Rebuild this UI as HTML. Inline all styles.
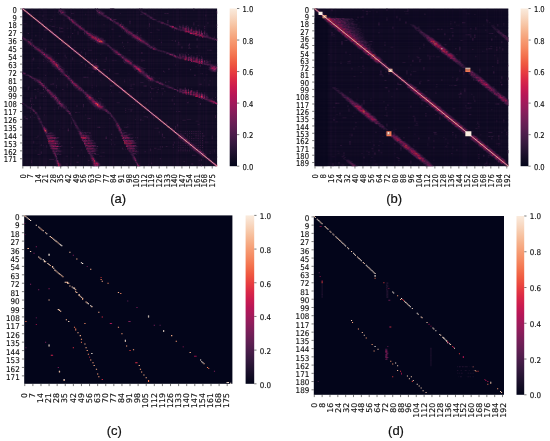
<!DOCTYPE html>
<html><head><meta charset="utf-8"><title>Attention heatmaps</title>
<style>html,body{margin:0;padding:0;background:#fff}svg{display:block}</style></head><body>
<svg width="550" height="441" viewBox="0 0 550 441">
<defs><linearGradient id="rk" x1="0" y1="0" x2="0" y2="1"><stop offset="0.000" stop-color="#faebdd"/><stop offset="0.050" stop-color="#f8d9c3"/><stop offset="0.100" stop-color="#f7c6a6"/><stop offset="0.150" stop-color="#f6b18b"/><stop offset="0.200" stop-color="#f69c73"/><stop offset="0.250" stop-color="#f58860"/><stop offset="0.300" stop-color="#f3714d"/><stop offset="0.350" stop-color="#ef5840"/><stop offset="0.400" stop-color="#e83f3f"/><stop offset="0.450" stop-color="#db2946"/><stop offset="0.500" stop-color="#cb1b4f"/><stop offset="0.550" stop-color="#b71657"/><stop offset="0.600" stop-color="#a11a5b"/><stop offset="0.650" stop-color="#8b1d5b"/><stop offset="0.700" stop-color="#751f58"/><stop offset="0.750" stop-color="#611f53"/><stop offset="0.800" stop-color="#4c1d4b"/><stop offset="0.850" stop-color="#381a40"/><stop offset="0.900" stop-color="#251433"/><stop offset="0.950" stop-color="#130d25"/><stop offset="1.000" stop-color="#03051a"/></linearGradient></defs>
<rect width="550" height="441" fill="#fff"/>
<g id="panel-a">
<rect x="22.30" y="8.50" width="194.80" height="157.70" fill="#130d25"/>
<path fill="#3a1b42" fill-opacity="0.13" d="M26.63 8.50h1.08v157.70h-1.08zM30.96 8.50h1.08v157.70h-1.08zM32.04 8.50h1.08v157.70h-1.08zM38.53 8.50h1.08v157.70h-1.08zM39.62 8.50h1.08v157.70h-1.08zM42.86 8.50h1.08v157.70h-1.08zM43.94 8.50h1.08v157.70h-1.08zM45.03 8.50h1.08v157.70h-1.08zM46.11 8.50h1.08v157.70h-1.08zM53.68 8.50h1.08v157.70h-1.08zM54.77 8.50h1.08v157.70h-1.08zM60.18 8.50h1.08v157.70h-1.08zM62.34 8.50h1.08v157.70h-1.08zM63.42 8.50h1.08v157.70h-1.08zM64.51 8.50h1.08v157.70h-1.08zM66.67 8.50h1.08v157.70h-1.08zM69.92 8.50h1.08v157.70h-1.08zM71.00 8.50h1.08v157.70h-1.08zM74.25 8.50h1.08v157.70h-1.08zM79.66 8.50h1.08v157.70h-1.08zM81.82 8.50h1.08v157.70h-1.08zM87.23 8.50h1.08v157.70h-1.08zM88.32 8.50h1.08v157.70h-1.08zM90.48 8.50h1.08v157.70h-1.08zM91.56 8.50h1.08v157.70h-1.08zM93.73 8.50h1.08v157.70h-1.08zM95.89 8.50h1.08v157.70h-1.08zM101.30 8.50h1.08v157.70h-1.08zM103.47 8.50h1.08v157.70h-1.08zM108.88 8.50h1.08v157.70h-1.08zM112.12 8.50h1.08v157.70h-1.08zM113.21 8.50h1.08v157.70h-1.08zM127.28 8.50h1.08v157.70h-1.08zM129.44 8.50h1.08v157.70h-1.08zM132.69 8.50h1.08v157.70h-1.08zM135.93 8.50h1.08v157.70h-1.08zM137.02 8.50h1.08v157.70h-1.08zM138.10 8.50h1.08v157.70h-1.08zM140.26 8.50h1.08v157.70h-1.08zM143.51 8.50h1.08v157.70h-1.08zM147.84 8.50h1.08v157.70h-1.08zM148.92 8.50h1.08v157.70h-1.08zM151.08 8.50h1.08v157.70h-1.08zM153.25 8.50h1.08v157.70h-1.08zM156.50 8.50h1.08v157.70h-1.08zM160.82 8.50h1.08v157.70h-1.08zM168.40 8.50h1.08v157.70h-1.08zM172.73 8.50h1.08v157.70h-1.08zM175.98 8.50h1.08v157.70h-1.08zM177.06 8.50h1.08v157.70h-1.08zM178.14 8.50h1.08v157.70h-1.08zM180.30 8.50h1.08v157.70h-1.08zM185.72 8.50h1.08v157.70h-1.08zM197.62 8.50h1.08v157.70h-1.08zM198.70 8.50h1.08v157.70h-1.08zM199.78 8.50h1.08v157.70h-1.08zM203.03 8.50h1.08v157.70h-1.08zM205.20 8.50h1.08v157.70h-1.08zM206.28 8.50h1.08v157.70h-1.08zM211.69 8.50h1.08v157.70h-1.08z"/>
<path fill="#03051a" fill-opacity="0.25" d="M22.30 10.25h194.80v0.88h-194.80zM22.30 12.88h194.80v0.88h-194.80zM22.30 16.38h194.80v0.88h-194.80zM22.30 19.89h194.80v0.88h-194.80zM22.30 21.64h194.80v0.88h-194.80zM22.30 23.39h194.80v0.88h-194.80zM22.30 27.77h194.80v0.88h-194.80zM22.30 29.53h194.80v0.88h-194.80zM22.30 31.28h194.80v0.88h-194.80zM22.30 33.03h194.80v0.88h-194.80zM22.30 33.91h194.80v0.88h-194.80zM22.30 35.66h194.80v0.88h-194.80zM22.30 37.41h194.80v0.88h-194.80zM22.30 38.29h194.80v0.88h-194.80zM22.30 40.92h194.80v0.88h-194.80zM22.30 41.79h194.80v0.88h-194.80zM22.30 46.17h194.80v0.88h-194.80zM22.30 48.80h194.80v0.88h-194.80zM22.30 50.55h194.80v0.88h-194.80zM22.30 51.43h194.80v0.88h-194.80zM22.30 54.06h194.80v0.88h-194.80zM22.30 54.93h194.80v0.88h-194.80zM22.30 56.69h194.80v0.88h-194.80zM22.30 57.56h194.80v0.88h-194.80zM22.30 61.94h194.80v0.88h-194.80zM22.30 64.57h194.80v0.88h-194.80zM22.30 66.32h194.80v0.88h-194.80zM22.30 67.20h194.80v0.88h-194.80zM22.30 68.95h194.80v0.88h-194.80zM22.30 69.83h194.80v0.88h-194.80zM22.30 71.58h194.80v0.88h-194.80zM22.30 72.46h194.80v0.88h-194.80zM22.30 73.33h194.80v0.88h-194.80zM22.30 75.08h194.80v0.88h-194.80zM22.30 75.96h194.80v0.88h-194.80zM22.30 86.47h194.80v0.88h-194.80zM22.30 87.35h194.80v0.88h-194.80zM22.30 88.23h194.80v0.88h-194.80zM22.30 89.10h194.80v0.88h-194.80zM22.30 90.85h194.80v0.88h-194.80zM22.30 96.99h194.80v0.88h-194.80zM22.30 97.86h194.80v0.88h-194.80zM22.30 102.24h194.80v0.88h-194.80zM22.30 105.75h194.80v0.88h-194.80zM22.30 110.13h194.80v0.88h-194.80zM22.30 112.76h194.80v0.88h-194.80zM22.30 113.63h194.80v0.88h-194.80zM22.30 120.64h194.80v0.88h-194.80zM22.30 124.15h194.80v0.88h-194.80zM22.30 128.53h194.80v0.88h-194.80zM22.30 136.41h194.80v0.88h-194.80zM22.30 139.92h194.80v0.88h-194.80zM22.30 144.30h194.80v0.88h-194.80zM22.30 145.17h194.80v0.88h-194.80zM22.30 147.80h194.80v0.88h-194.80zM22.30 153.93h194.80v0.88h-194.80zM22.30 154.81h194.80v0.88h-194.80zM22.30 156.56h194.80v0.88h-194.80z"/>
<path fill="#1b112b" d="M112.12 8.50h1.13v0.93h-1.13zM40.70 9.38h1.13v0.93h-1.13zM98.06 9.38h2.21v0.93h-2.21zM140.26 9.38h1.13v0.93h-1.13zM193.29 9.38h1.13v0.93h-1.13zM64.51 10.25h1.13v0.93h-1.13zM100.22 10.25h2.21v0.93h-2.21zM139.18 10.25h1.13v0.93h-1.13zM144.59 10.25h1.13v0.93h-1.13zM193.29 10.25h1.13v0.93h-1.13zM95.89 11.13h1.13v0.93h-1.13zM102.38 11.13h1.13v0.93h-1.13zM56.93 12.00h1.13v0.93h-1.13zM65.59 12.00h1.13v0.93h-1.13zM95.89 12.00h1.13v0.93h-1.13zM144.59 12.00h2.21v0.93h-2.21zM58.01 12.88h2.21v0.93h-2.21zM95.89 12.88h1.13v0.93h-1.13zM153.25 12.88h2.21v0.93h-2.21zM65.59 13.76h1.13v0.93h-1.13zM96.97 13.76h1.13v0.93h-1.13zM103.47 13.76h1.13v0.93h-1.13zM60.18 14.63h2.21v0.93h-2.21zM85.07 14.63h1.13v0.93h-1.13zM98.06 14.63h1.13v0.93h-1.13zM105.63 14.63h1.13v0.93h-1.13zM144.59 14.63h1.13v0.93h-1.13zM52.60 15.51h1.13v0.93h-1.13zM95.89 15.51h1.13v0.93h-1.13zM98.06 15.51h1.13v0.93h-1.13zM100.22 15.51h1.13v0.93h-1.13zM106.71 15.51h1.13v0.93h-1.13zM52.60 16.38h1.13v0.93h-1.13zM147.84 16.38h1.13v0.93h-1.13zM152.17 16.38h1.13v0.93h-1.13zM71.00 17.26h1.13v0.93h-1.13zM111.04 17.26h1.13v0.93h-1.13zM181.39 17.26h1.13v0.93h-1.13zM112.12 18.14h1.13v0.93h-1.13zM47.19 19.01h1.13v0.93h-1.13zM67.75 19.01h1.13v0.93h-1.13zM74.25 19.01h1.13v0.93h-1.13zM106.71 19.01h2.21v0.93h-2.21zM153.25 19.89h2.21v0.93h-2.21zM68.84 20.77h2.21v0.93h-2.21zM76.41 20.77h1.13v0.93h-1.13zM111.04 20.77h1.13v0.93h-1.13zM195.46 20.77h2.21v0.93h-2.21zM76.41 21.64h1.13v0.93h-1.13zM162.99 21.64h1.13v0.93h-1.13zM71.00 22.52h1.13v0.93h-1.13zM77.49 22.52h1.13v0.93h-1.13zM94.81 22.52h1.13v0.93h-1.13zM119.70 22.52h1.13v0.93h-1.13zM157.58 22.52h1.13v0.93h-1.13zM73.16 23.39h1.13v0.93h-1.13zM160.82 23.39h1.13v0.93h-1.13zM162.99 23.39h1.13v0.93h-1.13zM182.47 23.39h1.13v0.93h-1.13zM207.36 23.39h1.13v0.93h-1.13zM79.66 24.27h1.13v0.93h-1.13zM115.37 24.27h1.13v0.93h-1.13zM164.07 24.27h1.13v0.93h-1.13zM179.22 24.27h1.13v0.93h-1.13zM182.47 24.27h1.13v0.93h-1.13zM75.33 25.15h1.13v0.93h-1.13zM151.08 25.15h1.13v0.93h-1.13zM166.24 25.15h1.13v0.93h-1.13zM193.29 25.15h1.13v0.93h-1.13zM80.74 26.02h1.13v0.93h-1.13zM174.89 26.02h1.13v0.93h-1.13zM55.85 26.90h2.21v0.93h-2.21zM76.41 26.90h2.21v0.93h-2.21zM82.90 26.90h1.13v0.93h-1.13zM169.48 26.90h1.13v0.93h-1.13zM175.98 26.90h2.21v0.93h-2.21zM183.55 26.90h2.21v0.93h-2.21zM204.11 26.90h1.13v0.93h-1.13zM67.75 27.77h1.13v0.93h-1.13zM127.28 27.77h1.13v0.93h-1.13zM146.76 27.77h1.13v0.93h-1.13zM128.36 28.65h1.13v0.93h-1.13zM87.23 29.53h1.13v0.93h-1.13zM122.95 29.53h1.13v0.93h-1.13zM192.21 29.53h1.13v0.93h-1.13zM196.54 29.53h1.13v0.93h-1.13zM204.11 29.53h1.13v0.93h-1.13zM74.25 30.40h1.13v0.93h-1.13zM103.47 30.40h1.13v0.93h-1.13zM128.36 30.40h1.13v0.93h-1.13zM139.18 30.40h1.13v0.93h-1.13zM173.81 30.40h1.13v0.93h-1.13zM181.39 30.40h1.13v0.93h-1.13zM88.32 31.28h3.30v0.93h-3.30zM132.69 31.28h1.13v0.93h-1.13zM53.68 32.16h1.13v0.93h-1.13zM125.11 32.16h1.13v0.93h-1.13zM184.63 32.16h2.21v0.93h-2.21zM201.95 32.16h1.13v0.93h-1.13zM206.28 32.16h1.13v0.93h-1.13zM85.07 33.03h1.13v0.93h-1.13zM132.69 33.03h1.13v0.93h-1.13zM135.93 33.03h2.21v0.93h-2.21zM199.78 33.03h1.13v0.93h-1.13zM203.03 33.03h1.13v0.93h-1.13zM85.07 33.91h1.13v0.93h-1.13zM134.85 33.91h1.13v0.93h-1.13zM190.04 33.91h1.13v0.93h-1.13zM85.07 34.78h1.13v0.93h-1.13zM129.44 34.78h1.13v0.93h-1.13zM138.10 34.78h1.13v0.93h-1.13zM67.75 35.66h1.13v0.93h-1.13zM86.15 35.66h1.13v0.93h-1.13zM139.18 35.66h1.13v0.93h-1.13zM196.54 35.66h1.13v0.93h-1.13zM208.44 35.66h1.13v0.93h-1.13zM213.85 35.66h1.13v0.93h-1.13zM87.23 36.54h1.13v0.93h-1.13zM98.06 36.54h2.21v0.93h-2.21zM109.96 36.54h1.13v0.93h-1.13zM130.52 36.54h1.13v0.93h-1.13zM211.69 36.54h1.13v0.93h-1.13zM67.75 37.41h1.13v0.93h-1.13zM203.03 37.41h1.13v0.93h-1.13zM211.69 37.41h1.13v0.93h-1.13zM89.40 38.29h1.13v0.93h-1.13zM131.60 38.29h1.13v0.93h-1.13zM142.43 38.29h2.21v0.93h-2.21zM216.02 38.29h1.13v0.93h-1.13zM104.55 39.16h1.13v0.93h-1.13zM133.77 39.16h2.21v0.93h-2.21zM144.59 39.16h1.13v0.93h-1.13zM93.73 40.04h1.13v0.93h-1.13zM145.67 40.04h1.13v0.93h-1.13zM92.64 40.92h1.13v0.93h-1.13zM138.10 40.92h1.13v0.93h-1.13zM145.67 40.92h2.21v0.93h-2.21zM25.55 41.79h2.21v0.93h-2.21zM147.84 41.79h1.13v0.93h-1.13zM26.63 42.67h1.13v0.93h-1.13zM127.28 42.67h1.13v0.93h-1.13zM139.18 42.67h2.21v0.93h-2.21zM148.92 42.67h1.13v0.93h-1.13zM160.82 42.67h1.13v0.93h-1.13zM33.12 43.54h1.13v0.93h-1.13zM140.26 43.54h3.30v0.93h-3.30zM208.44 43.54h1.13v0.93h-1.13zM28.79 44.42h1.13v0.93h-1.13zM34.20 44.42h1.13v0.93h-1.13zM104.55 44.42h2.21v0.93h-2.21zM144.59 44.42h1.13v0.93h-1.13zM150.00 44.42h1.13v0.93h-1.13zM180.30 44.42h1.13v0.93h-1.13zM145.67 45.30h1.13v0.93h-1.13zM151.08 45.30h2.21v0.93h-2.21zM188.96 46.17h1.13v0.93h-1.13zM37.45 47.05h1.13v0.93h-1.13zM75.33 47.05h1.13v0.93h-1.13zM187.88 47.05h1.13v0.93h-1.13zM114.29 47.92h1.13v0.93h-1.13zM109.96 48.80h1.13v0.93h-1.13zM114.29 48.80h1.13v0.93h-1.13zM116.45 48.80h1.13v0.93h-1.13zM42.86 49.68h1.13v0.93h-1.13zM117.54 49.68h1.13v0.93h-1.13zM159.74 49.68h1.13v0.93h-1.13zM208.44 49.68h1.13v0.93h-1.13zM36.37 50.55h1.13v0.93h-1.13zM42.86 50.55h1.13v0.93h-1.13zM80.74 50.55h1.13v0.93h-1.13zM45.03 51.43h1.13v0.93h-1.13zM166.24 51.43h1.13v0.93h-1.13zM170.56 52.31h1.13v0.93h-1.13zM38.53 53.18h2.21v0.93h-2.21zM47.19 53.18h1.13v0.93h-1.13zM120.78 53.18h1.13v0.93h-1.13zM164.07 53.18h1.13v0.93h-1.13zM173.81 53.18h1.13v0.93h-1.13zM182.47 53.18h1.13v0.93h-1.13zM184.63 53.18h1.13v0.93h-1.13zM49.36 54.06h1.13v0.93h-1.13zM64.51 54.06h1.13v0.93h-1.13zM100.22 54.06h1.13v0.93h-1.13zM121.86 54.06h1.13v0.93h-1.13zM166.24 54.06h1.13v0.93h-1.13zM177.06 54.06h1.13v0.93h-1.13zM40.70 54.93h1.13v0.93h-1.13zM50.44 54.93h1.13v0.93h-1.13zM181.39 54.93h1.13v0.93h-1.13zM187.88 54.93h1.13v0.93h-1.13zM187.88 55.81h2.21v0.93h-2.21zM125.11 56.69h2.21v0.93h-2.21zM201.95 56.69h1.13v0.93h-1.13zM52.60 57.56h1.13v0.93h-1.13zM127.28 57.56h2.21v0.93h-2.21zM174.89 57.56h1.13v0.93h-1.13zM183.55 57.56h1.13v0.93h-1.13zM128.36 58.44h1.13v0.93h-1.13zM178.14 58.44h1.13v0.93h-1.13zM192.21 58.44h1.13v0.93h-1.13zM194.37 58.44h1.13v0.93h-1.13zM199.78 58.44h1.13v0.93h-1.13zM204.11 58.44h1.13v0.93h-1.13zM55.85 59.31h1.13v0.93h-1.13zM183.55 59.31h1.13v0.93h-1.13zM206.28 59.31h2.21v0.93h-2.21zM33.12 60.19h1.13v0.93h-1.13zM48.27 60.19h1.13v0.93h-1.13zM114.29 60.19h1.13v0.93h-1.13zM121.86 60.19h1.13v0.93h-1.13zM131.60 60.19h1.13v0.93h-1.13zM47.19 61.07h1.13v0.93h-1.13zM55.85 61.07h1.13v0.93h-1.13zM203.03 61.07h1.13v0.93h-1.13zM132.69 61.94h1.13v0.93h-1.13zM193.29 61.94h1.13v0.93h-1.13zM124.03 62.82h1.13v0.93h-1.13zM133.77 62.82h1.13v0.93h-1.13zM59.10 63.70h1.13v0.93h-1.13zM126.19 63.70h1.13v0.93h-1.13zM134.85 63.70h1.13v0.93h-1.13zM197.62 63.70h1.13v0.93h-1.13zM209.52 63.70h1.13v0.93h-1.13zM211.69 63.70h1.13v0.93h-1.13zM95.89 64.57h1.13v0.93h-1.13zM129.44 64.57h1.13v0.93h-1.13zM205.20 64.57h1.13v0.93h-1.13zM129.44 65.45h1.13v0.93h-1.13zM139.18 65.45h1.13v0.93h-1.13zM61.26 66.32h1.13v0.93h-1.13zM140.26 66.32h1.13v0.93h-1.13zM208.44 66.32h1.13v0.93h-1.13zM90.48 67.20h1.13v0.93h-1.13zM142.43 67.20h1.13v0.93h-1.13zM28.79 68.08h1.13v0.93h-1.13zM37.45 68.08h1.13v0.93h-1.13zM62.34 68.08h1.13v0.93h-1.13zM91.56 68.08h1.13v0.93h-1.13zM132.69 68.08h1.13v0.93h-1.13zM55.85 68.95h2.21v0.93h-2.21zM56.93 69.83h1.13v0.93h-1.13zM133.77 69.83h1.13v0.93h-1.13zM190.04 69.83h1.13v0.93h-1.13zM58.01 70.70h1.13v0.93h-1.13zM64.51 70.70h1.13v0.93h-1.13zM177.06 70.70h1.13v0.93h-1.13zM59.10 71.58h1.13v0.93h-1.13zM64.51 71.58h2.21v0.93h-2.21zM90.48 71.58h1.13v0.93h-1.13zM102.38 71.58h1.13v0.93h-1.13zM144.59 71.58h1.13v0.93h-1.13zM211.69 71.58h1.13v0.93h-1.13zM213.85 71.58h2.21v0.93h-2.21zM47.19 72.46h1.13v0.93h-1.13zM49.36 72.46h1.13v0.93h-1.13zM139.18 72.46h1.13v0.93h-1.13zM62.34 73.33h1.13v0.93h-1.13zM114.29 73.33h1.13v0.93h-1.13zM128.36 73.33h1.13v0.93h-1.13zM199.78 73.33h2.21v0.93h-2.21zM23.38 74.21h1.13v0.93h-1.13zM25.55 74.21h1.13v0.93h-1.13zM140.26 74.21h1.13v0.93h-1.13zM148.92 74.21h1.13v0.93h-1.13zM29.88 75.08h1.13v0.93h-1.13zM62.34 75.08h1.13v0.93h-1.13zM66.67 75.08h1.13v0.93h-1.13zM68.84 75.08h1.13v0.93h-1.13zM141.34 75.08h2.21v0.93h-2.21zM32.04 75.96h1.13v0.93h-1.13zM33.12 76.84h1.13v0.93h-1.13zM65.59 76.84h1.13v0.93h-1.13zM194.37 76.84h1.13v0.93h-1.13zM36.37 77.71h1.13v0.93h-1.13zM56.93 77.71h1.13v0.93h-1.13zM33.12 78.59h1.13v0.93h-1.13zM37.45 78.59h1.13v0.93h-1.13zM119.70 78.59h1.13v0.93h-1.13zM66.67 79.46h1.13v0.93h-1.13zM146.76 79.46h1.13v0.93h-1.13zM154.33 79.46h1.13v0.93h-1.13zM74.25 80.34h1.13v0.93h-1.13zM124.03 80.34h1.13v0.93h-1.13zM151.08 80.34h1.13v0.93h-1.13zM155.41 80.34h1.13v0.93h-1.13zM40.70 81.22h1.13v0.93h-1.13zM42.86 81.22h1.13v0.93h-1.13zM74.25 81.22h1.13v0.93h-1.13zM148.92 81.22h1.13v0.93h-1.13zM158.66 81.22h2.21v0.93h-2.21zM209.52 81.22h1.13v0.93h-1.13zM161.91 82.09h1.13v0.93h-1.13zM53.68 82.97h1.13v0.93h-1.13zM42.86 83.85h1.13v0.93h-1.13zM71.00 83.85h1.13v0.93h-1.13zM131.60 83.85h1.13v0.93h-1.13zM158.66 83.85h1.13v0.93h-1.13zM165.15 83.85h1.13v0.93h-1.13zM45.03 84.72h1.13v0.93h-1.13zM79.66 84.72h1.13v0.93h-1.13zM164.07 84.72h1.13v0.93h-1.13zM78.58 85.60h1.13v0.93h-1.13zM91.56 85.60h1.13v0.93h-1.13zM162.99 85.60h1.13v0.93h-1.13zM41.78 86.47h1.13v0.93h-1.13zM47.19 86.47h1.13v0.93h-1.13zM73.16 86.47h2.21v0.93h-2.21zM151.08 86.47h1.13v0.93h-1.13zM171.65 86.47h1.13v0.93h-1.13zM154.33 87.35h1.13v0.93h-1.13zM42.86 88.23h2.21v0.93h-2.21zM47.19 88.23h1.13v0.93h-1.13zM132.69 88.23h1.13v0.93h-1.13zM170.56 88.23h1.13v0.93h-1.13zM177.06 88.23h1.13v0.93h-1.13zM182.47 88.23h1.13v0.93h-1.13zM187.88 88.23h1.13v0.93h-1.13zM49.36 89.10h1.13v0.93h-1.13zM82.90 89.10h1.13v0.93h-1.13zM172.73 89.10h1.13v0.93h-1.13zM181.39 89.10h1.13v0.93h-1.13zM183.55 89.10h1.13v0.93h-1.13zM45.03 89.98h1.13v0.93h-1.13zM76.41 89.98h2.21v0.93h-2.21zM87.23 89.98h1.13v0.93h-1.13zM186.80 89.98h1.13v0.93h-1.13zM45.03 90.85h2.21v0.93h-2.21zM52.60 90.85h1.13v0.93h-1.13zM78.58 90.85h1.13v0.93h-1.13zM85.07 90.85h3.30v0.93h-3.30zM165.15 90.85h1.13v0.93h-1.13zM188.96 90.85h1.13v0.93h-1.13zM195.46 90.85h1.13v0.93h-1.13zM64.51 91.73h1.13v0.93h-1.13zM79.66 91.73h2.21v0.93h-2.21zM86.15 91.73h1.13v0.93h-1.13zM81.82 92.61h1.13v0.93h-1.13zM88.32 92.61h1.13v0.93h-1.13zM201.95 92.61h1.13v0.93h-1.13zM210.61 92.61h1.13v0.93h-1.13zM214.94 92.61h1.13v0.93h-1.13zM88.32 93.48h2.21v0.93h-2.21zM102.38 93.48h1.13v0.93h-1.13zM83.99 94.36h1.13v0.93h-1.13zM187.88 94.36h2.21v0.93h-2.21zM49.36 95.23h1.13v0.93h-1.13zM56.93 95.23h1.13v0.93h-1.13zM83.99 95.23h1.13v0.93h-1.13zM153.25 95.23h1.13v0.93h-1.13zM153.25 96.11h1.13v0.93h-1.13zM58.01 96.99h1.13v0.93h-1.13zM86.15 96.99h1.13v0.93h-1.13zM51.52 97.86h2.21v0.93h-2.21zM59.10 97.86h1.13v0.93h-1.13zM94.81 97.86h1.13v0.93h-1.13zM99.14 97.86h1.13v0.93h-1.13zM209.52 97.86h2.21v0.93h-2.21zM25.55 98.74h1.13v0.93h-1.13zM52.60 98.74h1.13v0.93h-1.13zM60.18 98.74h1.13v0.93h-1.13zM99.14 98.74h1.13v0.93h-1.13zM200.87 98.74h1.13v0.93h-1.13zM210.61 98.74h1.13v0.93h-1.13zM88.32 99.62h1.13v0.93h-1.13zM54.77 100.49h1.13v0.93h-1.13zM94.81 100.49h1.13v0.93h-1.13zM154.33 100.49h1.13v0.93h-1.13zM61.26 101.37h1.13v0.93h-1.13zM88.32 101.37h1.13v0.93h-1.13zM98.06 101.37h1.13v0.93h-1.13zM187.88 101.37h1.13v0.93h-1.13zM216.02 101.37h1.13v0.93h-1.13zM54.77 102.24h1.13v0.93h-1.13zM60.18 102.24h1.13v0.93h-1.13zM62.34 102.24h1.13v0.93h-1.13zM146.76 102.24h1.13v0.93h-1.13zM55.85 103.12h1.13v0.93h-1.13zM63.42 103.12h1.13v0.93h-1.13zM213.85 103.12h1.13v0.93h-1.13zM65.59 104.00h1.13v0.93h-1.13zM101.30 104.00h1.13v0.93h-1.13zM103.47 104.87h2.21v0.93h-2.21zM92.64 105.75h1.13v0.93h-1.13zM104.55 105.75h1.13v0.93h-1.13zM59.10 106.62h1.13v0.93h-1.13zM34.20 109.25h1.13v0.93h-1.13zM64.51 109.25h1.13v0.93h-1.13zM96.97 109.25h2.21v0.93h-2.21zM129.44 109.25h1.13v0.93h-1.13zM107.80 110.13h1.13v0.93h-1.13zM29.88 111.00h1.13v0.93h-1.13zM35.29 111.00h1.13v0.93h-1.13zM104.55 111.00h1.13v0.93h-1.13zM108.88 111.00h1.13v0.93h-1.13zM143.51 111.00h1.13v0.93h-1.13zM71.00 111.88h1.13v0.93h-1.13zM77.49 111.88h1.13v0.93h-1.13zM109.96 111.88h1.13v0.93h-1.13zM33.12 112.76h2.21v0.93h-2.21zM35.29 113.63h1.13v0.93h-1.13zM69.92 115.39h1.13v0.93h-1.13zM36.37 116.26h1.13v0.93h-1.13zM72.08 116.26h1.13v0.93h-1.13zM113.21 116.26h1.13v0.93h-1.13zM33.12 117.14h1.13v0.93h-1.13zM36.37 117.14h1.13v0.93h-1.13zM72.08 117.14h1.13v0.93h-1.13zM140.26 117.14h1.13v0.93h-1.13zM71.00 118.01h1.13v0.93h-1.13zM109.96 118.01h1.13v0.93h-1.13zM140.26 118.01h1.13v0.93h-1.13zM37.45 118.89h1.13v0.93h-1.13zM73.16 118.89h1.13v0.93h-1.13zM37.45 119.77h1.13v0.93h-1.13zM40.70 119.77h1.13v0.93h-1.13zM74.25 119.77h1.13v0.93h-1.13zM180.30 120.64h1.13v0.93h-1.13zM38.53 121.52h1.13v0.93h-1.13zM41.78 121.52h1.13v0.93h-1.13zM72.08 121.52h1.13v0.93h-1.13zM75.33 121.52h1.13v0.93h-1.13zM114.29 121.52h1.13v0.93h-1.13zM117.54 121.52h1.13v0.93h-1.13zM38.53 122.39h1.13v0.93h-1.13zM41.78 123.27h1.13v0.93h-1.13zM115.37 123.27h1.13v0.93h-1.13zM118.62 123.27h1.13v0.93h-1.13zM74.25 125.90h1.13v0.93h-1.13zM115.37 125.90h1.13v0.93h-1.13zM45.03 126.77h1.13v0.93h-1.13zM102.38 126.77h1.13v0.93h-1.13zM104.55 126.77h1.13v0.93h-1.13zM166.24 126.77h1.13v0.93h-1.13zM177.06 126.77h1.13v0.93h-1.13zM41.78 127.65h1.13v0.93h-1.13zM76.41 128.53h1.13v0.93h-1.13zM41.78 129.40h1.13v0.93h-1.13zM47.19 129.40h1.13v0.93h-1.13zM76.41 129.40h1.13v0.93h-1.13zM47.19 130.28h2.21v0.93h-2.21zM82.90 130.28h1.13v0.93h-1.13zM117.54 130.28h1.13v0.93h-1.13zM124.03 130.28h1.13v0.93h-1.13zM42.86 131.16h1.13v0.93h-1.13zM47.19 132.03h1.13v0.93h-1.13zM51.52 132.03h2.21v0.93h-2.21zM54.77 132.91h1.13v0.93h-1.13zM76.41 132.91h1.13v0.93h-1.13zM83.99 132.91h1.13v0.93h-1.13zM125.11 132.91h1.13v0.93h-1.13zM158.66 132.91h1.13v0.93h-1.13zM76.41 133.78h1.13v0.93h-1.13zM83.99 133.78h1.13v0.93h-1.13zM112.12 133.78h1.13v0.93h-1.13zM122.95 133.78h1.13v0.93h-1.13zM158.66 133.78h1.13v0.93h-1.13zM45.03 134.66h1.13v0.93h-1.13zM188.96 134.66h1.13v0.93h-1.13zM191.13 134.66h1.13v0.93h-1.13zM54.77 135.54h1.13v0.93h-1.13zM85.07 136.41h1.13v0.93h-1.13zM115.37 136.41h1.13v0.93h-1.13zM34.20 137.29h2.21v0.93h-2.21zM46.11 137.29h1.13v0.93h-1.13zM59.10 137.29h1.13v0.93h-1.13zM89.40 137.29h1.13v0.93h-1.13zM135.93 137.29h1.13v0.93h-1.13zM185.72 137.29h1.13v0.93h-1.13zM58.01 138.16h1.13v0.93h-1.13zM90.48 138.16h2.21v0.93h-2.21zM200.87 138.16h1.13v0.93h-1.13zM47.19 139.04h1.13v0.93h-1.13zM55.85 139.04h1.13v0.93h-1.13zM86.15 139.04h1.13v0.93h-1.13zM89.40 139.04h1.13v0.93h-1.13zM109.96 139.04h1.13v0.93h-1.13zM130.52 139.04h1.13v0.93h-1.13zM187.88 139.04h1.13v0.93h-1.13zM56.93 139.92h2.21v0.93h-2.21zM133.77 139.92h1.13v0.93h-1.13zM178.14 139.92h1.13v0.93h-1.13zM187.88 139.92h1.13v0.93h-1.13zM59.10 140.79h3.30v0.93h-3.30zM180.30 140.79h1.13v0.93h-1.13zM50.44 141.67h1.13v0.93h-1.13zM54.77 141.67h1.13v0.93h-1.13zM122.95 141.67h1.13v0.93h-1.13zM183.55 141.67h1.13v0.93h-1.13zM191.13 141.67h1.13v0.93h-1.13zM111.04 142.54h1.13v0.93h-1.13zM137.02 142.54h1.13v0.93h-1.13zM192.21 142.54h1.13v0.93h-1.13zM60.18 143.42h1.13v0.93h-1.13zM111.04 143.42h1.13v0.93h-1.13zM124.03 143.42h1.13v0.93h-1.13zM55.85 144.30h1.13v0.93h-1.13zM87.23 144.30h1.13v0.93h-1.13zM89.40 144.30h1.13v0.93h-1.13zM124.03 144.30h1.13v0.93h-1.13zM128.36 144.30h1.13v0.93h-1.13zM194.37 144.30h1.13v0.93h-1.13zM39.62 145.17h1.13v0.93h-1.13zM58.01 145.17h1.13v0.93h-1.13zM95.89 145.17h1.13v0.93h-1.13zM61.26 146.05h2.21v0.93h-2.21zM125.11 146.05h1.13v0.93h-1.13zM165.15 146.05h1.13v0.93h-1.13zM54.77 146.93h2.21v0.93h-2.21zM90.48 146.93h2.21v0.93h-2.21zM134.85 146.93h2.21v0.93h-2.21zM36.37 147.80h1.13v0.93h-1.13zM94.81 147.80h1.13v0.93h-1.13zM96.97 147.80h1.13v0.93h-1.13zM134.85 147.80h1.13v0.93h-1.13zM137.02 147.80h1.13v0.93h-1.13zM150.00 147.80h1.13v0.93h-1.13zM190.04 147.80h1.13v0.93h-1.13zM80.74 148.68h1.13v0.93h-1.13zM96.97 148.68h1.13v0.93h-1.13zM51.52 149.55h1.13v0.93h-1.13zM54.77 149.55h1.13v0.93h-1.13zM58.01 149.55h1.13v0.93h-1.13zM86.15 149.55h1.13v0.93h-1.13zM90.48 149.55h1.13v0.93h-1.13zM128.36 149.55h1.13v0.93h-1.13zM134.85 149.55h2.21v0.93h-2.21zM98.06 150.43h1.13v0.93h-1.13zM137.02 150.43h2.21v0.93h-2.21zM213.85 150.43h1.13v0.93h-1.13zM61.26 151.31h2.21v0.93h-2.21zM52.60 152.18h1.13v0.93h-1.13zM90.48 152.18h2.21v0.93h-2.21zM100.22 152.18h2.21v0.93h-2.21zM209.52 152.18h1.13v0.93h-1.13zM60.18 153.06h1.13v0.93h-1.13zM135.93 153.06h3.30v0.93h-3.30zM196.54 153.06h1.13v0.93h-1.13zM93.73 153.93h1.13v0.93h-1.13zM134.85 153.93h1.13v0.93h-1.13zM53.68 154.81h1.13v0.93h-1.13zM89.40 154.81h1.13v0.93h-1.13zM195.46 154.81h1.13v0.93h-1.13zM198.70 154.81h1.13v0.93h-1.13zM89.40 155.69h1.13v0.93h-1.13zM89.40 156.56h1.13v0.93h-1.13zM92.64 156.56h2.21v0.93h-2.21zM131.60 156.56h1.13v0.93h-1.13zM134.85 156.56h1.13v0.93h-1.13zM216.02 156.56h1.13v0.93h-1.13zM93.73 157.44h1.13v0.93h-1.13zM131.60 157.44h1.13v0.93h-1.13zM134.85 157.44h1.13v0.93h-1.13zM89.40 158.31h1.13v0.93h-1.13zM94.81 158.31h1.13v0.93h-1.13zM131.60 158.31h1.13v0.93h-1.13zM135.93 158.31h1.13v0.93h-1.13zM30.96 159.19h1.13v0.93h-1.13zM56.93 159.19h1.13v0.93h-1.13zM90.48 159.19h1.13v0.93h-1.13zM95.89 160.07h1.13v0.93h-1.13zM132.69 160.07h1.13v0.93h-1.13zM54.77 160.94h1.13v0.93h-1.13zM96.97 160.94h1.13v0.93h-1.13zM133.77 160.94h1.13v0.93h-1.13zM54.77 161.82h1.13v0.93h-1.13zM151.08 161.82h1.13v0.93h-1.13zM99.14 162.70h1.13v0.93h-1.13zM138.10 162.70h1.13v0.93h-1.13zM138.10 163.57h2.21v0.93h-2.21zM55.85 164.45h1.13v0.93h-1.13zM130.52 164.45h1.13v0.93h-1.13zM134.85 164.45h1.13v0.93h-1.13zM61.26 165.32h1.13v0.93h-1.13zM135.93 165.32h1.13v0.93h-1.13z"/>
<path fill="#281535" d="M60.18 8.50h1.13v0.93h-1.13zM94.81 8.50h1.13v0.93h-1.13zM96.97 8.50h1.13v0.93h-1.13zM111.04 8.50h1.13v0.93h-1.13zM113.21 8.50h1.13v0.93h-1.13zM139.18 8.50h1.13v0.93h-1.13zM141.34 8.50h1.13v0.93h-1.13zM193.29 8.50h1.13v0.93h-1.13zM41.78 9.38h1.13v0.93h-1.13zM58.01 9.38h1.13v0.93h-1.13zM61.26 9.38h3.30v0.93h-3.30zM95.89 9.38h1.13v0.93h-1.13zM139.18 9.38h1.13v0.93h-1.13zM58.01 10.25h1.13v0.93h-1.13zM62.34 10.25h2.21v0.93h-2.21zM141.34 10.25h1.13v0.93h-1.13zM58.01 11.13h1.13v0.93h-1.13zM61.26 11.13h1.13v0.93h-1.13zM64.51 11.13h1.13v0.93h-1.13zM101.30 11.13h1.13v0.93h-1.13zM140.26 11.13h1.13v0.93h-1.13zM58.01 12.00h1.13v0.93h-1.13zM96.97 12.00h1.13v0.93h-1.13zM102.38 12.00h2.21v0.93h-2.21zM143.51 12.00h1.13v0.93h-1.13zM216.02 12.00h1.13v0.93h-1.13zM64.51 12.88h1.13v0.93h-1.13zM72.08 12.88h2.21v0.93h-2.21zM96.97 12.88h1.13v0.93h-1.13zM119.70 12.88h1.13v0.93h-1.13zM142.43 12.88h1.13v0.93h-1.13zM145.67 12.88h1.13v0.93h-1.13zM164.07 12.88h1.13v0.93h-1.13zM166.24 12.88h1.13v0.93h-1.13zM216.02 12.88h1.13v0.93h-1.13zM59.10 13.76h4.38v0.93h-4.38zM85.07 13.76h1.13v0.93h-1.13zM98.06 13.76h3.30v0.93h-3.30zM142.43 13.76h1.13v0.93h-1.13zM146.76 13.76h1.13v0.93h-1.13zM62.34 14.63h1.13v0.93h-1.13zM100.22 14.63h2.21v0.93h-2.21zM147.84 14.63h1.13v0.93h-1.13zM32.04 15.51h1.13v0.93h-1.13zM41.78 15.51h2.21v0.93h-2.21zM102.38 15.51h1.13v0.93h-1.13zM205.20 15.51h1.13v0.93h-1.13zM33.12 16.38h1.13v0.93h-1.13zM68.84 16.38h1.13v0.93h-1.13zM103.47 16.38h1.13v0.93h-1.13zM151.08 16.38h1.13v0.93h-1.13zM66.67 17.26h1.13v0.93h-1.13zM69.92 17.26h1.13v0.93h-1.13zM148.92 17.26h1.13v0.93h-1.13zM152.17 17.26h1.13v0.93h-1.13zM66.67 18.14h1.13v0.93h-1.13zM71.00 18.14h1.13v0.93h-1.13zM106.71 18.14h1.13v0.93h-1.13zM111.04 18.14h1.13v0.93h-1.13zM150.00 18.14h1.13v0.93h-1.13zM153.25 18.14h1.13v0.93h-1.13zM50.44 19.01h1.13v0.93h-1.13zM73.16 19.01h1.13v0.93h-1.13zM155.41 19.01h1.13v0.93h-1.13zM41.78 19.89h1.13v0.93h-1.13zM63.42 19.89h1.13v0.93h-1.13zM68.84 19.89h1.13v0.93h-1.13zM73.16 19.89h2.21v0.93h-2.21zM155.41 19.89h1.13v0.93h-1.13zM41.78 20.77h1.13v0.93h-1.13zM50.44 20.77h1.13v0.93h-1.13zM74.25 20.77h2.21v0.93h-2.21zM156.50 20.77h1.13v0.93h-1.13zM159.74 20.77h1.13v0.93h-1.13zM69.92 21.64h2.21v0.93h-2.21zM75.33 21.64h1.13v0.93h-1.13zM116.45 21.64h2.21v0.93h-2.21zM129.44 21.64h1.13v0.93h-1.13zM157.58 21.64h2.21v0.93h-2.21zM72.08 22.52h1.13v0.93h-1.13zM113.21 22.52h2.21v0.93h-2.21zM120.78 22.52h1.13v0.93h-1.13zM159.74 22.52h1.13v0.93h-1.13zM23.38 23.39h1.13v0.93h-1.13zM25.55 23.39h1.13v0.93h-1.13zM39.62 23.39h1.13v0.93h-1.13zM72.08 23.39h1.13v0.93h-1.13zM77.49 23.39h1.13v0.93h-1.13zM120.78 23.39h1.13v0.93h-1.13zM129.44 23.39h1.13v0.93h-1.13zM161.91 23.39h1.13v0.93h-1.13zM166.24 23.39h1.13v0.93h-1.13zM193.29 23.39h1.13v0.93h-1.13zM103.47 24.27h1.13v0.93h-1.13zM118.62 24.27h1.13v0.93h-1.13zM121.86 24.27h2.21v0.93h-2.21zM165.15 24.27h1.13v0.93h-1.13zM168.40 24.27h1.13v0.93h-1.13zM216.02 24.27h1.13v0.93h-1.13zM49.36 25.15h1.13v0.93h-1.13zM74.25 25.15h1.13v0.93h-1.13zM79.66 25.15h2.21v0.93h-2.21zM117.54 25.15h1.13v0.93h-1.13zM122.95 25.15h1.13v0.93h-1.13zM148.92 25.15h1.13v0.93h-1.13zM167.32 25.15h1.13v0.93h-1.13zM171.65 25.15h1.13v0.93h-1.13zM179.22 25.15h1.13v0.93h-1.13zM185.72 25.15h2.21v0.93h-2.21zM216.02 25.15h1.13v0.93h-1.13zM46.11 26.02h1.13v0.93h-1.13zM51.52 26.02h3.30v0.93h-3.30zM76.41 26.02h1.13v0.93h-1.13zM118.62 26.02h1.13v0.93h-1.13zM124.03 26.02h1.13v0.93h-1.13zM148.92 26.02h1.13v0.93h-1.13zM180.30 26.02h1.13v0.93h-1.13zM184.63 26.02h1.13v0.93h-1.13zM187.88 26.02h1.13v0.93h-1.13zM59.10 26.90h1.13v0.93h-1.13zM119.70 26.90h1.13v0.93h-1.13zM125.11 26.90h2.21v0.93h-2.21zM170.56 26.90h1.13v0.93h-1.13zM186.80 26.90h1.13v0.93h-1.13zM195.46 26.90h1.13v0.93h-1.13zM216.02 26.90h1.13v0.93h-1.13zM59.10 27.77h2.21v0.93h-2.21zM62.34 27.77h1.13v0.93h-1.13zM66.67 27.77h1.13v0.93h-1.13zM69.92 27.77h1.13v0.93h-1.13zM82.90 27.77h2.21v0.93h-2.21zM120.78 27.77h1.13v0.93h-1.13zM126.19 27.77h1.13v0.93h-1.13zM180.30 27.77h1.13v0.93h-1.13zM186.80 27.77h1.13v0.93h-1.13zM188.96 27.77h1.13v0.93h-1.13zM195.46 27.77h1.13v0.93h-1.13zM78.58 28.65h1.13v0.93h-1.13zM111.04 28.65h1.13v0.93h-1.13zM113.21 28.65h1.13v0.93h-1.13zM120.78 28.65h2.21v0.93h-2.21zM156.50 28.65h1.13v0.93h-1.13zM173.81 28.65h2.21v0.93h-2.21zM181.39 28.65h1.13v0.93h-1.13zM183.55 28.65h1.13v0.93h-1.13zM195.46 28.65h1.13v0.93h-1.13zM198.70 28.65h1.13v0.93h-1.13zM59.10 29.53h1.13v0.93h-1.13zM74.25 29.53h1.13v0.93h-1.13zM79.66 29.53h2.21v0.93h-2.21zM128.36 29.53h1.13v0.93h-1.13zM157.58 29.53h2.21v0.93h-2.21zM186.80 29.53h1.13v0.93h-1.13zM48.27 30.40h1.13v0.93h-1.13zM82.90 30.40h1.13v0.93h-1.13zM87.23 30.40h1.13v0.93h-1.13zM102.38 30.40h1.13v0.93h-1.13zM104.55 30.40h1.13v0.93h-1.13zM121.86 30.40h1.13v0.93h-1.13zM124.03 30.40h1.13v0.93h-1.13zM129.44 30.40h1.13v0.93h-1.13zM194.37 30.40h1.13v0.93h-1.13zM197.62 30.40h1.13v0.93h-1.13zM59.10 31.28h4.38v0.93h-4.38zM77.49 31.28h1.13v0.93h-1.13zM124.03 31.28h1.13v0.93h-1.13zM130.52 31.28h2.21v0.93h-2.21zM197.62 31.28h1.13v0.93h-1.13zM77.49 32.16h1.13v0.93h-1.13zM82.90 32.16h1.13v0.93h-1.13zM88.32 32.16h3.30v0.93h-3.30zM131.60 32.16h2.21v0.93h-2.21zM150.00 32.16h2.21v0.93h-2.21zM199.78 32.16h1.13v0.93h-1.13zM203.03 32.16h1.13v0.93h-1.13zM77.49 33.03h1.13v0.93h-1.13zM90.48 33.03h1.13v0.93h-1.13zM126.19 33.03h2.21v0.93h-2.21zM188.96 33.03h1.13v0.93h-1.13zM197.62 33.03h1.13v0.93h-1.13zM77.49 33.91h1.13v0.93h-1.13zM83.99 33.91h1.13v0.93h-1.13zM86.15 33.91h1.13v0.93h-1.13zM91.56 33.91h1.13v0.93h-1.13zM93.73 33.91h1.13v0.93h-1.13zM127.28 33.91h2.21v0.93h-2.21zM135.93 33.91h2.21v0.93h-2.21zM191.13 33.91h1.13v0.93h-1.13zM205.20 33.91h1.13v0.93h-1.13zM35.29 34.78h1.13v0.93h-1.13zM86.15 34.78h1.13v0.93h-1.13zM92.64 34.78h1.13v0.93h-1.13zM94.81 34.78h2.21v0.93h-2.21zM128.36 34.78h1.13v0.93h-1.13zM137.02 34.78h1.13v0.93h-1.13zM205.20 34.78h1.13v0.93h-1.13zM35.29 35.66h1.13v0.93h-1.13zM87.23 35.66h1.13v0.93h-1.13zM96.97 35.66h2.21v0.93h-2.21zM130.52 35.66h2.21v0.93h-2.21zM67.75 36.54h1.13v0.93h-1.13zM69.92 36.54h1.13v0.93h-1.13zM88.32 36.54h2.21v0.93h-2.21zM138.10 36.54h3.30v0.93h-3.30zM199.78 36.54h1.13v0.93h-1.13zM208.44 36.54h2.21v0.93h-2.21zM213.85 36.54h1.13v0.93h-1.13zM88.32 37.41h2.21v0.93h-2.21zM99.14 37.41h3.30v0.93h-3.30zM131.60 37.41h1.13v0.93h-1.13zM141.34 37.41h1.13v0.93h-1.13zM206.28 37.41h1.13v0.93h-1.13zM212.77 37.41h2.21v0.93h-2.21zM22.30 38.29h1.13v0.93h-1.13zM41.78 38.29h1.13v0.93h-1.13zM101.30 38.29h1.13v0.93h-1.13zM133.77 38.29h1.13v0.93h-1.13zM208.44 38.29h1.13v0.93h-1.13zM213.85 38.29h2.21v0.93h-2.21zM23.38 39.16h1.13v0.93h-1.13zM26.63 39.16h2.21v0.93h-2.21zM29.88 39.16h1.13v0.93h-1.13zM41.78 39.16h1.13v0.93h-1.13zM91.56 39.16h1.13v0.93h-1.13zM135.93 39.16h1.13v0.93h-1.13zM143.51 39.16h1.13v0.93h-1.13zM158.66 39.16h1.13v0.93h-1.13zM211.69 39.16h1.13v0.93h-1.13zM26.63 40.04h2.21v0.93h-2.21zM29.88 40.04h2.21v0.93h-2.21zM60.18 40.04h1.13v0.93h-1.13zM92.64 40.04h1.13v0.93h-1.13zM104.55 40.04h1.13v0.93h-1.13zM135.93 40.04h1.13v0.93h-1.13zM144.59 40.04h1.13v0.93h-1.13zM171.65 40.04h1.13v0.93h-1.13zM174.89 40.04h1.13v0.93h-1.13zM196.54 40.04h1.13v0.93h-1.13zM213.85 40.04h1.13v0.93h-1.13zM25.55 40.92h2.21v0.93h-2.21zM29.88 40.92h1.13v0.93h-1.13zM63.42 40.92h1.13v0.93h-1.13zM94.81 40.92h1.13v0.93h-1.13zM104.55 40.92h1.13v0.93h-1.13zM137.02 40.92h1.13v0.93h-1.13zM30.96 41.79h2.21v0.93h-2.21zM104.55 41.79h1.13v0.93h-1.13zM121.86 41.79h1.13v0.93h-1.13zM138.10 41.79h1.13v0.93h-1.13zM145.67 41.79h2.21v0.93h-2.21zM62.34 42.67h1.13v0.93h-1.13zM121.86 42.67h1.13v0.93h-1.13zM141.34 42.67h1.13v0.93h-1.13zM28.79 43.54h1.13v0.93h-1.13zM32.04 43.54h1.13v0.93h-1.13zM61.26 43.54h1.13v0.93h-1.13zM98.06 43.54h1.13v0.93h-1.13zM107.80 43.54h1.13v0.93h-1.13zM143.51 43.54h1.13v0.93h-1.13zM178.14 43.54h1.13v0.93h-1.13zM65.59 44.42h1.13v0.93h-1.13zM99.14 44.42h1.13v0.93h-1.13zM101.30 44.42h2.21v0.93h-2.21zM107.80 44.42h1.13v0.93h-1.13zM177.06 44.42h1.13v0.93h-1.13zM179.22 44.42h1.13v0.93h-1.13zM187.88 44.42h1.13v0.93h-1.13zM28.79 45.30h1.13v0.93h-1.13zM34.20 45.30h1.13v0.93h-1.13zM104.55 45.30h1.13v0.93h-1.13zM150.00 45.30h1.13v0.93h-1.13zM153.25 45.30h1.13v0.93h-1.13zM187.88 45.30h2.21v0.93h-2.21zM196.54 45.30h1.13v0.93h-1.13zM32.04 46.17h1.13v0.93h-1.13zM36.37 46.17h2.21v0.93h-2.21zM107.80 46.17h1.13v0.93h-1.13zM146.76 46.17h1.13v0.93h-1.13zM152.17 46.17h2.21v0.93h-2.21zM181.39 46.17h1.13v0.93h-1.13zM196.54 46.17h1.13v0.93h-1.13zM38.53 47.05h1.13v0.93h-1.13zM65.59 47.05h1.13v0.93h-1.13zM74.25 47.05h1.13v0.93h-1.13zM153.25 47.05h1.13v0.93h-1.13zM188.96 47.05h1.13v0.93h-1.13zM196.54 47.05h1.13v0.93h-1.13zM33.12 47.92h1.13v0.93h-1.13zM45.03 47.92h1.13v0.93h-1.13zM112.12 47.92h2.21v0.93h-2.21zM124.03 47.92h1.13v0.93h-1.13zM181.39 47.92h1.13v0.93h-1.13zM187.88 47.92h3.30v0.93h-3.30zM34.20 48.80h1.13v0.93h-1.13zM39.62 48.80h3.30v0.93h-3.30zM45.03 48.80h1.13v0.93h-1.13zM83.99 48.80h1.13v0.93h-1.13zM152.17 48.80h1.13v0.93h-1.13zM35.29 49.68h1.13v0.93h-1.13zM40.70 49.68h2.21v0.93h-2.21zM45.03 49.68h1.13v0.93h-1.13zM72.08 49.68h1.13v0.93h-1.13zM89.40 49.68h1.13v0.93h-1.13zM111.04 49.68h1.13v0.93h-1.13zM115.37 49.68h2.21v0.93h-2.21zM128.36 49.68h2.21v0.93h-2.21zM154.33 49.68h3.30v0.93h-3.30zM37.45 50.55h1.13v0.93h-1.13zM112.12 50.55h1.13v0.93h-1.13zM157.58 50.55h2.21v0.93h-2.21zM161.91 50.55h2.21v0.93h-2.21zM37.45 51.43h1.13v0.93h-1.13zM42.86 51.43h2.21v0.93h-2.21zM80.74 51.43h1.13v0.93h-1.13zM117.54 51.43h2.21v0.93h-2.21zM160.82 51.43h1.13v0.93h-1.13zM45.03 52.31h1.13v0.93h-1.13zM80.74 52.31h1.13v0.93h-1.13zM85.07 52.31h1.13v0.93h-1.13zM113.21 52.31h2.21v0.93h-2.21zM164.07 52.31h2.21v0.93h-2.21zM168.40 52.31h1.13v0.93h-1.13zM185.72 52.31h1.13v0.93h-1.13zM45.03 53.18h2.21v0.93h-2.21zM85.07 53.18h1.13v0.93h-1.13zM114.29 53.18h1.13v0.93h-1.13zM119.70 53.18h1.13v0.93h-1.13zM170.56 53.18h3.30v0.93h-3.30zM179.22 53.18h1.13v0.93h-1.13zM181.39 53.18h1.13v0.93h-1.13zM195.46 53.18h1.13v0.93h-1.13zM40.70 54.06h2.21v0.93h-2.21zM48.27 54.06h1.13v0.93h-1.13zM85.07 54.06h1.13v0.93h-1.13zM115.37 54.06h2.21v0.93h-2.21zM168.40 54.06h1.13v0.93h-1.13zM173.81 54.06h1.13v0.93h-1.13zM180.30 54.06h1.13v0.93h-1.13zM41.78 54.93h2.21v0.93h-2.21zM48.27 54.93h2.21v0.93h-2.21zM64.51 54.93h1.13v0.93h-1.13zM117.54 54.93h1.13v0.93h-1.13zM121.86 54.93h2.21v0.93h-2.21zM169.48 54.93h1.13v0.93h-1.13zM180.30 54.93h1.13v0.93h-1.13zM185.72 54.93h1.13v0.93h-1.13zM191.13 54.93h1.13v0.93h-1.13zM196.54 54.93h1.13v0.93h-1.13zM198.70 54.93h1.13v0.93h-1.13zM42.86 55.81h2.21v0.93h-2.21zM51.52 55.81h1.13v0.93h-1.13zM64.51 55.81h1.13v0.93h-1.13zM85.07 55.81h1.13v0.93h-1.13zM118.62 55.81h2.21v0.93h-2.21zM124.03 55.81h2.21v0.93h-2.21zM190.04 55.81h1.13v0.93h-1.13zM193.29 55.81h1.13v0.93h-1.13zM196.54 55.81h1.13v0.93h-1.13zM200.87 55.81h1.13v0.93h-1.13zM50.44 56.69h1.13v0.93h-1.13zM65.59 56.69h1.13v0.93h-1.13zM105.63 56.69h1.13v0.93h-1.13zM119.70 56.69h1.13v0.93h-1.13zM173.81 56.69h1.13v0.93h-1.13zM181.39 56.69h1.13v0.93h-1.13zM183.55 56.69h1.13v0.93h-1.13zM190.04 56.69h1.13v0.93h-1.13zM33.12 57.56h1.13v0.93h-1.13zM53.68 57.56h1.13v0.93h-1.13zM65.59 57.56h1.13v0.93h-1.13zM81.82 57.56h1.13v0.93h-1.13zM120.78 57.56h1.13v0.93h-1.13zM126.19 57.56h1.13v0.93h-1.13zM175.98 57.56h2.21v0.93h-2.21zM182.47 57.56h1.13v0.93h-1.13zM192.21 57.56h1.13v0.93h-1.13zM200.87 57.56h2.21v0.93h-2.21zM72.08 58.44h1.13v0.93h-1.13zM105.63 58.44h1.13v0.93h-1.13zM127.28 58.44h1.13v0.93h-1.13zM129.44 58.44h1.13v0.93h-1.13zM186.80 58.44h1.13v0.93h-1.13zM201.95 58.44h1.13v0.93h-1.13zM32.04 59.31h2.21v0.93h-2.21zM42.86 59.31h1.13v0.93h-1.13zM46.11 59.31h1.13v0.93h-1.13zM53.68 59.31h1.13v0.93h-1.13zM72.08 59.31h1.13v0.93h-1.13zM91.56 59.31h1.13v0.93h-1.13zM105.63 59.31h1.13v0.93h-1.13zM122.95 59.31h1.13v0.93h-1.13zM129.44 59.31h1.13v0.93h-1.13zM141.34 59.31h1.13v0.93h-1.13zM192.21 59.31h1.13v0.93h-1.13zM194.37 59.31h1.13v0.93h-1.13zM197.62 59.31h1.13v0.93h-1.13zM199.78 59.31h1.13v0.93h-1.13zM49.36 60.19h1.13v0.93h-1.13zM54.77 60.19h2.21v0.93h-2.21zM91.56 60.19h1.13v0.93h-1.13zM112.12 60.19h2.21v0.93h-2.21zM115.37 60.19h1.13v0.93h-1.13zM142.43 60.19h1.13v0.93h-1.13zM186.80 60.19h1.13v0.93h-1.13zM192.21 60.19h1.13v0.93h-1.13zM197.62 60.19h1.13v0.93h-1.13zM209.52 60.19h1.13v0.93h-1.13zM42.86 61.07h1.13v0.93h-1.13zM48.27 61.07h1.13v0.93h-1.13zM91.56 61.07h1.13v0.93h-1.13zM104.55 61.07h1.13v0.93h-1.13zM122.95 61.07h2.21v0.93h-2.21zM130.52 61.07h1.13v0.93h-1.13zM141.34 61.07h1.13v0.93h-1.13zM47.19 61.94h1.13v0.93h-1.13zM49.36 61.94h2.21v0.93h-2.21zM81.82 61.94h1.13v0.93h-1.13zM91.56 61.94h1.13v0.93h-1.13zM131.60 61.94h1.13v0.93h-1.13zM190.04 61.94h1.13v0.93h-1.13zM192.21 61.94h1.13v0.93h-1.13zM203.03 61.94h1.13v0.93h-1.13zM205.20 61.94h1.13v0.93h-1.13zM209.52 61.94h1.13v0.93h-1.13zM56.93 62.82h2.21v0.93h-2.21zM90.48 62.82h1.13v0.93h-1.13zM94.81 62.82h1.13v0.93h-1.13zM125.11 62.82h2.21v0.93h-2.21zM207.36 62.82h1.13v0.93h-1.13zM51.52 63.70h1.13v0.93h-1.13zM92.64 63.70h1.13v0.93h-1.13zM128.36 63.70h1.13v0.93h-1.13zM133.77 63.70h1.13v0.93h-1.13zM203.03 63.70h1.13v0.93h-1.13zM210.61 63.70h1.13v0.93h-1.13zM216.02 63.70h1.13v0.93h-1.13zM51.52 64.57h1.13v0.93h-1.13zM59.10 64.57h1.13v0.93h-1.13zM90.48 64.57h1.13v0.93h-1.13zM93.73 64.57h1.13v0.93h-1.13zM134.85 64.57h3.30v0.93h-3.30zM174.89 64.57h1.13v0.93h-1.13zM197.62 64.57h1.13v0.93h-1.13zM199.78 64.57h1.13v0.93h-1.13zM206.28 64.57h1.13v0.93h-1.13zM212.77 64.57h3.30v0.93h-3.30zM51.52 65.45h2.21v0.93h-2.21zM60.18 65.45h1.13v0.93h-1.13zM98.06 65.45h1.13v0.93h-1.13zM130.52 65.45h1.13v0.93h-1.13zM135.93 65.45h3.30v0.93h-3.30zM213.85 65.45h3.30v0.93h-3.30zM52.60 66.32h1.13v0.93h-1.13zM98.06 66.32h1.13v0.93h-1.13zM195.46 66.32h1.13v0.93h-1.13zM209.52 66.32h1.13v0.93h-1.13zM37.45 67.20h1.13v0.93h-1.13zM54.77 67.20h1.13v0.93h-1.13zM60.18 67.20h3.30v0.93h-3.30zM88.32 67.20h2.21v0.93h-2.21zM208.44 67.20h1.13v0.93h-1.13zM54.77 68.08h2.21v0.93h-2.21zM63.42 68.08h1.13v0.93h-1.13zM141.34 68.08h2.21v0.93h-2.21zM144.59 68.08h1.13v0.93h-1.13zM168.40 68.08h1.13v0.93h-1.13zM63.42 68.95h1.13v0.93h-1.13zM92.64 68.95h1.13v0.93h-1.13zM104.55 68.95h1.13v0.93h-1.13zM133.77 68.95h2.21v0.93h-2.21zM142.43 68.95h1.13v0.93h-1.13zM208.44 68.95h1.13v0.93h-1.13zM58.01 69.83h1.13v0.93h-1.13zM63.42 69.83h1.13v0.93h-1.13zM94.81 69.83h1.13v0.93h-1.13zM96.97 69.83h1.13v0.93h-1.13zM134.85 69.83h1.13v0.93h-1.13zM137.02 69.83h1.13v0.93h-1.13zM209.52 69.83h1.13v0.93h-1.13zM59.10 70.70h1.13v0.93h-1.13zM63.42 70.70h1.13v0.93h-1.13zM65.59 70.70h1.13v0.93h-1.13zM108.88 70.70h1.13v0.93h-1.13zM210.61 70.70h1.13v0.93h-1.13zM216.02 70.70h1.13v0.93h-1.13zM22.30 71.58h1.13v0.93h-1.13zM66.67 71.58h1.13v0.93h-1.13zM91.56 71.58h2.21v0.93h-2.21zM137.02 71.58h2.21v0.93h-2.21zM164.07 71.58h1.13v0.93h-1.13zM24.46 72.46h1.13v0.93h-1.13zM64.51 72.46h1.13v0.93h-1.13zM98.06 72.46h1.13v0.93h-1.13zM138.10 72.46h1.13v0.93h-1.13zM144.59 72.46h1.13v0.93h-1.13zM154.33 72.46h1.13v0.93h-1.13zM22.30 73.33h1.13v0.93h-1.13zM61.26 73.33h1.13v0.93h-1.13zM64.51 73.33h1.13v0.93h-1.13zM66.67 73.33h1.13v0.93h-1.13zM115.37 73.33h3.30v0.93h-3.30zM139.18 73.33h2.21v0.93h-2.21zM146.76 73.33h1.13v0.93h-1.13zM201.95 73.33h1.13v0.93h-1.13zM24.46 74.21h1.13v0.93h-1.13zM27.71 74.21h1.13v0.93h-1.13zM65.59 74.21h2.21v0.93h-2.21zM99.14 74.21h2.21v0.93h-2.21zM106.71 74.21h1.13v0.93h-1.13zM141.34 74.21h1.13v0.93h-1.13zM194.37 74.21h1.13v0.93h-1.13zM206.28 74.21h1.13v0.93h-1.13zM25.55 75.08h2.21v0.93h-2.21zM45.03 75.08h1.13v0.93h-1.13zM63.42 75.08h1.13v0.93h-1.13zM67.75 75.08h1.13v0.93h-1.13zM30.96 75.96h1.13v0.93h-1.13zM68.84 75.96h1.13v0.93h-1.13zM143.51 75.96h2.21v0.93h-2.21zM148.92 75.96h1.13v0.93h-1.13zM151.08 75.96h1.13v0.93h-1.13zM28.79 76.84h1.13v0.93h-1.13zM64.51 76.84h1.13v0.93h-1.13zM68.84 76.84h1.13v0.93h-1.13zM82.90 76.84h1.13v0.93h-1.13zM86.15 76.84h1.13v0.93h-1.13zM107.80 76.84h1.13v0.93h-1.13zM144.59 76.84h1.13v0.93h-1.13zM152.17 76.84h2.21v0.93h-2.21zM30.96 77.71h1.13v0.93h-1.13zM35.29 77.71h1.13v0.93h-1.13zM66.67 77.71h1.13v0.93h-1.13zM106.71 77.71h1.13v0.93h-1.13zM152.17 77.71h1.13v0.93h-1.13zM154.33 77.71h1.13v0.93h-1.13zM158.66 77.71h1.13v0.93h-1.13zM36.37 78.59h1.13v0.93h-1.13zM56.93 78.59h1.13v0.93h-1.13zM66.67 78.59h1.13v0.93h-1.13zM71.00 78.59h1.13v0.93h-1.13zM145.67 78.59h3.30v0.93h-3.30zM33.12 79.46h1.13v0.93h-1.13zM39.62 79.46h1.13v0.93h-1.13zM67.75 79.46h1.13v0.93h-1.13zM72.08 79.46h1.13v0.93h-1.13zM100.22 79.46h1.13v0.93h-1.13zM111.04 79.46h1.13v0.93h-1.13zM124.03 79.46h1.13v0.93h-1.13zM129.44 79.46h1.13v0.93h-1.13zM148.92 79.46h1.13v0.93h-1.13zM204.11 79.46h1.13v0.93h-1.13zM34.20 80.34h2.21v0.93h-2.21zM39.62 80.34h2.21v0.93h-2.21zM68.84 80.34h1.13v0.93h-1.13zM73.16 80.34h1.13v0.93h-1.13zM147.84 80.34h2.21v0.93h-2.21zM152.17 80.34h1.13v0.93h-1.13zM154.33 80.34h1.13v0.93h-1.13zM156.50 80.34h1.13v0.93h-1.13zM209.52 80.34h1.13v0.93h-1.13zM36.37 81.22h1.13v0.93h-1.13zM114.29 81.22h1.13v0.93h-1.13zM151.08 81.22h2.21v0.93h-2.21zM154.33 81.22h1.13v0.93h-1.13zM165.15 81.22h1.13v0.93h-1.13zM69.92 82.09h1.13v0.93h-1.13zM112.12 82.09h1.13v0.93h-1.13zM140.26 82.09h3.30v0.93h-3.30zM160.82 82.09h1.13v0.93h-1.13zM38.53 82.97h1.13v0.93h-1.13zM42.86 82.97h2.21v0.93h-2.21zM52.60 82.97h1.13v0.93h-1.13zM76.41 82.97h1.13v0.93h-1.13zM115.37 82.97h1.13v0.93h-1.13zM161.91 82.97h1.13v0.93h-1.13zM43.94 83.85h1.13v0.93h-1.13zM51.52 83.85h1.13v0.93h-1.13zM77.49 83.85h1.13v0.93h-1.13zM130.52 83.85h1.13v0.93h-1.13zM132.69 83.85h2.21v0.93h-2.21zM164.07 83.85h1.13v0.93h-1.13zM198.70 83.85h1.13v0.93h-1.13zM200.87 83.85h1.13v0.93h-1.13zM208.44 83.85h1.13v0.93h-1.13zM55.85 84.72h1.13v0.93h-1.13zM66.67 84.72h1.13v0.93h-1.13zM77.49 84.72h1.13v0.93h-1.13zM91.56 84.72h1.13v0.93h-1.13zM161.91 84.72h2.21v0.93h-2.21zM167.32 84.72h1.13v0.93h-1.13zM208.44 84.72h1.13v0.93h-1.13zM24.46 85.60h1.13v0.93h-1.13zM40.70 85.60h1.13v0.93h-1.13zM45.03 85.60h2.21v0.93h-2.21zM55.85 85.60h1.13v0.93h-1.13zM95.89 85.60h1.13v0.93h-1.13zM112.12 85.60h2.21v0.93h-2.21zM164.07 85.60h1.13v0.93h-1.13zM168.40 85.60h1.13v0.93h-1.13zM27.71 86.47h2.21v0.93h-2.21zM46.11 86.47h1.13v0.93h-1.13zM66.67 86.47h1.13v0.93h-1.13zM75.33 86.47h1.13v0.93h-1.13zM79.66 86.47h1.13v0.93h-1.13zM166.24 86.47h2.21v0.93h-2.21zM170.56 86.47h1.13v0.93h-1.13zM27.71 87.35h1.13v0.93h-1.13zM43.94 87.35h1.13v0.93h-1.13zM46.11 87.35h2.21v0.93h-2.21zM55.85 87.35h1.13v0.93h-1.13zM74.25 87.35h1.13v0.93h-1.13zM80.74 87.35h1.13v0.93h-1.13zM91.56 87.35h1.13v0.93h-1.13zM155.41 87.35h1.13v0.93h-1.13zM157.58 87.35h1.13v0.93h-1.13zM167.32 87.35h1.13v0.93h-1.13zM172.73 87.35h1.13v0.93h-1.13zM177.06 87.35h1.13v0.93h-1.13zM184.63 87.35h1.13v0.93h-1.13zM27.71 88.23h1.13v0.93h-1.13zM37.45 88.23h1.13v0.93h-1.13zM75.33 88.23h2.21v0.93h-2.21zM81.82 88.23h1.13v0.93h-1.13zM129.44 88.23h3.30v0.93h-3.30zM153.25 88.23h1.13v0.93h-1.13zM160.82 88.23h2.21v0.93h-2.21zM173.81 88.23h1.13v0.93h-1.13zM179.22 88.23h1.13v0.93h-1.13zM191.13 88.23h1.13v0.93h-1.13zM27.71 89.10h1.13v0.93h-1.13zM34.20 89.10h2.21v0.93h-2.21zM37.45 89.10h1.13v0.93h-1.13zM45.03 89.10h2.21v0.93h-2.21zM109.96 89.10h1.13v0.93h-1.13zM120.78 89.10h1.13v0.93h-1.13zM177.06 89.10h1.13v0.93h-1.13zM175.98 89.98h1.13v0.93h-1.13zM178.14 89.98h1.13v0.93h-1.13zM183.55 89.98h1.13v0.93h-1.13zM190.04 89.98h1.13v0.93h-1.13zM37.45 90.85h1.13v0.93h-1.13zM43.94 90.85h1.13v0.93h-1.13zM50.44 90.85h1.13v0.93h-1.13zM79.66 90.85h2.21v0.93h-2.21zM83.99 90.85h1.13v0.93h-1.13zM98.06 90.85h1.13v0.93h-1.13zM164.07 90.85h1.13v0.93h-1.13zM178.14 90.85h1.13v0.93h-1.13zM183.55 90.85h1.13v0.93h-1.13zM194.37 90.85h1.13v0.93h-1.13zM81.82 91.73h1.13v0.93h-1.13zM111.04 91.73h1.13v0.93h-1.13zM118.62 91.73h2.21v0.93h-2.21zM121.86 91.73h1.13v0.93h-1.13zM141.34 91.73h1.13v0.93h-1.13zM192.21 91.73h1.13v0.93h-1.13zM39.62 92.61h4.38v0.93h-4.38zM47.19 92.61h1.13v0.93h-1.13zM87.23 92.61h1.13v0.93h-1.13zM127.28 92.61h1.13v0.93h-1.13zM161.91 92.61h1.13v0.93h-1.13zM197.62 92.61h1.13v0.93h-1.13zM48.27 93.48h1.13v0.93h-1.13zM53.68 93.48h2.21v0.93h-2.21zM87.23 93.48h1.13v0.93h-1.13zM182.47 93.48h1.13v0.93h-1.13zM186.80 93.48h1.13v0.93h-1.13zM192.21 93.48h1.13v0.93h-1.13zM194.37 93.48h1.13v0.93h-1.13zM199.78 93.48h1.13v0.93h-1.13zM204.11 93.48h1.13v0.93h-1.13zM88.32 94.36h1.13v0.93h-1.13zM90.48 94.36h1.13v0.93h-1.13zM127.28 94.36h1.13v0.93h-1.13zM129.44 94.36h1.13v0.93h-1.13zM161.91 94.36h1.13v0.93h-1.13zM199.78 94.36h1.13v0.93h-1.13zM203.03 94.36h1.13v0.93h-1.13zM206.28 94.36h1.13v0.93h-1.13zM35.29 95.23h1.13v0.93h-1.13zM55.85 95.23h1.13v0.93h-1.13zM91.56 95.23h1.13v0.93h-1.13zM192.21 95.23h1.13v0.93h-1.13zM194.37 95.23h1.13v0.93h-1.13zM203.03 95.23h1.13v0.93h-1.13zM206.28 95.23h1.13v0.93h-1.13zM35.29 96.11h1.13v0.93h-1.13zM42.86 96.11h1.13v0.93h-1.13zM45.03 96.11h1.13v0.93h-1.13zM50.44 96.11h1.13v0.93h-1.13zM53.68 96.11h1.13v0.93h-1.13zM55.85 96.11h1.13v0.93h-1.13zM85.07 96.11h1.13v0.93h-1.13zM173.81 96.11h1.13v0.93h-1.13zM50.44 96.99h2.21v0.93h-2.21zM56.93 96.99h1.13v0.93h-1.13zM85.07 96.99h1.13v0.93h-1.13zM92.64 96.99h1.13v0.93h-1.13zM197.62 96.99h1.13v0.93h-1.13zM214.94 96.99h1.13v0.93h-1.13zM29.88 97.86h3.30v0.93h-3.30zM58.01 97.86h1.13v0.93h-1.13zM86.15 97.86h1.13v0.93h-1.13zM98.06 97.86h1.13v0.93h-1.13zM100.22 97.86h1.13v0.93h-1.13zM131.60 97.86h1.13v0.93h-1.13zM151.08 97.86h1.13v0.93h-1.13zM199.78 97.86h1.13v0.93h-1.13zM55.85 98.74h1.13v0.93h-1.13zM58.01 98.74h1.13v0.93h-1.13zM87.23 98.74h1.13v0.93h-1.13zM94.81 98.74h1.13v0.93h-1.13zM101.30 98.74h1.13v0.93h-1.13zM151.08 98.74h1.13v0.93h-1.13zM171.65 98.74h1.13v0.93h-1.13zM207.36 98.74h3.30v0.93h-3.30zM29.88 99.62h1.13v0.93h-1.13zM59.10 99.62h1.13v0.93h-1.13zM87.23 99.62h1.13v0.93h-1.13zM93.73 99.62h3.30v0.93h-3.30zM171.65 99.62h1.13v0.93h-1.13zM205.20 99.62h2.21v0.93h-2.21zM211.69 99.62h2.21v0.93h-2.21zM60.18 100.49h1.13v0.93h-1.13zM88.32 100.49h1.13v0.93h-1.13zM90.48 100.49h1.13v0.93h-1.13zM99.14 100.49h1.13v0.93h-1.13zM143.51 100.49h1.13v0.93h-1.13zM155.41 100.49h1.13v0.93h-1.13zM171.65 100.49h1.13v0.93h-1.13zM206.28 100.49h2.21v0.93h-2.21zM29.88 101.37h1.13v0.93h-1.13zM60.18 101.37h1.13v0.93h-1.13zM90.48 101.37h1.13v0.93h-1.13zM99.14 101.37h2.21v0.93h-2.21zM138.10 101.37h1.13v0.93h-1.13zM208.44 101.37h2.21v0.93h-2.21zM214.94 101.37h1.13v0.93h-1.13zM55.85 102.24h1.13v0.93h-1.13zM61.26 102.24h1.13v0.93h-1.13zM63.42 102.24h1.13v0.93h-1.13zM89.40 102.24h2.21v0.93h-2.21zM99.14 102.24h2.21v0.93h-2.21zM116.45 102.24h3.30v0.93h-3.30zM145.67 102.24h1.13v0.93h-1.13zM187.88 102.24h1.13v0.93h-1.13zM196.54 102.24h1.13v0.93h-1.13zM210.61 102.24h2.21v0.93h-2.21zM23.38 103.12h1.13v0.93h-1.13zM90.48 103.12h2.21v0.93h-2.21zM102.38 103.12h1.13v0.93h-1.13zM145.67 103.12h1.13v0.93h-1.13zM173.81 103.12h1.13v0.93h-1.13zM211.69 103.12h1.13v0.93h-1.13zM22.30 104.00h1.13v0.93h-1.13zM24.46 104.00h1.13v0.93h-1.13zM33.12 104.00h1.13v0.93h-1.13zM56.93 104.00h2.21v0.93h-2.21zM63.42 104.00h1.13v0.93h-1.13zM91.56 104.00h1.13v0.93h-1.13zM102.38 104.00h1.13v0.93h-1.13zM131.60 104.00h1.13v0.93h-1.13zM133.77 104.00h1.13v0.93h-1.13zM141.34 104.00h1.13v0.93h-1.13zM173.81 104.00h1.13v0.93h-1.13zM24.46 104.87h1.13v0.93h-1.13zM59.10 104.87h1.13v0.93h-1.13zM63.42 104.87h2.21v0.93h-2.21zM76.41 104.87h1.13v0.93h-1.13zM101.30 104.87h1.13v0.93h-1.13zM25.55 105.75h2.21v0.93h-2.21zM30.96 105.75h1.13v0.93h-1.13zM59.10 105.75h1.13v0.93h-1.13zM64.51 105.75h1.13v0.93h-1.13zM82.90 105.75h1.13v0.93h-1.13zM143.51 105.75h1.13v0.93h-1.13zM26.63 106.62h1.13v0.93h-1.13zM28.79 106.62h1.13v0.93h-1.13zM39.62 106.62h1.13v0.93h-1.13zM62.34 106.62h1.13v0.93h-1.13zM82.90 106.62h1.13v0.93h-1.13zM103.47 106.62h2.21v0.93h-2.21zM26.63 107.50h2.21v0.93h-2.21zM39.62 107.50h1.13v0.93h-1.13zM58.01 107.50h1.13v0.93h-1.13zM61.26 107.50h1.13v0.93h-1.13zM67.75 107.50h1.13v0.93h-1.13zM95.89 107.50h1.13v0.93h-1.13zM103.47 107.50h1.13v0.93h-1.13zM32.04 108.38h1.13v0.93h-1.13zM39.62 108.38h1.13v0.93h-1.13zM65.59 108.38h2.21v0.93h-2.21zM94.81 108.38h1.13v0.93h-1.13zM96.97 108.38h1.13v0.93h-1.13zM105.63 108.38h1.13v0.93h-1.13zM170.56 108.38h1.13v0.93h-1.13zM30.96 109.25h1.13v0.93h-1.13zM53.68 109.25h1.13v0.93h-1.13zM100.22 109.25h2.21v0.93h-2.21zM106.71 109.25h1.13v0.93h-1.13zM128.36 109.25h1.13v0.93h-1.13zM131.60 109.25h1.13v0.93h-1.13zM29.88 110.13h1.13v0.93h-1.13zM32.04 110.13h1.13v0.93h-1.13zM102.38 110.13h1.13v0.93h-1.13zM130.52 110.13h1.13v0.93h-1.13zM130.52 111.00h1.13v0.93h-1.13zM150.00 111.00h1.13v0.93h-1.13zM175.98 111.00h1.13v0.93h-1.13zM178.14 111.00h2.21v0.93h-2.21zM29.88 111.88h1.13v0.93h-1.13zM34.20 111.88h1.13v0.93h-1.13zM36.37 111.88h1.13v0.93h-1.13zM68.84 111.88h2.21v0.93h-2.21zM76.41 111.88h1.13v0.93h-1.13zM78.58 111.88h1.13v0.93h-1.13zM125.11 111.88h1.13v0.93h-1.13zM143.51 111.88h1.13v0.93h-1.13zM67.75 112.76h1.13v0.93h-1.13zM106.71 112.76h1.13v0.93h-1.13zM150.00 112.76h1.13v0.93h-1.13zM34.20 113.63h1.13v0.93h-1.13zM108.88 113.63h1.13v0.93h-1.13zM111.04 113.63h1.13v0.93h-1.13zM37.45 114.51h1.13v0.93h-1.13zM43.94 114.51h1.13v0.93h-1.13zM71.00 114.51h1.13v0.93h-1.13zM85.07 114.51h1.13v0.93h-1.13zM109.96 114.51h1.13v0.93h-1.13zM32.04 115.39h1.13v0.93h-1.13zM71.00 115.39h1.13v0.93h-1.13zM109.96 115.39h1.13v0.93h-1.13zM29.88 116.26h1.13v0.93h-1.13zM38.53 116.26h1.13v0.93h-1.13zM143.51 116.26h1.13v0.93h-1.13zM145.67 116.26h2.21v0.93h-2.21zM153.25 116.26h1.13v0.93h-1.13zM214.94 116.26h1.13v0.93h-1.13zM24.46 117.14h1.13v0.93h-1.13zM29.88 117.14h1.13v0.93h-1.13zM34.20 117.14h1.13v0.93h-1.13zM153.25 117.14h1.13v0.93h-1.13zM39.62 118.01h1.13v0.93h-1.13zM72.08 118.01h1.13v0.93h-1.13zM87.23 118.01h1.13v0.93h-1.13zM108.88 118.01h1.13v0.93h-1.13zM114.29 118.01h1.13v0.93h-1.13zM153.25 118.01h1.13v0.93h-1.13zM26.63 118.89h1.13v0.93h-1.13zM113.21 118.89h1.13v0.93h-1.13zM134.85 118.89h1.13v0.93h-1.13zM186.80 118.89h4.38v0.93h-4.38zM38.53 119.77h2.21v0.93h-2.21zM72.08 119.77h1.13v0.93h-1.13zM113.21 119.77h1.13v0.93h-1.13zM115.37 119.77h1.13v0.93h-1.13zM142.43 119.77h1.13v0.93h-1.13zM160.82 119.77h1.13v0.93h-1.13zM182.47 119.77h3.30v0.93h-3.30zM38.53 120.64h1.13v0.93h-1.13zM114.29 120.64h1.13v0.93h-1.13zM195.46 120.64h3.30v0.93h-3.30zM71.00 121.52h1.13v0.93h-1.13zM74.25 121.52h1.13v0.93h-1.13zM116.45 121.52h1.13v0.93h-1.13zM166.24 121.52h1.13v0.93h-1.13zM39.62 122.39h1.13v0.93h-1.13zM41.78 122.39h1.13v0.93h-1.13zM71.00 122.39h1.13v0.93h-1.13zM73.16 122.39h1.13v0.93h-1.13zM115.37 122.39h1.13v0.93h-1.13zM117.54 122.39h1.13v0.93h-1.13zM166.24 122.39h1.13v0.93h-1.13zM40.70 123.27h1.13v0.93h-1.13zM40.70 124.15h1.13v0.93h-1.13zM115.37 124.15h1.13v0.93h-1.13zM118.62 124.15h1.13v0.93h-1.13zM127.28 124.15h1.13v0.93h-1.13zM198.70 124.15h1.13v0.93h-1.13zM42.86 125.02h1.13v0.93h-1.13zM115.37 125.02h1.13v0.93h-1.13zM118.62 125.02h1.13v0.93h-1.13zM167.32 125.02h1.13v0.93h-1.13zM42.86 125.90h2.21v0.93h-2.21zM127.28 125.90h1.13v0.93h-1.13zM174.89 125.90h1.13v0.93h-1.13zM177.06 125.90h1.13v0.93h-1.13zM41.78 126.77h1.13v0.93h-1.13zM75.33 126.77h1.13v0.93h-1.13zM96.97 126.77h1.13v0.93h-1.13zM119.70 126.77h1.13v0.93h-1.13zM124.03 126.77h2.21v0.93h-2.21zM127.28 126.77h1.13v0.93h-1.13zM174.89 126.77h1.13v0.93h-1.13zM46.11 127.65h1.13v0.93h-1.13zM62.34 127.65h1.13v0.93h-1.13zM75.33 127.65h1.13v0.93h-1.13zM116.45 127.65h1.13v0.93h-1.13zM154.33 127.65h2.21v0.93h-2.21zM78.58 128.53h1.13v0.93h-1.13zM174.89 128.53h1.13v0.93h-1.13zM59.10 129.40h1.13v0.93h-1.13zM77.49 129.40h1.13v0.93h-1.13zM79.66 129.40h1.13v0.93h-1.13zM77.49 130.28h3.30v0.93h-3.30zM81.82 130.28h1.13v0.93h-1.13zM120.78 130.28h3.30v0.93h-3.30zM169.48 130.28h1.13v0.93h-1.13zM47.19 131.16h1.13v0.93h-1.13zM77.49 131.16h1.13v0.93h-1.13zM80.74 131.16h1.13v0.93h-1.13zM118.62 131.16h1.13v0.93h-1.13zM158.66 131.16h1.13v0.93h-1.13zM174.89 131.16h1.13v0.93h-1.13zM178.14 131.16h1.13v0.93h-1.13zM182.47 131.16h1.13v0.93h-1.13zM43.94 132.03h1.13v0.93h-1.13zM49.36 132.03h1.13v0.93h-1.13zM78.58 132.03h1.13v0.93h-1.13zM82.90 132.03h1.13v0.93h-1.13zM86.15 132.03h1.13v0.93h-1.13zM88.32 132.03h1.13v0.93h-1.13zM121.86 132.03h2.21v0.93h-2.21zM126.19 132.03h1.13v0.93h-1.13zM158.66 132.03h1.13v0.93h-1.13zM52.60 132.91h1.13v0.93h-1.13zM82.90 132.91h1.13v0.93h-1.13zM86.15 132.91h1.13v0.93h-1.13zM119.70 132.91h1.13v0.93h-1.13zM126.19 132.91h1.13v0.93h-1.13zM182.47 132.91h1.13v0.93h-1.13zM186.80 132.91h1.13v0.93h-1.13zM197.62 132.91h1.13v0.93h-1.13zM45.03 133.78h3.30v0.93h-3.30zM49.36 133.78h1.13v0.93h-1.13zM78.58 133.78h1.13v0.93h-1.13zM81.82 133.78h2.21v0.93h-2.21zM85.07 133.78h1.13v0.93h-1.13zM120.78 133.78h1.13v0.93h-1.13zM130.52 133.78h2.21v0.93h-2.21zM54.77 134.66h1.13v0.93h-1.13zM87.23 134.66h2.21v0.93h-2.21zM90.48 134.66h1.13v0.93h-1.13zM161.91 134.66h1.13v0.93h-1.13zM193.29 134.66h1.13v0.93h-1.13zM199.78 134.66h1.13v0.93h-1.13zM37.45 135.54h1.13v0.93h-1.13zM53.68 135.54h1.13v0.93h-1.13zM79.66 135.54h1.13v0.93h-1.13zM89.40 135.54h2.21v0.93h-2.21zM129.44 135.54h1.13v0.93h-1.13zM183.55 135.54h1.13v0.93h-1.13zM204.11 135.54h1.13v0.93h-1.13zM211.69 135.54h1.13v0.93h-1.13zM37.45 136.41h1.13v0.93h-1.13zM48.27 136.41h3.30v0.93h-3.30zM83.99 136.41h1.13v0.93h-1.13zM87.23 136.41h1.13v0.93h-1.13zM124.03 136.41h4.38v0.93h-4.38zM211.69 136.41h1.13v0.93h-1.13zM36.37 137.29h1.13v0.93h-1.13zM90.48 137.29h1.13v0.93h-1.13zM115.37 137.29h1.13v0.93h-1.13zM130.52 137.29h1.13v0.93h-1.13zM132.69 137.29h1.13v0.93h-1.13zM134.85 137.29h1.13v0.93h-1.13zM162.99 137.29h1.13v0.93h-1.13zM195.46 137.29h1.13v0.93h-1.13zM211.69 137.29h1.13v0.93h-1.13zM56.93 138.16h1.13v0.93h-1.13zM179.22 138.16h1.13v0.93h-1.13zM185.72 138.16h2.21v0.93h-2.21zM188.96 138.16h1.13v0.93h-1.13zM195.46 138.16h1.13v0.93h-1.13zM199.78 138.16h1.13v0.93h-1.13zM49.36 139.04h1.13v0.93h-1.13zM54.77 139.04h1.13v0.93h-1.13zM83.99 139.04h1.13v0.93h-1.13zM87.23 139.04h1.13v0.93h-1.13zM90.48 139.04h1.13v0.93h-1.13zM111.04 139.04h1.13v0.93h-1.13zM125.11 139.04h3.30v0.93h-3.30zM180.30 139.04h1.13v0.93h-1.13zM186.80 139.04h1.13v0.93h-1.13zM47.19 139.92h1.13v0.93h-1.13zM55.85 139.92h1.13v0.93h-1.13zM92.64 139.92h1.13v0.93h-1.13zM111.04 139.92h1.13v0.93h-1.13zM134.85 139.92h1.13v0.93h-1.13zM180.30 139.92h2.21v0.93h-2.21zM188.96 139.92h1.13v0.93h-1.13zM199.78 139.92h1.13v0.93h-1.13zM33.12 140.79h1.13v0.93h-1.13zM91.56 140.79h2.21v0.93h-2.21zM188.96 140.79h1.13v0.93h-1.13zM48.27 141.67h1.13v0.93h-1.13zM52.60 141.67h1.13v0.93h-1.13zM82.90 141.67h1.13v0.93h-1.13zM86.15 141.67h5.46v0.93h-5.46zM126.19 141.67h3.30v0.93h-3.30zM131.60 141.67h1.13v0.93h-1.13zM180.30 141.67h1.13v0.93h-1.13zM182.47 141.67h1.13v0.93h-1.13zM193.29 141.67h1.13v0.93h-1.13zM195.46 141.67h1.13v0.93h-1.13zM197.62 141.67h1.13v0.93h-1.13zM206.28 141.67h2.21v0.93h-2.21zM33.12 142.54h1.13v0.93h-1.13zM58.01 142.54h1.13v0.93h-1.13zM69.92 142.54h1.13v0.93h-1.13zM94.81 142.54h1.13v0.93h-1.13zM135.93 142.54h1.13v0.93h-1.13zM173.81 142.54h1.13v0.93h-1.13zM190.04 142.54h1.13v0.93h-1.13zM36.37 143.42h1.13v0.93h-1.13zM48.27 143.42h1.13v0.93h-1.13zM58.01 143.42h1.13v0.93h-1.13zM94.81 143.42h1.13v0.93h-1.13zM133.77 143.42h2.21v0.93h-2.21zM178.14 143.42h1.13v0.93h-1.13zM184.63 143.42h2.21v0.93h-2.21zM192.21 143.42h1.13v0.93h-1.13zM197.62 143.42h1.13v0.93h-1.13zM199.78 143.42h1.13v0.93h-1.13zM40.70 144.30h1.13v0.93h-1.13zM53.68 144.30h2.21v0.93h-2.21zM83.99 144.30h1.13v0.93h-1.13zM111.04 144.30h1.13v0.93h-1.13zM114.29 144.30h1.13v0.93h-1.13zM125.11 144.30h1.13v0.93h-1.13zM130.52 144.30h1.13v0.93h-1.13zM186.80 144.30h1.13v0.93h-1.13zM40.70 145.17h1.13v0.93h-1.13zM42.86 145.17h1.13v0.93h-1.13zM46.11 145.17h1.13v0.93h-1.13zM55.85 145.17h1.13v0.93h-1.13zM61.26 145.17h1.13v0.93h-1.13zM135.93 145.17h1.13v0.93h-1.13zM172.73 145.17h1.13v0.93h-1.13zM178.14 145.17h1.13v0.93h-1.13zM186.80 145.17h2.21v0.93h-2.21zM194.37 145.17h1.13v0.93h-1.13zM46.11 146.05h1.13v0.93h-1.13zM49.36 146.05h1.13v0.93h-1.13zM95.89 146.05h1.13v0.93h-1.13zM137.02 146.05h1.13v0.93h-1.13zM159.74 146.05h1.13v0.93h-1.13zM161.91 146.05h1.13v0.93h-1.13zM188.96 146.05h1.13v0.93h-1.13zM194.37 146.05h2.21v0.93h-2.21zM46.11 146.93h1.13v0.93h-1.13zM50.44 146.93h1.13v0.93h-1.13zM71.00 146.93h1.13v0.93h-1.13zM85.07 146.93h2.21v0.93h-2.21zM92.64 146.93h1.13v0.93h-1.13zM159.74 146.93h1.13v0.93h-1.13zM161.91 146.93h1.13v0.93h-1.13zM184.63 146.93h1.13v0.93h-1.13zM186.80 146.93h1.13v0.93h-1.13zM188.96 146.93h1.13v0.93h-1.13zM196.54 146.93h1.13v0.93h-1.13zM58.01 147.80h2.21v0.93h-2.21zM95.89 147.80h1.13v0.93h-1.13zM135.93 147.80h1.13v0.93h-1.13zM155.41 147.80h1.13v0.93h-1.13zM197.62 147.80h1.13v0.93h-1.13zM59.10 148.68h1.13v0.93h-1.13zM95.89 148.68h1.13v0.93h-1.13zM121.86 148.68h2.21v0.93h-2.21zM150.00 148.68h1.13v0.93h-1.13zM158.66 148.68h1.13v0.93h-1.13zM178.14 148.68h1.13v0.93h-1.13zM186.80 148.68h1.13v0.93h-1.13zM188.96 148.68h1.13v0.93h-1.13zM191.13 148.68h1.13v0.93h-1.13zM198.70 148.68h1.13v0.93h-1.13zM201.95 148.68h1.13v0.93h-1.13zM55.85 149.55h2.21v0.93h-2.21zM80.74 149.55h1.13v0.93h-1.13zM89.40 149.55h1.13v0.93h-1.13zM91.56 149.55h2.21v0.93h-2.21zM130.52 149.55h1.13v0.93h-1.13zM132.69 149.55h1.13v0.93h-1.13zM150.00 149.55h1.13v0.93h-1.13zM213.85 149.55h1.13v0.93h-1.13zM35.29 150.43h1.13v0.93h-1.13zM61.26 150.43h1.13v0.93h-1.13zM96.97 150.43h1.13v0.93h-1.13zM150.00 150.43h1.13v0.93h-1.13zM191.13 150.43h1.13v0.93h-1.13zM200.87 150.43h1.13v0.93h-1.13zM40.70 151.31h1.13v0.93h-1.13zM94.81 151.31h1.13v0.93h-1.13zM138.10 151.31h1.13v0.93h-1.13zM201.95 151.31h2.21v0.93h-2.21zM209.52 151.31h1.13v0.93h-1.13zM213.85 151.31h1.13v0.93h-1.13zM88.32 152.18h1.13v0.93h-1.13zM102.38 152.18h2.21v0.93h-2.21zM40.70 153.06h1.13v0.93h-1.13zM52.60 153.06h1.13v0.93h-1.13zM55.85 153.06h3.30v0.93h-3.30zM92.64 153.06h1.13v0.93h-1.13zM130.52 153.06h1.13v0.93h-1.13zM204.11 153.06h1.13v0.93h-1.13zM209.52 153.06h1.13v0.93h-1.13zM39.62 153.93h1.13v0.93h-1.13zM55.85 153.93h1.13v0.93h-1.13zM58.01 153.93h1.13v0.93h-1.13zM91.56 153.93h1.13v0.93h-1.13zM95.89 153.93h3.30v0.93h-3.30zM133.77 153.93h1.13v0.93h-1.13zM135.93 153.93h1.13v0.93h-1.13zM198.70 153.93h1.13v0.93h-1.13zM55.85 154.81h1.13v0.93h-1.13zM92.64 154.81h1.13v0.93h-1.13zM193.29 154.81h1.13v0.93h-1.13zM199.78 154.81h1.13v0.93h-1.13zM65.59 155.69h1.13v0.93h-1.13zM83.99 155.69h1.13v0.93h-1.13zM92.64 155.69h1.13v0.93h-1.13zM99.14 155.69h3.30v0.93h-3.30zM103.47 155.69h1.13v0.93h-1.13zM131.60 155.69h1.13v0.93h-1.13zM200.87 155.69h1.13v0.93h-1.13zM56.93 157.44h1.13v0.93h-1.13zM56.93 158.31h1.13v0.93h-1.13zM94.81 159.19h1.13v0.93h-1.13zM132.69 159.19h1.13v0.93h-1.13zM135.93 159.19h1.13v0.93h-1.13zM30.96 160.07h1.13v0.93h-1.13zM54.77 160.07h1.13v0.93h-1.13zM58.01 160.07h1.13v0.93h-1.13zM124.03 160.07h1.13v0.93h-1.13zM133.77 160.07h1.13v0.93h-1.13zM198.70 160.07h1.13v0.93h-1.13zM200.87 160.07h1.13v0.93h-1.13zM30.96 160.94h1.13v0.93h-1.13zM91.56 160.94h1.13v0.93h-1.13zM95.89 160.94h1.13v0.93h-1.13zM135.93 160.94h1.13v0.93h-1.13zM91.56 161.82h1.13v0.93h-1.13zM98.06 161.82h1.13v0.93h-1.13zM137.02 161.82h1.13v0.93h-1.13zM55.85 162.70h1.13v0.93h-1.13zM59.10 162.70h1.13v0.93h-1.13zM122.95 162.70h1.13v0.93h-1.13zM139.18 162.70h1.13v0.93h-1.13zM55.85 163.57h1.13v0.93h-1.13zM65.59 163.57h2.21v0.93h-2.21zM69.92 163.57h1.13v0.93h-1.13zM151.08 163.57h1.13v0.93h-1.13zM139.18 164.45h1.13v0.93h-1.13zM147.84 164.45h1.13v0.93h-1.13zM55.85 165.32h2.21v0.93h-2.21zM66.67 165.32h1.13v0.93h-1.13zM92.64 165.32h1.13v0.93h-1.13zM99.14 165.32h1.13v0.93h-1.13zM139.18 165.32h1.13v0.93h-1.13z"/>
<path fill="#35193e" d="M23.38 8.50h1.13v0.93h-1.13zM109.96 8.50h1.13v0.93h-1.13zM24.46 9.38h1.13v0.93h-1.13zM96.97 9.38h1.13v0.93h-1.13zM25.55 10.25h1.13v0.93h-1.13zM99.14 10.25h1.13v0.93h-1.13zM63.42 11.13h1.13v0.93h-1.13zM98.06 11.13h1.13v0.93h-1.13zM141.34 11.13h1.13v0.93h-1.13zM216.02 11.13h1.13v0.93h-1.13zM25.55 12.00h1.13v0.93h-1.13zM63.42 12.00h2.21v0.93h-2.21zM100.22 12.00h1.13v0.93h-1.13zM141.34 12.00h2.21v0.93h-2.21zM60.18 12.88h1.13v0.93h-1.13zM62.34 12.88h2.21v0.93h-2.21zM71.00 12.88h1.13v0.93h-1.13zM98.06 12.88h1.13v0.93h-1.13zM103.47 12.88h1.13v0.93h-1.13zM165.15 12.88h1.13v0.93h-1.13zM64.51 13.76h1.13v0.93h-1.13zM140.26 13.76h2.21v0.93h-2.21zM145.67 13.76h1.13v0.93h-1.13zM33.12 14.63h1.13v0.93h-1.13zM63.42 14.63h1.13v0.93h-1.13zM99.14 14.63h1.13v0.93h-1.13zM104.55 14.63h1.13v0.93h-1.13zM145.67 14.63h2.21v0.93h-2.21zM205.20 14.63h1.13v0.93h-1.13zM64.51 15.51h1.13v0.93h-1.13zM148.92 15.51h1.13v0.93h-1.13zM30.96 16.38h1.13v0.93h-1.13zM105.63 16.38h1.13v0.93h-1.13zM107.80 16.38h1.13v0.93h-1.13zM32.04 17.26h1.13v0.93h-1.13zM105.63 17.26h1.13v0.93h-1.13zM69.92 18.14h1.13v0.93h-1.13zM152.17 18.14h1.13v0.93h-1.13zM51.52 19.01h1.13v0.93h-1.13zM72.08 19.01h1.13v0.93h-1.13zM108.88 19.01h1.13v0.93h-1.13zM113.21 19.01h3.30v0.93h-3.30zM152.17 19.01h1.13v0.93h-1.13zM35.29 19.89h1.13v0.93h-1.13zM113.21 19.89h1.13v0.93h-1.13zM36.37 20.77h1.13v0.93h-1.13zM113.21 20.77h1.13v0.93h-1.13zM157.58 20.77h1.13v0.93h-1.13zM167.32 20.77h1.13v0.93h-1.13zM37.45 21.64h1.13v0.93h-1.13zM159.74 21.64h1.13v0.93h-1.13zM161.91 21.64h1.13v0.93h-1.13zM167.32 21.64h1.13v0.93h-1.13zM129.44 22.52h1.13v0.93h-1.13zM167.32 22.52h1.13v0.93h-1.13zM193.29 22.52h1.13v0.93h-1.13zM207.36 22.52h1.13v0.93h-1.13zM24.46 23.39h1.13v0.93h-1.13zM115.37 23.39h1.13v0.93h-1.13zM40.70 24.27h1.13v0.93h-1.13zM74.25 24.27h1.13v0.93h-1.13zM148.92 24.27h1.13v0.93h-1.13zM193.29 24.27h1.13v0.93h-1.13zM41.78 25.15h1.13v0.93h-1.13zM43.94 25.15h1.13v0.93h-1.13zM120.78 25.15h2.21v0.93h-2.21zM170.56 25.15h1.13v0.93h-1.13zM197.62 25.15h1.13v0.93h-1.13zM45.03 26.02h1.13v0.93h-1.13zM122.95 26.02h1.13v0.93h-1.13zM204.11 26.02h1.13v0.93h-1.13zM80.74 26.90h2.21v0.93h-2.21zM124.03 26.90h1.13v0.93h-1.13zM191.13 26.90h1.13v0.93h-1.13zM78.58 27.77h1.13v0.93h-1.13zM171.65 27.77h1.13v0.93h-1.13zM177.06 27.77h1.13v0.93h-1.13zM179.22 27.77h1.13v0.93h-1.13zM183.55 27.77h1.13v0.93h-1.13zM191.13 27.77h1.13v0.93h-1.13zM204.11 27.77h1.13v0.93h-1.13zM48.27 28.65h1.13v0.93h-1.13zM79.66 28.65h1.13v0.93h-1.13zM127.28 28.65h1.13v0.93h-1.13zM180.30 28.65h1.13v0.93h-1.13zM190.04 28.65h1.13v0.93h-1.13zM193.29 28.65h1.13v0.93h-1.13zM43.94 29.53h3.30v0.93h-3.30zM173.81 29.53h1.13v0.93h-1.13zM178.14 29.53h2.21v0.93h-2.21zM188.96 29.53h1.13v0.93h-1.13zM86.15 30.40h1.13v0.93h-1.13zM188.96 30.40h1.13v0.93h-1.13zM196.54 30.40h1.13v0.93h-1.13zM204.11 30.40h1.13v0.93h-1.13zM125.11 31.28h1.13v0.93h-1.13zM192.21 31.28h1.13v0.93h-1.13zM83.99 32.16h1.13v0.93h-1.13zM137.02 32.16h1.13v0.93h-1.13zM194.37 32.16h1.13v0.93h-1.13zM197.62 32.16h1.13v0.93h-1.13zM27.71 33.03h1.13v0.93h-1.13zM53.68 33.03h1.13v0.93h-1.13zM72.08 33.03h1.13v0.93h-1.13zM83.99 33.03h1.13v0.93h-1.13zM91.56 33.03h1.13v0.93h-1.13zM206.28 33.03h1.13v0.93h-1.13zM92.64 33.91h1.13v0.93h-1.13zM192.21 33.91h1.13v0.93h-1.13zM206.28 33.91h1.13v0.93h-1.13zM87.23 34.78h1.13v0.93h-1.13zM93.73 34.78h1.13v0.93h-1.13zM130.52 34.78h1.13v0.93h-1.13zM140.26 34.78h1.13v0.93h-1.13zM204.11 34.78h1.13v0.93h-1.13zM207.36 34.78h1.13v0.93h-1.13zM88.32 35.66h2.21v0.93h-2.21zM118.62 35.66h2.21v0.93h-2.21zM138.10 35.66h1.13v0.93h-1.13zM199.78 35.66h1.13v0.93h-1.13zM205.20 35.66h1.13v0.93h-1.13zM22.30 36.54h1.13v0.93h-1.13zM131.60 36.54h1.13v0.93h-1.13zM23.38 37.41h1.13v0.93h-1.13zM132.69 37.41h1.13v0.93h-1.13zM90.48 38.29h1.13v0.93h-1.13zM102.38 38.29h1.13v0.93h-1.13zM140.26 38.29h2.21v0.93h-2.21zM196.54 38.29h1.13v0.93h-1.13zM209.52 38.29h2.21v0.93h-2.21zM30.96 39.16h1.13v0.93h-1.13zM90.48 39.16h1.13v0.93h-1.13zM142.43 39.16h1.13v0.93h-1.13zM196.54 39.16h1.13v0.93h-1.13zM212.77 39.16h1.13v0.93h-1.13zM24.46 40.04h1.13v0.93h-1.13zM137.02 40.04h1.13v0.93h-1.13zM143.51 40.04h1.13v0.93h-1.13zM93.73 40.92h1.13v0.93h-1.13zM95.89 40.92h1.13v0.93h-1.13zM144.59 40.92h1.13v0.93h-1.13zM174.89 40.92h1.13v0.93h-1.13zM95.89 41.79h1.13v0.93h-1.13zM127.28 41.79h1.13v0.93h-1.13zM140.26 41.79h1.13v0.93h-1.13zM160.82 41.79h1.13v0.93h-1.13zM178.14 41.79h1.13v0.93h-1.13zM27.71 42.67h1.13v0.93h-1.13zM32.04 42.67h1.13v0.93h-1.13zM61.26 42.67h1.13v0.93h-1.13zM96.97 42.67h1.13v0.93h-1.13zM99.14 42.67h1.13v0.93h-1.13zM104.55 42.67h1.13v0.93h-1.13zM178.14 42.67h1.13v0.93h-1.13zM27.71 43.54h1.13v0.93h-1.13zM100.22 43.54h4.38v0.93h-4.38zM188.96 43.54h1.13v0.93h-1.13zM29.88 44.42h1.13v0.93h-1.13zM33.12 44.42h1.13v0.93h-1.13zM106.71 44.42h1.13v0.93h-1.13zM148.92 44.42h1.13v0.93h-1.13zM178.14 44.42h1.13v0.93h-1.13zM188.96 44.42h1.13v0.93h-1.13zM32.04 45.30h1.13v0.93h-1.13zM108.88 45.30h1.13v0.93h-1.13zM146.76 45.30h2.21v0.93h-2.21zM109.96 46.17h1.13v0.93h-1.13zM122.95 46.17h1.13v0.93h-1.13zM36.37 47.05h1.13v0.93h-1.13zM108.88 47.05h1.13v0.93h-1.13zM111.04 47.05h1.13v0.93h-1.13zM148.92 47.05h1.13v0.93h-1.13zM181.39 47.05h1.13v0.93h-1.13zM34.20 47.92h1.13v0.93h-1.13zM38.53 47.92h1.13v0.93h-1.13zM109.96 47.92h2.21v0.93h-2.21zM150.00 47.92h2.21v0.93h-2.21zM155.41 47.92h1.13v0.93h-1.13zM111.04 48.80h1.13v0.93h-1.13zM113.21 48.80h1.13v0.93h-1.13zM156.50 48.80h1.13v0.93h-1.13zM36.37 49.68h1.13v0.93h-1.13zM74.25 49.68h1.13v0.93h-1.13zM88.32 49.68h1.13v0.93h-1.13zM112.12 49.68h1.13v0.93h-1.13zM207.36 49.68h1.13v0.93h-1.13zM210.61 49.68h1.13v0.93h-1.13zM116.45 50.55h1.13v0.93h-1.13zM38.53 51.43h2.21v0.93h-2.21zM113.21 51.43h1.13v0.93h-1.13zM161.91 51.43h1.13v0.93h-1.13zM165.15 51.43h1.13v0.93h-1.13zM39.62 52.31h1.13v0.93h-1.13zM43.94 52.31h1.13v0.93h-1.13zM118.62 52.31h1.13v0.93h-1.13zM58.01 53.18h1.13v0.93h-1.13zM115.37 53.18h1.13v0.93h-1.13zM141.34 53.18h1.13v0.93h-1.13zM47.19 54.06h1.13v0.93h-1.13zM120.78 54.06h1.13v0.93h-1.13zM172.73 54.06h1.13v0.93h-1.13zM182.47 54.06h1.13v0.93h-1.13zM184.63 54.06h1.13v0.93h-1.13zM187.88 54.06h1.13v0.93h-1.13zM80.74 54.93h1.13v0.93h-1.13zM118.62 54.93h1.13v0.93h-1.13zM120.78 54.93h1.13v0.93h-1.13zM170.56 54.93h1.13v0.93h-1.13zM182.47 54.93h1.13v0.93h-1.13zM48.27 55.81h3.30v0.93h-3.30zM172.73 55.81h1.13v0.93h-1.13zM191.13 55.81h1.13v0.93h-1.13zM43.94 56.69h2.21v0.93h-2.21zM80.74 56.69h1.13v0.93h-1.13zM82.90 56.69h1.13v0.93h-1.13zM120.78 56.69h1.13v0.93h-1.13zM124.03 56.69h1.13v0.93h-1.13zM179.22 56.69h1.13v0.93h-1.13zM200.87 56.69h1.13v0.93h-1.13zM45.03 57.56h2.21v0.93h-2.21zM51.52 57.56h1.13v0.93h-1.13zM72.08 57.56h1.13v0.93h-1.13zM105.63 57.56h1.13v0.93h-1.13zM125.11 57.56h1.13v0.93h-1.13zM186.80 57.56h1.13v0.93h-1.13zM195.46 57.56h1.13v0.93h-1.13zM47.19 58.44h1.13v0.93h-1.13zM52.60 58.44h1.13v0.93h-1.13zM179.22 58.44h1.13v0.93h-1.13zM200.87 58.44h1.13v0.93h-1.13zM48.27 59.31h1.13v0.93h-1.13zM86.15 59.31h1.13v0.93h-1.13zM95.89 59.31h1.13v0.93h-1.13zM128.36 59.31h1.13v0.93h-1.13zM186.80 59.31h1.13v0.93h-1.13zM47.19 60.19h1.13v0.93h-1.13zM53.68 60.19h1.13v0.93h-1.13zM87.23 60.19h1.13v0.93h-1.13zM122.95 60.19h2.21v0.93h-2.21zM129.44 60.19h2.21v0.93h-2.21zM141.34 60.19h1.13v0.93h-1.13zM143.51 60.19h1.13v0.93h-1.13zM188.96 60.19h1.13v0.93h-1.13zM199.78 60.19h1.13v0.93h-1.13zM49.36 61.07h1.13v0.93h-1.13zM54.77 61.07h1.13v0.93h-1.13zM86.15 61.07h1.13v0.93h-1.13zM131.60 61.07h1.13v0.93h-1.13zM192.21 61.07h1.13v0.93h-1.13zM199.78 61.07h1.13v0.93h-1.13zM206.28 61.07h1.13v0.93h-1.13zM209.52 61.07h1.13v0.93h-1.13zM54.77 61.94h1.13v0.93h-1.13zM56.93 61.94h1.13v0.93h-1.13zM80.74 61.94h1.13v0.93h-1.13zM125.11 61.94h2.21v0.93h-2.21zM194.37 61.94h1.13v0.93h-1.13zM50.44 62.82h1.13v0.93h-1.13zM88.32 62.82h1.13v0.93h-1.13zM93.73 62.82h1.13v0.93h-1.13zM95.89 62.82h1.13v0.93h-1.13zM131.60 62.82h1.13v0.93h-1.13zM197.62 62.82h1.13v0.93h-1.13zM203.03 62.82h1.13v0.93h-1.13zM205.20 62.82h2.21v0.93h-2.21zM209.52 62.82h1.13v0.93h-1.13zM85.07 63.70h1.13v0.93h-1.13zM201.95 63.70h1.13v0.93h-1.13zM130.52 64.57h2.21v0.93h-2.21zM208.44 64.57h1.13v0.93h-1.13zM53.68 65.45h1.13v0.93h-1.13zM59.10 65.45h1.13v0.93h-1.13zM85.07 65.45h1.13v0.93h-1.13zM131.60 65.45h1.13v0.93h-1.13zM53.68 66.32h2.21v0.93h-2.21zM60.18 66.32h1.13v0.93h-1.13zM132.69 66.32h1.13v0.93h-1.13zM138.10 66.32h2.21v0.93h-2.21zM211.69 66.32h1.13v0.93h-1.13zM55.85 67.20h1.13v0.93h-1.13zM91.56 67.20h1.13v0.93h-1.13zM98.06 67.20h1.13v0.93h-1.13zM132.69 67.20h2.21v0.93h-2.21zM140.26 67.20h2.21v0.93h-2.21zM56.93 68.08h1.13v0.93h-1.13zM92.64 68.08h1.13v0.93h-1.13zM133.77 68.08h1.13v0.93h-1.13zM140.26 68.08h1.13v0.93h-1.13zM143.51 68.08h1.13v0.93h-1.13zM62.34 68.95h1.13v0.93h-1.13zM141.34 68.95h1.13v0.93h-1.13zM168.40 68.95h1.13v0.93h-1.13zM190.04 68.95h1.13v0.93h-1.13zM209.52 68.95h1.13v0.93h-1.13zM216.02 68.95h1.13v0.93h-1.13zM95.89 69.83h1.13v0.93h-1.13zM108.88 69.83h1.13v0.93h-1.13zM141.34 69.83h2.21v0.93h-2.21zM210.61 69.83h1.13v0.93h-1.13zM216.02 69.83h1.13v0.93h-1.13zM137.02 70.70h1.13v0.93h-1.13zM143.51 70.70h1.13v0.93h-1.13zM162.99 70.70h1.13v0.93h-1.13zM211.69 70.70h1.13v0.93h-1.13zM61.26 72.46h1.13v0.93h-1.13zM145.67 72.46h1.13v0.93h-1.13zM141.34 73.33h1.13v0.93h-1.13zM143.51 73.33h1.13v0.93h-1.13zM145.67 73.33h1.13v0.93h-1.13zM26.63 74.21h1.13v0.93h-1.13zM60.18 74.21h1.13v0.93h-1.13zM62.34 74.21h1.13v0.93h-1.13zM104.55 74.21h1.13v0.93h-1.13zM142.43 74.21h1.13v0.93h-1.13zM146.76 74.21h1.13v0.93h-1.13zM28.79 75.08h1.13v0.93h-1.13zM143.51 75.08h1.13v0.93h-1.13zM147.84 75.08h2.21v0.93h-2.21zM194.37 75.08h1.13v0.93h-1.13zM28.79 75.96h1.13v0.93h-1.13zM67.75 75.96h1.13v0.93h-1.13zM104.55 75.96h1.13v0.93h-1.13zM29.88 76.84h1.13v0.93h-1.13zM32.04 76.84h1.13v0.93h-1.13zM83.99 76.84h2.21v0.93h-2.21zM87.23 76.84h1.13v0.93h-1.13zM105.63 76.84h1.13v0.93h-1.13zM150.00 76.84h1.13v0.93h-1.13zM34.20 77.71h1.13v0.93h-1.13zM69.92 77.71h1.13v0.93h-1.13zM146.76 77.71h1.13v0.93h-1.13zM35.29 78.59h1.13v0.93h-1.13zM69.92 78.59h1.13v0.93h-1.13zM107.80 78.59h1.13v0.93h-1.13zM35.29 79.46h1.13v0.93h-1.13zM37.45 79.46h1.13v0.93h-1.13zM147.84 79.46h1.13v0.93h-1.13zM153.25 79.46h1.13v0.93h-1.13zM72.08 80.34h1.13v0.93h-1.13zM35.29 81.22h1.13v0.93h-1.13zM69.92 81.22h1.13v0.93h-1.13zM73.16 81.22h1.13v0.93h-1.13zM124.03 81.22h1.13v0.93h-1.13zM168.40 81.22h1.13v0.93h-1.13zM37.45 82.09h1.13v0.93h-1.13zM40.70 82.09h1.13v0.93h-1.13zM74.25 82.09h1.13v0.93h-1.13zM158.66 82.09h1.13v0.93h-1.13zM165.15 82.09h1.13v0.93h-1.13zM39.62 82.97h1.13v0.93h-1.13zM71.00 82.97h1.13v0.93h-1.13zM113.21 82.97h1.13v0.93h-1.13zM38.53 83.85h1.13v0.93h-1.13zM50.44 83.85h1.13v0.93h-1.13zM52.60 83.85h1.13v0.93h-1.13zM66.67 83.85h1.13v0.93h-1.13zM72.08 83.85h1.13v0.93h-1.13zM76.41 83.85h1.13v0.93h-1.13zM159.74 83.85h1.13v0.93h-1.13zM199.78 83.85h1.13v0.93h-1.13zM40.70 84.72h1.13v0.93h-1.13zM117.54 84.72h1.13v0.93h-1.13zM165.15 84.72h1.13v0.93h-1.13zM43.94 85.60h1.13v0.93h-1.13zM73.16 85.60h1.13v0.93h-1.13zM130.52 85.60h1.13v0.93h-1.13zM143.51 85.60h1.13v0.93h-1.13zM145.67 85.60h1.13v0.93h-1.13zM165.15 85.60h1.13v0.93h-1.13zM150.00 86.47h1.13v0.93h-1.13zM169.48 86.47h1.13v0.93h-1.13zM42.86 87.35h1.13v0.93h-1.13zM75.33 87.35h1.13v0.93h-1.13zM171.65 87.35h1.13v0.93h-1.13zM77.49 88.23h1.13v0.93h-1.13zM119.70 88.23h1.13v0.93h-1.13zM152.17 88.23h1.13v0.93h-1.13zM162.99 88.23h1.13v0.93h-1.13zM172.73 88.23h1.13v0.93h-1.13zM180.30 88.23h1.13v0.93h-1.13zM48.27 89.10h1.13v0.93h-1.13zM62.34 89.10h1.13v0.93h-1.13zM77.49 89.10h3.30v0.93h-3.30zM81.82 89.10h1.13v0.93h-1.13zM122.95 89.10h1.13v0.93h-1.13zM157.58 89.10h1.13v0.93h-1.13zM175.98 89.10h1.13v0.93h-1.13zM179.22 89.10h1.13v0.93h-1.13zM182.47 89.10h1.13v0.93h-1.13zM184.63 89.10h2.21v0.93h-2.21zM49.36 89.98h1.13v0.93h-1.13zM78.58 89.98h1.13v0.93h-1.13zM179.22 89.98h2.21v0.93h-2.21zM196.54 89.98h1.13v0.93h-1.13zM182.47 90.85h1.13v0.93h-1.13zM187.88 90.85h1.13v0.93h-1.13zM193.29 90.85h1.13v0.93h-1.13zM47.19 91.73h1.13v0.93h-1.13zM51.52 91.73h1.13v0.93h-1.13zM150.00 91.73h1.13v0.93h-1.13zM156.50 91.73h1.13v0.93h-1.13zM180.30 91.73h1.13v0.93h-1.13zM186.80 91.73h1.13v0.93h-1.13zM188.96 91.73h1.13v0.93h-1.13zM48.27 92.61h1.13v0.93h-1.13zM52.60 92.61h1.13v0.93h-1.13zM183.55 92.61h1.13v0.93h-1.13zM188.96 92.61h1.13v0.93h-1.13zM191.13 92.61h1.13v0.93h-1.13zM194.37 92.61h1.13v0.93h-1.13zM198.70 92.61h1.13v0.93h-1.13zM204.11 92.61h1.13v0.93h-1.13zM49.36 93.48h1.13v0.93h-1.13zM83.99 93.48h1.13v0.93h-1.13zM126.19 93.48h1.13v0.93h-1.13zM197.62 93.48h1.13v0.93h-1.13zM201.95 93.48h1.13v0.93h-1.13zM53.68 94.36h2.21v0.93h-2.21zM89.40 94.36h1.13v0.93h-1.13zM197.62 94.36h1.13v0.93h-1.13zM50.44 95.23h1.13v0.93h-1.13zM89.40 95.23h2.21v0.93h-2.21zM199.78 95.23h1.13v0.93h-1.13zM90.48 96.11h1.13v0.93h-1.13zM203.03 96.11h1.13v0.93h-1.13zM35.29 96.99h1.13v0.93h-1.13zM52.60 96.99h1.13v0.93h-1.13zM87.23 96.99h1.13v0.93h-1.13zM132.69 96.99h1.13v0.93h-1.13zM203.03 96.99h1.13v0.93h-1.13zM207.36 96.99h1.13v0.93h-1.13zM35.29 97.86h1.13v0.93h-1.13zM56.93 97.86h1.13v0.93h-1.13zM92.64 97.86h1.13v0.93h-1.13zM205.20 97.86h1.13v0.93h-1.13zM207.36 97.86h1.13v0.93h-1.13zM211.69 97.86h1.13v0.93h-1.13zM53.68 98.74h1.13v0.93h-1.13zM92.64 98.74h2.21v0.93h-2.21zM134.85 98.74h1.13v0.93h-1.13zM201.95 98.74h1.13v0.93h-1.13zM53.68 99.62h2.21v0.93h-2.21zM29.88 100.49h1.13v0.93h-1.13zM95.89 100.49h2.21v0.93h-2.21zM212.77 100.49h2.21v0.93h-2.21zM55.85 101.37h1.13v0.93h-1.13zM89.40 101.37h1.13v0.93h-1.13zM96.97 101.37h1.13v0.93h-1.13zM134.85 101.37h1.13v0.93h-1.13zM56.93 102.24h1.13v0.93h-1.13zM186.80 102.24h1.13v0.93h-1.13zM56.93 103.12h1.13v0.93h-1.13zM61.26 103.12h2.21v0.93h-2.21zM99.14 103.12h1.13v0.93h-1.13zM138.10 103.12h1.13v0.93h-1.13zM140.26 103.12h1.13v0.93h-1.13zM199.78 103.12h1.13v0.93h-1.13zM212.77 103.12h1.13v0.93h-1.13zM30.96 104.00h1.13v0.93h-1.13zM82.90 104.00h1.13v0.93h-1.13zM93.73 104.00h1.13v0.93h-1.13zM199.78 104.00h1.13v0.93h-1.13zM216.02 104.00h1.13v0.93h-1.13zM25.55 104.87h1.13v0.93h-1.13zM82.90 104.87h1.13v0.93h-1.13zM92.64 104.87h1.13v0.93h-1.13zM102.38 104.87h1.13v0.93h-1.13zM142.43 104.87h1.13v0.93h-1.13zM63.42 105.75h1.13v0.93h-1.13zM65.59 105.75h1.13v0.93h-1.13zM76.41 105.75h1.13v0.93h-1.13zM93.73 105.75h2.21v0.93h-2.21zM27.71 106.62h1.13v0.93h-1.13zM30.96 106.62h1.13v0.93h-1.13zM58.01 106.62h1.13v0.93h-1.13zM65.59 106.62h1.13v0.93h-1.13zM94.81 106.62h3.30v0.93h-3.30zM29.88 107.50h2.21v0.93h-2.21zM96.97 107.50h1.13v0.93h-1.13zM102.38 107.50h1.13v0.93h-1.13zM29.88 108.38h1.13v0.93h-1.13zM58.01 108.38h1.13v0.93h-1.13zM64.51 108.38h1.13v0.93h-1.13zM101.30 108.38h1.13v0.93h-1.13zM104.55 108.38h1.13v0.93h-1.13zM125.11 108.38h1.13v0.93h-1.13zM65.59 109.25h1.13v0.93h-1.13zM99.14 109.25h1.13v0.93h-1.13zM102.38 109.25h2.21v0.93h-2.21zM130.52 109.25h1.13v0.93h-1.13zM145.67 109.25h1.13v0.93h-1.13zM34.20 110.13h1.13v0.93h-1.13zM65.59 110.13h1.13v0.93h-1.13zM103.47 110.13h1.13v0.93h-1.13zM125.11 110.13h1.13v0.93h-1.13zM147.84 111.00h1.13v0.93h-1.13zM67.75 111.88h1.13v0.93h-1.13zM108.88 111.88h1.13v0.93h-1.13zM148.92 111.88h1.13v0.93h-1.13zM151.08 111.88h1.13v0.93h-1.13zM36.37 112.76h1.13v0.93h-1.13zM36.37 113.63h1.13v0.93h-1.13zM68.84 113.63h1.13v0.93h-1.13zM153.25 113.63h1.13v0.93h-1.13zM36.37 114.51h1.13v0.93h-1.13zM69.92 114.51h1.13v0.93h-1.13zM112.12 115.39h1.13v0.93h-1.13zM24.46 116.26h1.13v0.93h-1.13zM144.59 116.26h1.13v0.93h-1.13zM154.33 116.26h1.13v0.93h-1.13zM37.45 117.14h2.21v0.93h-2.21zM71.00 117.14h1.13v0.93h-1.13zM112.12 117.14h1.13v0.93h-1.13zM146.76 117.14h1.13v0.93h-1.13zM214.94 117.14h1.13v0.93h-1.13zM25.55 118.01h2.21v0.93h-2.21zM37.45 118.01h1.13v0.93h-1.13zM88.32 118.01h2.21v0.93h-2.21zM156.50 118.01h1.13v0.93h-1.13zM158.66 118.01h1.13v0.93h-1.13zM39.62 118.89h1.13v0.93h-1.13zM72.08 118.89h1.13v0.93h-1.13zM140.26 118.89h1.13v0.93h-1.13zM157.58 118.89h1.13v0.93h-1.13zM140.26 119.77h1.13v0.93h-1.13zM39.62 120.64h2.21v0.93h-2.21zM58.01 120.64h1.13v0.93h-1.13zM74.25 120.64h1.13v0.93h-1.13zM73.16 121.52h1.13v0.93h-1.13zM75.33 122.39h1.13v0.93h-1.13zM161.91 122.39h1.13v0.93h-1.13zM71.00 123.27h1.13v0.93h-1.13zM75.33 123.27h1.13v0.93h-1.13zM117.54 123.27h1.13v0.93h-1.13zM166.24 123.27h1.13v0.93h-1.13zM41.78 124.15h1.13v0.93h-1.13zM74.25 124.15h2.21v0.93h-2.21zM166.24 124.15h1.13v0.93h-1.13zM177.06 124.15h1.13v0.93h-1.13zM197.62 124.15h1.13v0.93h-1.13zM76.41 125.02h1.13v0.93h-1.13zM165.15 125.02h1.13v0.93h-1.13zM177.06 125.02h1.13v0.93h-1.13zM75.33 125.90h1.13v0.93h-1.13zM166.24 125.90h1.13v0.93h-1.13zM77.49 126.77h1.13v0.93h-1.13zM98.06 126.77h1.13v0.93h-1.13zM116.45 126.77h1.13v0.93h-1.13zM126.19 126.77h1.13v0.93h-1.13zM169.48 126.77h1.13v0.93h-1.13zM156.50 127.65h1.13v0.93h-1.13zM168.40 127.65h1.13v0.93h-1.13zM174.89 127.65h1.13v0.93h-1.13zM46.11 128.53h1.13v0.93h-1.13zM67.75 128.53h1.13v0.93h-1.13zM120.78 128.53h1.13v0.93h-1.13zM169.48 128.53h1.13v0.93h-1.13zM42.86 129.40h1.13v0.93h-1.13zM78.58 129.40h1.13v0.93h-1.13zM170.56 129.40h1.13v0.93h-1.13zM171.65 130.28h1.13v0.93h-1.13zM43.94 131.16h1.13v0.93h-1.13zM180.30 131.16h1.13v0.93h-1.13zM184.63 131.16h1.13v0.93h-1.13zM186.80 131.16h1.13v0.93h-1.13zM188.96 131.16h1.13v0.93h-1.13zM193.29 131.16h1.13v0.93h-1.13zM197.62 131.16h1.13v0.93h-1.13zM199.78 131.16h1.13v0.93h-1.13zM50.44 132.03h1.13v0.93h-1.13zM81.82 132.03h1.13v0.93h-1.13zM83.99 132.03h2.21v0.93h-2.21zM87.23 132.03h1.13v0.93h-1.13zM89.40 132.03h1.13v0.93h-1.13zM124.03 132.03h2.21v0.93h-2.21zM47.19 132.91h1.13v0.93h-1.13zM51.52 132.91h1.13v0.93h-1.13zM81.82 132.91h1.13v0.93h-1.13zM124.03 132.91h1.13v0.93h-1.13zM178.14 132.91h1.13v0.93h-1.13zM180.30 132.91h1.13v0.93h-1.13zM188.96 132.91h1.13v0.93h-1.13zM193.29 132.91h1.13v0.93h-1.13zM199.78 132.91h1.13v0.93h-1.13zM111.04 133.78h1.13v0.93h-1.13zM128.36 133.78h2.21v0.93h-2.21zM180.30 133.78h1.13v0.93h-1.13zM85.07 134.66h2.21v0.93h-2.21zM128.36 134.66h1.13v0.93h-1.13zM177.06 134.66h1.13v0.93h-1.13zM180.30 134.66h2.21v0.93h-2.21zM201.95 134.66h1.13v0.93h-1.13zM52.60 135.54h1.13v0.93h-1.13zM122.95 135.54h1.13v0.93h-1.13zM127.28 135.54h1.13v0.93h-1.13zM161.91 135.54h1.13v0.93h-1.13zM181.39 135.54h2.21v0.93h-2.21zM195.46 135.54h1.13v0.93h-1.13zM203.03 135.54h1.13v0.93h-1.13zM86.15 136.41h1.13v0.93h-1.13zM105.63 136.41h1.13v0.93h-1.13zM121.86 136.41h1.13v0.93h-1.13zM178.14 136.41h1.13v0.93h-1.13zM186.80 136.41h1.13v0.93h-1.13zM191.13 136.41h1.13v0.93h-1.13zM197.62 136.41h1.13v0.93h-1.13zM199.78 136.41h1.13v0.93h-1.13zM201.95 136.41h1.13v0.93h-1.13zM55.85 137.29h1.13v0.93h-1.13zM58.01 137.29h1.13v0.93h-1.13zM121.86 137.29h1.13v0.93h-1.13zM129.44 137.29h1.13v0.93h-1.13zM131.60 137.29h1.13v0.93h-1.13zM137.02 137.29h1.13v0.93h-1.13zM164.07 137.29h1.13v0.93h-1.13zM178.14 137.29h1.13v0.93h-1.13zM183.55 137.29h2.21v0.93h-2.21zM89.40 138.16h1.13v0.93h-1.13zM129.44 138.16h1.13v0.93h-1.13zM201.95 138.16h1.13v0.93h-1.13zM211.69 138.16h1.13v0.93h-1.13zM51.52 139.04h1.13v0.93h-1.13zM53.68 139.04h1.13v0.93h-1.13zM82.90 139.04h1.13v0.93h-1.13zM122.95 139.04h1.13v0.93h-1.13zM128.36 139.04h1.13v0.93h-1.13zM181.39 139.04h1.13v0.93h-1.13zM54.77 139.92h1.13v0.93h-1.13zM87.23 139.92h1.13v0.93h-1.13zM191.13 139.92h1.13v0.93h-1.13zM193.29 139.92h1.13v0.93h-1.13zM195.46 139.92h1.13v0.93h-1.13zM197.62 139.92h1.13v0.93h-1.13zM58.01 140.79h1.13v0.93h-1.13zM133.77 140.79h1.13v0.93h-1.13zM33.12 141.67h1.13v0.93h-1.13zM51.52 141.67h1.13v0.93h-1.13zM124.03 141.67h1.13v0.93h-1.13zM130.52 141.67h1.13v0.93h-1.13zM173.81 141.67h1.13v0.93h-1.13zM178.14 141.67h1.13v0.93h-1.13zM190.04 141.67h1.13v0.93h-1.13zM199.78 141.67h1.13v0.93h-1.13zM201.95 141.67h1.13v0.93h-1.13zM205.20 141.67h1.13v0.93h-1.13zM59.10 142.54h1.13v0.93h-1.13zM92.64 142.54h1.13v0.93h-1.13zM191.13 142.54h1.13v0.93h-1.13zM59.10 143.42h1.13v0.93h-1.13zM92.64 143.42h2.21v0.93h-2.21zM132.69 143.42h1.13v0.93h-1.13zM180.30 143.42h1.13v0.93h-1.13zM182.47 143.42h1.13v0.93h-1.13zM186.80 143.42h1.13v0.93h-1.13zM193.29 143.42h1.13v0.93h-1.13zM201.95 143.42h1.13v0.93h-1.13zM49.36 144.30h1.13v0.93h-1.13zM52.60 144.30h1.13v0.93h-1.13zM58.01 144.30h1.13v0.93h-1.13zM86.15 144.30h1.13v0.93h-1.13zM90.48 144.30h1.13v0.93h-1.13zM129.44 144.30h1.13v0.93h-1.13zM172.73 144.30h1.13v0.93h-1.13zM193.29 144.30h1.13v0.93h-1.13zM49.36 145.17h1.13v0.93h-1.13zM56.93 145.17h1.13v0.93h-1.13zM180.30 145.17h1.13v0.93h-1.13zM182.47 145.17h1.13v0.93h-1.13zM184.63 145.17h1.13v0.93h-1.13zM86.15 146.05h1.13v0.93h-1.13zM91.56 146.05h1.13v0.93h-1.13zM94.81 146.05h1.13v0.93h-1.13zM128.36 146.05h1.13v0.93h-1.13zM134.85 146.05h2.21v0.93h-2.21zM166.24 146.05h1.13v0.93h-1.13zM190.04 146.05h1.13v0.93h-1.13zM52.60 146.93h2.21v0.93h-2.21zM72.08 146.93h1.13v0.93h-1.13zM88.32 146.93h2.21v0.93h-2.21zM127.28 146.93h1.13v0.93h-1.13zM130.52 146.93h3.30v0.93h-3.30zM172.73 146.93h1.13v0.93h-1.13zM178.14 146.93h1.13v0.93h-1.13zM180.30 146.93h1.13v0.93h-1.13zM190.04 146.93h1.13v0.93h-1.13zM195.46 146.93h1.13v0.93h-1.13zM199.78 146.93h1.13v0.93h-1.13zM93.73 147.80h1.13v0.93h-1.13zM121.86 147.80h1.13v0.93h-1.13zM154.33 147.80h1.13v0.93h-1.13zM191.13 147.80h1.13v0.93h-1.13zM196.54 147.80h1.13v0.93h-1.13zM58.01 148.68h1.13v0.93h-1.13zM125.11 148.68h1.13v0.93h-1.13zM128.36 148.68h1.13v0.93h-1.13zM134.85 148.68h1.13v0.93h-1.13zM157.58 148.68h1.13v0.93h-1.13zM159.74 148.68h1.13v0.93h-1.13zM182.47 148.68h1.13v0.93h-1.13zM192.21 148.68h1.13v0.93h-1.13zM199.78 148.68h1.13v0.93h-1.13zM87.23 149.55h2.21v0.93h-2.21zM131.60 149.55h1.13v0.93h-1.13zM60.18 150.43h1.13v0.93h-1.13zM95.89 150.43h1.13v0.93h-1.13zM134.85 150.43h1.13v0.93h-1.13zM180.30 150.43h1.13v0.93h-1.13zM193.29 150.43h2.21v0.93h-2.21zM201.95 150.43h1.13v0.93h-1.13zM56.93 151.31h2.21v0.93h-2.21zM60.18 151.31h1.13v0.93h-1.13zM130.52 151.31h1.13v0.93h-1.13zM133.77 151.31h1.13v0.93h-1.13zM137.02 151.31h1.13v0.93h-1.13zM144.59 151.31h1.13v0.93h-1.13zM195.46 151.31h1.13v0.93h-1.13zM40.70 152.18h1.13v0.93h-1.13zM54.77 152.18h1.13v0.93h-1.13zM131.60 152.18h1.13v0.93h-1.13zM196.54 152.18h1.13v0.93h-1.13zM203.03 152.18h1.13v0.93h-1.13zM90.48 153.06h1.13v0.93h-1.13zM131.60 153.06h1.13v0.93h-1.13zM134.85 153.06h1.13v0.93h-1.13zM197.62 153.06h1.13v0.93h-1.13zM37.45 153.93h2.21v0.93h-2.21zM53.68 153.93h1.13v0.93h-1.13zM59.10 153.93h2.21v0.93h-2.21zM94.81 153.93h1.13v0.93h-1.13zM130.52 153.93h1.13v0.93h-1.13zM132.69 153.93h1.13v0.93h-1.13zM204.11 153.93h2.21v0.93h-2.21zM77.49 154.81h1.13v0.93h-1.13zM91.56 154.81h1.13v0.93h-1.13zM192.21 154.81h1.13v0.93h-1.13zM194.37 154.81h1.13v0.93h-1.13zM205.20 154.81h1.13v0.93h-1.13zM66.67 155.69h1.13v0.93h-1.13zM133.77 155.69h1.13v0.93h-1.13zM205.20 155.69h1.13v0.93h-1.13zM54.77 156.56h1.13v0.93h-1.13zM90.48 156.56h1.13v0.93h-1.13zM201.95 156.56h2.21v0.93h-2.21zM207.36 157.44h1.13v0.93h-1.13zM90.48 158.31h1.13v0.93h-1.13zM132.69 158.31h1.13v0.93h-1.13zM159.74 158.31h1.13v0.93h-1.13zM50.44 159.19h2.21v0.93h-2.21zM91.56 159.19h1.13v0.93h-1.13zM200.87 159.19h1.13v0.93h-1.13zM88.32 160.07h1.13v0.93h-1.13zM94.81 160.07h1.13v0.93h-1.13zM135.93 160.07h1.13v0.93h-1.13zM58.01 160.94h1.13v0.93h-1.13zM134.85 160.94h1.13v0.93h-1.13zM183.55 160.94h1.13v0.93h-1.13zM211.69 160.94h1.13v0.93h-1.13zM30.96 161.82h1.13v0.93h-1.13zM55.85 161.82h1.13v0.93h-1.13zM76.41 161.82h2.21v0.93h-2.21zM134.85 161.82h1.13v0.93h-1.13zM135.93 162.70h1.13v0.93h-1.13zM151.08 162.70h1.13v0.93h-1.13zM60.18 163.57h1.13v0.93h-1.13zM92.64 163.57h1.13v0.93h-1.13zM99.14 163.57h1.13v0.93h-1.13zM135.93 163.57h1.13v0.93h-1.13zM191.13 163.57h2.21v0.93h-2.21zM56.93 164.45h1.13v0.93h-1.13zM99.14 164.45h1.13v0.93h-1.13zM200.87 164.45h1.13v0.93h-1.13zM60.18 165.32h1.13v0.93h-1.13zM98.06 165.32h1.13v0.93h-1.13zM200.87 165.32h1.13v0.93h-1.13z"/>
<path fill="#431c46" d="M59.10 9.38h2.21v0.93h-2.21zM95.89 10.25h3.30v0.93h-3.30zM59.10 11.13h1.13v0.93h-1.13zM100.22 11.13h1.13v0.93h-1.13zM28.79 12.88h1.13v0.93h-1.13zM167.32 12.88h1.13v0.93h-1.13zM65.59 14.63h1.13v0.93h-1.13zM103.47 14.63h1.13v0.93h-1.13zM66.67 15.51h1.13v0.93h-1.13zM146.76 15.51h2.21v0.93h-2.21zM66.67 16.38h1.13v0.93h-1.13zM104.55 16.38h1.13v0.93h-1.13zM148.92 16.38h2.21v0.93h-2.21zM108.88 17.26h1.13v0.93h-1.13zM35.29 18.14h1.13v0.93h-1.13zM67.75 18.14h1.13v0.93h-1.13zM107.80 18.14h1.13v0.93h-1.13zM151.08 18.14h1.13v0.93h-1.13zM34.20 19.01h1.13v0.93h-1.13zM36.37 19.01h1.13v0.93h-1.13zM154.33 19.01h1.13v0.93h-1.13zM69.92 19.89h1.13v0.93h-1.13zM109.96 19.89h1.13v0.93h-1.13zM167.32 19.89h1.13v0.93h-1.13zM71.00 20.77h1.13v0.93h-1.13zM129.44 20.77h1.13v0.93h-1.13zM158.66 20.77h1.13v0.93h-1.13zM113.21 21.64h3.30v0.93h-3.30zM118.62 23.39h1.13v0.93h-1.13zM148.92 23.39h1.13v0.93h-1.13zM165.15 23.39h1.13v0.93h-1.13zM117.54 24.27h1.13v0.93h-1.13zM120.78 24.27h1.13v0.93h-1.13zM168.40 25.15h2.21v0.93h-2.21zM182.47 25.15h1.13v0.93h-1.13zM182.47 26.02h1.13v0.93h-1.13zM185.72 26.02h1.13v0.93h-1.13zM174.89 26.90h1.13v0.93h-1.13zM179.22 26.90h2.21v0.93h-2.21zM185.72 26.90h1.13v0.93h-1.13zM187.88 26.90h1.13v0.93h-1.13zM61.26 27.77h1.13v0.93h-1.13zM81.82 27.77h1.13v0.93h-1.13zM121.86 27.77h1.13v0.93h-1.13zM125.11 27.77h1.13v0.93h-1.13zM112.12 28.65h1.13v0.93h-1.13zM126.19 28.65h1.13v0.93h-1.13zM179.22 28.65h1.13v0.93h-1.13zM186.80 28.65h1.13v0.93h-1.13zM47.19 29.53h1.13v0.93h-1.13zM81.82 29.53h1.13v0.93h-1.13zM124.03 29.53h1.13v0.93h-1.13zM127.28 29.53h1.13v0.93h-1.13zM180.30 29.53h2.21v0.93h-2.21zM183.55 29.53h1.13v0.93h-1.13zM195.46 29.53h1.13v0.93h-1.13zM180.30 30.40h1.13v0.93h-1.13zM182.47 30.40h2.21v0.93h-2.21zM198.70 30.40h1.13v0.93h-1.13zM200.87 30.40h1.13v0.93h-1.13zM87.23 31.28h1.13v0.93h-1.13zM127.28 31.28h1.13v0.93h-1.13zM194.37 31.28h1.13v0.93h-1.13zM204.11 31.28h1.13v0.93h-1.13zM52.60 32.16h1.13v0.93h-1.13zM85.07 32.16h1.13v0.93h-1.13zM126.19 32.16h1.13v0.93h-1.13zM129.44 33.03h1.13v0.93h-1.13zM196.54 33.03h1.13v0.93h-1.13zM133.77 33.91h1.13v0.93h-1.13zM194.37 33.91h1.13v0.93h-1.13zM204.11 33.91h1.13v0.93h-1.13zM135.93 34.78h1.13v0.93h-1.13zM197.62 34.78h1.13v0.93h-1.13zM203.03 34.78h1.13v0.93h-1.13zM94.81 35.66h2.21v0.93h-2.21zM137.02 35.66h1.13v0.93h-1.13zM207.36 35.66h1.13v0.93h-1.13zM96.97 36.54h1.13v0.93h-1.13zM203.03 36.54h1.13v0.93h-1.13zM56.93 37.41h1.13v0.93h-1.13zM59.10 37.41h1.13v0.93h-1.13zM96.97 37.41h2.21v0.93h-2.21zM140.26 37.41h1.13v0.93h-1.13zM207.36 37.41h2.21v0.93h-2.21zM210.61 37.41h1.13v0.93h-1.13zM60.18 38.29h1.13v0.93h-1.13zM99.14 38.29h1.13v0.93h-1.13zM134.85 38.29h1.13v0.93h-1.13zM25.55 39.16h1.13v0.93h-1.13zM92.64 39.16h2.21v0.93h-2.21zM101.30 39.16h1.13v0.93h-1.13zM137.02 39.16h1.13v0.93h-1.13zM141.34 39.16h1.13v0.93h-1.13zM213.85 39.16h1.13v0.93h-1.13zM216.02 39.16h1.13v0.93h-1.13zM25.55 40.04h1.13v0.93h-1.13zM102.38 40.04h2.21v0.93h-2.21zM138.10 40.04h1.13v0.93h-1.13zM28.79 40.92h1.13v0.93h-1.13zM103.47 40.92h1.13v0.93h-1.13zM139.18 40.92h1.13v0.93h-1.13zM96.97 41.79h1.13v0.93h-1.13zM103.47 41.79h1.13v0.93h-1.13zM144.59 41.79h1.13v0.93h-1.13zM29.88 42.67h2.21v0.93h-2.21zM63.42 42.67h1.13v0.93h-1.13zM98.06 42.67h1.13v0.93h-1.13zM100.22 42.67h1.13v0.93h-1.13zM142.43 42.67h1.13v0.93h-1.13zM146.76 42.67h1.13v0.93h-1.13zM104.55 43.54h1.13v0.93h-1.13zM106.71 43.54h1.13v0.93h-1.13zM144.59 43.54h1.13v0.93h-1.13zM147.84 43.54h1.13v0.93h-1.13zM30.96 45.30h1.13v0.93h-1.13zM66.67 45.30h1.13v0.93h-1.13zM35.29 46.17h1.13v0.93h-1.13zM67.75 46.17h1.13v0.93h-1.13zM108.88 46.17h1.13v0.93h-1.13zM147.84 46.17h3.30v0.93h-3.30zM71.00 47.05h1.13v0.93h-1.13zM109.96 47.05h1.13v0.93h-1.13zM150.00 47.05h1.13v0.93h-1.13zM152.17 47.05h1.13v0.93h-1.13zM154.33 47.05h1.13v0.93h-1.13zM152.17 47.92h1.13v0.93h-1.13zM154.33 47.92h1.13v0.93h-1.13zM35.29 48.80h1.13v0.93h-1.13zM90.48 49.68h1.13v0.93h-1.13zM158.66 49.68h1.13v0.93h-1.13zM209.52 49.68h1.13v0.93h-1.13zM41.78 50.55h1.13v0.93h-1.13zM159.74 50.55h2.21v0.93h-2.21zM76.41 51.43h1.13v0.93h-1.13zM141.34 52.31h1.13v0.93h-1.13zM166.24 52.31h2.21v0.93h-2.21zM42.86 53.18h1.13v0.93h-1.13zM116.45 53.18h1.13v0.93h-1.13zM166.24 53.18h2.21v0.93h-2.21zM169.48 53.18h1.13v0.93h-1.13zM45.03 54.06h1.13v0.93h-1.13zM77.49 54.06h1.13v0.93h-1.13zM179.22 54.06h1.13v0.93h-1.13zM78.58 54.93h1.13v0.93h-1.13zM172.73 54.93h1.13v0.93h-1.13zM174.89 54.93h1.13v0.93h-1.13zM184.63 54.93h1.13v0.93h-1.13zM121.86 55.81h2.21v0.93h-2.21zM175.98 55.81h2.21v0.93h-2.21zM180.30 55.81h1.13v0.93h-1.13zM185.72 55.81h1.13v0.93h-1.13zM49.36 56.69h1.13v0.93h-1.13zM191.13 56.69h1.13v0.93h-1.13zM83.99 57.56h1.13v0.93h-1.13zM124.03 57.56h1.13v0.93h-1.13zM178.14 57.56h1.13v0.93h-1.13zM181.39 57.56h1.13v0.93h-1.13zM33.12 58.44h1.13v0.93h-1.13zM51.52 58.44h1.13v0.93h-1.13zM85.07 58.44h1.13v0.93h-1.13zM188.96 58.44h1.13v0.93h-1.13zM193.29 59.31h1.13v0.93h-1.13zM206.28 60.19h1.13v0.93h-1.13zM125.11 61.07h1.13v0.93h-1.13zM197.62 61.07h1.13v0.93h-1.13zM207.36 61.07h1.13v0.93h-1.13zM55.85 61.94h1.13v0.93h-1.13zM87.23 61.94h1.13v0.93h-1.13zM89.40 61.94h1.13v0.93h-1.13zM124.03 61.94h1.13v0.93h-1.13zM204.11 61.94h1.13v0.93h-1.13zM127.28 62.82h1.13v0.93h-1.13zM199.78 62.82h1.13v0.93h-1.13zM56.93 63.70h2.21v0.93h-2.21zM89.40 63.70h1.13v0.93h-1.13zM129.44 63.70h1.13v0.93h-1.13zM131.60 63.70h2.21v0.93h-2.21zM52.60 64.57h2.21v0.93h-2.21zM94.81 64.57h1.13v0.93h-1.13zM211.69 64.57h1.13v0.93h-1.13zM54.77 65.45h1.13v0.93h-1.13zM199.78 65.45h1.13v0.93h-1.13zM58.01 66.32h1.13v0.93h-1.13zM92.64 66.32h1.13v0.93h-1.13zM96.97 66.32h1.13v0.93h-1.13zM216.02 66.32h1.13v0.93h-1.13zM139.18 67.20h1.13v0.93h-1.13zM134.85 68.08h1.13v0.93h-1.13zM209.52 68.08h1.13v0.93h-1.13zM216.02 68.08h1.13v0.93h-1.13zM98.06 68.95h1.13v0.93h-1.13zM103.47 68.95h1.13v0.93h-1.13zM210.61 68.95h1.13v0.93h-1.13zM59.10 69.83h1.13v0.93h-1.13zM211.69 69.83h1.13v0.93h-1.13zM214.94 69.83h1.13v0.93h-1.13zM100.22 70.70h1.13v0.93h-1.13zM138.10 70.70h1.13v0.93h-1.13zM212.77 70.70h1.13v0.93h-1.13zM214.94 70.70h1.13v0.93h-1.13zM60.18 71.58h1.13v0.93h-1.13zM63.42 71.58h1.13v0.93h-1.13zM143.51 71.58h1.13v0.93h-1.13zM22.30 72.46h2.21v0.93h-2.21zM63.42 72.46h1.13v0.93h-1.13zM100.22 72.46h1.13v0.93h-1.13zM141.34 72.46h1.13v0.93h-1.13zM101.30 73.33h1.13v0.93h-1.13zM103.47 73.33h1.13v0.93h-1.13zM142.43 73.33h1.13v0.93h-1.13zM144.59 73.33h1.13v0.93h-1.13zM63.42 74.21h1.13v0.93h-1.13zM27.71 75.08h1.13v0.93h-1.13zM64.51 75.08h1.13v0.93h-1.13zM103.47 75.08h1.13v0.93h-1.13zM145.67 75.96h1.13v0.93h-1.13zM151.08 76.84h1.13v0.93h-1.13zM109.96 78.59h1.13v0.93h-1.13zM34.20 79.46h1.13v0.93h-1.13zM38.53 79.46h1.13v0.93h-1.13zM68.84 79.46h1.13v0.93h-1.13zM36.37 80.34h1.13v0.93h-1.13zM38.53 80.34h1.13v0.93h-1.13zM112.12 80.34h1.13v0.93h-1.13zM114.29 80.34h1.13v0.93h-1.13zM150.00 80.34h1.13v0.93h-1.13zM153.25 80.34h1.13v0.93h-1.13zM71.00 81.22h1.13v0.93h-1.13zM38.53 82.09h1.13v0.93h-1.13zM71.00 82.09h1.13v0.93h-1.13zM73.16 82.09h1.13v0.93h-1.13zM159.74 82.09h1.13v0.93h-1.13zM75.33 82.97h1.13v0.93h-1.13zM160.82 82.97h1.13v0.93h-1.13zM162.99 83.85h1.13v0.93h-1.13zM41.78 85.60h1.13v0.93h-1.13zM74.25 85.60h1.13v0.93h-1.13zM109.96 85.60h2.21v0.93h-2.21zM118.62 85.60h1.13v0.93h-1.13zM144.59 85.60h1.13v0.93h-1.13zM167.32 85.60h1.13v0.93h-1.13zM45.03 86.47h1.13v0.93h-1.13zM117.54 86.47h1.13v0.93h-1.13zM119.70 86.47h1.13v0.93h-1.13zM76.41 87.35h2.21v0.93h-2.21zM118.62 87.35h1.13v0.93h-1.13zM168.40 87.35h1.13v0.93h-1.13zM151.08 88.23h1.13v0.93h-1.13zM42.86 89.10h1.13v0.93h-1.13zM187.88 89.10h1.13v0.93h-1.13zM46.11 89.98h1.13v0.93h-1.13zM79.66 89.98h1.13v0.93h-1.13zM81.82 89.98h1.13v0.93h-1.13zM81.82 90.85h1.13v0.93h-1.13zM177.06 90.85h1.13v0.93h-1.13zM196.54 90.85h1.13v0.93h-1.13zM48.27 91.73h1.13v0.93h-1.13zM82.90 91.73h3.30v0.93h-3.30zM126.19 91.73h1.13v0.93h-1.13zM179.22 91.73h1.13v0.93h-1.13zM181.39 91.73h1.13v0.93h-1.13zM194.37 91.73h1.13v0.93h-1.13zM51.52 92.61h1.13v0.93h-1.13zM82.90 92.61h1.13v0.93h-1.13zM86.15 92.61h1.13v0.93h-1.13zM125.11 92.61h1.13v0.93h-1.13zM186.80 92.61h1.13v0.93h-1.13zM200.87 92.61h1.13v0.93h-1.13zM52.60 93.48h1.13v0.93h-1.13zM188.96 93.48h1.13v0.93h-1.13zM52.60 94.36h1.13v0.93h-1.13zM192.21 94.36h1.13v0.93h-1.13zM204.11 94.36h1.13v0.93h-1.13zM54.77 95.23h1.13v0.93h-1.13zM51.52 96.11h1.13v0.93h-1.13zM131.60 96.11h1.13v0.93h-1.13zM197.62 96.11h1.13v0.93h-1.13zM91.56 96.99h1.13v0.93h-1.13zM130.52 96.99h1.13v0.93h-1.13zM199.78 96.99h1.13v0.93h-1.13zM53.68 97.86h1.13v0.93h-1.13zM87.23 97.86h1.13v0.93h-1.13zM133.77 97.86h1.13v0.93h-1.13zM201.95 97.86h1.13v0.93h-1.13zM88.32 98.74h1.13v0.93h-1.13zM132.69 98.74h1.13v0.93h-1.13zM204.11 98.74h1.13v0.93h-1.13zM58.01 99.62h1.13v0.93h-1.13zM133.77 99.62h1.13v0.93h-1.13zM135.93 99.62h1.13v0.93h-1.13zM209.52 99.62h2.21v0.93h-2.21zM55.85 100.49h1.13v0.93h-1.13zM59.10 100.49h1.13v0.93h-1.13zM208.44 100.49h1.13v0.93h-1.13zM58.01 101.37h1.13v0.93h-1.13zM91.56 101.37h1.13v0.93h-1.13zM95.89 101.37h1.13v0.93h-1.13zM139.18 102.24h1.13v0.93h-1.13zM58.01 103.12h1.13v0.93h-1.13zM92.64 103.12h1.13v0.93h-1.13zM100.22 103.12h1.13v0.93h-1.13zM59.10 104.00h1.13v0.93h-1.13zM92.64 104.00h1.13v0.93h-1.13zM99.14 104.00h2.21v0.93h-2.21zM93.73 104.87h1.13v0.93h-1.13zM140.26 104.87h1.13v0.93h-1.13zM60.18 105.75h1.13v0.93h-1.13zM95.89 105.75h1.13v0.93h-1.13zM61.26 106.62h1.13v0.93h-1.13zM28.79 107.50h1.13v0.93h-1.13zM65.59 107.50h1.13v0.93h-1.13zM99.14 107.50h1.13v0.93h-1.13zM143.51 107.50h1.13v0.93h-1.13zM30.96 108.38h1.13v0.93h-1.13zM100.22 108.38h1.13v0.93h-1.13zM144.59 108.38h1.13v0.93h-1.13zM32.04 109.25h2.21v0.93h-2.21zM66.67 109.25h1.13v0.93h-1.13zM67.75 110.13h1.13v0.93h-1.13zM104.55 110.13h1.13v0.93h-1.13zM33.12 111.00h2.21v0.93h-2.21zM68.84 111.00h1.13v0.93h-1.13zM106.71 111.00h2.21v0.93h-2.21zM75.33 111.88h1.13v0.93h-1.13zM107.80 111.88h1.13v0.93h-1.13zM107.80 112.76h2.21v0.93h-2.21zM152.17 112.76h1.13v0.93h-1.13zM69.92 113.63h1.13v0.93h-1.13zM109.96 113.63h1.13v0.93h-1.13zM111.04 114.51h1.13v0.93h-1.13zM37.45 115.39h1.13v0.93h-1.13zM111.04 115.39h1.13v0.93h-1.13zM214.94 115.39h1.13v0.93h-1.13zM37.45 116.26h1.13v0.93h-1.13zM111.04 116.26h2.21v0.93h-2.21zM113.21 117.14h1.13v0.93h-1.13zM113.21 118.01h1.13v0.93h-1.13zM114.29 118.89h1.13v0.93h-1.13zM73.16 119.77h1.13v0.93h-1.13zM114.29 119.77h1.13v0.93h-1.13zM158.66 119.77h1.13v0.93h-1.13zM73.16 120.64h1.13v0.93h-1.13zM115.37 120.64h1.13v0.93h-1.13zM40.70 121.52h1.13v0.93h-1.13zM160.82 121.52h1.13v0.93h-1.13zM162.99 121.52h1.13v0.93h-1.13zM116.45 122.39h1.13v0.93h-1.13zM74.25 123.27h1.13v0.93h-1.13zM117.54 124.15h1.13v0.93h-1.13zM164.07 124.15h1.13v0.93h-1.13zM41.78 125.02h1.13v0.93h-1.13zM116.45 125.02h1.13v0.93h-1.13zM41.78 125.90h1.13v0.93h-1.13zM116.45 125.90h1.13v0.93h-1.13zM99.14 126.77h1.13v0.93h-1.13zM117.54 126.77h1.13v0.93h-1.13zM45.03 127.65h1.13v0.93h-1.13zM76.41 127.65h1.13v0.93h-1.13zM119.70 127.65h1.13v0.93h-1.13zM157.58 127.65h1.13v0.93h-1.13zM45.03 128.53h1.13v0.93h-1.13zM77.49 128.53h1.13v0.93h-1.13zM67.75 129.40h1.13v0.93h-1.13zM120.78 129.40h1.13v0.93h-1.13zM172.73 129.40h1.13v0.93h-1.13zM46.11 130.28h1.13v0.93h-1.13zM67.75 130.28h1.13v0.93h-1.13zM79.66 131.16h1.13v0.93h-1.13zM119.70 131.16h1.13v0.93h-1.13zM191.13 131.16h1.13v0.93h-1.13zM195.46 131.16h1.13v0.93h-1.13zM45.03 132.03h1.13v0.93h-1.13zM80.74 132.03h1.13v0.93h-1.13zM119.70 132.03h1.13v0.93h-1.13zM45.03 132.91h1.13v0.93h-1.13zM49.36 132.91h2.21v0.93h-2.21zM78.58 132.91h1.13v0.93h-1.13zM85.07 132.91h1.13v0.93h-1.13zM89.40 132.91h1.13v0.93h-1.13zM121.86 132.91h2.21v0.93h-2.21zM184.63 132.91h1.13v0.93h-1.13zM191.13 132.91h1.13v0.93h-1.13zM195.46 132.91h1.13v0.93h-1.13zM201.95 132.91h1.13v0.93h-1.13zM161.91 133.78h1.13v0.93h-1.13zM178.14 133.78h1.13v0.93h-1.13zM46.11 134.66h1.13v0.93h-1.13zM49.36 134.66h1.13v0.93h-1.13zM53.68 134.66h1.13v0.93h-1.13zM121.86 134.66h1.13v0.93h-1.13zM125.11 134.66h1.13v0.93h-1.13zM182.47 134.66h1.13v0.93h-1.13zM186.80 134.66h1.13v0.93h-1.13zM195.46 134.66h1.13v0.93h-1.13zM197.62 134.66h1.13v0.93h-1.13zM120.78 135.54h1.13v0.93h-1.13zM80.74 136.41h2.21v0.93h-2.21zM182.47 136.41h2.21v0.93h-2.21zM188.96 136.41h1.13v0.93h-1.13zM47.19 137.29h1.13v0.93h-1.13zM56.93 137.29h1.13v0.93h-1.13zM105.63 137.29h1.13v0.93h-1.13zM55.85 138.16h1.13v0.93h-1.13zM105.63 138.16h1.13v0.93h-1.13zM130.52 138.16h2.21v0.93h-2.21zM183.55 138.16h1.13v0.93h-1.13zM191.13 138.16h1.13v0.93h-1.13zM193.29 138.16h1.13v0.93h-1.13zM197.62 138.16h1.13v0.93h-1.13zM50.44 139.04h1.13v0.93h-1.13zM124.03 139.04h1.13v0.93h-1.13zM182.47 139.04h1.13v0.93h-1.13zM50.44 139.92h1.13v0.93h-1.13zM90.48 139.92h1.13v0.93h-1.13zM132.69 139.92h1.13v0.93h-1.13zM182.47 139.92h1.13v0.93h-1.13zM201.95 139.92h1.13v0.93h-1.13zM90.48 140.79h1.13v0.93h-1.13zM182.47 140.79h2.21v0.93h-2.21zM83.99 141.67h1.13v0.93h-1.13zM129.44 141.67h1.13v0.93h-1.13zM86.15 142.54h1.13v0.93h-1.13zM89.40 142.54h1.13v0.93h-1.13zM93.73 142.54h1.13v0.93h-1.13zM134.85 142.54h1.13v0.93h-1.13zM184.63 142.54h1.13v0.93h-1.13zM131.60 143.42h1.13v0.93h-1.13zM195.46 143.42h1.13v0.93h-1.13zM51.52 144.30h1.13v0.93h-1.13zM187.88 144.30h2.21v0.93h-2.21zM94.81 145.17h1.13v0.93h-1.13zM195.46 145.17h1.13v0.93h-1.13zM197.62 145.17h1.13v0.93h-1.13zM199.78 145.17h1.13v0.93h-1.13zM201.95 145.17h1.13v0.93h-1.13zM59.10 146.05h2.21v0.93h-2.21zM93.73 146.05h1.13v0.93h-1.13zM96.97 146.05h1.13v0.93h-1.13zM191.13 146.05h1.13v0.93h-1.13zM87.23 146.93h1.13v0.93h-1.13zM128.36 146.93h2.21v0.93h-2.21zM182.47 146.93h1.13v0.93h-1.13zM191.13 146.93h1.13v0.93h-1.13zM197.62 146.93h1.13v0.93h-1.13zM201.95 146.93h1.13v0.93h-1.13zM180.30 148.68h1.13v0.93h-1.13zM184.63 148.68h1.13v0.93h-1.13zM197.62 148.68h1.13v0.93h-1.13zM52.60 149.55h1.13v0.93h-1.13zM193.29 149.55h1.13v0.93h-1.13zM199.78 149.55h1.13v0.93h-1.13zM54.77 150.43h1.13v0.93h-1.13zM90.48 150.43h1.13v0.93h-1.13zM130.52 150.43h1.13v0.93h-1.13zM178.14 150.43h1.13v0.93h-1.13zM182.47 150.43h1.13v0.93h-1.13zM184.63 150.43h1.13v0.93h-1.13zM186.80 150.43h1.13v0.93h-1.13zM188.96 150.43h1.13v0.93h-1.13zM198.70 150.43h1.13v0.93h-1.13zM59.10 151.31h1.13v0.93h-1.13zM87.23 151.31h1.13v0.93h-1.13zM93.73 151.31h1.13v0.93h-1.13zM131.60 151.31h1.13v0.93h-1.13zM135.93 151.31h1.13v0.93h-1.13zM130.52 152.18h1.13v0.93h-1.13zM201.95 152.18h1.13v0.93h-1.13zM94.81 153.06h1.13v0.93h-1.13zM132.69 153.06h2.21v0.93h-2.21zM56.93 153.93h1.13v0.93h-1.13zM89.40 153.93h2.21v0.93h-2.21zM131.60 153.93h1.13v0.93h-1.13zM131.60 154.81h1.13v0.93h-1.13zM77.49 155.69h1.13v0.93h-1.13zM132.69 155.69h1.13v0.93h-1.13zM206.28 156.56h1.13v0.93h-1.13zM55.85 157.44h1.13v0.93h-1.13zM90.48 157.44h1.13v0.93h-1.13zM132.69 157.44h1.13v0.93h-1.13zM55.85 158.31h1.13v0.93h-1.13zM93.73 158.31h1.13v0.93h-1.13zM49.36 159.19h1.13v0.93h-1.13zM52.60 159.19h1.13v0.93h-1.13zM93.73 159.19h1.13v0.93h-1.13zM207.36 159.19h1.13v0.93h-1.13zM209.52 159.19h1.13v0.93h-1.13zM55.85 160.07h1.13v0.93h-1.13zM55.85 160.94h1.13v0.93h-1.13zM92.64 161.82h1.13v0.93h-1.13zM92.64 162.70h1.13v0.93h-1.13zM137.02 162.70h1.13v0.93h-1.13zM60.18 164.45h1.13v0.93h-1.13zM92.64 164.45h1.13v0.93h-1.13zM138.10 164.45h1.13v0.93h-1.13zM213.85 164.45h1.13v0.93h-1.13z"/>
<path fill="#511e4d" d="M60.18 10.25h2.21v0.93h-2.21zM99.14 11.13h1.13v0.93h-1.13zM27.71 12.00h1.13v0.93h-1.13zM60.18 12.00h1.13v0.93h-1.13zM98.06 12.00h1.13v0.93h-1.13zM101.30 12.00h1.13v0.93h-1.13zM26.63 12.88h1.13v0.93h-1.13zM99.14 12.88h4.38v0.93h-4.38zM143.51 12.88h2.21v0.93h-2.21zM63.42 13.76h1.13v0.93h-1.13zM102.38 13.76h1.13v0.93h-1.13zM102.38 14.63h1.13v0.93h-1.13zM65.59 15.51h1.13v0.93h-1.13zM103.47 15.51h1.13v0.93h-1.13zM106.71 16.38h1.13v0.93h-1.13zM34.20 17.26h1.13v0.93h-1.13zM150.00 17.26h2.21v0.93h-2.21zM108.88 18.14h1.13v0.93h-1.13zM68.84 19.01h2.21v0.93h-2.21zM111.04 19.01h1.13v0.93h-1.13zM153.25 19.01h1.13v0.93h-1.13zM37.45 19.89h1.13v0.93h-1.13zM112.12 19.89h1.13v0.93h-1.13zM38.53 20.77h1.13v0.93h-1.13zM112.12 20.77h1.13v0.93h-1.13zM39.62 21.64h1.13v0.93h-1.13zM74.25 21.64h1.13v0.93h-1.13zM160.82 21.64h1.13v0.93h-1.13zM40.70 22.52h1.13v0.93h-1.13zM75.33 22.52h1.13v0.93h-1.13zM117.54 22.52h1.13v0.93h-1.13zM74.25 23.39h1.13v0.93h-1.13zM77.49 24.27h1.13v0.93h-1.13zM166.24 24.27h2.21v0.93h-2.21zM78.58 25.15h1.13v0.93h-1.13zM118.62 25.15h1.13v0.93h-1.13zM77.49 26.02h1.13v0.93h-1.13zM119.70 26.02h1.13v0.93h-1.13zM179.22 26.02h1.13v0.93h-1.13zM120.78 26.90h1.13v0.93h-1.13zM122.95 26.90h1.13v0.93h-1.13zM173.81 26.90h1.13v0.93h-1.13zM47.19 27.77h1.13v0.93h-1.13zM173.81 27.77h1.13v0.93h-1.13zM187.88 27.77h1.13v0.93h-1.13zM46.11 28.65h1.13v0.93h-1.13zM80.74 28.65h1.13v0.93h-1.13zM122.95 28.65h1.13v0.93h-1.13zM125.11 28.65h1.13v0.93h-1.13zM177.06 28.65h2.21v0.93h-2.21zM82.90 29.53h1.13v0.93h-1.13zM182.47 29.53h1.13v0.93h-1.13zM190.04 29.53h1.13v0.93h-1.13zM198.70 29.53h1.13v0.93h-1.13zM85.07 30.40h1.13v0.93h-1.13zM125.11 30.40h1.13v0.93h-1.13zM186.80 30.40h1.13v0.93h-1.13zM83.99 31.28h1.13v0.93h-1.13zM129.44 31.28h1.13v0.93h-1.13zM190.04 31.28h2.21v0.93h-2.21zM51.52 33.03h1.13v0.93h-1.13zM86.15 33.03h1.13v0.93h-1.13zM131.60 33.03h1.13v0.93h-1.13zM87.23 33.91h1.13v0.93h-1.13zM90.48 33.91h1.13v0.93h-1.13zM130.52 33.91h2.21v0.93h-2.21zM199.78 33.91h1.13v0.93h-1.13zM206.28 34.78h1.13v0.93h-1.13zM56.93 35.66h1.13v0.93h-1.13zM93.73 35.66h1.13v0.93h-1.13zM134.85 35.66h1.13v0.93h-1.13zM206.28 35.66h1.13v0.93h-1.13zM55.85 36.54h1.13v0.93h-1.13zM58.01 36.54h1.13v0.93h-1.13zM95.89 36.54h1.13v0.93h-1.13zM132.69 36.54h1.13v0.93h-1.13zM204.11 36.54h1.13v0.93h-1.13zM206.28 36.54h1.13v0.93h-1.13zM22.30 37.41h1.13v0.93h-1.13zM90.48 37.41h1.13v0.93h-1.13zM133.77 37.41h1.13v0.93h-1.13zM139.18 37.41h1.13v0.93h-1.13zM24.46 38.29h1.13v0.93h-1.13zM58.01 38.29h1.13v0.93h-1.13zM91.56 38.29h2.21v0.93h-2.21zM100.22 38.29h1.13v0.93h-1.13zM212.77 38.29h1.13v0.93h-1.13zM102.38 39.16h1.13v0.93h-1.13zM94.81 40.04h1.13v0.93h-1.13zM139.18 40.04h1.13v0.93h-1.13zM216.02 40.04h1.13v0.93h-1.13zM61.26 40.92h1.13v0.93h-1.13zM27.71 41.79h1.13v0.93h-1.13zM29.88 41.79h1.13v0.93h-1.13zM98.06 41.79h1.13v0.93h-1.13zM141.34 41.79h1.13v0.93h-1.13zM65.59 42.67h1.13v0.93h-1.13zM101.30 42.67h1.13v0.93h-1.13zM143.51 42.67h1.13v0.93h-1.13zM105.63 43.54h1.13v0.93h-1.13zM30.96 44.42h2.21v0.93h-2.21zM145.67 44.42h1.13v0.93h-1.13zM106.71 45.30h1.13v0.93h-1.13zM34.20 46.17h1.13v0.93h-1.13zM69.92 46.17h1.13v0.93h-1.13zM151.08 46.17h1.13v0.93h-1.13zM68.84 47.05h1.13v0.93h-1.13zM37.45 47.92h1.13v0.93h-1.13zM69.92 47.92h1.13v0.93h-1.13zM73.16 48.80h1.13v0.93h-1.13zM155.41 48.80h1.13v0.93h-1.13zM39.62 49.68h1.13v0.93h-1.13zM157.58 49.68h1.13v0.93h-1.13zM38.53 50.55h1.13v0.93h-1.13zM40.70 50.55h1.13v0.93h-1.13zM113.21 50.55h2.21v0.93h-2.21zM41.78 51.43h1.13v0.93h-1.13zM162.99 51.43h2.21v0.93h-2.21zM75.33 52.31h1.13v0.93h-1.13zM117.54 52.31h1.13v0.93h-1.13zM78.58 53.18h1.13v0.93h-1.13zM46.11 54.06h1.13v0.93h-1.13zM47.19 54.93h1.13v0.93h-1.13zM179.22 54.93h1.13v0.93h-1.13zM81.82 55.81h1.13v0.93h-1.13zM179.22 55.81h1.13v0.93h-1.13zM122.95 56.69h1.13v0.93h-1.13zM177.06 56.69h1.13v0.93h-1.13zM187.88 56.69h2.21v0.93h-2.21zM193.29 56.69h1.13v0.93h-1.13zM196.54 56.69h1.13v0.93h-1.13zM122.95 57.56h1.13v0.93h-1.13zM188.96 57.56h1.13v0.93h-1.13zM180.30 58.44h1.13v0.93h-1.13zM182.47 58.44h1.13v0.93h-1.13zM198.70 58.44h1.13v0.93h-1.13zM49.36 59.31h1.13v0.93h-1.13zM52.60 59.31h1.13v0.93h-1.13zM127.28 59.31h1.13v0.93h-1.13zM201.95 59.31h1.13v0.93h-1.13zM85.07 60.19h1.13v0.93h-1.13zM194.37 60.19h1.13v0.93h-1.13zM129.44 61.07h1.13v0.93h-1.13zM207.36 61.94h1.13v0.93h-1.13zM51.52 62.82h1.13v0.93h-1.13zM91.56 63.70h1.13v0.93h-1.13zM204.11 63.70h2.21v0.93h-2.21zM207.36 63.70h2.21v0.93h-2.21zM58.01 64.57h1.13v0.93h-1.13zM132.69 64.57h2.21v0.93h-2.21zM210.61 64.57h1.13v0.93h-1.13zM58.01 65.45h1.13v0.93h-1.13zM96.97 65.45h1.13v0.93h-1.13zM132.69 65.45h1.13v0.93h-1.13zM212.77 65.45h1.13v0.93h-1.13zM59.10 66.32h1.13v0.93h-1.13zM137.02 66.32h1.13v0.93h-1.13zM214.94 66.32h1.13v0.93h-1.13zM59.10 67.20h1.13v0.93h-1.13zM209.52 67.20h1.13v0.93h-1.13zM58.01 68.08h1.13v0.93h-1.13zM96.97 68.08h1.13v0.93h-1.13zM58.01 68.95h1.13v0.93h-1.13zM60.18 68.95h1.13v0.93h-1.13zM93.73 68.95h1.13v0.93h-1.13zM135.93 68.95h1.13v0.93h-1.13zM140.26 68.95h1.13v0.93h-1.13zM211.69 68.95h1.13v0.93h-1.13zM62.34 69.83h1.13v0.93h-1.13zM60.18 70.70h1.13v0.93h-1.13zM142.43 70.70h1.13v0.93h-1.13zM213.85 70.70h1.13v0.93h-1.13zM61.26 71.58h2.21v0.93h-2.21zM99.14 71.58h1.13v0.93h-1.13zM139.18 71.58h1.13v0.93h-1.13zM62.34 72.46h1.13v0.93h-1.13zM102.38 72.46h1.13v0.93h-1.13zM140.26 72.46h1.13v0.93h-1.13zM144.59 74.21h1.13v0.93h-1.13zM105.63 75.08h1.13v0.93h-1.13zM144.59 75.08h1.13v0.93h-1.13zM29.88 75.96h1.13v0.93h-1.13zM147.84 75.96h1.13v0.93h-1.13zM66.67 76.84h1.13v0.93h-1.13zM145.67 76.84h1.13v0.93h-1.13zM32.04 77.71h2.21v0.93h-2.21zM108.88 77.71h1.13v0.93h-1.13zM67.75 78.59h1.13v0.93h-1.13zM69.92 79.46h1.13v0.93h-1.13zM69.92 80.34h1.13v0.93h-1.13zM37.45 81.22h1.13v0.93h-1.13zM113.21 81.22h1.13v0.93h-1.13zM155.41 81.22h1.13v0.93h-1.13zM157.58 81.22h1.13v0.93h-1.13zM114.29 82.09h1.13v0.93h-1.13zM156.50 82.09h1.13v0.93h-1.13zM41.78 82.97h1.13v0.93h-1.13zM72.08 82.97h1.13v0.93h-1.13zM39.62 83.85h1.13v0.93h-1.13zM116.45 83.85h1.13v0.93h-1.13zM160.82 83.85h1.13v0.93h-1.13zM43.94 84.72h1.13v0.93h-1.13zM73.16 84.72h1.13v0.93h-1.13zM166.24 85.60h1.13v0.93h-1.13zM168.40 86.47h1.13v0.93h-1.13zM78.58 87.35h1.13v0.93h-1.13zM120.78 87.35h1.13v0.93h-1.13zM170.56 87.35h1.13v0.93h-1.13zM46.11 88.23h1.13v0.93h-1.13zM80.74 88.23h1.13v0.93h-1.13zM171.65 88.23h1.13v0.93h-1.13zM184.63 88.23h1.13v0.93h-1.13zM173.81 89.10h2.21v0.93h-2.21zM180.30 89.10h1.13v0.93h-1.13zM82.90 89.98h1.13v0.93h-1.13zM187.88 89.98h1.13v0.93h-1.13zM191.13 89.98h1.13v0.93h-1.13zM82.90 90.85h1.13v0.93h-1.13zM179.22 90.85h1.13v0.93h-1.13zM181.39 90.85h1.13v0.93h-1.13zM124.03 91.73h1.13v0.93h-1.13zM83.99 92.61h1.13v0.93h-1.13zM195.46 92.61h1.13v0.93h-1.13zM85.07 93.48h2.21v0.93h-2.21zM200.87 93.48h1.13v0.93h-1.13zM50.44 94.36h1.13v0.93h-1.13zM194.37 94.36h2.21v0.93h-2.21zM86.15 96.11h2.21v0.93h-2.21zM199.78 96.11h1.13v0.93h-1.13zM206.28 96.11h1.13v0.93h-1.13zM206.28 96.99h1.13v0.93h-1.13zM206.28 97.86h1.13v0.93h-1.13zM56.93 98.74h1.13v0.93h-1.13zM90.48 98.74h1.13v0.93h-1.13zM89.40 99.62h1.13v0.93h-1.13zM134.85 100.49h1.13v0.93h-1.13zM56.93 101.37h1.13v0.93h-1.13zM135.93 101.37h1.13v0.93h-1.13zM210.61 101.37h1.13v0.93h-1.13zM91.56 102.24h1.13v0.93h-1.13zM96.97 102.24h2.21v0.93h-2.21zM137.02 102.24h1.13v0.93h-1.13zM216.02 102.24h1.13v0.93h-1.13zM22.30 103.12h1.13v0.93h-1.13zM62.34 104.00h1.13v0.93h-1.13zM139.18 104.00h1.13v0.93h-1.13zM100.22 104.87h1.13v0.93h-1.13zM62.34 105.75h1.13v0.93h-1.13zM100.22 105.75h1.13v0.93h-1.13zM102.38 105.75h1.13v0.93h-1.13zM142.43 106.62h1.13v0.93h-1.13zM64.51 107.50h1.13v0.93h-1.13zM98.06 107.50h1.13v0.93h-1.13zM145.67 107.50h1.13v0.93h-1.13zM99.14 108.38h1.13v0.93h-1.13zM103.47 108.38h1.13v0.93h-1.13zM146.76 108.38h1.13v0.93h-1.13zM105.63 109.25h1.13v0.93h-1.13zM66.67 110.13h1.13v0.93h-1.13zM106.71 110.13h1.13v0.93h-1.13zM146.76 110.13h1.13v0.93h-1.13zM148.92 110.13h1.13v0.93h-1.13zM66.67 111.00h1.13v0.93h-1.13zM106.71 111.88h1.13v0.93h-1.13zM69.92 112.76h1.13v0.93h-1.13zM109.96 112.76h1.13v0.93h-1.13zM154.33 114.51h1.13v0.93h-1.13zM161.91 120.64h1.13v0.93h-1.13zM39.62 121.52h1.13v0.93h-1.13zM115.37 121.52h1.13v0.93h-1.13zM40.70 122.39h1.13v0.93h-1.13zM74.25 122.39h1.13v0.93h-1.13zM165.15 123.27h1.13v0.93h-1.13zM76.41 125.90h1.13v0.93h-1.13zM118.62 125.90h1.13v0.93h-1.13zM42.86 126.77h2.21v0.93h-2.21zM76.41 126.77h1.13v0.93h-1.13zM167.32 126.77h1.13v0.93h-1.13zM77.49 127.65h1.13v0.93h-1.13zM117.54 127.65h1.13v0.93h-1.13zM42.86 128.53h1.13v0.93h-1.13zM118.62 129.40h1.13v0.93h-1.13zM118.62 130.28h1.13v0.93h-1.13zM120.78 131.16h1.13v0.93h-1.13zM175.98 132.03h1.13v0.93h-1.13zM46.11 132.91h1.13v0.93h-1.13zM121.86 133.78h1.13v0.93h-1.13zM175.98 133.78h1.13v0.93h-1.13zM47.19 134.66h2.21v0.93h-2.21zM51.52 134.66h1.13v0.93h-1.13zM79.66 134.66h2.21v0.93h-2.21zM127.28 134.66h1.13v0.93h-1.13zM47.19 135.54h1.13v0.93h-1.13zM51.52 135.54h1.13v0.93h-1.13zM83.99 135.54h1.13v0.93h-1.13zM87.23 135.54h2.21v0.93h-2.21zM122.95 136.41h1.13v0.93h-1.13zM54.77 138.16h1.13v0.93h-1.13zM87.23 138.16h1.13v0.93h-1.13zM124.03 138.16h1.13v0.93h-1.13zM126.19 138.16h1.13v0.93h-1.13zM81.82 139.04h1.13v0.93h-1.13zM85.07 139.04h1.13v0.93h-1.13zM88.32 139.04h1.13v0.93h-1.13zM48.27 139.92h1.13v0.93h-1.13zM82.90 139.92h1.13v0.93h-1.13zM89.40 139.92h1.13v0.93h-1.13zM91.56 139.92h1.13v0.93h-1.13zM88.32 140.79h1.13v0.93h-1.13zM128.36 140.79h1.13v0.93h-1.13zM186.80 140.79h2.21v0.93h-2.21zM49.36 143.42h1.13v0.93h-1.13zM91.56 143.42h1.13v0.93h-1.13zM191.13 143.42h1.13v0.93h-1.13zM85.07 144.30h1.13v0.93h-1.13zM126.19 144.30h1.13v0.93h-1.13zM192.21 144.30h1.13v0.93h-1.13zM188.96 145.17h1.13v0.93h-1.13zM192.21 145.17h1.13v0.93h-1.13zM85.07 146.05h1.13v0.93h-1.13zM87.23 146.05h1.13v0.93h-1.13zM131.60 146.05h1.13v0.93h-1.13zM133.77 146.05h1.13v0.93h-1.13zM56.93 147.80h1.13v0.93h-1.13zM86.15 147.80h1.13v0.93h-1.13zM128.36 147.80h1.13v0.93h-1.13zM192.21 147.80h1.13v0.93h-1.13zM195.46 147.80h1.13v0.93h-1.13zM51.52 148.68h1.13v0.93h-1.13zM56.93 148.68h1.13v0.93h-1.13zM92.64 148.68h1.13v0.93h-1.13zM94.81 148.68h1.13v0.93h-1.13zM130.52 148.68h1.13v0.93h-1.13zM133.77 148.68h1.13v0.93h-1.13zM129.44 149.55h1.13v0.93h-1.13zM197.62 149.55h1.13v0.93h-1.13zM55.85 150.43h2.21v0.93h-2.21zM59.10 150.43h1.13v0.93h-1.13zM89.40 150.43h1.13v0.93h-1.13zM94.81 150.43h1.13v0.93h-1.13zM135.93 150.43h1.13v0.93h-1.13zM199.78 150.43h1.13v0.93h-1.13zM53.68 151.31h3.30v0.93h-3.30zM89.40 151.31h1.13v0.93h-1.13zM129.44 151.31h1.13v0.93h-1.13zM132.69 151.31h1.13v0.93h-1.13zM134.85 151.31h1.13v0.93h-1.13zM196.54 151.31h1.13v0.93h-1.13zM53.68 152.18h1.13v0.93h-1.13zM198.70 152.18h1.13v0.93h-1.13zM54.77 153.06h1.13v0.93h-1.13zM88.32 153.06h2.21v0.93h-2.21zM91.56 153.06h1.13v0.93h-1.13zM93.73 153.06h1.13v0.93h-1.13zM198.70 153.06h2.21v0.93h-2.21zM200.87 153.93h1.13v0.93h-1.13zM203.03 153.93h1.13v0.93h-1.13zM132.69 154.81h1.13v0.93h-1.13zM200.87 154.81h1.13v0.93h-1.13zM55.85 155.69h1.13v0.93h-1.13zM90.48 155.69h1.13v0.93h-1.13zM201.95 155.69h1.13v0.93h-1.13zM55.85 156.56h1.13v0.93h-1.13zM91.56 156.56h1.13v0.93h-1.13zM132.69 156.56h2.21v0.93h-2.21zM204.11 156.56h1.13v0.93h-1.13zM55.85 159.19h1.13v0.93h-1.13zM133.77 159.19h1.13v0.93h-1.13zM91.56 160.07h2.21v0.93h-2.21zM92.64 160.94h1.13v0.93h-1.13zM94.81 160.94h1.13v0.93h-1.13zM209.52 160.94h1.13v0.93h-1.13zM58.01 161.82h1.13v0.93h-1.13zM96.97 161.82h1.13v0.93h-1.13zM212.77 161.82h1.13v0.93h-1.13zM94.81 162.70h1.13v0.93h-1.13zM98.06 162.70h1.13v0.93h-1.13zM56.93 163.57h1.13v0.93h-1.13zM59.10 163.57h1.13v0.93h-1.13zM214.94 165.32h1.13v0.93h-1.13z"/>
<path fill="#611f53" d="M23.38 10.25h1.13v0.93h-1.13zM59.10 10.25h1.13v0.93h-1.13zM62.34 11.13h1.13v0.93h-1.13zM96.97 11.13h1.13v0.93h-1.13zM61.26 12.00h1.13v0.93h-1.13zM27.71 13.76h1.13v0.93h-1.13zM29.88 13.76h1.13v0.93h-1.13zM101.30 13.76h1.13v0.93h-1.13zM144.59 13.76h1.13v0.93h-1.13zM30.96 14.63h1.13v0.93h-1.13zM64.51 14.63h1.13v0.93h-1.13zM104.55 15.51h2.21v0.93h-2.21zM67.75 17.26h1.13v0.93h-1.13zM106.71 17.26h2.21v0.93h-2.21zM109.96 18.14h1.13v0.93h-1.13zM72.08 19.89h1.13v0.93h-1.13zM111.04 19.89h1.13v0.93h-1.13zM73.16 20.77h1.13v0.93h-1.13zM114.29 20.77h1.13v0.93h-1.13zM115.37 22.52h2.21v0.93h-2.21zM160.82 22.52h1.13v0.93h-1.13zM162.99 22.52h1.13v0.93h-1.13zM75.33 23.39h2.21v0.93h-2.21zM164.07 23.39h1.13v0.93h-1.13zM42.86 24.27h1.13v0.93h-1.13zM75.33 24.27h2.21v0.93h-2.21zM76.41 25.15h1.13v0.93h-1.13zM169.48 26.02h2.21v0.93h-2.21zM43.94 26.90h1.13v0.93h-1.13zM46.11 26.90h1.13v0.93h-1.13zM45.03 27.77h1.13v0.93h-1.13zM79.66 27.77h1.13v0.93h-1.13zM124.03 27.77h1.13v0.93h-1.13zM175.98 28.65h1.13v0.93h-1.13zM182.47 28.65h1.13v0.93h-1.13zM49.36 29.53h1.13v0.93h-1.13zM83.99 29.53h1.13v0.93h-1.13zM126.19 29.53h1.13v0.93h-1.13zM185.72 29.53h1.13v0.93h-1.13zM50.44 30.40h1.13v0.93h-1.13zM127.28 30.40h1.13v0.93h-1.13zM85.07 31.28h2.21v0.93h-2.21zM200.87 31.28h1.13v0.93h-1.13zM87.23 32.16h1.13v0.93h-1.13zM127.28 32.16h1.13v0.93h-1.13zM188.96 32.16h1.13v0.93h-1.13zM204.11 32.16h1.13v0.93h-1.13zM89.40 33.03h1.13v0.93h-1.13zM128.36 33.03h1.13v0.93h-1.13zM201.95 33.03h1.13v0.93h-1.13zM204.11 33.03h1.13v0.93h-1.13zM129.44 33.91h1.13v0.93h-1.13zM55.85 34.78h1.13v0.93h-1.13zM133.77 34.78h2.21v0.93h-2.21zM201.95 34.78h1.13v0.93h-1.13zM54.77 35.66h1.13v0.93h-1.13zM90.48 35.66h1.13v0.93h-1.13zM135.93 35.66h1.13v0.93h-1.13zM133.77 36.54h1.13v0.93h-1.13zM207.36 36.54h1.13v0.93h-1.13zM134.85 37.41h1.13v0.93h-1.13zM23.38 38.29h1.13v0.93h-1.13zM96.97 38.29h1.13v0.93h-1.13zM135.93 38.29h1.13v0.93h-1.13zM211.69 38.29h1.13v0.93h-1.13zM24.46 39.16h1.13v0.93h-1.13zM59.10 39.16h1.13v0.93h-1.13zM61.26 39.16h1.13v0.93h-1.13zM100.22 39.16h1.13v0.93h-1.13zM95.89 40.04h1.13v0.93h-1.13zM142.43 40.04h1.13v0.93h-1.13zM102.38 40.92h1.13v0.93h-1.13zM140.26 40.92h2.21v0.93h-2.21zM143.51 40.92h1.13v0.93h-1.13zM64.51 41.79h1.13v0.93h-1.13zM142.43 41.79h1.13v0.93h-1.13zM28.79 42.67h1.13v0.93h-1.13zM103.47 42.67h1.13v0.93h-1.13zM30.96 43.54h1.13v0.93h-1.13zM146.76 43.54h1.13v0.93h-1.13zM146.76 44.42h2.21v0.93h-2.21zM107.80 45.30h1.13v0.93h-1.13zM148.92 45.30h1.13v0.93h-1.13zM33.12 46.17h1.13v0.93h-1.13zM34.20 47.05h1.13v0.93h-1.13zM151.08 47.05h1.13v0.93h-1.13zM35.29 47.92h2.21v0.93h-2.21zM38.53 48.80h1.13v0.93h-1.13zM71.00 48.80h1.13v0.93h-1.13zM113.21 49.68h2.21v0.93h-2.21zM73.16 50.55h1.13v0.93h-1.13zM115.37 50.55h1.13v0.93h-1.13zM40.70 51.43h1.13v0.93h-1.13zM74.25 51.43h1.13v0.93h-1.13zM40.70 52.31h1.13v0.93h-1.13zM41.78 53.18h1.13v0.93h-1.13zM168.40 53.18h1.13v0.93h-1.13zM79.66 54.06h1.13v0.93h-1.13zM43.94 54.93h2.21v0.93h-2.21zM47.19 55.81h1.13v0.93h-1.13zM120.78 55.81h1.13v0.93h-1.13zM174.89 56.69h2.21v0.93h-2.21zM180.30 56.69h1.13v0.93h-1.13zM184.63 56.69h1.13v0.93h-1.13zM179.22 57.56h1.13v0.93h-1.13zM190.04 57.56h1.13v0.93h-1.13zM122.95 58.44h1.13v0.93h-1.13zM126.19 58.44h1.13v0.93h-1.13zM183.55 58.44h1.13v0.93h-1.13zM190.04 58.44h1.13v0.93h-1.13zM83.99 59.31h1.13v0.93h-1.13zM124.03 59.31h1.13v0.93h-1.13zM185.72 59.31h1.13v0.93h-1.13zM188.96 59.31h1.13v0.93h-1.13zM52.60 60.19h1.13v0.93h-1.13zM128.36 60.19h1.13v0.93h-1.13zM200.87 60.19h2.21v0.93h-2.21zM204.11 60.19h1.13v0.93h-1.13zM88.32 61.07h1.13v0.93h-1.13zM127.28 61.94h1.13v0.93h-1.13zM201.95 61.94h1.13v0.93h-1.13zM206.28 61.94h1.13v0.93h-1.13zM128.36 62.82h1.13v0.93h-1.13zM201.95 62.82h1.13v0.93h-1.13zM204.11 62.82h1.13v0.93h-1.13zM52.60 63.70h1.13v0.93h-1.13zM54.77 63.70h1.13v0.93h-1.13zM206.28 63.70h1.13v0.93h-1.13zM207.36 64.57h1.13v0.93h-1.13zM209.52 64.57h1.13v0.93h-1.13zM91.56 65.45h1.13v0.93h-1.13zM93.73 65.45h1.13v0.93h-1.13zM210.61 65.45h2.21v0.93h-2.21zM55.85 66.32h1.13v0.93h-1.13zM138.10 67.20h1.13v0.93h-1.13zM210.61 67.20h1.13v0.93h-1.13zM214.94 67.20h1.13v0.93h-1.13zM61.26 68.95h1.13v0.93h-1.13zM95.89 68.95h1.13v0.93h-1.13zM60.18 69.83h1.13v0.93h-1.13zM62.34 70.70h1.13v0.93h-1.13zM141.34 70.70h1.13v0.93h-1.13zM141.34 71.58h1.13v0.93h-1.13zM143.51 72.46h1.13v0.93h-1.13zM23.38 73.33h2.21v0.93h-2.21zM63.42 73.33h1.13v0.93h-1.13zM102.38 74.21h1.13v0.93h-1.13zM143.51 74.21h1.13v0.93h-1.13zM145.67 75.08h1.13v0.93h-1.13zM65.59 75.96h1.13v0.93h-1.13zM30.96 76.84h1.13v0.93h-1.13zM68.84 77.71h1.13v0.93h-1.13zM150.00 77.71h2.21v0.93h-2.21zM34.20 78.59h1.13v0.93h-1.13zM148.92 78.59h1.13v0.93h-1.13zM152.17 78.59h1.13v0.93h-1.13zM36.37 79.46h1.13v0.93h-1.13zM71.00 79.46h1.13v0.93h-1.13zM108.88 79.46h1.13v0.93h-1.13zM150.00 79.46h2.21v0.93h-2.21zM37.45 80.34h1.13v0.93h-1.13zM39.62 81.22h1.13v0.93h-1.13zM157.58 82.09h1.13v0.93h-1.13zM74.25 82.97h1.13v0.93h-1.13zM158.66 82.97h2.21v0.93h-2.21zM73.16 83.85h1.13v0.93h-1.13zM74.25 84.72h1.13v0.93h-1.13zM115.37 84.72h1.13v0.93h-1.13zM77.49 85.60h1.13v0.93h-1.13zM116.45 85.60h1.13v0.93h-1.13zM42.86 86.47h2.21v0.93h-2.21zM78.58 86.47h1.13v0.93h-1.13zM79.66 87.35h1.13v0.93h-1.13zM45.03 88.23h1.13v0.93h-1.13zM121.86 88.23h1.13v0.93h-1.13zM80.74 89.10h1.13v0.93h-1.13zM80.74 89.98h1.13v0.93h-1.13zM121.86 89.98h1.13v0.93h-1.13zM177.06 89.98h1.13v0.93h-1.13zM185.72 89.98h1.13v0.93h-1.13zM47.19 90.85h1.13v0.93h-1.13zM49.36 90.85h1.13v0.93h-1.13zM185.72 90.85h1.13v0.93h-1.13zM50.44 91.73h1.13v0.93h-1.13zM50.44 92.61h1.13v0.93h-1.13zM190.04 92.61h1.13v0.93h-1.13zM128.36 93.48h1.13v0.93h-1.13zM196.54 93.48h1.13v0.93h-1.13zM198.70 93.48h1.13v0.93h-1.13zM51.52 94.36h1.13v0.93h-1.13zM85.07 94.36h1.13v0.93h-1.13zM51.52 95.23h1.13v0.93h-1.13zM86.15 95.23h1.13v0.93h-1.13zM88.32 95.23h1.13v0.93h-1.13zM128.36 95.23h1.13v0.93h-1.13zM193.29 95.23h1.13v0.93h-1.13zM197.62 95.23h1.13v0.93h-1.13zM54.77 96.11h1.13v0.93h-1.13zM129.44 96.11h1.13v0.93h-1.13zM53.68 96.99h1.13v0.93h-1.13zM55.85 96.99h1.13v0.93h-1.13zM90.48 96.99h1.13v0.93h-1.13zM200.87 97.86h1.13v0.93h-1.13zM91.56 98.74h1.13v0.93h-1.13zM205.20 98.74h1.13v0.93h-1.13zM55.85 99.62h1.13v0.93h-1.13zM207.36 99.62h1.13v0.93h-1.13zM56.93 100.49h2.21v0.93h-2.21zM137.02 100.49h1.13v0.93h-1.13zM58.01 102.24h1.13v0.93h-1.13zM93.73 103.12h1.13v0.93h-1.13zM98.06 103.12h1.13v0.93h-1.13zM60.18 104.00h2.21v0.93h-2.21zM60.18 104.87h1.13v0.93h-1.13zM62.34 104.87h1.13v0.93h-1.13zM94.81 104.87h1.13v0.93h-1.13zM61.26 105.75h1.13v0.93h-1.13zM101.30 105.75h1.13v0.93h-1.13zM141.34 105.75h1.13v0.93h-1.13zM63.42 106.62h1.13v0.93h-1.13zM102.38 106.62h1.13v0.93h-1.13zM144.59 106.62h1.13v0.93h-1.13zM63.42 107.50h1.13v0.93h-1.13zM102.38 108.38h1.13v0.93h-1.13zM67.75 111.00h1.13v0.93h-1.13zM35.29 112.76h1.13v0.93h-1.13zM152.17 114.51h1.13v0.93h-1.13zM153.25 115.39h1.13v0.93h-1.13zM156.50 116.26h1.13v0.93h-1.13zM155.41 117.14h1.13v0.93h-1.13zM157.58 117.14h1.13v0.93h-1.13zM38.53 118.01h1.13v0.93h-1.13zM38.53 118.89h1.13v0.93h-1.13zM164.07 122.39h1.13v0.93h-1.13zM162.99 123.27h1.13v0.93h-1.13zM116.45 124.15h1.13v0.93h-1.13zM75.33 125.02h1.13v0.93h-1.13zM170.56 127.65h1.13v0.93h-1.13zM119.70 128.53h1.13v0.93h-1.13zM171.65 128.53h1.13v0.93h-1.13zM46.11 129.40h1.13v0.93h-1.13zM46.11 131.16h1.13v0.93h-1.13zM78.58 131.16h1.13v0.93h-1.13zM172.73 131.16h1.13v0.93h-1.13zM173.81 132.03h1.13v0.93h-1.13zM48.27 132.91h1.13v0.93h-1.13zM120.78 132.91h1.13v0.93h-1.13zM177.06 132.91h1.13v0.93h-1.13zM79.66 133.78h2.21v0.93h-2.21zM50.44 134.66h1.13v0.93h-1.13zM52.60 134.66h1.13v0.93h-1.13zM83.99 134.66h1.13v0.93h-1.13zM122.95 134.66h2.21v0.93h-2.21zM126.19 134.66h1.13v0.93h-1.13zM179.22 134.66h1.13v0.93h-1.13zM46.11 135.54h1.13v0.93h-1.13zM81.82 135.54h1.13v0.93h-1.13zM178.14 135.54h1.13v0.93h-1.13zM180.30 135.54h1.13v0.93h-1.13zM181.39 136.41h1.13v0.93h-1.13zM48.27 137.29h1.13v0.93h-1.13zM86.15 137.29h2.21v0.93h-2.21zM179.22 137.29h1.13v0.93h-1.13zM47.19 138.16h1.13v0.93h-1.13zM51.52 138.16h2.21v0.93h-2.21zM86.15 138.16h1.13v0.93h-1.13zM127.28 138.16h2.21v0.93h-2.21zM184.63 138.16h1.13v0.93h-1.13zM48.27 139.04h1.13v0.93h-1.13zM85.07 139.92h1.13v0.93h-1.13zM124.03 139.92h1.13v0.93h-1.13zM127.28 139.92h1.13v0.93h-1.13zM130.52 139.92h2.21v0.93h-2.21zM183.55 139.92h1.13v0.93h-1.13zM185.72 139.92h2.21v0.93h-2.21zM54.77 140.79h3.30v0.93h-3.30zM87.23 140.79h1.13v0.93h-1.13zM89.40 140.79h1.13v0.93h-1.13zM131.60 140.79h2.21v0.93h-2.21zM49.36 141.67h1.13v0.93h-1.13zM55.85 142.54h2.21v0.93h-2.21zM91.56 142.54h1.13v0.93h-1.13zM129.44 142.54h1.13v0.93h-1.13zM133.77 142.54h1.13v0.93h-1.13zM185.72 142.54h2.21v0.93h-2.21zM89.40 143.42h1.13v0.93h-1.13zM190.04 143.42h1.13v0.93h-1.13zM50.44 144.30h1.13v0.93h-1.13zM127.28 144.30h1.13v0.93h-1.13zM50.44 145.17h1.13v0.93h-1.13zM93.73 145.17h1.13v0.93h-1.13zM131.60 145.17h1.13v0.93h-1.13zM134.85 145.17h1.13v0.93h-1.13zM193.29 145.17h1.13v0.93h-1.13zM58.01 146.05h1.13v0.93h-1.13zM92.64 146.05h1.13v0.93h-1.13zM51.52 146.93h1.13v0.93h-1.13zM50.44 147.80h1.13v0.93h-1.13zM88.32 147.80h1.13v0.93h-1.13zM92.64 147.80h1.13v0.93h-1.13zM131.60 147.80h1.13v0.93h-1.13zM133.77 147.80h1.13v0.93h-1.13zM52.60 148.68h1.13v0.93h-1.13zM91.56 148.68h1.13v0.93h-1.13zM131.60 148.68h2.21v0.93h-2.21zM193.29 148.68h2.21v0.93h-2.21zM194.37 149.55h1.13v0.93h-1.13zM198.70 149.55h1.13v0.93h-1.13zM53.68 150.43h1.13v0.93h-1.13zM58.01 150.43h1.13v0.93h-1.13zM128.36 150.43h1.13v0.93h-1.13zM131.60 150.43h1.13v0.93h-1.13zM133.77 150.43h1.13v0.93h-1.13zM195.46 150.43h1.13v0.93h-1.13zM90.48 151.31h3.30v0.93h-3.30zM200.87 151.31h1.13v0.93h-1.13zM89.40 152.18h1.13v0.93h-1.13zM197.62 152.18h1.13v0.93h-1.13zM199.78 153.93h1.13v0.93h-1.13zM90.48 154.81h1.13v0.93h-1.13zM54.77 155.69h1.13v0.93h-1.13zM203.03 155.69h1.13v0.93h-1.13zM205.20 157.44h1.13v0.93h-1.13zM134.85 158.31h1.13v0.93h-1.13zM56.93 160.07h1.13v0.93h-1.13zM210.61 160.07h1.13v0.93h-1.13zM95.89 161.82h1.13v0.93h-1.13zM135.93 161.82h1.13v0.93h-1.13zM210.61 161.82h1.13v0.93h-1.13zM213.85 162.70h1.13v0.93h-1.13zM98.06 163.57h1.13v0.93h-1.13zM212.77 163.57h1.13v0.93h-1.13zM214.94 163.57h1.13v0.93h-1.13zM93.73 164.45h1.13v0.93h-1.13zM59.10 165.32h1.13v0.93h-1.13zM93.73 165.32h1.13v0.93h-1.13zM137.02 165.32h1.13v0.93h-1.13z"/>
<path fill="#701f57" d="M22.30 9.38h1.13v0.93h-1.13zM24.46 11.13h1.13v0.93h-1.13zM26.63 11.13h1.13v0.93h-1.13zM61.26 12.88h1.13v0.93h-1.13zM28.79 14.63h1.13v0.93h-1.13zM29.88 15.51h1.13v0.93h-1.13zM67.75 16.38h1.13v0.93h-1.13zM68.84 17.26h1.13v0.93h-1.13zM33.12 18.14h1.13v0.93h-1.13zM71.00 19.01h1.13v0.93h-1.13zM73.16 21.64h1.13v0.93h-1.13zM38.53 22.52h1.13v0.93h-1.13zM73.16 22.52h1.13v0.93h-1.13zM161.91 22.52h1.13v0.93h-1.13zM41.78 23.39h1.13v0.93h-1.13zM116.45 23.39h2.21v0.93h-2.21zM42.86 26.02h1.13v0.93h-1.13zM79.66 26.02h1.13v0.93h-1.13zM120.78 26.02h1.13v0.93h-1.13zM182.47 26.90h1.13v0.93h-1.13zM175.98 27.77h1.13v0.93h-1.13zM182.47 27.77h1.13v0.93h-1.13zM82.90 28.65h1.13v0.93h-1.13zM124.03 28.65h1.13v0.93h-1.13zM191.13 28.65h1.13v0.93h-1.13zM83.99 30.40h1.13v0.93h-1.13zM184.63 30.40h1.13v0.93h-1.13zM193.29 30.40h1.13v0.93h-1.13zM49.36 31.28h1.13v0.93h-1.13zM51.52 31.28h1.13v0.93h-1.13zM50.44 32.16h1.13v0.93h-1.13zM128.36 32.16h1.13v0.93h-1.13zM130.52 32.16h1.13v0.93h-1.13zM187.88 32.16h1.13v0.93h-1.13zM192.21 32.16h1.13v0.93h-1.13zM200.87 32.16h1.13v0.93h-1.13zM52.60 33.91h1.13v0.93h-1.13zM54.77 33.91h1.13v0.93h-1.13zM88.32 33.91h1.13v0.93h-1.13zM132.69 33.91h1.13v0.93h-1.13zM53.68 34.78h1.13v0.93h-1.13zM91.56 34.78h1.13v0.93h-1.13zM131.60 34.78h1.13v0.93h-1.13zM92.64 35.66h1.13v0.93h-1.13zM201.95 35.66h1.13v0.93h-1.13zM204.11 35.66h1.13v0.93h-1.13zM94.81 36.54h1.13v0.93h-1.13zM205.20 36.54h1.13v0.93h-1.13zM214.94 39.16h1.13v0.93h-1.13zM62.34 40.04h1.13v0.93h-1.13zM101.30 40.04h1.13v0.93h-1.13zM141.34 40.04h1.13v0.93h-1.13zM62.34 41.79h1.13v0.93h-1.13zM102.38 41.79h1.13v0.93h-1.13zM102.38 42.67h1.13v0.93h-1.13zM145.67 42.67h1.13v0.93h-1.13zM64.51 43.54h1.13v0.93h-1.13zM66.67 43.54h1.13v0.93h-1.13zM145.67 43.54h1.13v0.93h-1.13zM67.75 44.42h1.13v0.93h-1.13zM33.12 45.30h1.13v0.93h-1.13zM68.84 45.30h1.13v0.93h-1.13zM35.29 47.05h1.13v0.93h-1.13zM72.08 47.92h1.13v0.93h-1.13zM36.37 48.80h1.13v0.93h-1.13zM112.12 48.80h1.13v0.93h-1.13zM154.33 48.80h1.13v0.93h-1.13zM37.45 49.68h1.13v0.93h-1.13zM75.33 50.55h1.13v0.93h-1.13zM114.29 51.43h1.13v0.93h-1.13zM42.86 52.31h1.13v0.93h-1.13zM77.49 52.31h1.13v0.93h-1.13zM115.37 52.31h1.13v0.93h-1.13zM43.94 53.18h1.13v0.93h-1.13zM76.41 53.18h1.13v0.93h-1.13zM118.62 53.18h1.13v0.93h-1.13zM42.86 54.06h1.13v0.93h-1.13zM171.65 54.06h1.13v0.93h-1.13zM119.70 54.93h1.13v0.93h-1.13zM173.81 54.93h1.13v0.93h-1.13zM45.03 55.81h1.13v0.93h-1.13zM79.66 55.81h1.13v0.93h-1.13zM173.81 55.81h1.13v0.93h-1.13zM184.63 55.81h1.13v0.93h-1.13zM46.11 56.69h3.30v0.93h-3.30zM121.86 56.69h1.13v0.93h-1.13zM182.47 56.69h1.13v0.93h-1.13zM47.19 57.56h1.13v0.93h-1.13zM121.86 57.56h1.13v0.93h-1.13zM180.30 57.56h1.13v0.93h-1.13zM191.13 57.56h1.13v0.93h-1.13zM193.29 57.56h1.13v0.93h-1.13zM82.90 58.44h1.13v0.93h-1.13zM124.03 58.44h2.21v0.93h-2.21zM196.54 58.44h1.13v0.93h-1.13zM51.52 59.31h1.13v0.93h-1.13zM195.46 59.31h1.13v0.93h-1.13zM198.70 59.31h1.13v0.93h-1.13zM51.52 61.07h1.13v0.93h-1.13zM126.19 61.07h1.13v0.93h-1.13zM204.11 61.07h1.13v0.93h-1.13zM128.36 61.94h1.13v0.93h-1.13zM195.46 61.94h1.13v0.93h-1.13zM197.62 61.94h1.13v0.93h-1.13zM200.87 61.94h1.13v0.93h-1.13zM55.85 62.82h1.13v0.93h-1.13zM53.68 63.70h1.13v0.93h-1.13zM92.64 64.57h1.13v0.93h-1.13zM94.81 65.45h1.13v0.93h-1.13zM95.89 66.32h1.13v0.93h-1.13zM210.61 66.32h1.13v0.93h-1.13zM92.64 67.20h1.13v0.93h-1.13zM134.85 67.20h1.13v0.93h-1.13zM59.10 68.08h1.13v0.93h-1.13zM94.81 68.08h1.13v0.93h-1.13zM139.18 68.08h1.13v0.93h-1.13zM210.61 68.08h1.13v0.93h-1.13zM212.77 68.95h1.13v0.93h-1.13zM214.94 68.95h1.13v0.93h-1.13zM61.26 69.83h1.13v0.93h-1.13zM99.14 69.83h1.13v0.93h-1.13zM213.85 69.83h1.13v0.93h-1.13zM98.06 70.70h1.13v0.93h-1.13zM101.30 71.58h1.13v0.93h-1.13zM142.43 71.58h1.13v0.93h-1.13zM142.43 72.46h1.13v0.93h-1.13zM145.67 74.21h1.13v0.93h-1.13zM146.76 75.08h1.13v0.93h-1.13zM106.71 75.96h1.13v0.93h-1.13zM67.75 76.84h1.13v0.93h-1.13zM146.76 76.84h1.13v0.93h-1.13zM68.84 78.59h1.13v0.93h-1.13zM152.17 79.46h1.13v0.93h-1.13zM109.96 80.34h1.13v0.93h-1.13zM111.04 81.22h1.13v0.93h-1.13zM156.50 81.22h1.13v0.93h-1.13zM40.70 83.85h2.21v0.93h-2.21zM75.33 83.85h1.13v0.93h-1.13zM114.29 83.85h1.13v0.93h-1.13zM161.91 83.85h1.13v0.93h-1.13zM76.41 84.72h1.13v0.93h-1.13zM75.33 85.60h1.13v0.93h-1.13zM76.41 86.47h2.21v0.93h-2.21zM169.48 87.35h1.13v0.93h-1.13zM79.66 88.23h1.13v0.93h-1.13zM47.19 89.10h1.13v0.93h-1.13zM47.19 89.98h1.13v0.93h-1.13zM124.03 89.98h1.13v0.93h-1.13zM48.27 90.85h1.13v0.93h-1.13zM122.95 90.85h1.13v0.93h-1.13zM125.11 90.85h1.13v0.93h-1.13zM180.30 90.85h1.13v0.93h-1.13zM190.04 90.85h1.13v0.93h-1.13zM183.55 91.73h2.21v0.93h-2.21zM191.13 91.73h1.13v0.93h-1.13zM193.29 91.73h1.13v0.93h-1.13zM85.07 92.61h1.13v0.93h-1.13zM185.72 92.61h1.13v0.93h-1.13zM191.13 93.48h1.13v0.93h-1.13zM86.15 94.36h1.13v0.93h-1.13zM191.13 94.36h1.13v0.93h-1.13zM201.95 94.36h1.13v0.93h-1.13zM52.60 95.23h1.13v0.93h-1.13zM130.52 95.23h1.13v0.93h-1.13zM204.11 95.23h1.13v0.93h-1.13zM204.11 96.11h1.13v0.93h-1.13zM54.77 97.86h1.13v0.93h-1.13zM88.32 97.86h1.13v0.93h-1.13zM204.11 97.86h1.13v0.93h-1.13zM54.77 98.74h1.13v0.93h-1.13zM91.56 99.62h1.13v0.93h-1.13zM208.44 99.62h1.13v0.93h-1.13zM92.64 100.49h1.13v0.93h-1.13zM213.85 101.37h1.13v0.93h-1.13zM93.73 102.24h1.13v0.93h-1.13zM94.81 104.00h1.13v0.93h-1.13zM98.06 104.00h1.13v0.93h-1.13zM104.55 109.25h1.13v0.93h-1.13zM147.84 109.25h1.13v0.93h-1.13zM33.12 110.13h1.13v0.93h-1.13zM105.63 111.00h1.13v0.93h-1.13zM35.29 111.88h1.13v0.93h-1.13zM68.84 112.76h1.13v0.93h-1.13zM151.08 113.63h1.13v0.93h-1.13zM155.41 115.39h1.13v0.93h-1.13zM159.74 118.89h1.13v0.93h-1.13zM159.74 120.64h1.13v0.93h-1.13zM117.54 125.90h1.13v0.93h-1.13zM168.40 125.90h1.13v0.93h-1.13zM42.86 127.65h1.13v0.93h-1.13zM173.81 130.28h1.13v0.93h-1.13zM46.11 132.03h1.13v0.93h-1.13zM120.78 132.03h1.13v0.93h-1.13zM174.89 132.91h1.13v0.93h-1.13zM81.82 134.66h2.21v0.93h-2.21zM48.27 135.54h1.13v0.93h-1.13zM50.44 135.54h1.13v0.93h-1.13zM124.03 135.54h3.30v0.93h-3.30zM179.22 136.41h1.13v0.93h-1.13zM49.36 137.29h1.13v0.93h-1.13zM88.32 137.29h1.13v0.93h-1.13zM124.03 137.29h1.13v0.93h-1.13zM180.30 137.29h1.13v0.93h-1.13zM49.36 138.16h1.13v0.93h-1.13zM88.32 138.16h1.13v0.93h-1.13zM180.30 138.16h2.21v0.93h-2.21zM185.72 139.04h1.13v0.93h-1.13zM53.68 139.92h1.13v0.93h-1.13zM81.82 139.92h1.13v0.93h-1.13zM125.11 139.92h1.13v0.93h-1.13zM129.44 139.92h1.13v0.93h-1.13zM82.90 140.79h1.13v0.93h-1.13zM86.15 140.79h1.13v0.93h-1.13zM125.11 140.79h1.13v0.93h-1.13zM130.52 140.79h1.13v0.93h-1.13zM184.63 140.79h1.13v0.93h-1.13zM184.63 141.67h1.13v0.93h-1.13zM188.96 141.67h1.13v0.93h-1.13zM87.23 142.54h1.13v0.93h-1.13zM188.96 142.54h1.13v0.93h-1.13zM50.44 143.42h1.13v0.93h-1.13zM56.93 143.42h1.13v0.93h-1.13zM90.48 143.42h1.13v0.93h-1.13zM125.11 143.42h1.13v0.93h-1.13zM187.88 143.42h1.13v0.93h-1.13zM53.68 145.17h1.13v0.93h-1.13zM85.07 145.17h1.13v0.93h-1.13zM88.32 145.17h1.13v0.93h-1.13zM90.48 145.17h1.13v0.93h-1.13zM126.19 145.17h1.13v0.93h-1.13zM128.36 145.17h1.13v0.93h-1.13zM133.77 145.17h1.13v0.93h-1.13zM190.04 145.17h1.13v0.93h-1.13zM50.44 146.05h1.13v0.93h-1.13zM90.48 146.05h1.13v0.93h-1.13zM129.44 146.05h1.13v0.93h-1.13zM132.69 146.05h1.13v0.93h-1.13zM54.77 147.80h1.13v0.93h-1.13zM90.48 147.80h1.13v0.93h-1.13zM127.28 147.80h1.13v0.93h-1.13zM132.69 147.80h1.13v0.93h-1.13zM193.29 147.80h1.13v0.93h-1.13zM54.77 148.68h2.21v0.93h-2.21zM87.23 148.68h2.21v0.93h-2.21zM93.73 148.68h1.13v0.93h-1.13zM129.44 148.68h1.13v0.93h-1.13zM195.46 149.55h1.13v0.93h-1.13zM87.23 150.43h2.21v0.93h-2.21zM91.56 150.43h3.30v0.93h-3.30zM129.44 150.43h1.13v0.93h-1.13zM196.54 150.43h1.13v0.93h-1.13zM52.60 151.31h1.13v0.93h-1.13zM197.62 151.31h1.13v0.93h-1.13zM200.87 152.18h1.13v0.93h-1.13zM53.68 153.06h1.13v0.93h-1.13zM203.03 153.06h1.13v0.93h-1.13zM54.77 153.93h1.13v0.93h-1.13zM204.11 154.81h1.13v0.93h-1.13zM91.56 155.69h1.13v0.93h-1.13zM133.77 158.31h1.13v0.93h-1.13zM206.28 158.31h1.13v0.93h-1.13zM208.44 158.31h1.13v0.93h-1.13zM134.85 159.19h1.13v0.93h-1.13zM208.44 160.07h1.13v0.93h-1.13zM56.93 160.94h1.13v0.93h-1.13zM56.93 161.82h1.13v0.93h-1.13zM94.81 161.82h1.13v0.93h-1.13zM211.69 162.70h1.13v0.93h-1.13zM137.02 163.57h1.13v0.93h-1.13zM98.06 164.45h1.13v0.93h-1.13zM137.02 164.45h1.13v0.93h-1.13zM216.02 164.45h1.13v0.93h-1.13zM95.89 165.32h2.21v0.93h-2.21z"/>
<path fill="#7f1e5a" d="M60.18 11.13h1.13v0.93h-1.13zM99.14 12.00h1.13v0.93h-1.13zM68.84 18.14h1.13v0.93h-1.13zM109.96 19.01h1.13v0.93h-1.13zM71.00 19.89h1.13v0.93h-1.13zM77.49 25.15h1.13v0.93h-1.13zM78.58 26.02h1.13v0.93h-1.13zM78.58 26.90h1.13v0.93h-1.13zM174.89 27.77h1.13v0.93h-1.13zM185.72 27.77h1.13v0.93h-1.13zM81.82 28.65h1.13v0.93h-1.13zM125.11 29.53h1.13v0.93h-1.13zM187.88 29.53h1.13v0.93h-1.13zM190.04 30.40h1.13v0.93h-1.13zM195.46 30.40h1.13v0.93h-1.13zM126.19 31.28h1.13v0.93h-1.13zM198.70 31.28h1.13v0.93h-1.13zM191.13 32.16h1.13v0.93h-1.13zM193.29 32.16h1.13v0.93h-1.13zM198.70 32.16h1.13v0.93h-1.13zM88.32 33.03h1.13v0.93h-1.13zM192.21 33.03h1.13v0.93h-1.13zM198.70 33.03h1.13v0.93h-1.13zM200.87 33.03h1.13v0.93h-1.13zM196.54 33.91h1.13v0.93h-1.13zM201.95 33.91h1.13v0.93h-1.13zM88.32 34.78h1.13v0.93h-1.13zM198.70 34.78h1.13v0.93h-1.13zM90.48 36.54h1.13v0.93h-1.13zM93.73 36.54h1.13v0.93h-1.13zM135.93 36.54h1.13v0.93h-1.13zM209.52 37.41h1.13v0.93h-1.13zM138.10 39.16h1.13v0.93h-1.13zM140.26 39.16h1.13v0.93h-1.13zM96.97 40.92h1.13v0.93h-1.13zM28.79 41.79h1.13v0.93h-1.13zM143.51 41.79h1.13v0.93h-1.13zM117.54 54.06h3.30v0.93h-3.30zM169.48 54.06h2.21v0.93h-2.21zM46.11 54.93h1.13v0.93h-1.13zM171.65 54.93h1.13v0.93h-1.13zM182.47 55.81h1.13v0.93h-1.13zM178.14 56.69h1.13v0.93h-1.13zM185.72 56.69h1.13v0.93h-1.13zM50.44 57.56h1.13v0.93h-1.13zM184.63 57.56h1.13v0.93h-1.13zM196.54 57.56h1.13v0.93h-1.13zM48.27 58.44h1.13v0.93h-1.13zM187.88 58.44h1.13v0.93h-1.13zM191.13 58.44h1.13v0.93h-1.13zM195.46 58.44h1.13v0.93h-1.13zM126.19 59.31h1.13v0.93h-1.13zM187.88 59.31h1.13v0.93h-1.13zM190.04 59.31h1.13v0.93h-1.13zM198.70 60.19h1.13v0.93h-1.13zM50.44 61.07h1.13v0.93h-1.13zM201.95 61.07h1.13v0.93h-1.13zM51.52 61.94h1.13v0.93h-1.13zM129.44 61.94h2.21v0.93h-2.21zM199.78 61.94h1.13v0.93h-1.13zM52.60 62.82h1.13v0.93h-1.13zM130.52 63.70h1.13v0.93h-1.13zM212.77 66.32h1.13v0.93h-1.13zM56.93 67.20h2.21v0.93h-2.21zM137.02 67.20h1.13v0.93h-1.13zM60.18 68.08h1.13v0.93h-1.13zM93.73 68.08h1.13v0.93h-1.13zM213.85 68.08h1.13v0.93h-1.13zM137.02 68.95h1.13v0.93h-1.13zM140.26 69.83h1.13v0.93h-1.13zM212.77 69.83h1.13v0.93h-1.13zM61.26 70.70h1.13v0.93h-1.13zM66.67 75.96h1.13v0.93h-1.13zM147.84 76.84h2.21v0.93h-2.21zM67.75 77.71h1.13v0.93h-1.13zM147.84 77.71h1.13v0.93h-1.13zM151.08 78.59h1.13v0.93h-1.13zM38.53 81.22h1.13v0.93h-1.13zM40.70 82.97h1.13v0.93h-1.13zM73.16 82.97h1.13v0.93h-1.13zM41.78 84.72h1.13v0.93h-1.13zM42.86 85.60h1.13v0.93h-1.13zM45.03 87.35h1.13v0.93h-1.13zM48.27 89.98h1.13v0.93h-1.13zM182.47 89.98h1.13v0.93h-1.13zM49.36 91.73h1.13v0.93h-1.13zM182.47 91.73h1.13v0.93h-1.13zM196.54 91.73h1.13v0.93h-1.13zM182.47 92.61h1.13v0.93h-1.13zM187.88 92.61h1.13v0.93h-1.13zM193.29 92.61h1.13v0.93h-1.13zM51.52 93.48h1.13v0.93h-1.13zM190.04 94.36h1.13v0.93h-1.13zM198.70 94.36h1.13v0.93h-1.13zM88.32 96.11h2.21v0.93h-2.21zM54.77 96.99h1.13v0.93h-1.13zM91.56 97.86h1.13v0.93h-1.13zM206.28 98.74h1.13v0.93h-1.13zM90.48 99.62h1.13v0.93h-1.13zM211.69 100.49h1.13v0.93h-1.13zM59.10 101.37h1.13v0.93h-1.13zM94.81 101.37h1.13v0.93h-1.13zM92.64 102.24h1.13v0.93h-1.13zM94.81 102.24h1.13v0.93h-1.13zM59.10 103.12h2.21v0.93h-2.21zM214.94 103.12h1.13v0.93h-1.13zM61.26 104.87h1.13v0.93h-1.13zM96.97 105.75h1.13v0.93h-1.13zM100.22 107.50h2.21v0.93h-2.21zM105.63 110.13h1.13v0.93h-1.13zM118.62 126.77h1.13v0.93h-1.13zM118.62 127.65h1.13v0.93h-1.13zM119.70 130.28h1.13v0.93h-1.13zM79.66 132.03h1.13v0.93h-1.13zM79.66 132.91h2.21v0.93h-2.21zM120.78 134.66h1.13v0.93h-1.13zM49.36 135.54h1.13v0.93h-1.13zM85.07 135.54h2.21v0.93h-2.21zM47.19 136.41h1.13v0.93h-1.13zM53.68 137.29h2.21v0.93h-2.21zM182.47 137.29h1.13v0.93h-1.13zM50.44 138.16h1.13v0.93h-1.13zM53.68 138.16h1.13v0.93h-1.13zM121.86 138.16h2.21v0.93h-2.21zM184.63 139.04h1.13v0.93h-1.13zM51.52 139.92h1.13v0.93h-1.13zM53.68 140.79h1.13v0.93h-1.13zM83.99 140.79h1.13v0.93h-1.13zM125.11 141.67h1.13v0.93h-1.13zM185.72 141.67h1.13v0.93h-1.13zM48.27 142.54h1.13v0.93h-1.13zM50.44 142.54h2.21v0.93h-2.21zM53.68 142.54h1.13v0.93h-1.13zM131.60 142.54h2.21v0.93h-2.21zM52.60 143.42h1.13v0.93h-1.13zM55.85 143.42h1.13v0.93h-1.13zM85.07 143.42h3.30v0.93h-3.30zM127.28 143.42h1.13v0.93h-1.13zM130.52 143.42h1.13v0.93h-1.13zM54.77 145.17h1.13v0.93h-1.13zM89.40 145.17h1.13v0.93h-1.13zM91.56 145.17h2.21v0.93h-2.21zM51.52 146.05h1.13v0.93h-1.13zM54.77 146.05h1.13v0.93h-1.13zM88.32 146.05h1.13v0.93h-1.13zM130.52 146.05h1.13v0.93h-1.13zM193.29 146.05h1.13v0.93h-1.13zM192.21 146.93h1.13v0.93h-1.13zM194.37 146.93h1.13v0.93h-1.13zM51.52 147.80h1.13v0.93h-1.13zM129.44 147.80h1.13v0.93h-1.13zM53.68 148.68h1.13v0.93h-1.13zM89.40 148.68h1.13v0.93h-1.13zM127.28 148.68h1.13v0.93h-1.13zM52.60 150.43h1.13v0.93h-1.13zM88.32 151.31h1.13v0.93h-1.13zM201.95 153.06h1.13v0.93h-1.13zM54.77 154.81h1.13v0.93h-1.13zM201.95 154.81h1.13v0.93h-1.13zM92.64 157.44h1.13v0.93h-1.13zM134.85 160.07h1.13v0.93h-1.13zM56.93 162.70h1.13v0.93h-1.13zM96.97 162.70h1.13v0.93h-1.13zM59.10 164.45h1.13v0.93h-1.13zM95.89 164.45h1.13v0.93h-1.13z"/>
<path fill="#8e1d5b" d="M72.08 21.64h1.13v0.93h-1.13zM74.25 22.52h1.13v0.93h-1.13zM119.70 24.27h1.13v0.93h-1.13zM121.86 26.02h1.13v0.93h-1.13zM79.66 26.90h1.13v0.93h-1.13zM121.86 26.90h1.13v0.93h-1.13zM185.72 28.65h1.13v0.93h-1.13zM187.88 28.65h1.13v0.93h-1.13zM184.63 29.53h1.13v0.93h-1.13zM126.19 30.40h1.13v0.93h-1.13zM187.88 30.40h1.13v0.93h-1.13zM128.36 31.28h1.13v0.93h-1.13zM184.63 31.28h1.13v0.93h-1.13zM188.96 31.28h1.13v0.93h-1.13zM195.46 31.28h2.21v0.93h-2.21zM86.15 32.16h1.13v0.93h-1.13zM129.44 32.16h1.13v0.93h-1.13zM130.52 33.03h1.13v0.93h-1.13zM89.40 33.91h1.13v0.93h-1.13zM200.87 33.91h1.13v0.93h-1.13zM132.69 34.78h1.13v0.93h-1.13zM196.54 34.78h1.13v0.93h-1.13zM132.69 35.66h1.13v0.93h-1.13zM203.03 35.66h1.13v0.93h-1.13zM95.89 37.41h1.13v0.93h-1.13zM137.02 37.41h1.13v0.93h-1.13zM98.06 38.29h1.13v0.93h-1.13zM138.10 38.29h1.13v0.93h-1.13zM94.81 39.16h1.13v0.93h-1.13zM96.97 39.16h1.13v0.93h-1.13zM99.14 39.16h1.13v0.93h-1.13zM98.06 40.04h2.21v0.93h-2.21zM27.71 40.92h1.13v0.93h-1.13zM99.14 41.79h2.21v0.93h-2.21zM144.59 42.67h1.13v0.93h-1.13zM37.45 48.80h1.13v0.93h-1.13zM153.25 48.80h1.13v0.93h-1.13zM115.37 51.43h1.13v0.93h-1.13zM41.78 52.31h1.13v0.93h-1.13zM117.54 53.18h1.13v0.93h-1.13zM187.88 57.56h1.13v0.93h-1.13zM50.44 58.44h1.13v0.93h-1.13zM193.29 58.44h1.13v0.93h-1.13zM125.11 59.31h1.13v0.93h-1.13zM200.87 59.31h1.13v0.93h-1.13zM125.11 60.19h2.21v0.93h-2.21zM190.04 60.19h2.21v0.93h-2.21zM193.29 60.19h1.13v0.93h-1.13zM196.54 60.19h1.13v0.93h-1.13zM194.37 61.07h1.13v0.93h-1.13zM196.54 61.07h1.13v0.93h-1.13zM52.60 61.94h1.13v0.93h-1.13zM55.85 63.70h1.13v0.93h-1.13zM55.85 65.45h1.13v0.93h-1.13zM95.89 65.45h1.13v0.93h-1.13zM134.85 65.45h1.13v0.93h-1.13zM133.77 66.32h1.13v0.93h-1.13zM135.93 66.32h1.13v0.93h-1.13zM213.85 66.32h1.13v0.93h-1.13zM216.02 67.20h1.13v0.93h-1.13zM135.93 68.08h1.13v0.93h-1.13zM212.77 68.08h1.13v0.93h-1.13zM214.94 68.08h1.13v0.93h-1.13zM59.10 68.95h1.13v0.93h-1.13zM94.81 68.95h1.13v0.93h-1.13zM140.26 71.58h1.13v0.93h-1.13zM64.51 74.21h1.13v0.93h-1.13zM146.76 75.96h1.13v0.93h-1.13zM71.00 80.34h1.13v0.93h-1.13zM72.08 82.09h1.13v0.93h-1.13zM42.86 84.72h1.13v0.93h-1.13zM76.41 85.60h1.13v0.93h-1.13zM184.63 89.98h1.13v0.93h-1.13zM184.63 90.85h1.13v0.93h-1.13zM49.36 92.61h1.13v0.93h-1.13zM187.88 93.48h1.13v0.93h-1.13zM193.29 93.48h1.13v0.93h-1.13zM87.23 94.36h1.13v0.93h-1.13zM200.87 94.36h1.13v0.93h-1.13zM53.68 95.23h1.13v0.93h-1.13zM200.87 95.23h2.21v0.93h-2.21zM52.60 96.11h1.13v0.93h-1.13zM198.70 96.11h1.13v0.93h-1.13zM88.32 96.99h1.13v0.93h-1.13zM201.95 96.99h1.13v0.93h-1.13zM204.11 96.99h1.13v0.93h-1.13zM55.85 97.86h1.13v0.93h-1.13zM89.40 98.74h1.13v0.93h-1.13zM56.93 99.62h1.13v0.93h-1.13zM91.56 100.49h1.13v0.93h-1.13zM93.73 100.49h1.13v0.93h-1.13zM209.52 100.49h1.13v0.93h-1.13zM59.10 102.24h1.13v0.93h-1.13zM95.89 102.24h1.13v0.93h-1.13zM212.77 102.24h1.13v0.93h-1.13zM95.89 104.00h1.13v0.93h-1.13zM95.89 104.87h1.13v0.93h-1.13zM98.06 106.62h1.13v0.93h-1.13zM116.45 123.27h1.13v0.93h-1.13zM43.94 128.53h1.13v0.93h-1.13zM43.94 129.40h1.13v0.93h-1.13zM80.74 135.54h1.13v0.93h-1.13zM51.52 137.29h2.21v0.93h-2.21zM125.11 137.29h1.13v0.93h-1.13zM128.36 137.29h1.13v0.93h-1.13zM81.82 138.16h1.13v0.93h-1.13zM125.11 138.16h1.13v0.93h-1.13zM83.99 139.92h1.13v0.93h-1.13zM86.15 139.92h1.13v0.93h-1.13zM88.32 139.92h1.13v0.93h-1.13zM85.07 140.79h1.13v0.93h-1.13zM127.28 140.79h1.13v0.93h-1.13zM187.88 141.67h1.13v0.93h-1.13zM49.36 142.54h1.13v0.93h-1.13zM83.99 142.54h2.21v0.93h-2.21zM90.48 142.54h1.13v0.93h-1.13zM127.28 142.54h2.21v0.93h-2.21zM51.52 143.42h1.13v0.93h-1.13zM53.68 143.42h1.13v0.93h-1.13zM83.99 143.42h1.13v0.93h-1.13zM126.19 143.42h1.13v0.93h-1.13zM191.13 144.30h1.13v0.93h-1.13zM52.60 145.17h1.13v0.93h-1.13zM127.28 145.17h1.13v0.93h-1.13zM130.52 145.17h1.13v0.93h-1.13zM52.60 146.05h2.21v0.93h-2.21zM55.85 146.05h1.13v0.93h-1.13zM89.40 146.05h1.13v0.93h-1.13zM127.28 146.05h1.13v0.93h-1.13zM55.85 147.80h1.13v0.93h-1.13zM89.40 147.80h1.13v0.93h-1.13zM91.56 147.80h1.13v0.93h-1.13zM86.15 148.68h1.13v0.93h-1.13zM196.54 148.68h1.13v0.93h-1.13zM199.78 151.31h1.13v0.93h-1.13zM91.56 157.44h1.13v0.93h-1.13zM133.77 157.44h1.13v0.93h-1.13zM58.01 162.70h1.13v0.93h-1.13zM58.01 164.45h1.13v0.93h-1.13zM94.81 164.45h1.13v0.93h-1.13zM94.81 165.32h1.13v0.93h-1.13z"/>
<path fill="#9e1a5b" d="M62.34 12.00h1.13v0.93h-1.13zM119.70 25.15h1.13v0.93h-1.13zM171.65 26.02h2.21v0.93h-2.21zM172.73 26.90h1.13v0.93h-1.13zM80.74 27.77h1.13v0.93h-1.13zM122.95 27.77h1.13v0.93h-1.13zM184.63 27.77h1.13v0.93h-1.13zM191.13 30.40h1.13v0.93h-1.13zM186.80 31.28h1.13v0.93h-1.13zM190.04 32.16h1.13v0.93h-1.13zM195.46 32.16h2.21v0.93h-2.21zM87.23 33.03h1.13v0.93h-1.13zM194.37 33.03h1.13v0.93h-1.13zM193.29 33.91h1.13v0.93h-1.13zM195.46 33.91h1.13v0.93h-1.13zM198.70 33.91h1.13v0.93h-1.13zM90.48 34.78h1.13v0.93h-1.13zM200.87 34.78h1.13v0.93h-1.13zM198.70 35.66h1.13v0.93h-1.13zM137.02 36.54h1.13v0.93h-1.13zM91.56 37.41h1.13v0.93h-1.13zM93.73 37.41h1.13v0.93h-1.13zM135.93 37.41h1.13v0.93h-1.13zM138.10 37.41h1.13v0.93h-1.13zM94.81 38.29h1.13v0.93h-1.13zM139.18 38.29h1.13v0.93h-1.13zM142.43 40.92h1.13v0.93h-1.13zM29.88 43.54h1.13v0.93h-1.13zM153.25 47.92h1.13v0.93h-1.13zM116.45 51.43h1.13v0.93h-1.13zM116.45 52.31h1.13v0.93h-1.13zM46.11 55.81h1.13v0.93h-1.13zM174.89 55.81h1.13v0.93h-1.13zM185.72 57.56h1.13v0.93h-1.13zM51.52 60.19h1.13v0.93h-1.13zM52.60 61.07h2.21v0.93h-2.21zM191.13 61.07h1.13v0.93h-1.13zM53.68 61.94h1.13v0.93h-1.13zM198.70 61.94h1.13v0.93h-1.13zM129.44 62.82h2.21v0.93h-2.21zM56.93 64.57h1.13v0.93h-1.13zM133.77 65.45h1.13v0.93h-1.13zM56.93 66.32h1.13v0.93h-1.13zM134.85 66.32h1.13v0.93h-1.13zM96.97 67.20h1.13v0.93h-1.13zM213.85 67.20h1.13v0.93h-1.13zM139.18 68.95h1.13v0.93h-1.13zM213.85 68.95h1.13v0.93h-1.13zM39.62 82.09h1.13v0.93h-1.13zM190.04 91.73h1.13v0.93h-1.13zM184.63 92.61h1.13v0.93h-1.13zM196.54 92.61h1.13v0.93h-1.13zM50.44 93.48h1.13v0.93h-1.13zM198.70 95.23h1.13v0.93h-1.13zM201.95 96.11h1.13v0.93h-1.13zM200.87 96.99h1.13v0.93h-1.13zM203.03 97.86h1.13v0.93h-1.13zM92.64 99.62h1.13v0.93h-1.13zM93.73 101.37h1.13v0.93h-1.13zM211.69 101.37h1.13v0.93h-1.13zM213.85 102.24h2.21v0.93h-2.21zM96.97 103.12h1.13v0.93h-1.13zM99.14 104.87h1.13v0.93h-1.13zM99.14 105.75h1.13v0.93h-1.13zM117.54 125.02h1.13v0.93h-1.13zM119.70 129.40h1.13v0.93h-1.13zM45.03 131.16h1.13v0.93h-1.13zM82.90 135.54h1.13v0.93h-1.13zM121.86 135.54h1.13v0.93h-1.13zM126.19 137.29h2.21v0.93h-2.21zM48.27 138.16h1.13v0.93h-1.13zM85.07 138.16h1.13v0.93h-1.13zM49.36 139.92h1.13v0.93h-1.13zM122.95 139.92h1.13v0.93h-1.13zM126.19 139.92h1.13v0.93h-1.13zM128.36 139.92h1.13v0.93h-1.13zM49.36 140.79h1.13v0.93h-1.13zM126.19 140.79h1.13v0.93h-1.13zM52.60 142.54h1.13v0.93h-1.13zM54.77 142.54h1.13v0.93h-1.13zM54.77 143.42h1.13v0.93h-1.13zM87.23 145.17h1.13v0.93h-1.13zM129.44 145.17h1.13v0.93h-1.13zM132.69 145.17h1.13v0.93h-1.13zM126.19 146.05h1.13v0.93h-1.13zM53.68 147.80h1.13v0.93h-1.13zM87.23 147.80h1.13v0.93h-1.13zM90.48 148.68h1.13v0.93h-1.13zM132.69 150.43h1.13v0.93h-1.13zM91.56 158.31h1.13v0.93h-1.13zM93.73 161.82h1.13v0.93h-1.13zM93.73 163.57h1.13v0.93h-1.13zM95.89 163.57h1.13v0.93h-1.13z"/>
<path fill="#ad1759" d="M22.30 8.50h1.13v0.93h-1.13zM29.88 14.63h1.13v0.93h-1.13zM72.08 20.77h1.13v0.93h-1.13zM40.70 23.39h1.13v0.93h-1.13zM171.65 26.90h1.13v0.93h-1.13zM184.63 28.65h1.13v0.93h-1.13zM191.13 29.53h1.13v0.93h-1.13zM50.44 31.28h1.13v0.93h-1.13zM193.29 33.03h1.13v0.93h-1.13zM53.68 33.91h1.13v0.93h-1.13zM197.62 33.91h1.13v0.93h-1.13zM89.40 34.78h1.13v0.93h-1.13zM91.56 35.66h1.13v0.93h-1.13zM133.77 35.66h1.13v0.93h-1.13zM200.87 35.66h1.13v0.93h-1.13zM134.85 36.54h1.13v0.93h-1.13zM93.73 38.29h1.13v0.93h-1.13zM95.89 38.29h1.13v0.93h-1.13zM137.02 38.29h1.13v0.93h-1.13zM69.92 47.05h1.13v0.93h-1.13zM73.16 49.68h1.13v0.93h-1.13zM39.62 50.55h1.13v0.93h-1.13zM77.49 53.18h1.13v0.93h-1.13zM43.94 54.06h1.13v0.93h-1.13zM49.36 57.56h1.13v0.93h-1.13zM49.36 58.44h1.13v0.93h-1.13zM184.63 58.44h2.21v0.93h-2.21zM196.54 59.31h1.13v0.93h-1.13zM50.44 60.19h1.13v0.93h-1.13zM86.15 60.19h1.13v0.93h-1.13zM187.88 60.19h1.13v0.93h-1.13zM195.46 60.19h1.13v0.93h-1.13zM127.28 61.07h1.13v0.93h-1.13zM195.46 61.07h1.13v0.93h-1.13zM54.77 62.82h1.13v0.93h-1.13zM90.48 63.70h1.13v0.93h-1.13zM54.77 64.57h1.13v0.93h-1.13zM94.81 66.32h1.13v0.93h-1.13zM212.77 67.20h1.13v0.93h-1.13zM95.89 68.08h1.13v0.93h-1.13zM137.02 68.08h2.21v0.93h-2.21zM138.10 69.83h1.13v0.93h-1.13zM139.18 70.70h1.13v0.93h-1.13zM101.30 72.46h1.13v0.93h-1.13zM65.59 75.08h1.13v0.93h-1.13zM104.55 75.08h1.13v0.93h-1.13zM148.92 77.71h1.13v0.93h-1.13zM150.00 78.59h1.13v0.93h-1.13zM111.04 80.34h1.13v0.93h-1.13zM72.08 81.22h1.13v0.93h-1.13zM74.25 83.85h1.13v0.93h-1.13zM118.62 86.47h1.13v0.93h-1.13zM191.13 90.85h1.13v0.93h-1.13zM185.72 93.48h1.13v0.93h-1.13zM190.04 93.48h1.13v0.93h-1.13zM196.54 94.36h1.13v0.93h-1.13zM196.54 96.11h1.13v0.93h-1.13zM198.70 96.99h1.13v0.93h-1.13zM90.48 97.86h1.13v0.93h-1.13zM132.69 97.86h1.13v0.93h-1.13zM135.93 100.49h1.13v0.93h-1.13zM92.64 101.37h1.13v0.93h-1.13zM212.77 101.37h1.13v0.93h-1.13zM216.02 103.12h1.13v0.93h-1.13zM142.43 105.75h1.13v0.93h-1.13zM101.30 106.62h1.13v0.93h-1.13zM146.76 109.25h1.13v0.93h-1.13zM148.92 111.00h1.13v0.93h-1.13zM151.08 112.76h1.13v0.93h-1.13zM152.17 113.63h1.13v0.93h-1.13zM161.91 121.52h1.13v0.93h-1.13zM43.94 127.65h1.13v0.93h-1.13zM118.62 128.53h1.13v0.93h-1.13zM45.03 129.40h1.13v0.93h-1.13zM175.98 132.91h1.13v0.93h-1.13zM182.47 138.16h1.13v0.93h-1.13zM52.60 139.92h1.13v0.93h-1.13zM129.44 140.79h1.13v0.93h-1.13zM88.32 142.54h1.13v0.93h-1.13zM125.11 142.54h1.13v0.93h-1.13zM88.32 143.42h1.13v0.93h-1.13zM188.96 143.42h1.13v0.93h-1.13zM51.52 145.17h1.13v0.93h-1.13zM56.93 146.05h1.13v0.93h-1.13zM192.21 146.05h1.13v0.93h-1.13zM52.60 147.80h1.13v0.93h-1.13zM130.52 147.80h1.13v0.93h-1.13zM197.62 150.43h1.13v0.93h-1.13zM198.70 151.31h1.13v0.93h-1.13zM200.87 153.06h1.13v0.93h-1.13zM207.36 158.31h1.13v0.93h-1.13zM93.73 162.70h1.13v0.93h-1.13zM96.97 164.45h1.13v0.93h-1.13zM138.10 165.32h1.13v0.93h-1.13z"/>
<path fill="#bc1656" d="M46.11 27.77h1.13v0.93h-1.13zM48.27 29.53h1.13v0.93h-1.13zM185.72 30.40h1.13v0.93h-1.13zM187.88 31.28h1.13v0.93h-1.13zM193.29 31.28h1.13v0.93h-1.13zM52.60 33.03h1.13v0.93h-1.13zM190.04 33.03h2.21v0.93h-2.21zM54.77 34.78h1.13v0.93h-1.13zM201.95 36.54h1.13v0.93h-1.13zM58.01 37.41h1.13v0.93h-1.13zM95.89 39.16h1.13v0.93h-1.13zM96.97 40.04h1.13v0.93h-1.13zM140.26 40.04h1.13v0.93h-1.13zM62.34 40.92h1.13v0.93h-1.13zM72.08 48.80h1.13v0.93h-1.13zM38.53 49.68h1.13v0.93h-1.13zM76.41 52.31h1.13v0.93h-1.13zM127.28 60.19h1.13v0.93h-1.13zM128.36 61.07h1.13v0.93h-1.13zM193.29 61.07h1.13v0.93h-1.13zM198.70 61.07h1.13v0.93h-1.13zM200.87 61.07h1.13v0.93h-1.13zM196.54 61.94h1.13v0.93h-1.13zM53.68 62.82h1.13v0.93h-1.13zM89.40 62.82h1.13v0.93h-1.13zM198.70 62.82h1.13v0.93h-1.13zM200.87 62.82h1.13v0.93h-1.13zM92.64 65.45h1.13v0.93h-1.13zM93.73 67.20h1.13v0.93h-1.13zM135.93 67.20h1.13v0.93h-1.13zM211.69 67.20h1.13v0.93h-1.13zM211.69 68.08h1.13v0.93h-1.13zM109.96 79.46h1.13v0.93h-1.13zM116.45 84.72h1.13v0.93h-1.13zM78.58 88.23h1.13v0.93h-1.13zM121.86 89.10h1.13v0.93h-1.13zM122.95 89.98h1.13v0.93h-1.13zM195.46 93.48h1.13v0.93h-1.13zM193.29 94.36h1.13v0.93h-1.13zM87.23 95.23h1.13v0.93h-1.13zM129.44 95.23h1.13v0.93h-1.13zM195.46 95.23h1.13v0.93h-1.13zM130.52 96.11h1.13v0.93h-1.13zM210.61 100.49h1.13v0.93h-1.13zM138.10 102.24h1.13v0.93h-1.13zM98.06 105.75h1.13v0.93h-1.13zM99.14 106.62h2.21v0.93h-2.21zM143.51 106.62h1.13v0.93h-1.13zM147.84 110.13h1.13v0.93h-1.13zM153.25 114.51h1.13v0.93h-1.13zM166.24 125.02h1.13v0.93h-1.13zM169.48 127.65h1.13v0.93h-1.13zM43.94 130.28h1.13v0.93h-1.13zM172.73 130.28h1.13v0.93h-1.13zM177.06 133.78h1.13v0.93h-1.13zM82.90 138.16h2.21v0.93h-2.21zM50.44 140.79h3.30v0.93h-3.30zM124.03 140.79h1.13v0.93h-1.13zM187.88 142.54h1.13v0.93h-1.13zM86.15 145.17h1.13v0.93h-1.13zM194.37 147.80h1.13v0.93h-1.13zM195.46 148.68h1.13v0.93h-1.13zM199.78 152.18h1.13v0.93h-1.13zM92.64 158.31h1.13v0.93h-1.13zM92.64 159.19h1.13v0.93h-1.13zM208.44 159.19h1.13v0.93h-1.13zM212.77 162.70h1.13v0.93h-1.13zM94.81 163.57h1.13v0.93h-1.13zM96.97 163.57h1.13v0.93h-1.13z"/>
<path fill="#cb1b4f" d="M25.55 11.13h1.13v0.93h-1.13zM26.63 12.00h1.13v0.93h-1.13zM28.79 13.76h1.13v0.93h-1.13zM34.20 18.14h1.13v0.93h-1.13zM36.37 19.89h1.13v0.93h-1.13zM37.45 20.77h1.13v0.93h-1.13zM38.53 21.64h1.13v0.93h-1.13zM39.62 22.52h1.13v0.93h-1.13zM42.86 25.15h1.13v0.93h-1.13zM185.72 31.28h1.13v0.93h-1.13zM195.46 34.78h1.13v0.93h-1.13zM199.78 34.78h1.13v0.93h-1.13zM91.56 36.54h2.21v0.93h-2.21zM100.22 40.04h1.13v0.93h-1.13zM98.06 40.92h1.13v0.93h-1.13zM101.30 41.79h1.13v0.93h-1.13zM64.51 42.67h1.13v0.93h-1.13zM71.00 47.92h1.13v0.93h-1.13zM74.25 50.55h1.13v0.93h-1.13zM75.33 51.43h1.13v0.93h-1.13zM80.74 55.81h1.13v0.93h-1.13zM48.27 57.56h1.13v0.93h-1.13zM191.13 59.31h1.13v0.93h-1.13zM56.93 65.45h1.13v0.93h-1.13zM96.97 68.95h1.13v0.93h-1.13zM98.06 69.83h1.13v0.93h-1.13zM140.26 70.70h1.13v0.93h-1.13zM105.63 75.96h1.13v0.93h-1.13zM113.21 82.09h1.13v0.93h-1.13zM114.29 82.97h1.13v0.93h-1.13zM75.33 84.72h1.13v0.93h-1.13zM119.70 87.35h1.13v0.93h-1.13zM120.78 88.23h1.13v0.93h-1.13zM185.72 91.73h1.13v0.93h-1.13zM196.54 95.23h1.13v0.93h-1.13zM195.46 96.11h1.13v0.93h-1.13zM89.40 97.86h1.13v0.93h-1.13zM134.85 99.62h1.13v0.93h-1.13zM94.81 103.12h1.13v0.93h-1.13zM98.06 104.87h1.13v0.93h-1.13zM154.33 115.39h1.13v0.93h-1.13zM157.58 118.01h1.13v0.93h-1.13zM165.15 124.15h1.13v0.93h-1.13zM179.22 135.54h1.13v0.93h-1.13zM50.44 137.29h1.13v0.93h-1.13zM80.74 137.29h2.21v0.93h-2.21zM83.99 137.29h2.21v0.93h-2.21zM122.95 137.29h1.13v0.93h-1.13zM181.39 137.29h1.13v0.93h-1.13zM183.55 139.04h1.13v0.93h-1.13zM126.19 142.54h1.13v0.93h-1.13zM130.52 142.54h1.13v0.93h-1.13zM128.36 143.42h1.13v0.93h-1.13zM203.03 154.81h1.13v0.93h-1.13zM206.28 157.44h1.13v0.93h-1.13zM93.73 160.07h1.13v0.93h-1.13zM211.69 161.82h1.13v0.93h-1.13zM95.89 162.70h1.13v0.93h-1.13zM58.01 163.57h1.13v0.93h-1.13zM213.85 163.57h1.13v0.93h-1.13zM58.01 165.32h1.13v0.93h-1.13z"/>
<path fill="#d72549" d="M23.38 9.38h1.13v0.93h-1.13zM47.19 28.65h1.13v0.93h-1.13zM51.52 32.16h1.13v0.93h-1.13zM55.85 35.66h1.13v0.93h-1.13zM92.64 37.41h1.13v0.93h-1.13zM98.06 39.16h1.13v0.93h-1.13zM139.18 39.16h1.13v0.93h-1.13zM63.42 41.79h1.13v0.93h-1.13zM66.67 44.42h1.13v0.93h-1.13zM78.58 54.06h1.13v0.93h-1.13zM83.99 58.44h1.13v0.93h-1.13zM50.44 59.31h1.13v0.93h-1.13zM85.07 59.31h1.13v0.93h-1.13zM184.63 59.31h1.13v0.93h-1.13zM138.10 68.95h1.13v0.93h-1.13zM139.18 69.83h1.13v0.93h-1.13zM99.14 70.70h1.13v0.93h-1.13zM102.38 73.33h1.13v0.93h-1.13zM103.47 74.21h1.13v0.93h-1.13zM124.03 90.85h1.13v0.93h-1.13zM187.88 91.73h1.13v0.93h-1.13zM126.19 92.61h1.13v0.93h-1.13zM128.36 94.36h1.13v0.93h-1.13zM89.40 96.99h1.13v0.93h-1.13zM133.77 98.74h1.13v0.93h-1.13zM139.18 103.12h1.13v0.93h-1.13zM150.00 111.88h1.13v0.93h-1.13zM156.50 117.14h1.13v0.93h-1.13zM159.74 119.77h1.13v0.93h-1.13zM162.99 122.39h1.13v0.93h-1.13zM170.56 128.53h1.13v0.93h-1.13zM171.65 129.40h1.13v0.93h-1.13zM173.81 131.16h1.13v0.93h-1.13zM180.30 136.41h1.13v0.93h-1.13zM82.90 137.29h1.13v0.93h-1.13zM48.27 140.79h1.13v0.93h-1.13zM129.44 143.42h1.13v0.93h-1.13zM191.13 145.17h1.13v0.93h-1.13zM193.29 146.93h1.13v0.93h-1.13zM209.52 160.07h1.13v0.93h-1.13zM214.94 164.45h1.13v0.93h-1.13zM216.02 165.32h1.13v0.93h-1.13z"/>
<path fill="#e13342" d="M33.12 17.26h1.13v0.93h-1.13zM35.29 19.01h1.13v0.93h-1.13zM43.94 26.02h1.13v0.93h-1.13zM49.36 30.40h1.13v0.93h-1.13zM195.46 33.03h1.13v0.93h-1.13zM56.93 36.54h1.13v0.93h-1.13zM94.81 37.41h1.13v0.93h-1.13zM59.10 38.29h1.13v0.93h-1.13zM60.18 39.16h1.13v0.93h-1.13zM81.82 56.69h1.13v0.93h-1.13zM87.23 61.07h1.13v0.93h-1.13zM93.73 66.32h1.13v0.93h-1.13zM100.22 71.58h1.13v0.93h-1.13zM106.71 76.84h1.13v0.93h-1.13zM108.88 78.59h1.13v0.93h-1.13zM112.12 81.22h1.13v0.93h-1.13zM115.37 83.85h1.13v0.93h-1.13zM117.54 85.60h1.13v0.93h-1.13zM125.11 91.73h1.13v0.93h-1.13zM200.87 96.11h1.13v0.93h-1.13zM131.60 96.99h1.13v0.93h-1.13zM137.02 101.37h1.13v0.93h-1.13zM95.89 103.12h1.13v0.93h-1.13zM141.34 104.87h1.13v0.93h-1.13zM144.59 107.50h1.13v0.93h-1.13zM145.67 108.38h1.13v0.93h-1.13zM155.41 116.26h1.13v0.93h-1.13zM160.82 120.64h1.13v0.93h-1.13zM164.07 123.27h1.13v0.93h-1.13zM174.89 132.03h1.13v0.93h-1.13zM184.63 139.92h1.13v0.93h-1.13zM186.80 141.67h1.13v0.93h-1.13zM124.03 142.54h1.13v0.93h-1.13zM205.20 156.56h1.13v0.93h-1.13zM93.73 160.94h1.13v0.93h-1.13z"/>
<path fill="#e9423e" d="M24.46 10.25h1.13v0.93h-1.13zM27.71 12.88h1.13v0.93h-1.13zM30.96 15.51h1.13v0.93h-1.13zM32.04 16.38h1.13v0.93h-1.13zM41.78 24.27h1.13v0.93h-1.13zM45.03 26.90h1.13v0.93h-1.13zM61.26 40.04h1.13v0.93h-1.13zM65.59 43.54h1.13v0.93h-1.13zM67.75 45.30h1.13v0.93h-1.13zM68.84 46.17h1.13v0.93h-1.13zM79.66 54.93h1.13v0.93h-1.13zM82.90 57.56h1.13v0.93h-1.13zM88.32 61.94h1.13v0.93h-1.13zM55.85 64.57h1.13v0.93h-1.13zM91.56 64.57h1.13v0.93h-1.13zM107.80 77.71h1.13v0.93h-1.13zM127.28 93.48h1.13v0.93h-1.13zM140.26 104.00h1.13v0.93h-1.13zM96.97 104.87h1.13v0.93h-1.13zM158.66 118.89h1.13v0.93h-1.13zM167.32 125.90h1.13v0.93h-1.13zM168.40 126.77h1.13v0.93h-1.13zM178.14 134.66h1.13v0.93h-1.13zM185.72 140.79h1.13v0.93h-1.13zM190.04 144.30h1.13v0.93h-1.13zM196.54 149.55h1.13v0.93h-1.13zM201.95 153.93h1.13v0.93h-1.13zM204.11 155.69h1.13v0.93h-1.13zM210.61 160.94h1.13v0.93h-1.13z"/>
<path fill="#ee543f" d="M100.22 40.92h2.21v0.93h-2.21zM96.97 104.00h1.13v0.93h-1.13z"/>
<path fill="#f16646" d="M95.89 67.20h1.13v0.93h-1.13zM45.03 130.28h1.13v0.93h-1.13z"/>
<path fill="#f37651" d="M99.14 40.92h1.13v0.93h-1.13z"/>
<path fill="#f58860" d="M94.81 67.20h1.13v0.93h-1.13z"/>
<line x1="22.60" y1="8.75" x2="216.80" y2="165.95" stroke="#fffaf5" stroke-width="0.62" stroke-opacity="0.92"/>
<path d="M20.00 8.94h2.30M20.00 16.82h2.30M20.00 24.71h2.30M20.00 32.59h2.30M20.00 40.48h2.30M20.00 48.36h2.30M20.00 56.25h2.30M20.00 64.13h2.30M20.00 72.02h2.30M20.00 79.90h2.30M20.00 87.79h2.30M20.00 95.67h2.30M20.00 103.56h2.30M20.00 111.44h2.30M20.00 119.33h2.30M20.00 127.21h2.30M20.00 135.10h2.30M20.00 142.98h2.30M20.00 150.87h2.30M20.00 158.75h2.30M22.84 166.20v2.30M30.42 166.20v2.30M37.99 166.20v2.30M45.57 166.20v2.30M53.14 166.20v2.30M60.72 166.20v2.30M68.29 166.20v2.30M75.87 166.20v2.30M83.45 166.20v2.30M91.02 166.20v2.30M98.60 166.20v2.30M106.17 166.20v2.30M113.75 166.20v2.30M121.32 166.20v2.30M128.90 166.20v2.30M136.47 166.20v2.30M144.05 166.20v2.30M151.63 166.20v2.30M159.20 166.20v2.30M166.78 166.20v2.30M174.35 166.20v2.30M181.93 166.20v2.30M189.50 166.20v2.30M197.08 166.20v2.30M204.65 166.20v2.30M212.23 166.20v2.30M237.00 166.20h2.30M237.00 134.66h2.30M237.00 103.12h2.30M237.00 71.58h2.30M237.00 40.04h2.30M237.00 8.50h2.30" stroke="#222" stroke-width="0.6" fill="none"/>
<g font-family="DejaVu Sans, sans-serif" font-size="8.00" fill="#111" stroke="#111" stroke-width="0.15"><text transform="translate(16.80 12.66) scale(0.85 1)" text-anchor="end">0</text><text transform="translate(16.80 20.54) scale(0.85 1)" text-anchor="end">9</text><text transform="translate(16.80 28.43) scale(0.85 1)" text-anchor="end">18</text><text transform="translate(16.80 36.31) scale(0.85 1)" text-anchor="end">27</text><text transform="translate(16.80 44.20) scale(0.85 1)" text-anchor="end">36</text><text transform="translate(16.80 52.08) scale(0.85 1)" text-anchor="end">45</text><text transform="translate(16.80 59.97) scale(0.85 1)" text-anchor="end">54</text><text transform="translate(16.80 67.85) scale(0.85 1)" text-anchor="end">63</text><text transform="translate(16.80 75.74) scale(0.85 1)" text-anchor="end">72</text><text transform="translate(16.80 83.62) scale(0.85 1)" text-anchor="end">81</text><text transform="translate(16.80 91.51) scale(0.85 1)" text-anchor="end">90</text><text transform="translate(16.80 99.39) scale(0.85 1)" text-anchor="end">99</text><text transform="translate(16.80 107.28) scale(0.85 1)" text-anchor="end">108</text><text transform="translate(16.80 115.16) scale(0.85 1)" text-anchor="end">117</text><text transform="translate(16.80 123.05) scale(0.85 1)" text-anchor="end">126</text><text transform="translate(16.80 130.93) scale(0.85 1)" text-anchor="end">135</text><text transform="translate(16.80 138.82) scale(0.85 1)" text-anchor="end">144</text><text transform="translate(16.80 146.70) scale(0.85 1)" text-anchor="end">153</text><text transform="translate(16.80 154.59) scale(0.85 1)" text-anchor="end">162</text><text transform="translate(16.80 162.47) scale(0.85 1)" text-anchor="end">171</text><text transform="translate(25.56 174.10) rotate(-90) scale(0.88 1)" text-anchor="end">0</text><text transform="translate(33.14 174.10) rotate(-90) scale(0.88 1)" text-anchor="end">7</text><text transform="translate(40.71 174.10) rotate(-90) scale(0.88 1)" text-anchor="end">14</text><text transform="translate(48.29 174.10) rotate(-90) scale(0.88 1)" text-anchor="end">21</text><text transform="translate(55.86 174.10) rotate(-90) scale(0.88 1)" text-anchor="end">28</text><text transform="translate(63.44 174.10) rotate(-90) scale(0.88 1)" text-anchor="end">35</text><text transform="translate(71.01 174.10) rotate(-90) scale(0.88 1)" text-anchor="end">42</text><text transform="translate(78.59 174.10) rotate(-90) scale(0.88 1)" text-anchor="end">49</text><text transform="translate(86.17 174.10) rotate(-90) scale(0.88 1)" text-anchor="end">56</text><text transform="translate(93.74 174.10) rotate(-90) scale(0.88 1)" text-anchor="end">63</text><text transform="translate(101.32 174.10) rotate(-90) scale(0.88 1)" text-anchor="end">70</text><text transform="translate(108.89 174.10) rotate(-90) scale(0.88 1)" text-anchor="end">77</text><text transform="translate(116.47 174.10) rotate(-90) scale(0.88 1)" text-anchor="end">84</text><text transform="translate(124.04 174.10) rotate(-90) scale(0.88 1)" text-anchor="end">91</text><text transform="translate(131.62 174.10) rotate(-90) scale(0.88 1)" text-anchor="end">98</text><text transform="translate(139.19 174.10) rotate(-90) scale(0.88 1)" text-anchor="end">105</text><text transform="translate(146.77 174.10) rotate(-90) scale(0.88 1)" text-anchor="end">112</text><text transform="translate(154.35 174.10) rotate(-90) scale(0.88 1)" text-anchor="end">119</text><text transform="translate(161.92 174.10) rotate(-90) scale(0.88 1)" text-anchor="end">126</text><text transform="translate(169.50 174.10) rotate(-90) scale(0.88 1)" text-anchor="end">133</text><text transform="translate(177.07 174.10) rotate(-90) scale(0.88 1)" text-anchor="end">140</text><text transform="translate(184.65 174.10) rotate(-90) scale(0.88 1)" text-anchor="end">147</text><text transform="translate(192.22 174.10) rotate(-90) scale(0.88 1)" text-anchor="end">154</text><text transform="translate(199.80 174.10) rotate(-90) scale(0.88 1)" text-anchor="end">161</text><text transform="translate(207.37 174.10) rotate(-90) scale(0.88 1)" text-anchor="end">168</text><text transform="translate(214.95 174.10) rotate(-90) scale(0.88 1)" text-anchor="end">175</text><text transform="translate(242.50 169.82) scale(0.85 1)">0.0</text><text transform="translate(242.50 138.28) scale(0.85 1)">0.2</text><text transform="translate(242.50 106.74) scale(0.85 1)">0.4</text><text transform="translate(242.50 75.20) scale(0.85 1)">0.6</text><text transform="translate(242.50 43.66) scale(0.85 1)">0.8</text><text transform="translate(242.50 12.12) scale(0.85 1)">1.0</text></g>
<rect x="229.70" y="8.50" width="7.30" height="157.70" fill="url(#rk)"/>
</g>
<g id="panel-b">
<rect x="314.50" y="8.50" width="193.80" height="157.70" fill="#100b23"/>
<path fill="#3a1b42" fill-opacity="0.13" d="M318.50 8.50h1.00v157.70h-1.00zM320.49 8.50h1.00v157.70h-1.00zM322.49 8.50h1.00v157.70h-1.00zM323.49 8.50h1.00v157.70h-1.00zM324.49 8.50h1.00v157.70h-1.00zM329.48 8.50h1.00v157.70h-1.00zM330.48 8.50h1.00v157.70h-1.00zM331.48 8.50h1.00v157.70h-1.00zM334.48 8.50h1.00v157.70h-1.00zM335.48 8.50h1.00v157.70h-1.00zM341.47 8.50h1.00v157.70h-1.00zM350.46 8.50h1.00v157.70h-1.00zM354.46 8.50h1.00v157.70h-1.00zM357.46 8.50h1.00v157.70h-1.00zM362.45 8.50h1.00v157.70h-1.00zM363.45 8.50h1.00v157.70h-1.00zM366.45 8.50h1.00v157.70h-1.00zM372.44 8.50h1.00v157.70h-1.00zM373.44 8.50h1.00v157.70h-1.00zM379.43 8.50h1.00v157.70h-1.00zM381.43 8.50h1.00v157.70h-1.00zM388.42 8.50h1.00v157.70h-1.00zM393.42 8.50h1.00v157.70h-1.00zM394.42 8.50h1.00v157.70h-1.00zM397.41 8.50h1.00v157.70h-1.00zM408.40 8.50h1.00v157.70h-1.00zM413.40 8.50h1.00v157.70h-1.00zM415.40 8.50h1.00v157.70h-1.00zM417.39 8.50h1.00v157.70h-1.00zM427.38 8.50h1.00v157.70h-1.00zM429.38 8.50h1.00v157.70h-1.00zM433.38 8.50h1.00v157.70h-1.00zM444.37 8.50h1.00v157.70h-1.00zM447.36 8.50h1.00v157.70h-1.00zM452.36 8.50h1.00v157.70h-1.00zM459.35 8.50h1.00v157.70h-1.00zM462.35 8.50h1.00v157.70h-1.00zM463.35 8.50h1.00v157.70h-1.00zM464.35 8.50h1.00v157.70h-1.00zM465.34 8.50h1.00v157.70h-1.00zM466.34 8.50h1.00v157.70h-1.00zM469.34 8.50h1.00v157.70h-1.00zM477.33 8.50h1.00v157.70h-1.00zM479.33 8.50h1.00v157.70h-1.00zM486.32 8.50h1.00v157.70h-1.00zM487.32 8.50h1.00v157.70h-1.00zM494.31 8.50h1.00v157.70h-1.00zM496.31 8.50h1.00v157.70h-1.00zM499.31 8.50h1.00v157.70h-1.00zM501.31 8.50h1.00v157.70h-1.00z"/>
<path fill="#03051a" fill-opacity="0.25" d="M314.50 9.31h193.80v0.81h-193.80zM314.50 11.75h193.80v0.81h-193.80zM314.50 13.38h193.80v0.81h-193.80zM314.50 14.19h193.80v0.81h-193.80zM314.50 15.00h193.80v0.81h-193.80zM314.50 16.63h193.80v0.81h-193.80zM314.50 18.25h193.80v0.81h-193.80zM314.50 19.07h193.80v0.81h-193.80zM314.50 19.88h193.80v0.81h-193.80zM314.50 21.51h193.80v0.81h-193.80zM314.50 22.32h193.80v0.81h-193.80zM314.50 24.76h193.80v0.81h-193.80zM314.50 27.20h193.80v0.81h-193.80zM314.50 28.01h193.80v0.81h-193.80zM314.50 32.89h193.80v0.81h-193.80zM314.50 33.70h193.80v0.81h-193.80zM314.50 37.76h193.80v0.81h-193.80zM314.50 40.20h193.80v0.81h-193.80zM314.50 41.02h193.80v0.81h-193.80zM314.50 43.45h193.80v0.81h-193.80zM314.50 45.08h193.80v0.81h-193.80zM314.50 47.52h193.80v0.81h-193.80zM314.50 53.21h193.80v0.81h-193.80zM314.50 60.52h193.80v0.81h-193.80zM314.50 62.96h193.80v0.81h-193.80zM314.50 63.78h193.80v0.81h-193.80zM314.50 64.59h193.80v0.81h-193.80zM314.50 65.40h193.80v0.81h-193.80zM314.50 71.09h193.80v0.81h-193.80zM314.50 72.72h193.80v0.81h-193.80zM314.50 74.34h193.80v0.81h-193.80zM314.50 77.60h193.80v0.81h-193.80zM314.50 81.66h193.80v0.81h-193.80zM314.50 83.29h193.80v0.81h-193.80zM314.50 84.91h193.80v0.81h-193.80zM314.50 85.72h193.80v0.81h-193.80zM314.50 87.35h193.80v0.81h-193.80zM314.50 90.60h193.80v0.81h-193.80zM314.50 98.73h193.80v0.81h-193.80zM314.50 101.17h193.80v0.81h-193.80zM314.50 104.42h193.80v0.81h-193.80zM314.50 105.23h193.80v0.81h-193.80zM314.50 106.05h193.80v0.81h-193.80zM314.50 108.49h193.80v0.81h-193.80zM314.50 112.55h193.80v0.81h-193.80zM314.50 113.36h193.80v0.81h-193.80zM314.50 116.61h193.80v0.81h-193.80zM314.50 119.05h193.80v0.81h-193.80zM314.50 119.87h193.80v0.81h-193.80zM314.50 123.12h193.80v0.81h-193.80zM314.50 123.93h193.80v0.81h-193.80zM314.50 124.74h193.80v0.81h-193.80zM314.50 125.56h193.80v0.81h-193.80zM314.50 129.62h193.80v0.81h-193.80zM314.50 132.06h193.80v0.81h-193.80zM314.50 133.68h193.80v0.81h-193.80zM314.50 137.75h193.80v0.81h-193.80zM314.50 143.44h193.80v0.81h-193.80zM314.50 145.06h193.80v0.81h-193.80zM314.50 148.32h193.80v0.81h-193.80zM314.50 152.38h193.80v0.81h-193.80zM314.50 155.63h193.80v0.81h-193.80zM314.50 157.26h193.80v0.81h-193.80zM314.50 158.07h193.80v0.81h-193.80zM314.50 158.88h193.80v0.81h-193.80zM314.50 159.70h193.80v0.81h-193.80zM314.50 161.32h193.80v0.81h-193.80z"/>
<rect x="314.50" y="18.25" width="12.99" height="147.95" fill="#03051a" fill-opacity="0.5"/>
<path fill="#1b112b" d="M386.43 8.50h1.05v0.86h-1.05zM318.50 9.31h1.05v0.86h-1.05zM319.49 10.13h1.05v0.86h-1.05zM315.50 10.94h1.05v0.86h-1.05zM331.48 10.94h1.05v0.86h-1.05zM365.45 10.94h1.05v0.86h-1.05zM367.45 10.94h1.05v0.86h-1.05zM376.44 10.94h1.05v0.86h-1.05zM316.50 11.75h1.05v0.86h-1.05zM322.49 12.56h1.05v0.86h-1.05zM366.45 12.56h2.05v0.86h-2.05zM466.34 12.56h1.05v0.86h-1.05zM406.41 13.38h1.05v0.86h-1.05zM327.49 15.82h1.05v0.86h-1.05zM331.48 16.63h3.05v0.86h-3.05zM349.46 18.25h1.05v0.86h-1.05zM386.43 18.25h1.05v0.86h-1.05zM323.49 19.07h1.05v0.86h-1.05zM350.46 19.07h1.05v0.86h-1.05zM355.46 19.07h2.05v0.86h-2.05zM348.46 19.88h2.05v0.86h-2.05zM351.46 19.88h1.05v0.86h-1.05zM353.46 19.88h1.05v0.86h-1.05zM356.46 19.88h1.05v0.86h-1.05zM345.47 20.69h1.05v0.86h-1.05zM351.46 20.69h1.05v0.86h-1.05zM349.46 21.51h1.05v0.86h-1.05zM354.46 21.51h2.05v0.86h-2.05zM326.49 22.32h1.05v0.86h-1.05zM350.46 22.32h1.05v0.86h-1.05zM352.46 22.32h1.05v0.86h-1.05zM358.45 22.32h1.05v0.86h-1.05zM487.32 22.32h1.05v0.86h-1.05zM354.46 23.13h1.05v0.86h-1.05zM356.46 23.13h1.05v0.86h-1.05zM412.40 23.94h1.05v0.86h-1.05zM450.36 23.94h1.05v0.86h-1.05zM503.31 23.94h1.05v0.86h-1.05zM349.46 24.76h1.05v0.86h-1.05zM356.46 24.76h1.05v0.86h-1.05zM410.40 24.76h1.05v0.86h-1.05zM450.36 24.76h1.05v0.86h-1.05zM491.32 24.76h1.05v0.86h-1.05zM329.48 25.57h2.05v0.86h-2.05zM354.46 25.57h1.05v0.86h-1.05zM358.45 25.57h2.05v0.86h-2.05zM411.40 25.57h1.05v0.86h-1.05zM351.46 26.38h1.05v0.86h-1.05zM492.32 26.38h1.05v0.86h-1.05zM332.48 27.20h1.05v0.86h-1.05zM355.46 27.20h2.05v0.86h-2.05zM358.45 27.20h1.05v0.86h-1.05zM494.31 27.20h2.05v0.86h-2.05zM333.48 28.01h1.05v0.86h-1.05zM355.46 28.01h1.05v0.86h-1.05zM360.45 28.01h1.05v0.86h-1.05zM495.31 28.01h1.05v0.86h-1.05zM354.46 28.82h1.05v0.86h-1.05zM356.46 28.82h1.05v0.86h-1.05zM358.45 28.82h1.05v0.86h-1.05zM432.38 28.82h1.05v0.86h-1.05zM439.37 28.82h1.05v0.86h-1.05zM493.32 28.82h1.05v0.86h-1.05zM335.48 29.64h1.05v0.86h-1.05zM359.45 29.64h1.05v0.86h-1.05zM494.31 29.64h1.05v0.86h-1.05zM359.45 30.45h1.05v0.86h-1.05zM363.45 30.45h1.05v0.86h-1.05zM378.43 30.45h1.05v0.86h-1.05zM337.48 31.26h1.05v0.86h-1.05zM355.46 31.26h1.05v0.86h-1.05zM359.45 31.26h1.05v0.86h-1.05zM470.34 31.26h1.05v0.86h-1.05zM338.48 32.07h1.05v0.86h-1.05zM359.45 32.07h1.05v0.86h-1.05zM451.36 32.07h1.05v0.86h-1.05zM357.46 32.89h1.05v0.86h-1.05zM362.45 32.89h1.05v0.86h-1.05zM378.43 32.89h1.05v0.86h-1.05zM488.32 32.89h1.05v0.86h-1.05zM502.31 32.89h1.05v0.86h-1.05zM504.30 32.89h1.05v0.86h-1.05zM340.47 33.70h1.05v0.86h-1.05zM362.45 33.70h2.05v0.86h-2.05zM427.38 34.51h1.05v0.86h-1.05zM333.48 35.33h1.05v0.86h-1.05zM342.47 35.33h1.05v0.86h-1.05zM362.45 35.33h1.05v0.86h-1.05zM500.31 35.33h1.05v0.86h-1.05zM355.46 36.14h1.05v0.86h-1.05zM363.45 36.14h1.05v0.86h-1.05zM430.38 36.14h1.05v0.86h-1.05zM363.45 36.95h1.05v0.86h-1.05zM425.39 36.95h1.05v0.86h-1.05zM495.31 36.95h1.05v0.86h-1.05zM502.31 36.95h1.05v0.86h-1.05zM363.45 37.76h1.05v0.86h-1.05zM365.45 37.76h1.05v0.86h-1.05zM424.39 37.76h1.05v0.86h-1.05zM504.30 37.76h1.05v0.86h-1.05zM346.47 38.58h1.05v0.86h-1.05zM361.45 38.58h1.05v0.86h-1.05zM425.39 38.58h1.05v0.86h-1.05zM364.45 39.39h1.05v0.86h-1.05zM366.45 39.39h1.05v0.86h-1.05zM348.46 40.20h1.05v0.86h-1.05zM365.45 40.20h1.05v0.86h-1.05zM426.38 40.20h1.05v0.86h-1.05zM462.35 40.20h1.05v0.86h-1.05zM349.46 41.02h1.05v0.86h-1.05zM367.45 41.02h1.05v0.86h-1.05zM427.38 41.02h1.05v0.86h-1.05zM501.31 41.02h1.05v0.86h-1.05zM428.38 41.83h1.05v0.86h-1.05zM384.43 42.64h1.05v0.86h-1.05zM439.37 42.64h1.05v0.86h-1.05zM352.46 43.45h1.05v0.86h-1.05zM443.37 44.27h1.05v0.86h-1.05zM354.46 45.08h1.05v0.86h-1.05zM369.44 45.08h1.05v0.86h-1.05zM433.38 45.08h1.05v0.86h-1.05zM367.45 45.89h1.05v0.86h-1.05zM434.38 45.89h1.05v0.86h-1.05zM371.44 47.52h1.05v0.86h-1.05zM435.38 47.52h1.05v0.86h-1.05zM357.46 48.33h1.05v0.86h-1.05zM436.37 48.33h1.05v0.86h-1.05zM446.36 48.33h1.05v0.86h-1.05zM499.31 48.33h1.05v0.86h-1.05zM371.44 49.14h1.05v0.86h-1.05zM373.44 49.96h1.05v0.86h-1.05zM438.37 49.96h1.05v0.86h-1.05zM486.32 49.96h1.05v0.86h-1.05zM371.44 50.77h1.05v0.86h-1.05zM440.37 50.77h1.05v0.86h-1.05zM484.32 50.77h1.05v0.86h-1.05zM373.44 51.58h1.05v0.86h-1.05zM384.43 51.58h1.05v0.86h-1.05zM440.37 51.58h1.05v0.86h-1.05zM345.47 53.21h1.05v0.86h-1.05zM443.37 54.02h1.05v0.86h-1.05zM453.36 54.02h1.05v0.86h-1.05zM444.37 54.83h1.05v0.86h-1.05zM454.36 54.83h1.05v0.86h-1.05zM349.46 55.65h1.05v0.86h-1.05zM376.44 55.65h1.05v0.86h-1.05zM430.38 55.65h1.05v0.86h-1.05zM368.44 56.46h1.05v0.86h-1.05zM408.40 56.46h1.05v0.86h-1.05zM439.37 56.46h1.05v0.86h-1.05zM494.31 56.46h1.05v0.86h-1.05zM497.31 57.27h1.05v0.86h-1.05zM456.35 58.09h1.05v0.86h-1.05zM497.31 58.09h1.05v0.86h-1.05zM457.35 58.90h1.05v0.86h-1.05zM451.36 59.71h1.05v0.86h-1.05zM452.36 60.52h1.05v0.86h-1.05zM504.30 60.52h1.05v0.86h-1.05zM340.47 61.34h1.05v0.86h-1.05zM412.40 61.34h1.05v0.86h-1.05zM454.36 61.34h1.05v0.86h-1.05zM340.47 62.15h1.05v0.86h-1.05zM383.43 62.96h1.05v0.86h-1.05zM461.35 62.96h1.05v0.86h-1.05zM386.43 64.59h1.05v0.86h-1.05zM458.35 64.59h1.05v0.86h-1.05zM463.35 64.59h1.05v0.86h-1.05zM383.43 67.03h1.05v0.86h-1.05zM461.35 67.03h1.05v0.86h-1.05zM362.45 67.84h1.05v0.86h-1.05zM463.35 67.84h1.05v0.86h-1.05zM411.40 71.09h1.05v0.86h-1.05zM414.40 71.09h2.05v0.86h-2.05zM479.33 71.09h1.05v0.86h-1.05zM467.34 71.91h1.05v0.86h-1.05zM475.33 72.72h1.05v0.86h-1.05zM393.42 75.16h1.05v0.86h-1.05zM410.40 75.16h1.05v0.86h-1.05zM395.42 75.97h1.05v0.86h-1.05zM402.41 77.60h1.05v0.86h-1.05zM397.41 78.41h1.05v0.86h-1.05zM410.40 78.41h1.05v0.86h-1.05zM457.35 78.41h1.05v0.86h-1.05zM408.40 79.22h1.05v0.86h-1.05zM427.38 79.22h1.05v0.86h-1.05zM399.41 80.03h1.05v0.86h-1.05zM408.40 80.85h1.05v0.86h-1.05zM419.39 80.85h1.05v0.86h-1.05zM427.38 80.85h1.05v0.86h-1.05zM407.40 81.66h2.05v0.86h-2.05zM488.32 83.29h1.05v0.86h-1.05zM489.32 84.10h1.05v0.86h-1.05zM453.36 84.91h1.05v0.86h-1.05zM456.35 84.91h1.05v0.86h-1.05zM436.37 85.72h1.05v0.86h-1.05zM435.38 86.54h2.05v0.86h-2.05zM384.43 87.35h1.05v0.86h-1.05zM483.33 87.35h1.05v0.86h-1.05zM493.32 87.35h1.05v0.86h-1.05zM332.48 88.16h1.05v0.86h-1.05zM337.48 88.16h1.05v0.86h-1.05zM430.38 88.98h1.05v0.86h-1.05zM419.39 89.79h1.05v0.86h-1.05zM487.32 89.79h1.05v0.86h-1.05zM339.47 90.60h1.05v0.86h-1.05zM460.35 90.60h1.05v0.86h-1.05zM496.31 90.60h1.05v0.86h-1.05zM498.31 90.60h1.05v0.86h-1.05zM337.48 91.41h1.05v0.86h-1.05zM435.38 91.41h1.05v0.86h-1.05zM460.35 91.41h1.05v0.86h-1.05zM499.31 92.23h1.05v0.86h-1.05zM338.48 93.04h1.05v0.86h-1.05zM423.39 93.04h1.05v0.86h-1.05zM491.32 93.04h1.05v0.86h-1.05zM499.31 93.04h2.05v0.86h-2.05zM340.47 93.85h1.05v0.86h-1.05zM344.47 93.85h1.05v0.86h-1.05zM424.39 93.85h1.05v0.86h-1.05zM461.35 93.85h1.05v0.86h-1.05zM500.31 93.85h2.05v0.86h-2.05zM340.47 94.67h1.05v0.86h-1.05zM345.47 94.67h1.05v0.86h-1.05zM493.32 94.67h2.05v0.86h-2.05zM426.38 95.48h1.05v0.86h-1.05zM503.31 95.48h1.05v0.86h-1.05zM418.39 96.29h1.05v0.86h-1.05zM496.31 96.29h1.05v0.86h-1.05zM342.47 97.10h1.05v0.86h-1.05zM427.38 97.10h1.05v0.86h-1.05zM473.34 97.10h1.05v0.86h-1.05zM496.31 97.10h1.05v0.86h-1.05zM370.44 97.92h1.05v0.86h-1.05zM416.39 97.92h1.05v0.86h-1.05zM429.38 97.92h1.05v0.86h-1.05zM473.34 97.92h1.05v0.86h-1.05zM497.31 97.92h1.05v0.86h-1.05zM370.44 98.73h1.05v0.86h-1.05zM498.31 98.73h1.05v0.86h-1.05zM474.34 99.54h1.05v0.86h-1.05zM353.46 100.36h1.05v0.86h-1.05zM356.46 100.36h1.05v0.86h-1.05zM355.46 101.17h1.05v0.86h-1.05zM433.38 101.17h1.05v0.86h-1.05zM347.47 101.98h1.05v0.86h-1.05zM383.43 101.98h1.05v0.86h-1.05zM502.31 101.98h1.05v0.86h-1.05zM421.39 104.42h1.05v0.86h-1.05zM437.37 104.42h1.05v0.86h-1.05zM410.40 105.23h1.05v0.86h-1.05zM507.30 105.23h1.05v0.86h-1.05zM352.46 106.05h1.05v0.86h-1.05zM439.37 106.05h1.05v0.86h-1.05zM465.34 106.05h1.05v0.86h-1.05zM362.45 106.86h1.05v0.86h-1.05zM465.34 106.86h1.05v0.86h-1.05zM442.37 108.49h1.05v0.86h-1.05zM446.36 108.49h1.05v0.86h-1.05zM443.37 109.30h1.05v0.86h-1.05zM356.46 110.11h1.05v0.86h-1.05zM366.45 110.11h1.05v0.86h-1.05zM435.38 110.92h1.05v0.86h-1.05zM358.45 111.74h1.05v0.86h-1.05zM437.37 112.55h1.05v0.86h-1.05zM438.37 113.36h1.05v0.86h-1.05zM448.36 113.36h1.05v0.86h-1.05zM339.47 114.18h1.05v0.86h-1.05zM362.45 114.18h1.05v0.86h-1.05zM386.43 114.18h1.05v0.86h-1.05zM339.47 114.99h1.05v0.86h-1.05zM385.43 114.99h1.05v0.86h-1.05zM440.37 114.99h1.05v0.86h-1.05zM412.40 115.80h1.05v0.86h-1.05zM451.36 115.80h1.05v0.86h-1.05zM365.45 116.61h1.05v0.86h-1.05zM442.37 116.61h1.05v0.86h-1.05zM452.36 116.61h1.05v0.86h-1.05zM499.31 116.61h1.05v0.86h-1.05zM366.45 118.24h1.05v0.86h-1.05zM367.45 119.05h1.05v0.86h-1.05zM446.36 119.05h1.05v0.86h-1.05zM503.31 119.05h1.05v0.86h-1.05zM446.36 119.87h1.05v0.86h-1.05zM496.31 119.87h1.05v0.86h-1.05zM369.44 120.68h1.05v0.86h-1.05zM380.43 120.68h1.05v0.86h-1.05zM457.35 120.68h1.05v0.86h-1.05zM477.33 120.68h1.05v0.86h-1.05zM448.36 121.49h2.05v0.86h-2.05zM477.33 121.49h1.05v0.86h-1.05zM496.31 121.49h1.05v0.86h-1.05zM503.31 121.49h1.05v0.86h-1.05zM503.31 122.30h1.05v0.86h-1.05zM374.44 123.12h1.05v0.86h-1.05zM386.43 123.12h1.05v0.86h-1.05zM375.44 123.93h1.05v0.86h-1.05zM377.44 123.93h1.05v0.86h-1.05zM451.36 123.93h1.05v0.86h-1.05zM476.33 123.93h1.05v0.86h-1.05zM376.44 124.74h1.05v0.86h-1.05zM379.43 124.74h1.05v0.86h-1.05zM452.36 124.74h1.05v0.86h-1.05zM383.43 125.56h1.05v0.86h-1.05zM478.33 125.56h1.05v0.86h-1.05zM386.43 126.37h1.05v0.86h-1.05zM353.46 127.18h1.05v0.86h-1.05zM455.35 127.18h1.05v0.86h-1.05zM382.43 127.99h1.05v0.86h-1.05zM456.35 127.99h1.05v0.86h-1.05zM465.34 127.99h1.05v0.86h-1.05zM477.33 127.99h2.05v0.86h-2.05zM384.43 128.81h1.05v0.86h-1.05zM457.35 128.81h1.05v0.86h-1.05zM467.34 128.81h1.05v0.86h-1.05zM387.42 129.62h1.05v0.86h-1.05zM505.30 129.62h1.05v0.86h-1.05zM385.43 130.43h1.05v0.86h-1.05zM472.34 130.43h1.05v0.86h-1.05zM375.44 131.25h1.05v0.86h-1.05zM460.35 131.25h1.05v0.86h-1.05zM462.35 132.87h1.05v0.86h-1.05zM506.30 132.87h1.05v0.86h-1.05zM385.43 134.50h1.05v0.86h-1.05zM403.41 134.50h1.05v0.86h-1.05zM472.34 134.50h1.05v0.86h-1.05zM349.46 135.31h1.05v0.86h-1.05zM397.41 135.31h1.05v0.86h-1.05zM474.34 135.31h1.05v0.86h-1.05zM493.32 135.31h1.05v0.86h-1.05zM455.35 136.12h1.05v0.86h-1.05zM476.33 136.12h1.05v0.86h-1.05zM490.32 136.12h1.05v0.86h-1.05zM349.46 136.94h1.05v0.86h-1.05zM477.33 136.94h1.05v0.86h-1.05zM498.31 136.94h1.05v0.86h-1.05zM433.38 137.75h1.05v0.86h-1.05zM438.37 137.75h1.05v0.86h-1.05zM455.35 137.75h1.05v0.86h-1.05zM478.33 137.75h1.05v0.86h-1.05zM498.31 137.75h1.05v0.86h-1.05zM392.42 138.56h1.05v0.86h-1.05zM478.33 138.56h1.05v0.86h-1.05zM401.41 139.37h1.05v0.86h-1.05zM445.36 139.37h1.05v0.86h-1.05zM470.34 139.37h1.05v0.86h-1.05zM480.33 139.37h1.05v0.86h-1.05zM428.38 140.19h1.05v0.86h-1.05zM471.34 140.19h1.05v0.86h-1.05zM372.44 141.00h1.05v0.86h-1.05zM396.42 141.81h1.05v0.86h-1.05zM448.36 142.63h1.05v0.86h-1.05zM467.34 142.63h2.05v0.86h-2.05zM392.42 143.44h1.05v0.86h-1.05zM398.41 143.44h1.05v0.86h-1.05zM476.33 143.44h1.05v0.86h-1.05zM495.31 143.44h1.05v0.86h-1.05zM413.40 144.25h1.05v0.86h-1.05zM427.38 144.25h1.05v0.86h-1.05zM409.40 145.06h1.05v0.86h-1.05zM413.40 145.06h1.05v0.86h-1.05zM427.38 145.06h1.05v0.86h-1.05zM446.36 145.06h1.05v0.86h-1.05zM498.31 145.06h1.05v0.86h-1.05zM411.40 146.69h1.05v0.86h-1.05zM498.31 146.69h1.05v0.86h-1.05zM412.40 147.50h1.05v0.86h-1.05zM445.36 147.50h1.05v0.86h-1.05zM433.38 148.32h1.05v0.86h-1.05zM452.36 148.32h1.05v0.86h-1.05zM481.33 148.32h1.05v0.86h-1.05zM338.48 150.76h1.05v0.86h-1.05zM493.32 150.76h1.05v0.86h-1.05zM507.30 150.76h1.05v0.86h-1.05zM378.43 151.57h1.05v0.86h-1.05zM338.48 152.38h1.05v0.86h-1.05zM495.31 152.38h1.05v0.86h-1.05zM337.48 153.19h2.05v0.86h-2.05zM487.32 153.19h1.05v0.86h-1.05zM343.47 154.01h1.05v0.86h-1.05zM420.39 154.01h1.05v0.86h-1.05zM498.31 154.82h2.05v0.86h-2.05zM341.47 155.63h1.05v0.86h-1.05zM422.39 155.63h1.05v0.86h-1.05zM490.32 155.63h1.05v0.86h-1.05zM500.31 155.63h1.05v0.86h-1.05zM331.48 156.45h2.05v0.86h-2.05zM341.47 156.45h1.05v0.86h-1.05zM343.47 156.45h1.05v0.86h-1.05zM483.33 156.45h1.05v0.86h-1.05zM488.32 156.45h1.05v0.86h-1.05zM478.33 157.26h1.05v0.86h-1.05zM363.45 158.07h1.05v0.86h-1.05zM397.41 158.07h1.05v0.86h-1.05zM343.47 158.88h3.05v0.86h-3.05zM347.47 158.88h1.05v0.86h-1.05zM426.38 158.88h1.05v0.86h-1.05zM494.31 158.88h1.05v0.86h-1.05zM427.38 159.70h1.05v0.86h-1.05zM345.47 160.51h1.05v0.86h-1.05zM372.44 160.51h1.05v0.86h-1.05zM486.32 161.32h1.05v0.86h-1.05zM351.46 162.14h1.05v0.86h-1.05zM398.41 162.14h1.05v0.86h-1.05zM420.39 162.14h2.05v0.86h-2.05zM506.30 162.14h1.05v0.86h-1.05zM486.32 163.76h1.05v0.86h-1.05zM500.31 163.76h1.05v0.86h-1.05zM340.47 164.57h1.05v0.86h-1.05zM371.44 164.57h1.05v0.86h-1.05zM424.39 164.57h1.05v0.86h-1.05z"/>
<path fill="#281535" d="M316.50 8.50h1.05v0.86h-1.05zM331.48 9.31h1.05v0.86h-1.05zM386.43 9.31h1.05v0.86h-1.05zM407.40 9.31h1.05v0.86h-1.05zM314.50 10.13h1.05v0.86h-1.05zM318.50 10.13h1.05v0.86h-1.05zM362.45 10.13h1.05v0.86h-1.05zM386.43 10.13h1.05v0.86h-1.05zM407.40 10.13h1.05v0.86h-1.05zM319.49 10.94h1.05v0.86h-1.05zM369.44 10.94h1.05v0.86h-1.05zM404.41 10.94h1.05v0.86h-1.05zM406.41 10.94h2.05v0.86h-2.05zM315.50 11.75h1.05v0.86h-1.05zM376.44 11.75h1.05v0.86h-1.05zM405.41 13.38h1.05v0.86h-1.05zM407.40 13.38h1.05v0.86h-1.05zM424.39 13.38h1.05v0.86h-1.05zM466.34 13.38h1.05v0.86h-1.05zM323.49 14.19h1.05v0.86h-1.05zM366.45 14.19h1.05v0.86h-1.05zM424.39 14.19h1.05v0.86h-1.05zM474.34 14.19h1.05v0.86h-1.05zM326.49 15.82h1.05v0.86h-1.05zM362.45 15.82h1.05v0.86h-1.05zM396.42 15.82h1.05v0.86h-1.05zM327.49 16.63h1.05v0.86h-1.05zM334.48 16.63h2.05v0.86h-2.05zM360.45 16.63h2.05v0.86h-2.05zM396.42 16.63h1.05v0.86h-1.05zM330.48 17.44h1.05v0.86h-1.05zM357.46 17.44h1.05v0.86h-1.05zM386.43 17.44h1.05v0.86h-1.05zM344.47 18.25h2.05v0.86h-2.05zM347.47 18.25h2.05v0.86h-2.05zM350.46 18.25h1.05v0.86h-1.05zM399.41 18.25h1.05v0.86h-1.05zM336.48 19.07h1.05v0.86h-1.05zM352.46 19.07h1.05v0.86h-1.05zM386.43 19.07h1.05v0.86h-1.05zM399.41 19.07h1.05v0.86h-1.05zM486.32 19.07h1.05v0.86h-1.05zM324.49 19.88h1.05v0.86h-1.05zM342.47 19.88h1.05v0.86h-1.05zM350.46 19.88h1.05v0.86h-1.05zM386.43 19.88h1.05v0.86h-1.05zM399.41 19.88h1.05v0.86h-1.05zM487.32 19.88h1.05v0.86h-1.05zM349.46 20.69h1.05v0.86h-1.05zM352.46 20.69h1.05v0.86h-1.05zM341.47 21.51h1.05v0.86h-1.05zM346.47 21.51h1.05v0.86h-1.05zM350.46 21.51h4.05v0.86h-4.05zM450.36 21.51h1.05v0.86h-1.05zM454.36 21.51h1.05v0.86h-1.05zM486.32 21.51h2.05v0.86h-2.05zM347.47 22.32h1.05v0.86h-1.05zM349.46 22.32h1.05v0.86h-1.05zM378.43 22.32h1.05v0.86h-1.05zM454.36 22.32h1.05v0.86h-1.05zM463.35 22.32h2.05v0.86h-2.05zM489.32 22.32h1.05v0.86h-1.05zM328.49 23.13h1.05v0.86h-1.05zM349.46 23.13h1.05v0.86h-1.05zM353.46 23.13h1.05v0.86h-1.05zM405.41 23.13h1.05v0.86h-1.05zM450.36 23.13h1.05v0.86h-1.05zM503.31 23.13h1.05v0.86h-1.05zM328.49 23.94h1.05v0.86h-1.05zM350.46 23.94h1.05v0.86h-1.05zM353.46 23.94h4.05v0.86h-4.05zM410.40 23.94h1.05v0.86h-1.05zM497.31 23.94h1.05v0.86h-1.05zM329.48 24.76h1.05v0.86h-1.05zM351.46 24.76h3.05v0.86h-3.05zM411.40 24.76h3.05v0.86h-3.05zM456.35 24.76h1.05v0.86h-1.05zM458.35 24.76h1.05v0.86h-1.05zM483.33 24.76h1.05v0.86h-1.05zM493.32 24.76h1.05v0.86h-1.05zM497.31 24.76h1.05v0.86h-1.05zM503.31 24.76h1.05v0.86h-1.05zM349.46 25.57h3.05v0.86h-3.05zM353.46 25.57h1.05v0.86h-1.05zM355.46 25.57h2.05v0.86h-2.05zM412.40 25.57h2.05v0.86h-2.05zM491.32 25.57h2.05v0.86h-2.05zM497.31 25.57h1.05v0.86h-1.05zM331.48 26.38h1.05v0.86h-1.05zM352.46 26.38h1.05v0.86h-1.05zM355.46 26.38h1.05v0.86h-1.05zM392.42 26.38h1.05v0.86h-1.05zM412.40 26.38h1.05v0.86h-1.05zM415.40 26.38h1.05v0.86h-1.05zM493.32 26.38h2.05v0.86h-2.05zM331.48 27.20h1.05v0.86h-1.05zM333.48 27.20h1.05v0.86h-1.05zM354.46 27.20h1.05v0.86h-1.05zM416.39 27.20h3.05v0.86h-3.05zM475.33 27.20h1.05v0.86h-1.05zM492.32 27.20h2.05v0.86h-2.05zM334.48 28.01h1.05v0.86h-1.05zM349.46 28.01h2.05v0.86h-2.05zM352.46 28.01h1.05v0.86h-1.05zM354.46 28.01h1.05v0.86h-1.05zM356.46 28.01h3.05v0.86h-3.05zM414.40 28.01h1.05v0.86h-1.05zM418.39 28.01h1.05v0.86h-1.05zM452.36 28.01h1.05v0.86h-1.05zM470.34 28.01h1.05v0.86h-1.05zM475.33 28.01h1.05v0.86h-1.05zM493.32 28.01h2.05v0.86h-2.05zM334.48 28.82h2.05v0.86h-2.05zM351.46 28.82h1.05v0.86h-1.05zM353.46 28.82h1.05v0.86h-1.05zM357.46 28.82h1.05v0.86h-1.05zM359.45 28.82h1.05v0.86h-1.05zM418.39 28.82h2.05v0.86h-2.05zM438.37 28.82h1.05v0.86h-1.05zM470.34 28.82h1.05v0.86h-1.05zM494.31 28.82h4.05v0.86h-4.05zM336.48 29.64h1.05v0.86h-1.05zM351.46 29.64h1.05v0.86h-1.05zM353.46 29.64h1.05v0.86h-1.05zM355.46 29.64h1.05v0.86h-1.05zM360.45 29.64h1.05v0.86h-1.05zM417.39 29.64h1.05v0.86h-1.05zM419.39 29.64h2.05v0.86h-2.05zM432.38 29.64h1.05v0.86h-1.05zM495.31 29.64h1.05v0.86h-1.05zM497.31 29.64h2.05v0.86h-2.05zM336.48 30.45h1.05v0.86h-1.05zM347.47 30.45h1.05v0.86h-1.05zM355.46 30.45h4.05v0.86h-4.05zM417.39 30.45h1.05v0.86h-1.05zM421.39 30.45h1.05v0.86h-1.05zM496.31 30.45h1.05v0.86h-1.05zM499.31 30.45h1.05v0.86h-1.05zM357.46 31.26h2.05v0.86h-2.05zM418.39 31.26h2.05v0.86h-2.05zM496.31 31.26h1.05v0.86h-1.05zM350.46 32.07h1.05v0.86h-1.05zM352.46 32.07h1.05v0.86h-1.05zM354.46 32.07h1.05v0.86h-1.05zM360.45 32.07h1.05v0.86h-1.05zM378.43 32.07h1.05v0.86h-1.05zM423.39 32.07h1.05v0.86h-1.05zM452.36 32.07h1.05v0.86h-1.05zM501.31 32.07h1.05v0.86h-1.05zM331.48 32.89h1.05v0.86h-1.05zM355.46 32.89h1.05v0.86h-1.05zM359.45 32.89h1.05v0.86h-1.05zM419.39 32.89h2.05v0.86h-2.05zM444.37 32.89h1.05v0.86h-1.05zM490.32 32.89h1.05v0.86h-1.05zM331.48 33.70h1.05v0.86h-1.05zM333.48 33.70h1.05v0.86h-1.05zM355.46 33.70h1.05v0.86h-1.05zM358.45 33.70h1.05v0.86h-1.05zM360.45 33.70h1.05v0.86h-1.05zM420.39 33.70h2.05v0.86h-2.05zM425.39 33.70h2.05v0.86h-2.05zM470.34 33.70h1.05v0.86h-1.05zM499.31 33.70h2.05v0.86h-2.05zM333.48 34.51h1.05v0.86h-1.05zM341.47 34.51h1.05v0.86h-1.05zM357.46 34.51h1.05v0.86h-1.05zM359.45 34.51h1.05v0.86h-1.05zM422.39 34.51h1.05v0.86h-1.05zM452.36 34.51h1.05v0.86h-1.05zM465.34 34.51h3.05v0.86h-3.05zM500.31 34.51h1.05v0.86h-1.05zM331.48 35.33h1.05v0.86h-1.05zM358.45 35.33h2.05v0.86h-2.05zM361.45 35.33h1.05v0.86h-1.05zM422.39 35.33h1.05v0.86h-1.05zM470.34 35.33h1.05v0.86h-1.05zM333.48 36.14h1.05v0.86h-1.05zM357.46 36.14h4.05v0.86h-4.05zM362.45 36.14h1.05v0.86h-1.05zM429.38 36.14h1.05v0.86h-1.05zM452.36 36.14h1.05v0.86h-1.05zM470.34 36.14h1.05v0.86h-1.05zM474.34 36.14h1.05v0.86h-1.05zM495.31 36.14h1.05v0.86h-1.05zM344.47 36.95h1.05v0.86h-1.05zM353.46 36.95h1.05v0.86h-1.05zM360.45 36.95h3.05v0.86h-3.05zM430.38 36.95h2.05v0.86h-2.05zM470.34 36.95h1.05v0.86h-1.05zM505.30 36.95h1.05v0.86h-1.05zM507.30 36.95h1.05v0.86h-1.05zM345.47 37.76h1.05v0.86h-1.05zM361.45 37.76h1.05v0.86h-1.05zM425.39 37.76h1.05v0.86h-1.05zM472.34 37.76h1.05v0.86h-1.05zM507.30 37.76h1.05v0.86h-1.05zM359.45 38.58h1.05v0.86h-1.05zM362.45 38.58h2.05v0.86h-2.05zM426.38 38.58h1.05v0.86h-1.05zM433.38 38.58h1.05v0.86h-1.05zM504.30 38.58h2.05v0.86h-2.05zM347.47 39.39h2.05v0.86h-2.05zM359.45 39.39h4.05v0.86h-4.05zM426.38 39.39h1.05v0.86h-1.05zM434.38 39.39h1.05v0.86h-1.05zM505.30 39.39h1.05v0.86h-1.05zM344.47 40.20h1.05v0.86h-1.05zM362.45 40.20h1.05v0.86h-1.05zM364.45 40.20h1.05v0.86h-1.05zM435.38 40.20h1.05v0.86h-1.05zM460.35 40.20h2.05v0.86h-2.05zM472.34 40.20h1.05v0.86h-1.05zM491.32 40.20h1.05v0.86h-1.05zM341.47 41.02h1.05v0.86h-1.05zM363.45 41.02h2.05v0.86h-2.05zM370.44 41.02h2.05v0.86h-2.05zM436.37 41.02h1.05v0.86h-1.05zM507.30 41.02h1.05v0.86h-1.05zM350.46 41.83h1.05v0.86h-1.05zM366.45 41.83h2.05v0.86h-2.05zM384.43 41.83h1.05v0.86h-1.05zM438.37 41.83h1.05v0.86h-1.05zM351.46 42.64h1.05v0.86h-1.05zM362.45 42.64h2.05v0.86h-2.05zM366.45 42.64h1.05v0.86h-1.05zM438.37 42.64h1.05v0.86h-1.05zM364.45 43.45h1.05v0.86h-1.05zM366.45 43.45h1.05v0.86h-1.05zM368.44 43.45h1.05v0.86h-1.05zM370.44 43.45h1.05v0.86h-1.05zM423.39 43.45h1.05v0.86h-1.05zM439.37 43.45h2.05v0.86h-2.05zM341.47 44.27h1.05v0.86h-1.05zM354.46 44.27h1.05v0.86h-1.05zM364.45 44.27h1.05v0.86h-1.05zM368.44 44.27h1.05v0.86h-1.05zM370.44 44.27h1.05v0.86h-1.05zM384.43 44.27h1.05v0.86h-1.05zM423.39 44.27h1.05v0.86h-1.05zM431.38 44.27h1.05v0.86h-1.05zM444.37 44.27h1.05v0.86h-1.05zM355.46 45.08h2.05v0.86h-2.05zM363.45 45.08h1.05v0.86h-1.05zM366.45 45.08h3.05v0.86h-3.05zM384.43 45.08h1.05v0.86h-1.05zM423.39 45.08h1.05v0.86h-1.05zM432.38 45.08h1.05v0.86h-1.05zM441.37 45.08h1.05v0.86h-1.05zM355.46 45.89h2.05v0.86h-2.05zM366.45 45.89h1.05v0.86h-1.05zM369.44 45.89h1.05v0.86h-1.05zM433.38 45.89h1.05v0.86h-1.05zM442.37 45.89h1.05v0.86h-1.05zM490.32 45.89h2.05v0.86h-2.05zM356.46 46.71h1.05v0.86h-1.05zM368.44 46.71h2.05v0.86h-2.05zM390.42 46.71h1.05v0.86h-1.05zM392.42 46.71h1.05v0.86h-1.05zM423.39 46.71h1.05v0.86h-1.05zM434.38 46.71h1.05v0.86h-1.05zM496.31 46.71h1.05v0.86h-1.05zM499.31 46.71h1.05v0.86h-1.05zM366.45 47.52h4.05v0.86h-4.05zM419.39 47.52h1.05v0.86h-1.05zM436.37 47.52h1.05v0.86h-1.05zM496.31 47.52h1.05v0.86h-1.05zM499.31 47.52h1.05v0.86h-1.05zM358.45 48.33h1.05v0.86h-1.05zM371.44 48.33h1.05v0.86h-1.05zM419.39 48.33h1.05v0.86h-1.05zM438.37 48.33h1.05v0.86h-1.05zM445.36 48.33h1.05v0.86h-1.05zM486.32 48.33h1.05v0.86h-1.05zM488.32 48.33h1.05v0.86h-1.05zM490.32 48.33h2.05v0.86h-2.05zM502.31 48.33h1.05v0.86h-1.05zM359.45 49.14h2.05v0.86h-2.05zM372.44 49.14h1.05v0.86h-1.05zM437.37 49.14h1.05v0.86h-1.05zM439.37 49.14h1.05v0.86h-1.05zM486.32 49.14h1.05v0.86h-1.05zM502.31 49.14h1.05v0.86h-1.05zM371.44 49.96h1.05v0.86h-1.05zM447.36 49.96h1.05v0.86h-1.05zM459.35 49.96h1.05v0.86h-1.05zM502.31 49.96h1.05v0.86h-1.05zM362.45 50.77h1.05v0.86h-1.05zM372.44 50.77h2.05v0.86h-2.05zM384.43 50.77h1.05v0.86h-1.05zM448.36 50.77h1.05v0.86h-1.05zM482.33 50.77h1.05v0.86h-1.05zM345.47 51.58h1.05v0.86h-1.05zM362.45 51.58h2.05v0.86h-2.05zM448.36 51.58h1.05v0.86h-1.05zM345.47 52.40h1.05v0.86h-1.05zM363.45 52.40h2.05v0.86h-2.05zM373.44 52.40h2.05v0.86h-2.05zM441.37 52.40h1.05v0.86h-1.05zM449.36 52.40h2.05v0.86h-2.05zM364.45 53.21h1.05v0.86h-1.05zM373.44 53.21h1.05v0.86h-1.05zM442.37 53.21h1.05v0.86h-1.05zM328.49 54.02h1.05v0.86h-1.05zM349.46 54.02h1.05v0.86h-1.05zM365.45 54.02h1.05v0.86h-1.05zM374.44 54.02h2.05v0.86h-2.05zM456.35 54.02h1.05v0.86h-1.05zM375.44 54.83h1.05v0.86h-1.05zM427.38 54.83h1.05v0.86h-1.05zM445.36 54.83h1.05v0.86h-1.05zM453.36 54.83h1.05v0.86h-1.05zM494.31 54.83h1.05v0.86h-1.05zM368.44 55.65h1.05v0.86h-1.05zM408.40 55.65h1.05v0.86h-1.05zM427.38 55.65h1.05v0.86h-1.05zM431.38 55.65h1.05v0.86h-1.05zM446.36 55.65h1.05v0.86h-1.05zM454.36 55.65h1.05v0.86h-1.05zM475.33 55.65h1.05v0.86h-1.05zM416.39 56.46h2.05v0.86h-2.05zM437.37 56.46h1.05v0.86h-1.05zM475.33 56.46h1.05v0.86h-1.05zM360.45 57.27h2.05v0.86h-2.05zM417.39 57.27h1.05v0.86h-1.05zM429.38 57.27h1.05v0.86h-1.05zM447.36 57.27h1.05v0.86h-1.05zM455.35 57.27h1.05v0.86h-1.05zM380.43 58.09h1.05v0.86h-1.05zM429.38 58.09h1.05v0.86h-1.05zM449.36 58.09h1.05v0.86h-1.05zM381.43 58.90h1.05v0.86h-1.05zM419.39 58.90h2.05v0.86h-2.05zM429.38 58.90h1.05v0.86h-1.05zM449.36 58.90h1.05v0.86h-1.05zM459.35 58.90h1.05v0.86h-1.05zM372.44 59.71h1.05v0.86h-1.05zM381.43 59.71h1.05v0.86h-1.05zM412.40 59.71h1.05v0.86h-1.05zM419.39 59.71h1.05v0.86h-1.05zM458.35 59.71h1.05v0.86h-1.05zM349.46 60.52h1.05v0.86h-1.05zM373.44 60.52h1.05v0.86h-1.05zM380.43 60.52h1.05v0.86h-1.05zM419.39 60.52h1.05v0.86h-1.05zM458.35 60.52h2.05v0.86h-2.05zM497.31 60.52h1.05v0.86h-1.05zM347.47 61.34h1.05v0.86h-1.05zM349.46 61.34h1.05v0.86h-1.05zM374.44 61.34h1.05v0.86h-1.05zM382.43 61.34h1.05v0.86h-1.05zM460.35 61.34h1.05v0.86h-1.05zM497.31 61.34h1.05v0.86h-1.05zM334.48 62.15h1.05v0.86h-1.05zM375.44 62.15h1.05v0.86h-1.05zM382.43 62.15h2.05v0.86h-2.05zM402.41 62.15h3.05v0.86h-3.05zM460.35 62.15h1.05v0.86h-1.05zM347.47 62.96h1.05v0.86h-1.05zM349.46 62.96h1.05v0.86h-1.05zM376.44 62.96h3.05v0.86h-3.05zM385.43 62.96h1.05v0.86h-1.05zM380.43 63.78h1.05v0.86h-1.05zM457.35 63.78h1.05v0.86h-1.05zM380.43 64.59h1.05v0.86h-1.05zM410.40 64.59h1.05v0.86h-1.05zM362.45 65.40h1.05v0.86h-1.05zM381.43 65.40h1.05v0.86h-1.05zM459.35 65.40h1.05v0.86h-1.05zM464.35 65.40h1.05v0.86h-1.05zM358.45 66.21h1.05v0.86h-1.05zM362.45 66.21h1.05v0.86h-1.05zM387.42 66.21h2.05v0.86h-2.05zM460.35 66.21h1.05v0.86h-1.05zM462.35 66.21h1.05v0.86h-1.05zM464.35 66.21h1.05v0.86h-1.05zM388.42 67.03h1.05v0.86h-1.05zM423.39 67.03h1.05v0.86h-1.05zM351.46 67.84h1.05v0.86h-1.05zM363.45 67.84h1.05v0.86h-1.05zM351.46 68.65h1.05v0.86h-1.05zM385.43 68.65h1.05v0.86h-1.05zM423.39 68.65h1.05v0.86h-1.05zM385.43 69.47h2.05v0.86h-2.05zM459.35 69.47h1.05v0.86h-1.05zM479.33 69.47h1.05v0.86h-1.05zM380.43 70.28h1.05v0.86h-1.05zM387.42 70.28h1.05v0.86h-1.05zM406.41 70.28h1.05v0.86h-1.05zM459.35 70.28h1.05v0.86h-1.05zM470.34 70.28h3.05v0.86h-3.05zM479.33 70.28h1.05v0.86h-1.05zM385.43 71.09h1.05v0.86h-1.05zM406.41 71.09h1.05v0.86h-1.05zM413.40 71.09h1.05v0.86h-1.05zM459.35 71.09h1.05v0.86h-1.05zM493.32 71.09h1.05v0.86h-1.05zM385.43 71.91h1.05v0.86h-1.05zM388.42 71.91h1.05v0.86h-1.05zM390.42 71.91h1.05v0.86h-1.05zM394.42 71.91h1.05v0.86h-1.05zM406.41 71.91h1.05v0.86h-1.05zM463.35 71.91h1.05v0.86h-1.05zM468.34 71.91h1.05v0.86h-1.05zM479.33 71.91h1.05v0.86h-1.05zM380.43 72.72h1.05v0.86h-1.05zM406.41 72.72h1.05v0.86h-1.05zM468.34 72.72h1.05v0.86h-1.05zM380.43 73.53h1.05v0.86h-1.05zM392.42 73.53h1.05v0.86h-1.05zM406.41 73.53h1.05v0.86h-1.05zM410.40 73.53h1.05v0.86h-1.05zM463.35 73.53h1.05v0.86h-1.05zM468.34 73.53h1.05v0.86h-1.05zM472.34 73.53h1.05v0.86h-1.05zM475.33 73.53h2.05v0.86h-2.05zM379.43 74.34h2.05v0.86h-2.05zM393.42 74.34h1.05v0.86h-1.05zM463.35 74.34h1.05v0.86h-1.05zM476.33 74.34h2.05v0.86h-2.05zM382.43 75.16h1.05v0.86h-1.05zM398.41 75.16h1.05v0.86h-1.05zM478.33 75.16h1.05v0.86h-1.05zM353.46 75.97h2.05v0.86h-2.05zM382.43 75.97h1.05v0.86h-1.05zM474.34 75.97h1.05v0.86h-1.05zM479.33 75.97h1.05v0.86h-1.05zM501.31 75.97h1.05v0.86h-1.05zM452.36 76.78h1.05v0.86h-1.05zM480.33 76.78h1.05v0.86h-1.05zM501.31 76.78h1.05v0.86h-1.05zM397.41 77.60h1.05v0.86h-1.05zM457.35 77.60h1.05v0.86h-1.05zM471.34 77.60h1.05v0.86h-1.05zM473.34 77.60h2.05v0.86h-2.05zM481.33 77.60h1.05v0.86h-1.05zM507.30 77.60h1.05v0.86h-1.05zM398.41 78.41h1.05v0.86h-1.05zM408.40 78.41h1.05v0.86h-1.05zM501.31 78.41h1.05v0.86h-1.05zM399.41 79.22h1.05v0.86h-1.05zM441.37 79.22h1.05v0.86h-1.05zM456.35 79.22h2.05v0.86h-2.05zM475.33 79.22h1.05v0.86h-1.05zM483.33 79.22h1.05v0.86h-1.05zM507.30 79.22h1.05v0.86h-1.05zM384.43 80.03h2.05v0.86h-2.05zM400.41 80.03h1.05v0.86h-1.05zM405.41 80.03h1.05v0.86h-1.05zM427.38 80.03h2.05v0.86h-2.05zM441.37 80.03h1.05v0.86h-1.05zM473.34 80.03h1.05v0.86h-1.05zM475.33 80.03h1.05v0.86h-1.05zM484.32 80.03h1.05v0.86h-1.05zM400.41 80.85h1.05v0.86h-1.05zM405.41 80.85h1.05v0.86h-1.05zM420.39 80.85h1.05v0.86h-1.05zM485.32 80.85h1.05v0.86h-1.05zM419.39 81.66h1.05v0.86h-1.05zM477.33 81.66h1.05v0.86h-1.05zM479.33 81.66h1.05v0.86h-1.05zM397.41 82.47h1.05v0.86h-1.05zM409.40 83.29h2.05v0.86h-2.05zM479.33 83.29h2.05v0.86h-2.05zM397.41 84.10h2.05v0.86h-2.05zM411.40 84.10h1.05v0.86h-1.05zM436.37 84.10h1.05v0.86h-1.05zM449.36 84.91h1.05v0.86h-1.05zM451.36 84.91h1.05v0.86h-1.05zM501.31 84.91h1.05v0.86h-1.05zM406.41 85.72h1.05v0.86h-1.05zM482.33 85.72h2.05v0.86h-2.05zM415.40 86.54h1.05v0.86h-1.05zM491.32 86.54h2.05v0.86h-2.05zM333.48 87.35h1.05v0.86h-1.05zM357.46 87.35h1.05v0.86h-1.05zM407.40 87.35h1.05v0.86h-1.05zM416.39 87.35h1.05v0.86h-1.05zM333.48 88.16h4.05v0.86h-4.05zM464.35 88.16h1.05v0.86h-1.05zM486.32 88.16h2.05v0.86h-2.05zM335.48 88.98h1.05v0.86h-1.05zM416.39 88.98h1.05v0.86h-1.05zM464.35 88.98h1.05v0.86h-1.05zM495.31 88.98h1.05v0.86h-1.05zM335.48 89.79h1.05v0.86h-1.05zM337.48 89.79h2.05v0.86h-2.05zM464.35 89.79h1.05v0.86h-1.05zM496.31 89.79h1.05v0.86h-1.05zM336.48 90.60h1.05v0.86h-1.05zM338.48 90.60h1.05v0.86h-1.05zM419.39 90.60h1.05v0.86h-1.05zM340.47 91.41h1.05v0.86h-1.05zM349.46 91.41h1.05v0.86h-1.05zM388.42 91.41h1.05v0.86h-1.05zM421.39 91.41h1.05v0.86h-1.05zM426.38 91.41h1.05v0.86h-1.05zM464.35 91.41h1.05v0.86h-1.05zM498.31 91.41h1.05v0.86h-1.05zM337.48 92.23h3.05v0.86h-3.05zM349.46 92.23h1.05v0.86h-1.05zM435.38 92.23h1.05v0.86h-1.05zM460.35 92.23h1.05v0.86h-1.05zM496.31 92.23h1.05v0.86h-1.05zM498.31 92.23h1.05v0.86h-1.05zM341.47 93.04h2.05v0.86h-2.05zM422.39 93.04h1.05v0.86h-1.05zM435.38 93.04h1.05v0.86h-1.05zM492.32 93.04h1.05v0.86h-1.05zM343.47 93.85h1.05v0.86h-1.05zM458.35 93.85h2.05v0.86h-2.05zM471.34 93.85h1.05v0.86h-1.05zM341.47 94.67h1.05v0.86h-1.05zM423.39 94.67h1.05v0.86h-1.05zM425.39 94.67h1.05v0.86h-1.05zM502.31 94.67h1.05v0.86h-1.05zM346.47 95.48h1.05v0.86h-1.05zM418.39 95.48h1.05v0.86h-1.05zM342.47 96.29h1.05v0.86h-1.05zM346.47 96.29h2.05v0.86h-2.05zM391.42 96.29h1.05v0.86h-1.05zM425.39 96.29h2.05v0.86h-2.05zM459.35 96.29h1.05v0.86h-1.05zM473.34 96.29h1.05v0.86h-1.05zM497.31 96.29h1.05v0.86h-1.05zM501.31 96.29h1.05v0.86h-1.05zM428.38 97.10h1.05v0.86h-1.05zM459.35 97.10h1.05v0.86h-1.05zM497.31 97.10h1.05v0.86h-1.05zM505.30 97.10h1.05v0.86h-1.05zM344.47 97.92h1.05v0.86h-1.05zM348.46 97.92h1.05v0.86h-1.05zM350.46 97.92h1.05v0.86h-1.05zM427.38 97.92h1.05v0.86h-1.05zM506.30 97.92h1.05v0.86h-1.05zM345.47 98.73h1.05v0.86h-1.05zM351.46 98.73h1.05v0.86h-1.05zM356.46 98.73h1.05v0.86h-1.05zM473.34 98.73h1.05v0.86h-1.05zM345.47 99.54h1.05v0.86h-1.05zM347.47 99.54h1.05v0.86h-1.05zM421.39 99.54h1.05v0.86h-1.05zM429.38 99.54h1.05v0.86h-1.05zM500.31 99.54h1.05v0.86h-1.05zM348.46 100.36h1.05v0.86h-1.05zM370.44 100.36h1.05v0.86h-1.05zM474.34 100.36h1.05v0.86h-1.05zM500.31 100.36h1.05v0.86h-1.05zM347.47 101.17h1.05v0.86h-1.05zM354.46 101.17h1.05v0.86h-1.05zM363.45 101.17h1.05v0.86h-1.05zM383.43 101.17h1.05v0.86h-1.05zM423.39 101.17h1.05v0.86h-1.05zM474.34 101.17h1.05v0.86h-1.05zM501.31 101.17h1.05v0.86h-1.05zM355.46 101.98h2.05v0.86h-2.05zM363.45 101.98h1.05v0.86h-1.05zM488.32 101.98h1.05v0.86h-1.05zM337.48 102.79h2.05v0.86h-2.05zM363.45 102.79h1.05v0.86h-1.05zM421.39 102.79h1.05v0.86h-1.05zM427.38 102.79h1.05v0.86h-1.05zM467.34 102.79h1.05v0.86h-1.05zM470.34 102.79h1.05v0.86h-1.05zM503.31 102.79h1.05v0.86h-1.05zM350.46 103.61h1.05v0.86h-1.05zM358.45 103.61h1.05v0.86h-1.05zM361.45 103.61h1.05v0.86h-1.05zM363.45 103.61h1.05v0.86h-1.05zM421.39 103.61h1.05v0.86h-1.05zM427.38 103.61h1.05v0.86h-1.05zM495.31 103.61h2.05v0.86h-2.05zM359.45 104.42h1.05v0.86h-1.05zM361.45 104.42h1.05v0.86h-1.05zM436.37 104.42h1.05v0.86h-1.05zM347.47 105.23h1.05v0.86h-1.05zM361.45 105.23h1.05v0.86h-1.05zM387.42 105.23h1.05v0.86h-1.05zM465.34 105.23h1.05v0.86h-1.05zM347.47 106.05h1.05v0.86h-1.05zM361.45 106.05h1.05v0.86h-1.05zM410.40 106.05h1.05v0.86h-1.05zM426.38 106.05h2.05v0.86h-2.05zM353.46 106.86h1.05v0.86h-1.05zM410.40 106.86h1.05v0.86h-1.05zM430.38 106.86h1.05v0.86h-1.05zM440.37 106.86h1.05v0.86h-1.05zM470.34 106.86h1.05v0.86h-1.05zM355.46 107.67h1.05v0.86h-1.05zM363.45 107.67h1.05v0.86h-1.05zM432.38 107.67h1.05v0.86h-1.05zM467.34 107.67h2.05v0.86h-2.05zM470.34 107.67h1.05v0.86h-1.05zM348.46 108.49h1.05v0.86h-1.05zM385.43 108.49h1.05v0.86h-1.05zM433.38 108.49h1.05v0.86h-1.05zM452.36 108.49h1.05v0.86h-1.05zM454.36 108.49h1.05v0.86h-1.05zM348.46 109.30h1.05v0.86h-1.05zM365.45 109.30h1.05v0.86h-1.05zM385.43 109.30h1.05v0.86h-1.05zM392.42 109.30h1.05v0.86h-1.05zM434.38 109.30h1.05v0.86h-1.05zM442.37 109.30h1.05v0.86h-1.05zM491.32 109.30h1.05v0.86h-1.05zM348.46 110.11h1.05v0.86h-1.05zM357.46 110.11h1.05v0.86h-1.05zM364.45 110.11h1.05v0.86h-1.05zM434.38 110.11h1.05v0.86h-1.05zM348.46 110.92h1.05v0.86h-1.05zM367.45 110.92h1.05v0.86h-1.05zM443.37 110.92h1.05v0.86h-1.05zM445.36 111.74h1.05v0.86h-1.05zM339.47 112.55h1.05v0.86h-1.05zM353.46 112.55h1.05v0.86h-1.05zM355.46 112.55h1.05v0.86h-1.05zM360.45 112.55h1.05v0.86h-1.05zM369.44 112.55h1.05v0.86h-1.05zM386.43 112.55h1.05v0.86h-1.05zM446.36 112.55h1.05v0.86h-1.05zM339.47 113.36h1.05v0.86h-1.05zM370.44 113.36h1.05v0.86h-1.05zM447.36 113.36h1.05v0.86h-1.05zM336.48 114.18h1.05v0.86h-1.05zM370.44 114.18h1.05v0.86h-1.05zM439.37 114.18h2.05v0.86h-2.05zM470.34 114.18h1.05v0.86h-1.05zM363.45 114.99h1.05v0.86h-1.05zM372.44 114.99h1.05v0.86h-1.05zM384.43 114.99h1.05v0.86h-1.05zM425.39 114.99h1.05v0.86h-1.05zM352.46 115.80h1.05v0.86h-1.05zM372.44 115.80h1.05v0.86h-1.05zM386.43 115.80h1.05v0.86h-1.05zM425.39 115.80h1.05v0.86h-1.05zM442.37 115.80h1.05v0.86h-1.05zM373.44 116.61h1.05v0.86h-1.05zM439.37 116.61h1.05v0.86h-1.05zM443.37 116.61h1.05v0.86h-1.05zM451.36 116.61h1.05v0.86h-1.05zM333.48 117.43h1.05v0.86h-1.05zM342.47 117.43h4.05v0.86h-4.05zM365.45 117.43h3.05v0.86h-3.05zM375.44 117.43h1.05v0.86h-1.05zM414.40 117.43h1.05v0.86h-1.05zM439.37 117.43h1.05v0.86h-1.05zM452.36 117.43h2.05v0.86h-2.05zM414.40 118.24h1.05v0.86h-1.05zM445.36 118.24h1.05v0.86h-1.05zM453.36 118.24h1.05v0.86h-1.05zM368.44 119.05h1.05v0.86h-1.05zM376.44 119.05h1.05v0.86h-1.05zM414.40 119.05h1.05v0.86h-1.05zM439.37 119.05h1.05v0.86h-1.05zM376.44 119.87h1.05v0.86h-1.05zM414.40 119.87h1.05v0.86h-1.05zM456.35 119.87h1.05v0.86h-1.05zM503.31 119.87h1.05v0.86h-1.05zM370.44 120.68h1.05v0.86h-1.05zM377.44 120.68h1.05v0.86h-1.05zM496.31 120.68h1.05v0.86h-1.05zM503.31 120.68h1.05v0.86h-1.05zM370.44 121.49h1.05v0.86h-1.05zM416.39 121.49h1.05v0.86h-1.05zM378.43 122.30h2.05v0.86h-2.05zM477.33 122.30h1.05v0.86h-1.05zM416.39 123.12h1.05v0.86h-1.05zM451.36 123.12h1.05v0.86h-1.05zM459.35 123.12h1.05v0.86h-1.05zM477.33 123.12h1.05v0.86h-1.05zM376.44 123.93h1.05v0.86h-1.05zM381.43 123.93h1.05v0.86h-1.05zM459.35 123.93h1.05v0.86h-1.05zM478.33 123.93h1.05v0.86h-1.05zM382.43 124.74h1.05v0.86h-1.05zM386.43 124.74h1.05v0.86h-1.05zM414.40 124.74h4.05v0.86h-4.05zM461.35 124.74h1.05v0.86h-1.05zM380.43 125.56h2.05v0.86h-2.05zM386.43 125.56h1.05v0.86h-1.05zM462.35 125.56h2.05v0.86h-2.05zM355.46 126.37h1.05v0.86h-1.05zM454.36 126.37h1.05v0.86h-1.05zM384.43 127.18h1.05v0.86h-1.05zM408.40 127.18h1.05v0.86h-1.05zM353.46 127.99h1.05v0.86h-1.05zM381.43 127.99h1.05v0.86h-1.05zM385.43 127.99h1.05v0.86h-1.05zM457.35 127.99h1.05v0.86h-1.05zM475.33 127.99h2.05v0.86h-2.05zM353.46 128.81h1.05v0.86h-1.05zM385.43 128.81h2.05v0.86h-2.05zM395.42 128.81h1.05v0.86h-1.05zM464.35 128.81h1.05v0.86h-1.05zM466.34 128.81h1.05v0.86h-1.05zM393.42 129.62h1.05v0.86h-1.05zM459.35 129.62h1.05v0.86h-1.05zM467.34 129.62h1.05v0.86h-1.05zM504.30 129.62h1.05v0.86h-1.05zM460.35 130.43h1.05v0.86h-1.05zM466.34 130.43h1.05v0.86h-1.05zM472.34 131.25h1.05v0.86h-1.05zM375.44 132.06h1.05v0.86h-1.05zM385.43 132.06h1.05v0.86h-1.05zM393.42 132.06h1.05v0.86h-1.05zM433.38 132.06h2.05v0.86h-2.05zM462.35 132.06h1.05v0.86h-1.05zM488.32 132.06h2.05v0.86h-2.05zM491.32 132.06h1.05v0.86h-1.05zM501.31 132.06h1.05v0.86h-1.05zM506.30 132.06h1.05v0.86h-1.05zM434.38 132.87h1.05v0.86h-1.05zM464.35 132.87h1.05v0.86h-1.05zM349.46 133.68h1.05v0.86h-1.05zM391.42 133.68h2.05v0.86h-2.05zM414.40 133.68h1.05v0.86h-1.05zM435.38 133.68h2.05v0.86h-2.05zM506.30 133.68h1.05v0.86h-1.05zM351.46 134.50h1.05v0.86h-1.05zM392.42 134.50h1.05v0.86h-1.05zM395.42 134.50h1.05v0.86h-1.05zM455.35 134.50h1.05v0.86h-1.05zM473.34 134.50h1.05v0.86h-1.05zM480.33 134.50h1.05v0.86h-1.05zM506.30 134.50h1.05v0.86h-1.05zM395.42 135.31h1.05v0.86h-1.05zM455.35 135.31h1.05v0.86h-1.05zM472.34 135.31h1.05v0.86h-1.05zM382.43 136.12h1.05v0.86h-1.05zM390.42 136.12h1.05v0.86h-1.05zM469.34 136.12h1.05v0.86h-1.05zM488.32 136.12h2.05v0.86h-2.05zM491.32 136.12h2.05v0.86h-2.05zM399.41 136.94h1.05v0.86h-1.05zM428.38 136.94h1.05v0.86h-1.05zM443.37 136.94h1.05v0.86h-1.05zM455.35 136.94h1.05v0.86h-1.05zM476.33 136.94h1.05v0.86h-1.05zM403.41 137.75h1.05v0.86h-1.05zM428.38 137.75h1.05v0.86h-1.05zM469.34 137.75h1.05v0.86h-1.05zM491.32 137.75h1.05v0.86h-1.05zM418.39 138.56h1.05v0.86h-1.05zM428.38 138.56h1.05v0.86h-1.05zM445.36 138.56h1.05v0.86h-1.05zM479.33 138.56h1.05v0.86h-1.05zM491.32 138.56h1.05v0.86h-1.05zM393.42 139.37h1.05v0.86h-1.05zM479.33 139.37h1.05v0.86h-1.05zM394.42 140.19h1.05v0.86h-1.05zM433.38 140.19h1.05v0.86h-1.05zM379.43 141.00h1.05v0.86h-1.05zM395.42 141.00h1.05v0.86h-1.05zM404.41 141.00h1.05v0.86h-1.05zM433.38 141.00h1.05v0.86h-1.05zM369.44 141.81h1.05v0.86h-1.05zM349.46 142.63h1.05v0.86h-1.05zM382.43 142.63h1.05v0.86h-1.05zM397.41 142.63h2.05v0.86h-2.05zM406.41 143.44h2.05v0.86h-2.05zM427.38 143.44h1.05v0.86h-1.05zM484.32 143.44h1.05v0.86h-1.05zM497.31 143.44h1.05v0.86h-1.05zM349.46 144.25h1.05v0.86h-1.05zM373.44 144.25h1.05v0.86h-1.05zM399.41 144.25h1.05v0.86h-1.05zM408.40 144.25h1.05v0.86h-1.05zM476.33 144.25h1.05v0.86h-1.05zM373.44 145.06h1.05v0.86h-1.05zM378.43 145.06h1.05v0.86h-1.05zM486.32 145.06h2.05v0.86h-2.05zM413.40 145.88h1.05v0.86h-1.05zM445.36 145.88h1.05v0.86h-1.05zM478.33 145.88h1.05v0.86h-1.05zM402.41 146.69h1.05v0.86h-1.05zM446.36 146.69h1.05v0.86h-1.05zM479.33 146.69h2.05v0.86h-2.05zM400.41 147.50h1.05v0.86h-1.05zM403.41 147.50h1.05v0.86h-1.05zM433.38 147.50h1.05v0.86h-1.05zM371.44 148.32h2.05v0.86h-2.05zM403.41 148.32h2.05v0.86h-2.05zM413.40 148.32h1.05v0.86h-1.05zM482.33 148.32h1.05v0.86h-1.05zM488.32 148.32h1.05v0.86h-1.05zM378.43 149.13h1.05v0.86h-1.05zM400.41 149.13h1.05v0.86h-1.05zM405.41 149.13h1.05v0.86h-1.05zM415.40 149.13h1.05v0.86h-1.05zM456.35 149.13h1.05v0.86h-1.05zM400.41 149.94h1.05v0.86h-1.05zM406.41 149.94h2.05v0.86h-2.05zM415.40 149.94h1.05v0.86h-1.05zM456.35 149.94h1.05v0.86h-1.05zM483.33 149.94h1.05v0.86h-1.05zM337.48 150.76h1.05v0.86h-1.05zM366.45 150.76h1.05v0.86h-1.05zM372.44 150.76h1.05v0.86h-1.05zM378.43 150.76h1.05v0.86h-1.05zM407.40 150.76h1.05v0.86h-1.05zM416.39 150.76h1.05v0.86h-1.05zM485.32 150.76h1.05v0.86h-1.05zM368.44 151.57h1.05v0.86h-1.05zM507.30 151.57h1.05v0.86h-1.05zM368.44 152.38h1.05v0.86h-1.05zM380.43 152.38h2.05v0.86h-2.05zM409.40 152.38h1.05v0.86h-1.05zM487.32 152.38h1.05v0.86h-1.05zM343.47 153.19h1.05v0.86h-1.05zM361.45 153.19h1.05v0.86h-1.05zM394.42 153.19h1.05v0.86h-1.05zM419.39 153.19h1.05v0.86h-1.05zM496.31 153.19h1.05v0.86h-1.05zM368.44 154.01h1.05v0.86h-1.05zM489.32 154.01h1.05v0.86h-1.05zM343.47 154.82h1.05v0.86h-1.05zM412.40 154.82h1.05v0.86h-1.05zM420.39 154.82h1.05v0.86h-1.05zM489.32 154.82h1.05v0.86h-1.05zM342.47 155.63h1.05v0.86h-1.05zM478.33 155.63h1.05v0.86h-1.05zM488.32 155.63h1.05v0.86h-1.05zM499.31 155.63h1.05v0.86h-1.05zM333.48 156.45h1.05v0.86h-1.05zM363.45 156.45h1.05v0.86h-1.05zM414.40 156.45h1.05v0.86h-1.05zM421.39 156.45h1.05v0.86h-1.05zM493.32 156.45h1.05v0.86h-1.05zM363.45 157.26h1.05v0.86h-1.05zM371.44 157.26h1.05v0.86h-1.05zM396.42 157.26h2.05v0.86h-2.05zM424.39 157.26h1.05v0.86h-1.05zM488.32 157.26h1.05v0.86h-1.05zM493.32 157.26h1.05v0.86h-1.05zM501.31 157.26h1.05v0.86h-1.05zM343.47 158.07h1.05v0.86h-1.05zM478.33 158.07h1.05v0.86h-1.05zM494.31 158.07h1.05v0.86h-1.05zM417.39 158.88h1.05v0.86h-1.05zM504.30 158.88h1.05v0.86h-1.05zM347.47 159.70h2.05v0.86h-2.05zM398.41 159.70h1.05v0.86h-1.05zM433.38 159.70h1.05v0.86h-1.05zM504.30 159.70h1.05v0.86h-1.05zM348.46 160.51h2.05v0.86h-2.05zM370.44 160.51h1.05v0.86h-1.05zM374.44 160.51h1.05v0.86h-1.05zM398.41 160.51h1.05v0.86h-1.05zM410.40 160.51h1.05v0.86h-1.05zM419.39 160.51h1.05v0.86h-1.05zM497.31 160.51h1.05v0.86h-1.05zM505.30 160.51h1.05v0.86h-1.05zM346.47 161.32h2.05v0.86h-2.05zM349.46 161.32h3.05v0.86h-3.05zM410.40 161.32h1.05v0.86h-1.05zM420.39 161.32h1.05v0.86h-1.05zM497.31 161.32h1.05v0.86h-1.05zM347.47 162.14h1.05v0.86h-1.05zM410.40 162.14h1.05v0.86h-1.05zM486.32 162.14h1.05v0.86h-1.05zM498.31 162.14h2.05v0.86h-2.05zM332.48 162.95h1.05v0.86h-1.05zM338.48 162.95h1.05v0.86h-1.05zM410.40 162.95h1.05v0.86h-1.05zM430.38 162.95h1.05v0.86h-1.05zM485.32 162.95h2.05v0.86h-2.05zM332.48 163.76h1.05v0.86h-1.05zM338.48 163.76h1.05v0.86h-1.05zM349.46 163.76h1.05v0.86h-1.05zM354.46 163.76h1.05v0.86h-1.05zM374.44 163.76h3.05v0.86h-3.05zM423.39 163.76h2.05v0.86h-2.05zM502.31 163.76h1.05v0.86h-1.05zM507.30 163.76h1.05v0.86h-1.05zM341.47 164.57h3.05v0.86h-3.05zM503.31 164.57h1.05v0.86h-1.05zM332.48 165.39h1.05v0.86h-1.05zM425.39 165.39h1.05v0.86h-1.05zM485.32 165.39h1.05v0.86h-1.05zM505.30 165.39h1.05v0.86h-1.05z"/>
<path fill="#35193e" d="M317.50 9.31h1.05v0.86h-1.05zM331.48 10.13h1.05v0.86h-1.05zM317.50 12.56h1.05v0.86h-1.05zM366.45 13.38h1.05v0.86h-1.05zM468.34 13.38h1.05v0.86h-1.05zM320.49 15.00h1.05v0.86h-1.05zM321.49 15.82h1.05v0.86h-1.05zM328.49 16.63h2.05v0.86h-2.05zM357.46 16.63h1.05v0.86h-1.05zM362.45 16.63h1.05v0.86h-1.05zM396.42 17.44h1.05v0.86h-1.05zM340.47 18.25h1.05v0.86h-1.05zM346.47 18.25h1.05v0.86h-1.05zM351.46 18.25h1.05v0.86h-1.05zM343.47 19.07h5.04v0.86h-5.04zM349.46 19.07h1.05v0.86h-1.05zM351.46 19.07h1.05v0.86h-1.05zM344.47 19.88h4.05v0.86h-4.05zM486.32 19.88h1.05v0.86h-1.05zM325.49 20.69h1.05v0.86h-1.05zM346.47 20.69h2.05v0.86h-2.05zM326.49 21.51h1.05v0.86h-1.05zM348.46 21.51h1.05v0.86h-1.05zM405.41 21.51h1.05v0.86h-1.05zM327.49 22.32h2.05v0.86h-2.05zM346.47 22.32h1.05v0.86h-1.05zM348.46 22.32h1.05v0.86h-1.05zM351.46 22.32h1.05v0.86h-1.05zM405.41 22.32h1.05v0.86h-1.05zM342.47 23.13h2.05v0.86h-2.05zM347.47 23.13h2.05v0.86h-2.05zM350.46 23.13h3.05v0.86h-3.05zM378.43 23.13h1.05v0.86h-1.05zM329.48 23.94h1.05v0.86h-1.05zM345.47 23.94h1.05v0.86h-1.05zM348.46 23.94h2.05v0.86h-2.05zM351.46 23.94h1.05v0.86h-1.05zM378.43 23.94h1.05v0.86h-1.05zM343.47 24.76h1.05v0.86h-1.05zM346.47 24.76h3.05v0.86h-3.05zM378.43 24.76h1.05v0.86h-1.05zM331.48 25.57h1.05v0.86h-1.05zM414.40 25.57h1.05v0.86h-1.05zM332.48 26.38h1.05v0.86h-1.05zM346.47 26.38h1.05v0.86h-1.05zM349.46 26.38h2.05v0.86h-2.05zM353.46 26.38h1.05v0.86h-1.05zM413.40 26.38h1.05v0.86h-1.05zM418.39 26.38h1.05v0.86h-1.05zM343.47 27.20h1.05v0.86h-1.05zM346.47 27.20h1.05v0.86h-1.05zM350.46 27.20h4.05v0.86h-4.05zM392.42 27.20h1.05v0.86h-1.05zM414.40 27.20h1.05v0.86h-1.05zM348.46 28.01h1.05v0.86h-1.05zM351.46 28.01h1.05v0.86h-1.05zM392.42 28.01h1.05v0.86h-1.05zM416.39 28.01h2.05v0.86h-2.05zM450.36 28.01h2.05v0.86h-2.05zM336.48 28.82h1.05v0.86h-1.05zM352.46 28.82h1.05v0.86h-1.05zM355.46 28.82h1.05v0.86h-1.05zM415.40 28.82h1.05v0.86h-1.05zM437.37 28.82h1.05v0.86h-1.05zM441.37 28.82h1.05v0.86h-1.05zM475.33 28.82h1.05v0.86h-1.05zM348.46 29.64h1.05v0.86h-1.05zM352.46 29.64h1.05v0.86h-1.05zM354.46 29.64h1.05v0.86h-1.05zM356.46 29.64h1.05v0.86h-1.05zM485.32 29.64h1.05v0.86h-1.05zM352.46 30.45h3.05v0.86h-3.05zM418.39 30.45h1.05v0.86h-1.05zM420.39 30.45h1.05v0.86h-1.05zM497.31 30.45h1.05v0.86h-1.05zM356.46 31.26h1.05v0.86h-1.05zM421.39 31.26h1.05v0.86h-1.05zM497.31 31.26h1.05v0.86h-1.05zM499.31 31.26h1.05v0.86h-1.05zM331.48 32.07h1.05v0.86h-1.05zM339.47 32.07h1.05v0.86h-1.05zM351.46 32.07h1.05v0.86h-1.05zM355.46 32.07h1.05v0.86h-1.05zM357.46 32.07h1.05v0.86h-1.05zM419.39 32.07h1.05v0.86h-1.05zM497.31 32.07h3.05v0.86h-3.05zM353.46 32.89h1.05v0.86h-1.05zM356.46 32.89h1.05v0.86h-1.05zM358.45 32.89h1.05v0.86h-1.05zM422.39 32.89h1.05v0.86h-1.05zM424.39 32.89h1.05v0.86h-1.05zM489.32 32.89h1.05v0.86h-1.05zM491.32 32.89h2.05v0.86h-2.05zM498.31 32.89h1.05v0.86h-1.05zM341.47 33.70h1.05v0.86h-1.05zM349.46 33.70h1.05v0.86h-1.05zM356.46 33.70h1.05v0.86h-1.05zM361.45 33.70h1.05v0.86h-1.05zM444.37 33.70h1.05v0.86h-1.05zM501.31 33.70h3.05v0.86h-3.05zM331.48 34.51h1.05v0.86h-1.05zM343.47 34.51h1.05v0.86h-1.05zM355.46 34.51h1.05v0.86h-1.05zM421.39 34.51h1.05v0.86h-1.05zM426.38 34.51h1.05v0.86h-1.05zM444.37 34.51h1.05v0.86h-1.05zM469.34 34.51h1.05v0.86h-1.05zM474.34 34.51h1.05v0.86h-1.05zM501.31 34.51h3.05v0.86h-3.05zM343.47 35.33h1.05v0.86h-1.05zM357.46 35.33h1.05v0.86h-1.05zM424.39 35.33h1.05v0.86h-1.05zM428.38 35.33h1.05v0.86h-1.05zM452.36 35.33h1.05v0.86h-1.05zM474.34 35.33h1.05v0.86h-1.05zM501.31 35.33h1.05v0.86h-1.05zM423.39 36.14h3.05v0.86h-3.05zM502.31 36.14h1.05v0.86h-1.05zM504.30 36.14h1.05v0.86h-1.05zM506.30 36.14h1.05v0.86h-1.05zM355.46 36.95h1.05v0.86h-1.05zM358.45 36.95h2.05v0.86h-2.05zM424.39 36.95h1.05v0.86h-1.05zM503.31 36.95h1.05v0.86h-1.05zM359.45 37.76h1.05v0.86h-1.05zM357.46 38.58h1.05v0.86h-1.05zM360.45 38.58h1.05v0.86h-1.05zM428.38 38.58h1.05v0.86h-1.05zM449.36 38.58h1.05v0.86h-1.05zM491.32 38.58h1.05v0.86h-1.05zM472.34 39.39h1.05v0.86h-1.05zM491.32 39.39h1.05v0.86h-1.05zM345.47 40.20h2.05v0.86h-2.05zM359.45 40.20h1.05v0.86h-1.05zM361.45 40.20h1.05v0.86h-1.05zM363.45 40.20h1.05v0.86h-1.05zM427.38 40.20h1.05v0.86h-1.05zM507.30 40.20h1.05v0.86h-1.05zM365.45 41.02h1.05v0.86h-1.05zM369.44 41.02h1.05v0.86h-1.05zM428.38 41.02h1.05v0.86h-1.05zM341.47 41.83h1.05v0.86h-1.05zM352.46 41.83h1.05v0.86h-1.05zM362.45 41.83h4.05v0.86h-4.05zM501.31 41.83h1.05v0.86h-1.05zM341.47 42.64h1.05v0.86h-1.05zM352.46 42.64h1.05v0.86h-1.05zM360.45 42.64h1.05v0.86h-1.05zM364.45 42.64h2.05v0.86h-2.05zM353.46 43.45h1.05v0.86h-1.05zM363.45 43.45h1.05v0.86h-1.05zM353.46 44.27h1.05v0.86h-1.05zM363.45 44.27h1.05v0.86h-1.05zM365.45 44.27h1.05v0.86h-1.05zM432.38 44.27h1.05v0.86h-1.05zM440.37 44.27h1.05v0.86h-1.05zM445.36 44.27h1.05v0.86h-1.05zM364.45 45.08h1.05v0.86h-1.05zM365.45 45.89h1.05v0.86h-1.05zM367.45 46.71h1.05v0.86h-1.05zM391.42 46.71h1.05v0.86h-1.05zM443.37 46.71h1.05v0.86h-1.05zM459.35 46.71h1.05v0.86h-1.05zM357.46 47.52h1.05v0.86h-1.05zM437.37 47.52h1.05v0.86h-1.05zM444.37 47.52h1.05v0.86h-1.05zM459.35 47.52h1.05v0.86h-1.05zM368.44 48.33h2.05v0.86h-2.05zM455.35 48.33h1.05v0.86h-1.05zM459.35 48.33h1.05v0.86h-1.05zM489.32 48.33h1.05v0.86h-1.05zM438.37 49.14h1.05v0.86h-1.05zM459.35 49.14h1.05v0.86h-1.05zM472.34 49.14h1.05v0.86h-1.05zM496.31 49.14h1.05v0.86h-1.05zM361.45 49.96h1.05v0.86h-1.05zM439.37 49.96h1.05v0.86h-1.05zM446.36 49.96h1.05v0.86h-1.05zM496.31 49.96h1.05v0.86h-1.05zM370.44 50.77h1.05v0.86h-1.05zM439.37 50.77h1.05v0.86h-1.05zM445.36 50.77h1.05v0.86h-1.05zM372.44 51.58h1.05v0.86h-1.05zM442.37 52.40h1.05v0.86h-1.05zM372.44 53.21h1.05v0.86h-1.05zM374.44 53.21h1.05v0.86h-1.05zM444.37 53.21h1.05v0.86h-1.05zM451.36 53.21h1.05v0.86h-1.05zM444.37 54.02h1.05v0.86h-1.05zM452.36 54.02h1.05v0.86h-1.05zM367.45 54.83h1.05v0.86h-1.05zM369.44 55.65h1.05v0.86h-1.05zM377.44 55.65h1.05v0.86h-1.05zM429.38 55.65h1.05v0.86h-1.05zM433.38 55.65h1.05v0.86h-1.05zM378.43 56.46h1.05v0.86h-1.05zM436.37 56.46h1.05v0.86h-1.05zM438.37 56.46h1.05v0.86h-1.05zM379.43 57.27h1.05v0.86h-1.05zM418.39 57.27h1.05v0.86h-1.05zM448.36 57.27h1.05v0.86h-1.05zM370.44 58.09h1.05v0.86h-1.05zM372.44 58.90h1.05v0.86h-1.05zM380.43 58.90h1.05v0.86h-1.05zM451.36 58.90h1.05v0.86h-1.05zM452.36 59.71h1.05v0.86h-1.05zM457.35 60.52h1.05v0.86h-1.05zM348.46 61.34h1.05v0.86h-1.05zM419.39 61.34h1.05v0.86h-1.05zM455.35 62.15h3.05v0.86h-3.05zM497.31 62.15h1.05v0.86h-1.05zM340.47 62.96h1.05v0.86h-1.05zM384.43 62.96h1.05v0.86h-1.05zM456.35 62.96h1.05v0.86h-1.05zM497.31 62.96h1.05v0.86h-1.05zM458.35 63.78h2.05v0.86h-2.05zM461.35 63.78h2.05v0.86h-2.05zM459.35 64.59h1.05v0.86h-1.05zM460.35 65.40h1.05v0.86h-1.05zM462.35 65.40h2.05v0.86h-2.05zM461.35 66.21h1.05v0.86h-1.05zM463.35 66.21h1.05v0.86h-1.05zM492.32 66.21h1.05v0.86h-1.05zM462.35 67.03h1.05v0.86h-1.05zM464.35 67.03h1.05v0.86h-1.05zM384.43 67.84h1.05v0.86h-1.05zM390.42 67.84h1.05v0.86h-1.05zM423.39 67.84h1.05v0.86h-1.05zM479.33 68.65h1.05v0.86h-1.05zM423.39 69.47h1.05v0.86h-1.05zM392.42 70.28h1.05v0.86h-1.05zM380.43 71.09h1.05v0.86h-1.05zM393.42 71.09h1.05v0.86h-1.05zM463.35 71.09h1.05v0.86h-1.05zM472.34 71.09h1.05v0.86h-1.05zM360.45 71.91h1.05v0.86h-1.05zM380.43 71.91h1.05v0.86h-1.05zM473.34 71.91h1.05v0.86h-1.05zM493.32 71.91h1.05v0.86h-1.05zM388.42 72.72h1.05v0.86h-1.05zM391.42 72.72h1.05v0.86h-1.05zM463.35 72.72h1.05v0.86h-1.05zM474.34 72.72h1.05v0.86h-1.05zM493.32 72.72h1.05v0.86h-1.05zM388.42 73.53h1.05v0.86h-1.05zM396.42 73.53h1.05v0.86h-1.05zM470.34 73.53h1.05v0.86h-1.05zM381.43 74.34h1.05v0.86h-1.05zM397.41 74.34h1.05v0.86h-1.05zM410.40 74.34h1.05v0.86h-1.05zM470.34 74.34h1.05v0.86h-1.05zM475.33 74.34h1.05v0.86h-1.05zM394.42 75.16h1.05v0.86h-1.05zM472.34 75.16h1.05v0.86h-1.05zM399.41 75.97h1.05v0.86h-1.05zM471.34 75.97h1.05v0.86h-1.05zM478.33 75.97h1.05v0.86h-1.05zM400.41 76.78h1.05v0.86h-1.05zM472.34 76.78h1.05v0.86h-1.05zM401.41 77.60h1.05v0.86h-1.05zM501.31 77.60h1.05v0.86h-1.05zM402.41 78.41h1.05v0.86h-1.05zM456.35 78.41h1.05v0.86h-1.05zM473.34 78.41h1.05v0.86h-1.05zM477.33 78.41h1.05v0.86h-1.05zM507.30 78.41h1.05v0.86h-1.05zM403.41 79.22h1.05v0.86h-1.05zM456.35 80.03h1.05v0.86h-1.05zM477.33 80.85h1.05v0.86h-1.05zM484.32 80.85h1.05v0.86h-1.05zM402.41 81.66h1.05v0.86h-1.05zM406.41 81.66h1.05v0.86h-1.05zM478.33 81.66h1.05v0.86h-1.05zM486.32 81.66h1.05v0.86h-1.05zM407.40 82.47h1.05v0.86h-1.05zM419.39 82.47h1.05v0.86h-1.05zM397.41 83.29h1.05v0.86h-1.05zM407.40 83.29h1.05v0.86h-1.05zM419.39 83.29h1.05v0.86h-1.05zM399.41 84.10h2.05v0.86h-2.05zM405.41 84.10h1.05v0.86h-1.05zM406.41 84.91h1.05v0.86h-1.05zM412.40 84.91h1.05v0.86h-1.05zM454.36 84.91h2.05v0.86h-2.05zM489.32 84.91h1.05v0.86h-1.05zM413.40 85.72h1.05v0.86h-1.05zM485.32 85.72h1.05v0.86h-1.05zM490.32 85.72h1.05v0.86h-1.05zM414.40 86.54h1.05v0.86h-1.05zM484.32 86.54h1.05v0.86h-1.05zM493.32 86.54h1.05v0.86h-1.05zM332.48 87.35h1.05v0.86h-1.05zM334.48 87.35h1.05v0.86h-1.05zM385.43 87.35h2.05v0.86h-2.05zM492.32 87.35h1.05v0.86h-1.05zM396.42 88.16h1.05v0.86h-1.05zM488.32 88.16h1.05v0.86h-1.05zM493.32 88.16h2.05v0.86h-2.05zM334.48 88.98h1.05v0.86h-1.05zM396.42 88.98h1.05v0.86h-1.05zM487.32 88.98h1.05v0.86h-1.05zM494.31 88.98h1.05v0.86h-1.05zM336.48 89.79h1.05v0.86h-1.05zM418.39 89.79h1.05v0.86h-1.05zM488.32 89.79h1.05v0.86h-1.05zM495.31 89.79h1.05v0.86h-1.05zM337.48 90.60h1.05v0.86h-1.05zM388.42 90.60h1.05v0.86h-1.05zM411.40 90.60h1.05v0.86h-1.05zM464.35 90.60h1.05v0.86h-1.05zM495.31 90.60h1.05v0.86h-1.05zM412.40 91.41h1.05v0.86h-1.05zM418.39 91.41h1.05v0.86h-1.05zM420.39 91.41h1.05v0.86h-1.05zM425.39 91.41h1.05v0.86h-1.05zM490.32 91.41h1.05v0.86h-1.05zM492.32 91.41h1.05v0.86h-1.05zM497.31 91.41h1.05v0.86h-1.05zM340.47 92.23h2.05v0.86h-2.05zM413.40 92.23h1.05v0.86h-1.05zM421.39 92.23h1.05v0.86h-1.05zM491.32 92.23h1.05v0.86h-1.05zM339.47 93.04h1.05v0.86h-1.05zM414.40 93.04h1.05v0.86h-1.05zM493.32 93.04h1.05v0.86h-1.05zM415.40 93.85h1.05v0.86h-1.05zM460.35 93.85h1.05v0.86h-1.05zM493.32 93.85h1.05v0.86h-1.05zM344.47 94.67h1.05v0.86h-1.05zM495.31 94.67h1.05v0.86h-1.05zM501.31 94.67h1.05v0.86h-1.05zM341.47 95.48h1.05v0.86h-1.05zM344.47 95.48h2.05v0.86h-2.05zM425.39 95.48h1.05v0.86h-1.05zM502.31 95.48h1.05v0.86h-1.05zM344.47 96.29h1.05v0.86h-1.05zM504.30 96.29h1.05v0.86h-1.05zM343.47 97.10h1.05v0.86h-1.05zM345.47 97.10h1.05v0.86h-1.05zM348.46 97.10h1.05v0.86h-1.05zM349.46 97.92h1.05v0.86h-1.05zM421.39 97.92h1.05v0.86h-1.05zM350.46 98.73h1.05v0.86h-1.05zM506.30 98.73h1.05v0.86h-1.05zM346.47 99.54h1.05v0.86h-1.05zM351.46 99.54h1.05v0.86h-1.05zM422.39 99.54h1.05v0.86h-1.05zM507.30 99.54h1.05v0.86h-1.05zM346.47 100.36h1.05v0.86h-1.05zM352.46 100.36h1.05v0.86h-1.05zM363.45 100.36h1.05v0.86h-1.05zM421.39 100.36h3.05v0.86h-3.05zM507.30 100.36h1.05v0.86h-1.05zM353.46 101.17h1.05v0.86h-1.05zM424.39 101.17h1.05v0.86h-1.05zM431.38 101.17h2.05v0.86h-2.05zM425.39 101.98h1.05v0.86h-1.05zM336.48 102.79h1.05v0.86h-1.05zM349.46 102.79h1.05v0.86h-1.05zM356.46 102.79h1.05v0.86h-1.05zM426.38 102.79h1.05v0.86h-1.05zM434.38 102.79h1.05v0.86h-1.05zM497.31 103.61h2.05v0.86h-2.05zM358.45 104.42h1.05v0.86h-1.05zM387.42 104.42h1.05v0.86h-1.05zM428.38 104.42h1.05v0.86h-1.05zM507.30 104.42h1.05v0.86h-1.05zM437.37 105.23h1.05v0.86h-1.05zM360.45 106.05h1.05v0.86h-1.05zM430.38 106.05h1.05v0.86h-1.05zM437.37 106.05h2.05v0.86h-2.05zM333.48 106.86h1.05v0.86h-1.05zM354.46 106.86h1.05v0.86h-1.05zM385.43 106.86h1.05v0.86h-1.05zM431.38 106.86h2.05v0.86h-2.05zM354.46 107.67h1.05v0.86h-1.05zM466.34 107.67h1.05v0.86h-1.05zM469.34 107.67h1.05v0.86h-1.05zM434.38 108.49h1.05v0.86h-1.05zM441.37 108.49h1.05v0.86h-1.05zM453.36 108.49h1.05v0.86h-1.05zM356.46 109.30h1.05v0.86h-1.05zM364.45 109.30h1.05v0.86h-1.05zM435.38 110.11h1.05v0.86h-1.05zM358.45 110.92h1.05v0.86h-1.05zM366.45 110.92h1.05v0.86h-1.05zM437.37 111.74h1.05v0.86h-1.05zM438.37 112.55h1.05v0.86h-1.05zM361.45 113.36h1.05v0.86h-1.05zM369.44 113.36h1.05v0.86h-1.05zM425.39 113.36h1.05v0.86h-1.05zM439.37 113.36h1.05v0.86h-1.05zM364.45 114.18h1.05v0.86h-1.05zM435.38 114.18h1.05v0.86h-1.05zM364.45 114.99h1.05v0.86h-1.05zM371.44 114.99h1.05v0.86h-1.05zM386.43 114.99h1.05v0.86h-1.05zM441.37 114.99h1.05v0.86h-1.05zM443.37 114.99h1.05v0.86h-1.05zM364.45 115.80h1.05v0.86h-1.05zM373.44 115.80h1.05v0.86h-1.05zM413.40 115.80h1.05v0.86h-1.05zM374.44 116.61h1.05v0.86h-1.05zM374.44 117.43h1.05v0.86h-1.05zM367.45 118.24h1.05v0.86h-1.05zM375.44 118.24h1.05v0.86h-1.05zM439.37 118.24h1.05v0.86h-1.05zM333.48 119.05h1.05v0.86h-1.05zM454.36 119.05h1.05v0.86h-1.05zM333.48 119.87h1.05v0.86h-1.05zM369.44 119.87h2.05v0.86h-2.05zM447.36 119.87h1.05v0.86h-1.05zM449.36 119.87h1.05v0.86h-1.05zM454.36 119.87h2.05v0.86h-2.05zM375.44 120.68h1.05v0.86h-1.05zM414.40 120.68h1.05v0.86h-1.05zM336.48 121.49h1.05v0.86h-1.05zM371.44 121.49h2.05v0.86h-2.05zM378.43 121.49h1.05v0.86h-1.05zM450.36 121.49h2.05v0.86h-2.05zM457.35 121.49h1.05v0.86h-1.05zM355.46 122.30h1.05v0.86h-1.05zM450.36 122.30h1.05v0.86h-1.05zM377.44 123.12h1.05v0.86h-1.05zM379.43 123.12h1.05v0.86h-1.05zM379.43 123.93h2.05v0.86h-2.05zM386.43 123.93h1.05v0.86h-1.05zM460.35 123.93h1.05v0.86h-1.05zM381.43 124.74h1.05v0.86h-1.05zM453.36 124.74h2.05v0.86h-2.05zM454.36 125.56h1.05v0.86h-1.05zM379.43 126.37h2.05v0.86h-2.05zM383.43 126.37h1.05v0.86h-1.05zM455.35 126.37h1.05v0.86h-1.05zM478.33 126.37h1.05v0.86h-1.05zM381.43 127.18h1.05v0.86h-1.05zM383.43 127.18h1.05v0.86h-1.05zM456.35 127.18h2.05v0.86h-2.05zM463.35 127.18h2.05v0.86h-2.05zM384.43 127.99h1.05v0.86h-1.05zM383.43 128.81h1.05v0.86h-1.05zM458.35 128.81h1.05v0.86h-1.05zM386.43 129.62h1.05v0.86h-1.05zM460.35 129.62h2.05v0.86h-2.05zM391.42 130.43h1.05v0.86h-1.05zM467.34 130.43h1.05v0.86h-1.05zM461.35 131.25h1.05v0.86h-1.05zM463.35 131.25h1.05v0.86h-1.05zM435.38 132.06h1.05v0.86h-1.05zM452.36 132.06h1.05v0.86h-1.05zM490.32 132.06h1.05v0.86h-1.05zM393.42 132.87h1.05v0.86h-1.05zM463.35 132.87h1.05v0.86h-1.05zM351.46 133.68h1.05v0.86h-1.05zM393.42 133.68h2.05v0.86h-2.05zM434.38 133.68h1.05v0.86h-1.05zM452.36 134.50h1.05v0.86h-1.05zM351.46 135.31h1.05v0.86h-1.05zM498.31 135.31h1.05v0.86h-1.05zM397.41 136.12h1.05v0.86h-1.05zM498.31 136.12h1.05v0.86h-1.05zM392.42 136.94h1.05v0.86h-1.05zM398.41 136.94h1.05v0.86h-1.05zM403.41 136.94h1.05v0.86h-1.05zM392.42 137.75h1.05v0.86h-1.05zM399.41 137.75h1.05v0.86h-1.05zM477.33 137.75h1.05v0.86h-1.05zM393.42 138.56h1.05v0.86h-1.05zM470.34 138.56h1.05v0.86h-1.05zM498.31 138.56h1.05v0.86h-1.05zM396.42 139.37h1.05v0.86h-1.05zM472.34 139.37h1.05v0.86h-1.05zM478.33 139.37h1.05v0.86h-1.05zM478.33 140.19h1.05v0.86h-1.05zM480.33 140.19h1.05v0.86h-1.05zM349.46 141.00h1.05v0.86h-1.05zM398.41 141.00h1.05v0.86h-1.05zM403.41 141.00h1.05v0.86h-1.05zM481.33 141.00h1.05v0.86h-1.05zM349.46 141.81h1.05v0.86h-1.05zM397.41 141.81h1.05v0.86h-1.05zM404.41 141.81h1.05v0.86h-1.05zM474.34 141.81h2.05v0.86h-2.05zM406.41 142.63h1.05v0.86h-1.05zM447.36 142.63h1.05v0.86h-1.05zM465.34 142.63h1.05v0.86h-1.05zM475.33 142.63h1.05v0.86h-1.05zM483.33 142.63h1.05v0.86h-1.05zM349.46 143.44h1.05v0.86h-1.05zM399.41 143.44h1.05v0.86h-1.05zM496.31 143.44h1.05v0.86h-1.05zM499.31 143.44h1.05v0.86h-1.05zM400.41 144.25h1.05v0.86h-1.05zM340.47 145.06h1.05v0.86h-1.05zM400.41 145.06h1.05v0.86h-1.05zM408.40 145.06h1.05v0.86h-1.05zM478.33 145.06h1.05v0.86h-1.05zM401.41 145.88h1.05v0.86h-1.05zM409.40 145.88h1.05v0.86h-1.05zM479.33 145.88h1.05v0.86h-1.05zM400.41 146.69h1.05v0.86h-1.05zM410.40 146.69h1.05v0.86h-1.05zM433.38 146.69h1.05v0.86h-1.05zM452.36 146.69h1.05v0.86h-1.05zM481.33 146.69h1.05v0.86h-1.05zM488.32 146.69h1.05v0.86h-1.05zM411.40 147.50h1.05v0.86h-1.05zM481.33 147.50h1.05v0.86h-1.05zM489.32 147.50h1.05v0.86h-1.05zM490.32 148.32h1.05v0.86h-1.05zM407.40 149.13h1.05v0.86h-1.05zM483.33 149.13h1.05v0.86h-1.05zM492.32 149.94h1.05v0.86h-1.05zM507.30 149.94h1.05v0.86h-1.05zM408.40 151.57h1.05v0.86h-1.05zM416.39 151.57h1.05v0.86h-1.05zM343.47 152.38h1.05v0.86h-1.05zM374.44 152.38h1.05v0.86h-1.05zM507.30 152.38h1.05v0.86h-1.05zM374.44 153.19h1.05v0.86h-1.05zM451.36 153.19h1.05v0.86h-1.05zM488.32 153.19h1.05v0.86h-1.05zM374.44 154.01h1.05v0.86h-1.05zM478.33 154.01h1.05v0.86h-1.05zM496.31 154.01h1.05v0.86h-1.05zM421.39 154.82h1.05v0.86h-1.05zM483.33 154.82h1.05v0.86h-1.05zM488.32 154.82h1.05v0.86h-1.05zM413.40 155.63h1.05v0.86h-1.05zM421.39 155.63h1.05v0.86h-1.05zM483.33 155.63h1.05v0.86h-1.05zM342.47 156.45h1.05v0.86h-1.05zM492.32 156.45h1.05v0.86h-1.05zM500.31 156.45h1.05v0.86h-1.05zM344.47 157.26h1.05v0.86h-1.05zM415.40 157.26h1.05v0.86h-1.05zM423.39 157.26h1.05v0.86h-1.05zM500.31 157.26h1.05v0.86h-1.05zM398.41 158.07h1.05v0.86h-1.05zM416.39 158.07h1.05v0.86h-1.05zM424.39 158.07h1.05v0.86h-1.05zM424.39 158.88h2.05v0.86h-2.05zM503.31 158.88h1.05v0.86h-1.05zM346.47 159.70h1.05v0.86h-1.05zM425.39 159.70h2.05v0.86h-2.05zM497.31 159.70h1.05v0.86h-1.05zM346.47 160.51h1.05v0.86h-1.05zM427.38 160.51h1.05v0.86h-1.05zM428.38 161.32h1.05v0.86h-1.05zM499.31 161.32h1.05v0.86h-1.05zM505.30 161.32h1.05v0.86h-1.05zM338.48 162.14h1.05v0.86h-1.05zM348.46 162.14h1.05v0.86h-1.05zM422.39 162.14h1.05v0.86h-1.05zM429.38 162.14h1.05v0.86h-1.05zM348.46 162.95h1.05v0.86h-1.05zM352.46 162.95h1.05v0.86h-1.05zM506.30 162.95h1.05v0.86h-1.05zM352.46 163.76h2.05v0.86h-2.05zM429.38 163.76h1.05v0.86h-1.05zM484.32 163.76h1.05v0.86h-1.05zM489.32 163.76h1.05v0.86h-1.05zM501.31 163.76h1.05v0.86h-1.05zM503.31 163.76h1.05v0.86h-1.05zM332.48 164.57h1.05v0.86h-1.05zM425.39 164.57h1.05v0.86h-1.05zM431.38 164.57h1.05v0.86h-1.05zM504.30 164.57h1.05v0.86h-1.05zM351.46 165.39h1.05v0.86h-1.05zM355.46 165.39h2.05v0.86h-2.05zM432.38 165.39h1.05v0.86h-1.05z"/>
<path fill="#431c46" d="M315.50 8.50h1.05v0.86h-1.05zM314.50 9.31h1.05v0.86h-1.05zM366.45 10.94h1.05v0.86h-1.05zM322.49 13.38h1.05v0.86h-1.05zM326.49 16.63h1.05v0.86h-1.05zM329.48 17.44h1.05v0.86h-1.05zM323.49 18.25h1.05v0.86h-1.05zM334.48 18.25h1.05v0.86h-1.05zM339.47 19.07h2.05v0.86h-2.05zM348.46 19.07h1.05v0.86h-1.05zM325.49 19.88h1.05v0.86h-1.05zM339.47 19.88h1.05v0.86h-1.05zM343.47 19.88h1.05v0.86h-1.05zM338.48 20.69h1.05v0.86h-1.05zM343.47 21.51h3.05v0.86h-3.05zM347.47 21.51h1.05v0.86h-1.05zM340.47 22.32h1.05v0.86h-1.05zM345.47 22.32h1.05v0.86h-1.05zM462.35 22.32h1.05v0.86h-1.05zM329.48 23.13h1.05v0.86h-1.05zM339.47 23.13h1.05v0.86h-1.05zM341.47 23.13h1.05v0.86h-1.05zM345.47 23.13h1.05v0.86h-1.05zM339.47 23.94h1.05v0.86h-1.05zM344.47 23.94h1.05v0.86h-1.05zM346.47 23.94h2.05v0.86h-2.05zM352.46 23.94h1.05v0.86h-1.05zM344.47 25.57h1.05v0.86h-1.05zM346.47 25.57h3.05v0.86h-3.05zM342.47 26.38h1.05v0.86h-1.05zM345.47 26.38h1.05v0.86h-1.05zM347.47 26.38h2.05v0.86h-2.05zM414.40 26.38h1.05v0.86h-1.05zM344.47 27.20h2.05v0.86h-2.05zM347.47 27.20h3.05v0.86h-3.05zM415.40 27.20h1.05v0.86h-1.05zM347.47 28.01h1.05v0.86h-1.05zM353.46 28.01h1.05v0.86h-1.05zM415.40 28.01h1.05v0.86h-1.05zM349.46 28.82h1.05v0.86h-1.05zM347.47 29.64h1.05v0.86h-1.05zM349.46 29.64h2.05v0.86h-2.05zM416.39 29.64h1.05v0.86h-1.05zM351.46 30.45h1.05v0.86h-1.05zM419.39 30.45h1.05v0.86h-1.05zM498.31 30.45h1.05v0.86h-1.05zM350.46 31.26h5.04v0.86h-5.04zM340.47 32.07h1.05v0.86h-1.05zM353.46 32.07h1.05v0.86h-1.05zM420.39 32.07h3.05v0.86h-3.05zM500.31 32.07h1.05v0.86h-1.05zM348.46 32.89h1.05v0.86h-1.05zM351.46 32.89h2.05v0.86h-2.05zM354.46 32.89h1.05v0.86h-1.05zM421.39 32.89h1.05v0.86h-1.05zM423.39 32.89h1.05v0.86h-1.05zM499.31 32.89h1.05v0.86h-1.05zM501.31 32.89h1.05v0.86h-1.05zM351.46 33.70h2.05v0.86h-2.05zM422.39 33.70h1.05v0.86h-1.05zM424.39 33.70h1.05v0.86h-1.05zM354.46 34.51h1.05v0.86h-1.05zM423.39 34.51h1.05v0.86h-1.05zM468.34 34.51h1.05v0.86h-1.05zM352.46 35.33h1.05v0.86h-1.05zM356.46 35.33h1.05v0.86h-1.05zM423.39 35.33h1.05v0.86h-1.05zM502.31 35.33h1.05v0.86h-1.05zM505.30 35.33h1.05v0.86h-1.05zM503.31 36.14h1.05v0.86h-1.05zM357.46 36.95h1.05v0.86h-1.05zM474.34 36.95h1.05v0.86h-1.05zM355.46 37.76h1.05v0.86h-1.05zM357.46 37.76h2.05v0.86h-2.05zM360.45 37.76h1.05v0.86h-1.05zM506.30 37.76h1.05v0.86h-1.05zM347.47 38.58h1.05v0.86h-1.05zM358.45 38.58h1.05v0.86h-1.05zM472.34 38.58h1.05v0.86h-1.05zM507.30 38.58h1.05v0.86h-1.05zM357.46 39.39h1.05v0.86h-1.05zM427.38 39.39h1.05v0.86h-1.05zM449.36 39.39h1.05v0.86h-1.05zM507.30 39.39h1.05v0.86h-1.05zM349.46 40.20h1.05v0.86h-1.05zM357.46 40.20h1.05v0.86h-1.05zM360.45 40.20h1.05v0.86h-1.05zM360.45 41.02h3.05v0.86h-3.05zM429.38 41.02h1.05v0.86h-1.05zM434.38 41.02h2.05v0.86h-2.05zM351.46 41.83h1.05v0.86h-1.05zM360.45 41.83h2.05v0.86h-2.05zM429.38 41.83h1.05v0.86h-1.05zM361.45 42.64h1.05v0.86h-1.05zM430.38 42.64h1.05v0.86h-1.05zM437.37 42.64h1.05v0.86h-1.05zM365.45 43.45h1.05v0.86h-1.05zM431.38 43.45h1.05v0.86h-1.05zM365.45 45.08h1.05v0.86h-1.05zM436.37 45.08h1.05v0.86h-1.05zM440.37 45.08h1.05v0.86h-1.05zM366.45 46.71h1.05v0.86h-1.05zM358.45 47.52h1.05v0.86h-1.05zM359.45 48.33h1.05v0.86h-1.05zM367.45 48.33h1.05v0.86h-1.05zM437.37 48.33h1.05v0.86h-1.05zM368.44 49.14h2.05v0.86h-2.05zM446.36 49.14h1.05v0.86h-1.05zM440.37 49.96h1.05v0.86h-1.05zM447.36 50.77h1.05v0.86h-1.05zM371.44 51.58h1.05v0.86h-1.05zM447.36 51.58h1.05v0.86h-1.05zM447.36 52.40h2.05v0.86h-2.05zM366.45 53.21h1.05v0.86h-1.05zM443.37 53.21h1.05v0.86h-1.05zM366.45 54.02h1.05v0.86h-1.05zM451.36 54.02h1.05v0.86h-1.05zM446.36 54.83h1.05v0.86h-1.05zM369.44 56.46h1.05v0.86h-1.05zM447.36 56.46h1.05v0.86h-1.05zM453.36 56.46h2.05v0.86h-2.05zM378.43 57.27h1.05v0.86h-1.05zM449.36 57.27h1.05v0.86h-1.05zM371.44 58.09h1.05v0.86h-1.05zM379.43 58.09h1.05v0.86h-1.05zM455.35 58.09h1.05v0.86h-1.05zM456.35 58.90h1.05v0.86h-1.05zM373.44 59.71h1.05v0.86h-1.05zM380.43 59.71h1.05v0.86h-1.05zM497.31 59.71h1.05v0.86h-1.05zM381.43 60.52h1.05v0.86h-1.05zM412.40 60.52h1.05v0.86h-1.05zM453.36 60.52h1.05v0.86h-1.05zM381.43 61.34h1.05v0.86h-1.05zM459.35 61.34h1.05v0.86h-1.05zM376.44 62.15h1.05v0.86h-1.05zM378.43 62.15h1.05v0.86h-1.05zM379.43 62.96h1.05v0.86h-1.05zM457.35 62.96h3.05v0.86h-3.05zM460.35 63.78h1.05v0.86h-1.05zM460.35 64.59h1.05v0.86h-1.05zM462.35 64.59h1.05v0.86h-1.05zM507.30 65.40h1.05v0.86h-1.05zM382.43 66.21h1.05v0.86h-1.05zM384.43 67.03h1.05v0.86h-1.05zM463.35 67.03h1.05v0.86h-1.05zM385.43 67.84h1.05v0.86h-1.05zM395.42 72.72h1.05v0.86h-1.05zM469.34 72.72h1.05v0.86h-1.05zM469.34 73.53h1.05v0.86h-1.05zM473.34 74.34h1.05v0.86h-1.05zM395.42 75.16h1.05v0.86h-1.05zM470.34 75.16h1.05v0.86h-1.05zM475.33 75.16h1.05v0.86h-1.05zM477.33 75.16h1.05v0.86h-1.05zM472.34 75.97h1.05v0.86h-1.05zM476.33 75.97h1.05v0.86h-1.05zM398.41 77.60h1.05v0.86h-1.05zM478.33 77.60h1.05v0.86h-1.05zM401.41 78.41h1.05v0.86h-1.05zM475.33 78.41h1.05v0.86h-1.05zM481.33 78.41h2.05v0.86h-2.05zM473.34 79.22h1.05v0.86h-1.05zM476.33 79.22h1.05v0.86h-1.05zM404.41 80.03h1.05v0.86h-1.05zM476.33 80.03h2.05v0.86h-2.05zM401.41 80.85h1.05v0.86h-1.05zM479.33 80.85h1.05v0.86h-1.05zM403.41 81.66h1.05v0.86h-1.05zM500.31 81.66h1.05v0.86h-1.05zM403.41 82.47h1.05v0.86h-1.05zM479.33 82.47h1.05v0.86h-1.05zM486.32 82.47h1.05v0.86h-1.05zM408.40 83.29h1.05v0.86h-1.05zM410.40 84.10h1.05v0.86h-1.05zM488.32 84.10h1.05v0.86h-1.05zM501.31 84.10h1.05v0.86h-1.05zM409.40 84.91h1.05v0.86h-1.05zM482.33 84.91h1.05v0.86h-1.05zM412.40 85.72h1.05v0.86h-1.05zM484.32 85.72h1.05v0.86h-1.05zM489.32 85.72h1.05v0.86h-1.05zM413.40 86.54h1.05v0.86h-1.05zM414.40 87.35h2.05v0.86h-2.05zM485.32 87.35h1.05v0.86h-1.05zM491.32 87.35h1.05v0.86h-1.05zM409.40 88.16h1.05v0.86h-1.05zM410.40 88.98h1.05v0.86h-1.05zM417.39 88.98h1.05v0.86h-1.05zM492.32 88.98h1.05v0.86h-1.05zM410.40 89.79h2.05v0.86h-2.05zM489.32 89.79h1.05v0.86h-1.05zM489.32 90.60h1.05v0.86h-1.05zM491.32 90.60h1.05v0.86h-1.05zM494.31 90.60h1.05v0.86h-1.05zM338.48 91.41h1.05v0.86h-1.05zM420.39 92.23h1.05v0.86h-1.05zM492.32 92.23h1.05v0.86h-1.05zM340.47 93.04h1.05v0.86h-1.05zM460.35 93.04h1.05v0.86h-1.05zM495.31 93.04h1.05v0.86h-1.05zM423.39 93.85h1.05v0.86h-1.05zM417.39 94.67h1.05v0.86h-1.05zM424.39 94.67h1.05v0.86h-1.05zM343.47 95.48h1.05v0.86h-1.05zM417.39 95.48h1.05v0.86h-1.05zM495.31 95.48h2.05v0.86h-2.05zM501.31 95.48h1.05v0.86h-1.05zM343.47 96.29h1.05v0.86h-1.05zM345.47 96.29h1.05v0.86h-1.05zM347.47 97.10h1.05v0.86h-1.05zM419.39 97.10h1.05v0.86h-1.05zM504.30 97.10h1.05v0.86h-1.05zM345.47 97.92h2.05v0.86h-2.05zM428.38 97.92h1.05v0.86h-1.05zM498.31 97.92h1.05v0.86h-1.05zM349.46 98.73h1.05v0.86h-1.05zM421.39 98.73h1.05v0.86h-1.05zM429.38 98.73h1.05v0.86h-1.05zM350.46 99.54h1.05v0.86h-1.05zM424.39 99.54h1.05v0.86h-1.05zM430.38 99.54h1.05v0.86h-1.05zM504.30 99.54h1.05v0.86h-1.05zM347.47 100.36h1.05v0.86h-1.05zM502.31 100.36h1.05v0.86h-1.05zM354.46 101.98h1.05v0.86h-1.05zM433.38 101.98h1.05v0.86h-1.05zM504.30 101.98h1.05v0.86h-1.05zM335.48 102.79h1.05v0.86h-1.05zM468.34 102.79h1.05v0.86h-1.05zM504.30 102.79h1.05v0.86h-1.05zM355.46 103.61h1.05v0.86h-1.05zM434.38 103.61h2.05v0.86h-2.05zM505.30 103.61h1.05v0.86h-1.05zM351.46 104.42h1.05v0.86h-1.05zM429.38 104.42h1.05v0.86h-1.05zM506.30 104.42h1.05v0.86h-1.05zM352.46 105.23h1.05v0.86h-1.05zM359.45 105.23h2.05v0.86h-2.05zM429.38 105.23h1.05v0.86h-1.05zM435.38 105.23h1.05v0.86h-1.05zM353.46 106.05h1.05v0.86h-1.05zM361.45 106.86h1.05v0.86h-1.05zM362.45 107.67h1.05v0.86h-1.05zM440.37 107.67h1.05v0.86h-1.05zM355.46 108.49h1.05v0.86h-1.05zM363.45 108.49h1.05v0.86h-1.05zM440.37 108.49h1.05v0.86h-1.05zM357.46 109.30h1.05v0.86h-1.05zM361.45 109.30h1.05v0.86h-1.05zM441.37 109.30h1.05v0.86h-1.05zM365.45 110.11h1.05v0.86h-1.05zM436.37 110.11h1.05v0.86h-1.05zM442.37 110.11h2.05v0.86h-2.05zM436.37 110.92h3.05v0.86h-3.05zM359.45 111.74h2.05v0.86h-2.05zM367.45 111.74h1.05v0.86h-1.05zM438.37 111.74h1.05v0.86h-1.05zM361.45 112.55h1.05v0.86h-1.05zM368.44 112.55h1.05v0.86h-1.05zM448.36 114.18h1.05v0.86h-1.05zM469.34 114.18h1.05v0.86h-1.05zM370.44 114.99h1.05v0.86h-1.05zM442.37 114.99h1.05v0.86h-1.05zM449.36 114.99h1.05v0.86h-1.05zM365.45 115.80h1.05v0.86h-1.05zM443.37 115.80h1.05v0.86h-1.05zM450.36 115.80h1.05v0.86h-1.05zM445.36 117.43h1.05v0.86h-1.05zM369.44 119.05h2.05v0.86h-2.05zM373.44 120.68h1.05v0.86h-1.05zM376.44 120.68h1.05v0.86h-1.05zM373.44 121.49h1.05v0.86h-1.05zM456.35 121.49h1.05v0.86h-1.05zM374.44 122.30h1.05v0.86h-1.05zM377.44 122.30h1.05v0.86h-1.05zM458.35 122.30h1.05v0.86h-1.05zM378.43 123.93h1.05v0.86h-1.05zM452.36 123.93h1.05v0.86h-1.05zM382.43 125.56h1.05v0.86h-1.05zM462.35 126.37h1.05v0.86h-1.05zM382.43 127.18h1.05v0.86h-1.05zM383.43 127.99h1.05v0.86h-1.05zM466.34 129.62h1.05v0.86h-1.05zM463.35 132.06h1.05v0.86h-1.05zM385.43 133.68h1.05v0.86h-1.05zM391.42 134.50h1.05v0.86h-1.05zM394.42 134.50h1.05v0.86h-1.05zM396.42 135.31h1.05v0.86h-1.05zM475.33 136.12h1.05v0.86h-1.05zM391.42 136.94h1.05v0.86h-1.05zM397.41 136.94h1.05v0.86h-1.05zM470.34 136.94h1.05v0.86h-1.05zM475.33 136.94h1.05v0.86h-1.05zM418.39 137.75h1.05v0.86h-1.05zM471.34 139.37h1.05v0.86h-1.05zM401.41 140.19h1.05v0.86h-1.05zM472.34 140.19h1.05v0.86h-1.05zM402.41 141.00h1.05v0.86h-1.05zM480.33 141.00h1.05v0.86h-1.05zM482.33 141.81h1.05v0.86h-1.05zM405.41 142.63h1.05v0.86h-1.05zM394.42 143.44h1.05v0.86h-1.05zM477.33 143.44h1.05v0.86h-1.05zM498.31 143.44h1.05v0.86h-1.05zM407.40 144.25h1.05v0.86h-1.05zM401.41 145.06h1.05v0.86h-1.05zM407.40 145.06h1.05v0.86h-1.05zM408.40 145.88h1.05v0.86h-1.05zM487.32 145.88h1.05v0.86h-1.05zM409.40 147.50h2.05v0.86h-2.05zM400.41 148.32h1.05v0.86h-1.05zM487.32 148.32h1.05v0.86h-1.05zM411.40 149.13h1.05v0.86h-1.05zM413.40 149.13h1.05v0.86h-1.05zM484.32 149.13h1.05v0.86h-1.05zM378.43 149.94h1.05v0.86h-1.05zM414.40 149.94h1.05v0.86h-1.05zM484.32 149.94h1.05v0.86h-1.05zM409.40 150.76h1.05v0.86h-1.05zM415.40 150.76h1.05v0.86h-1.05zM486.32 151.57h1.05v0.86h-1.05zM494.31 151.57h1.05v0.86h-1.05zM488.32 152.38h1.05v0.86h-1.05zM410.40 153.19h1.05v0.86h-1.05zM412.40 153.19h1.05v0.86h-1.05zM411.40 154.01h1.05v0.86h-1.05zM418.39 154.01h2.05v0.86h-2.05zM490.32 154.82h1.05v0.86h-1.05zM491.32 155.63h1.05v0.86h-1.05zM422.39 156.45h1.05v0.86h-1.05zM502.31 158.07h1.05v0.86h-1.05zM418.39 158.88h1.05v0.86h-1.05zM495.31 158.88h1.05v0.86h-1.05zM501.31 158.88h1.05v0.86h-1.05zM496.31 159.70h1.05v0.86h-1.05zM347.47 160.51h1.05v0.86h-1.05zM420.39 160.51h1.05v0.86h-1.05zM421.39 161.32h1.05v0.86h-1.05zM424.39 162.14h1.05v0.86h-1.05zM505.30 162.14h1.05v0.86h-1.05zM349.46 162.95h1.05v0.86h-1.05zM423.39 162.95h1.05v0.86h-1.05zM500.31 162.95h1.05v0.86h-1.05zM425.39 163.76h1.05v0.86h-1.05zM430.38 163.76h1.05v0.86h-1.05zM351.46 164.57h1.05v0.86h-1.05zM354.46 164.57h1.05v0.86h-1.05zM426.38 165.39h1.05v0.86h-1.05zM506.30 165.39h1.05v0.86h-1.05z"/>
<path fill="#511e4d" d="M316.50 9.31h1.05v0.86h-1.05zM315.50 10.13h1.05v0.86h-1.05zM317.50 11.75h1.05v0.86h-1.05zM338.48 18.25h1.05v0.86h-1.05zM341.47 18.25h3.05v0.86h-3.05zM324.49 19.07h1.05v0.86h-1.05zM332.48 19.07h1.05v0.86h-1.05zM338.48 19.07h1.05v0.86h-1.05zM342.47 19.07h1.05v0.86h-1.05zM336.48 19.88h1.05v0.86h-1.05zM340.47 20.69h1.05v0.86h-1.05zM342.47 20.69h3.05v0.86h-3.05zM327.49 21.51h1.05v0.86h-1.05zM340.47 21.51h1.05v0.86h-1.05zM333.48 22.32h1.05v0.86h-1.05zM342.47 22.32h1.05v0.86h-1.05zM337.48 23.13h2.05v0.86h-2.05zM340.47 23.13h1.05v0.86h-1.05zM343.47 23.94h1.05v0.86h-1.05zM330.48 24.76h1.05v0.86h-1.05zM332.48 24.76h1.05v0.86h-1.05zM337.48 24.76h1.05v0.86h-1.05zM342.47 24.76h1.05v0.86h-1.05zM344.47 24.76h1.05v0.86h-1.05zM342.47 25.57h1.05v0.86h-1.05zM333.48 26.38h1.05v0.86h-1.05zM340.47 26.38h1.05v0.86h-1.05zM334.48 27.20h1.05v0.86h-1.05zM335.48 28.01h1.05v0.86h-1.05zM346.47 28.01h1.05v0.86h-1.05zM348.46 28.82h1.05v0.86h-1.05zM350.46 28.82h1.05v0.86h-1.05zM343.47 29.64h1.05v0.86h-1.05zM345.47 29.64h1.05v0.86h-1.05zM418.39 29.64h1.05v0.86h-1.05zM337.48 30.45h1.05v0.86h-1.05zM498.31 31.26h1.05v0.86h-1.05zM340.47 32.89h1.05v0.86h-1.05zM500.31 32.89h1.05v0.86h-1.05zM343.47 33.70h1.05v0.86h-1.05zM354.46 33.70h1.05v0.86h-1.05zM357.46 33.70h1.05v0.86h-1.05zM352.46 34.51h1.05v0.86h-1.05zM356.46 34.51h1.05v0.86h-1.05zM424.39 34.51h2.05v0.86h-2.05zM355.46 35.33h1.05v0.86h-1.05zM426.38 35.33h2.05v0.86h-2.05zM504.30 35.33h1.05v0.86h-1.05zM354.46 36.14h1.05v0.86h-1.05zM356.46 36.14h1.05v0.86h-1.05zM427.38 36.14h2.05v0.86h-2.05zM505.30 36.14h1.05v0.86h-1.05zM345.47 36.95h1.05v0.86h-1.05zM356.46 36.95h1.05v0.86h-1.05zM504.30 36.95h1.05v0.86h-1.05zM346.47 37.76h1.05v0.86h-1.05zM348.46 37.76h1.05v0.86h-1.05zM430.38 37.76h2.05v0.86h-2.05zM355.46 38.58h1.05v0.86h-1.05zM358.45 39.39h1.05v0.86h-1.05zM433.38 39.39h1.05v0.86h-1.05zM506.30 39.39h1.05v0.86h-1.05zM356.46 40.20h1.05v0.86h-1.05zM434.38 40.20h1.05v0.86h-1.05zM350.46 41.02h1.05v0.86h-1.05zM359.45 41.02h1.05v0.86h-1.05zM353.46 41.83h1.05v0.86h-1.05zM357.46 41.83h2.05v0.86h-2.05zM437.37 41.83h1.05v0.86h-1.05zM341.47 43.45h1.05v0.86h-1.05zM361.45 43.45h2.05v0.86h-2.05zM438.37 43.45h1.05v0.86h-1.05zM438.37 44.27h1.05v0.86h-1.05zM441.37 45.89h1.05v0.86h-1.05zM357.46 46.71h1.05v0.86h-1.05zM365.45 46.71h1.05v0.86h-1.05zM435.38 46.71h1.05v0.86h-1.05zM364.45 47.52h1.05v0.86h-1.05zM438.37 47.52h1.05v0.86h-1.05zM360.45 48.33h1.05v0.86h-1.05zM444.37 48.33h1.05v0.86h-1.05zM361.45 49.14h1.05v0.86h-1.05zM367.45 49.14h1.05v0.86h-1.05zM445.36 49.14h1.05v0.86h-1.05zM362.45 49.96h1.05v0.86h-1.05zM369.44 49.96h1.05v0.86h-1.05zM364.45 50.77h1.05v0.86h-1.05zM366.45 52.40h1.05v0.86h-1.05zM371.44 52.40h1.05v0.86h-1.05zM365.45 53.21h1.05v0.86h-1.05zM447.36 54.02h1.05v0.86h-1.05zM448.36 56.46h1.05v0.86h-1.05zM370.44 57.27h1.05v0.86h-1.05zM453.36 57.27h2.05v0.86h-2.05zM452.36 58.90h2.05v0.86h-2.05zM455.35 58.90h1.05v0.86h-1.05zM457.35 59.71h1.05v0.86h-1.05zM374.44 60.52h1.05v0.86h-1.05zM455.35 60.52h1.05v0.86h-1.05zM380.43 61.34h1.05v0.86h-1.05zM456.35 61.34h1.05v0.86h-1.05zM458.35 61.34h1.05v0.86h-1.05zM381.43 62.15h1.05v0.86h-1.05zM458.35 62.15h1.05v0.86h-1.05zM381.43 64.59h1.05v0.86h-1.05zM385.43 64.59h1.05v0.86h-1.05zM461.35 64.59h1.05v0.86h-1.05zM382.43 65.40h1.05v0.86h-1.05zM386.43 65.40h1.05v0.86h-1.05zM461.35 65.40h1.05v0.86h-1.05zM386.43 67.84h1.05v0.86h-1.05zM386.43 68.65h1.05v0.86h-1.05zM470.34 71.09h1.05v0.86h-1.05zM391.42 71.91h1.05v0.86h-1.05zM469.34 71.91h1.05v0.86h-1.05zM394.42 72.72h1.05v0.86h-1.05zM473.34 72.72h1.05v0.86h-1.05zM395.42 73.53h1.05v0.86h-1.05zM473.34 75.97h1.05v0.86h-1.05zM477.33 75.97h1.05v0.86h-1.05zM397.41 76.78h1.05v0.86h-1.05zM473.34 76.78h1.05v0.86h-1.05zM479.33 76.78h1.05v0.86h-1.05zM475.33 77.60h1.05v0.86h-1.05zM399.41 78.41h1.05v0.86h-1.05zM476.33 78.41h1.05v0.86h-1.05zM478.33 79.22h1.05v0.86h-1.05zM482.33 79.22h1.05v0.86h-1.05zM402.41 80.85h1.05v0.86h-1.05zM404.41 82.47h1.05v0.86h-1.05zM481.33 83.29h1.05v0.86h-1.05zM487.32 83.29h1.05v0.86h-1.05zM481.33 84.10h1.05v0.86h-1.05zM407.40 85.72h1.05v0.86h-1.05zM408.40 87.35h1.05v0.86h-1.05zM486.32 87.35h1.05v0.86h-1.05zM415.40 88.16h1.05v0.86h-1.05zM491.32 88.16h1.05v0.86h-1.05zM415.40 88.98h1.05v0.86h-1.05zM490.32 88.98h1.05v0.86h-1.05zM494.31 89.79h1.05v0.86h-1.05zM412.40 90.60h1.05v0.86h-1.05zM413.40 91.41h1.05v0.86h-1.05zM415.40 91.41h1.05v0.86h-1.05zM491.32 91.41h1.05v0.86h-1.05zM495.31 91.41h2.05v0.86h-2.05zM493.32 92.23h1.05v0.86h-1.05zM495.31 92.23h1.05v0.86h-1.05zM496.31 93.04h1.05v0.86h-1.05zM341.47 93.85h2.05v0.86h-2.05zM421.39 93.85h1.05v0.86h-1.05zM497.31 93.85h1.05v0.86h-1.05zM342.47 95.48h1.05v0.86h-1.05zM424.39 95.48h1.05v0.86h-1.05zM420.39 97.10h1.05v0.86h-1.05zM498.31 97.10h1.05v0.86h-1.05zM420.39 97.92h1.05v0.86h-1.05zM504.30 97.92h2.05v0.86h-2.05zM348.46 99.54h1.05v0.86h-1.05zM423.39 99.54h1.05v0.86h-1.05zM351.46 100.36h1.05v0.86h-1.05zM430.38 100.36h1.05v0.86h-1.05zM348.46 101.17h1.05v0.86h-1.05zM502.31 101.17h1.05v0.86h-1.05zM504.30 101.17h1.05v0.86h-1.05zM349.46 101.98h1.05v0.86h-1.05zM432.38 101.98h1.05v0.86h-1.05zM506.30 101.98h1.05v0.86h-1.05zM350.46 102.79h1.05v0.86h-1.05zM354.46 102.79h1.05v0.86h-1.05zM428.38 102.79h1.05v0.86h-1.05zM433.38 102.79h1.05v0.86h-1.05zM505.30 102.79h1.05v0.86h-1.05zM507.30 102.79h1.05v0.86h-1.05zM353.46 103.61h1.05v0.86h-1.05zM357.46 103.61h1.05v0.86h-1.05zM506.30 103.61h1.05v0.86h-1.05zM353.46 104.42h1.05v0.86h-1.05zM355.46 104.42h1.05v0.86h-1.05zM430.38 104.42h1.05v0.86h-1.05zM435.38 104.42h1.05v0.86h-1.05zM430.38 105.23h1.05v0.86h-1.05zM361.45 107.67h1.05v0.86h-1.05zM356.46 108.49h1.05v0.86h-1.05zM362.45 108.49h1.05v0.86h-1.05zM363.45 109.30h1.05v0.86h-1.05zM358.45 110.11h1.05v0.86h-1.05zM444.37 110.92h1.05v0.86h-1.05zM366.45 111.74h1.05v0.86h-1.05zM362.45 113.36h1.05v0.86h-1.05zM440.37 113.36h1.05v0.86h-1.05zM445.36 113.36h1.05v0.86h-1.05zM363.45 114.18h1.05v0.86h-1.05zM366.45 115.80h1.05v0.86h-1.05zM449.36 115.80h1.05v0.86h-1.05zM449.36 116.61h2.05v0.86h-2.05zM444.37 117.43h1.05v0.86h-1.05zM369.44 118.24h1.05v0.86h-1.05zM451.36 118.24h1.05v0.86h-1.05zM447.36 119.05h1.05v0.86h-1.05zM448.36 119.87h1.05v0.86h-1.05zM450.36 119.87h1.05v0.86h-1.05zM371.44 120.68h1.05v0.86h-1.05zM448.36 120.68h1.05v0.86h-1.05zM375.44 121.49h1.05v0.86h-1.05zM376.44 122.30h1.05v0.86h-1.05zM457.35 122.30h1.05v0.86h-1.05zM375.44 123.12h1.05v0.86h-1.05zM453.36 123.12h1.05v0.86h-1.05zM457.35 123.12h1.05v0.86h-1.05zM378.43 124.74h1.05v0.86h-1.05zM380.43 124.74h1.05v0.86h-1.05zM460.35 124.74h1.05v0.86h-1.05zM379.43 125.56h1.05v0.86h-1.05zM381.43 126.37h1.05v0.86h-1.05zM456.35 126.37h1.05v0.86h-1.05zM462.35 127.18h1.05v0.86h-1.05zM458.35 127.99h1.05v0.86h-1.05zM459.35 128.81h1.05v0.86h-1.05zM465.34 128.81h1.05v0.86h-1.05zM462.35 130.43h1.05v0.86h-1.05zM394.42 135.31h1.05v0.86h-1.05zM392.42 136.12h1.05v0.86h-1.05zM474.34 136.12h1.05v0.86h-1.05zM470.34 137.75h2.05v0.86h-2.05zM399.41 138.56h1.05v0.86h-1.05zM477.33 138.56h1.05v0.86h-1.05zM394.42 139.37h2.05v0.86h-2.05zM400.41 139.37h1.05v0.86h-1.05zM474.34 139.37h1.05v0.86h-1.05zM479.33 140.19h1.05v0.86h-1.05zM473.34 141.00h2.05v0.86h-2.05zM398.41 141.81h1.05v0.86h-1.05zM403.41 141.81h1.05v0.86h-1.05zM479.33 141.81h1.05v0.86h-1.05zM481.33 141.81h1.05v0.86h-1.05zM399.41 142.63h1.05v0.86h-1.05zM476.33 142.63h2.05v0.86h-2.05zM481.33 142.63h2.05v0.86h-2.05zM401.41 143.44h1.05v0.86h-1.05zM478.33 143.44h1.05v0.86h-1.05zM482.33 143.44h1.05v0.86h-1.05zM401.41 144.25h1.05v0.86h-1.05zM484.32 144.25h1.05v0.86h-1.05zM485.32 145.06h1.05v0.86h-1.05zM402.41 145.88h1.05v0.86h-1.05zM482.33 147.50h1.05v0.86h-1.05zM487.32 147.50h2.05v0.86h-2.05zM412.40 148.32h1.05v0.86h-1.05zM489.32 148.32h1.05v0.86h-1.05zM491.32 149.13h1.05v0.86h-1.05zM408.40 149.94h1.05v0.86h-1.05zM486.32 149.94h1.05v0.86h-1.05zM408.40 150.76h1.05v0.86h-1.05zM492.32 150.76h1.05v0.86h-1.05zM409.40 151.57h1.05v0.86h-1.05zM415.40 151.57h1.05v0.86h-1.05zM487.32 151.57h1.05v0.86h-1.05zM410.40 152.38h1.05v0.86h-1.05zM417.39 152.38h1.05v0.86h-1.05zM493.32 152.38h2.05v0.86h-2.05zM417.39 153.19h2.05v0.86h-2.05zM495.31 153.19h1.05v0.86h-1.05zM497.31 154.01h1.05v0.86h-1.05zM492.32 155.63h1.05v0.86h-1.05zM494.31 156.45h1.05v0.86h-1.05zM422.39 157.26h1.05v0.86h-1.05zM494.31 157.26h1.05v0.86h-1.05zM417.39 158.07h1.05v0.86h-1.05zM423.39 158.07h1.05v0.86h-1.05zM500.31 158.07h1.05v0.86h-1.05zM423.39 158.88h1.05v0.86h-1.05zM419.39 159.70h2.05v0.86h-2.05zM426.38 160.51h1.05v0.86h-1.05zM348.46 161.32h1.05v0.86h-1.05zM425.39 161.32h1.05v0.86h-1.05zM427.38 161.32h1.05v0.86h-1.05zM349.46 162.14h2.05v0.86h-2.05zM423.39 162.14h1.05v0.86h-1.05zM428.38 162.14h1.05v0.86h-1.05zM350.46 162.95h1.05v0.86h-1.05zM424.39 162.95h3.05v0.86h-3.05zM428.38 162.95h2.05v0.86h-2.05zM350.46 163.76h1.05v0.86h-1.05zM426.38 164.57h1.05v0.86h-1.05zM430.38 164.57h1.05v0.86h-1.05zM507.30 164.57h1.05v0.86h-1.05zM354.46 165.39h1.05v0.86h-1.05z"/>
<path fill="#611f53" d="M322.49 14.19h1.05v0.86h-1.05zM328.49 17.44h1.05v0.86h-1.05zM324.49 18.25h1.05v0.86h-1.05zM339.47 18.25h1.05v0.86h-1.05zM335.48 19.07h1.05v0.86h-1.05zM326.49 19.88h1.05v0.86h-1.05zM338.48 19.88h1.05v0.86h-1.05zM340.47 19.88h2.05v0.86h-2.05zM334.48 20.69h1.05v0.86h-1.05zM336.48 20.69h1.05v0.86h-1.05zM336.48 22.32h1.05v0.86h-1.05zM341.47 22.32h1.05v0.86h-1.05zM343.47 22.32h2.05v0.86h-2.05zM344.47 23.13h1.05v0.86h-1.05zM341.47 23.94h2.05v0.86h-2.05zM345.47 24.76h1.05v0.86h-1.05zM332.48 25.57h1.05v0.86h-1.05zM343.47 25.57h1.05v0.86h-1.05zM344.47 26.38h1.05v0.86h-1.05zM341.47 27.20h2.05v0.86h-2.05zM343.47 28.01h1.05v0.86h-1.05zM345.47 28.01h1.05v0.86h-1.05zM341.47 28.82h1.05v0.86h-1.05zM346.47 28.82h1.05v0.86h-1.05zM344.47 29.64h1.05v0.86h-1.05zM346.47 30.45h1.05v0.86h-1.05zM350.46 30.45h1.05v0.86h-1.05zM338.48 31.26h2.05v0.86h-2.05zM347.47 31.26h1.05v0.86h-1.05zM349.46 31.26h1.05v0.86h-1.05zM420.39 31.26h1.05v0.86h-1.05zM345.47 32.07h1.05v0.86h-1.05zM348.46 32.07h1.05v0.86h-1.05zM341.47 32.89h1.05v0.86h-1.05zM347.47 32.89h1.05v0.86h-1.05zM353.46 33.70h1.05v0.86h-1.05zM423.39 33.70h1.05v0.86h-1.05zM350.46 34.51h2.05v0.86h-2.05zM351.46 35.33h1.05v0.86h-1.05zM354.46 35.33h1.05v0.86h-1.05zM344.47 36.14h2.05v0.86h-2.05zM426.38 36.14h1.05v0.86h-1.05zM348.46 36.95h1.05v0.86h-1.05zM429.38 36.95h1.05v0.86h-1.05zM506.30 36.95h1.05v0.86h-1.05zM352.46 37.76h1.05v0.86h-1.05zM356.46 37.76h1.05v0.86h-1.05zM426.38 37.76h3.05v0.86h-3.05zM505.30 37.76h1.05v0.86h-1.05zM349.46 38.58h1.05v0.86h-1.05zM356.46 38.58h1.05v0.86h-1.05zM427.38 38.58h1.05v0.86h-1.05zM431.38 38.58h1.05v0.86h-1.05zM506.30 38.58h1.05v0.86h-1.05zM350.46 39.39h1.05v0.86h-1.05zM358.45 40.20h1.05v0.86h-1.05zM428.38 40.20h2.05v0.86h-2.05zM432.38 41.02h1.05v0.86h-1.05zM359.45 41.83h1.05v0.86h-1.05zM431.38 41.83h1.05v0.86h-1.05zM359.45 42.64h1.05v0.86h-1.05zM431.38 42.64h1.05v0.86h-1.05zM354.46 43.45h2.05v0.86h-2.05zM439.37 44.27h1.05v0.86h-1.05zM363.45 45.89h2.05v0.86h-2.05zM440.37 45.89h1.05v0.86h-1.05zM436.37 46.71h1.05v0.86h-1.05zM442.37 46.71h1.05v0.86h-1.05zM359.45 47.52h3.05v0.86h-3.05zM443.37 47.52h1.05v0.86h-1.05zM439.37 48.33h1.05v0.86h-1.05zM362.45 49.14h1.05v0.86h-1.05zM366.45 49.14h1.05v0.86h-1.05zM445.36 49.96h1.05v0.86h-1.05zM369.44 50.77h1.05v0.86h-1.05zM370.44 51.58h1.05v0.86h-1.05zM441.37 51.58h3.05v0.86h-3.05zM448.36 53.21h1.05v0.86h-1.05zM369.44 54.02h1.05v0.86h-1.05zM373.44 54.02h1.05v0.86h-1.05zM445.36 54.02h1.05v0.86h-1.05zM452.36 54.83h1.05v0.86h-1.05zM453.36 55.65h1.05v0.86h-1.05zM378.43 58.09h1.05v0.86h-1.05zM451.36 58.09h1.05v0.86h-1.05zM455.35 59.71h2.05v0.86h-2.05zM454.36 60.52h1.05v0.86h-1.05zM375.44 61.34h1.05v0.86h-1.05zM377.44 61.34h1.05v0.86h-1.05zM455.35 61.34h1.05v0.86h-1.05zM377.44 62.15h1.05v0.86h-1.05zM460.35 62.96h1.05v0.86h-1.05zM383.43 63.78h2.05v0.86h-2.05zM384.43 64.59h1.05v0.86h-1.05zM383.43 66.21h1.05v0.86h-1.05zM386.43 66.21h1.05v0.86h-1.05zM387.42 67.03h1.05v0.86h-1.05zM388.42 67.84h1.05v0.86h-1.05zM387.42 68.65h1.05v0.86h-1.05zM387.42 69.47h1.05v0.86h-1.05zM471.34 71.09h1.05v0.86h-1.05zM471.34 71.91h2.05v0.86h-2.05zM392.42 72.72h1.05v0.86h-1.05zM471.34 72.72h2.05v0.86h-2.05zM393.42 73.53h1.05v0.86h-1.05zM473.34 73.53h1.05v0.86h-1.05zM472.34 74.34h1.05v0.86h-1.05zM474.34 74.34h1.05v0.86h-1.05zM397.41 75.16h1.05v0.86h-1.05zM471.34 75.16h1.05v0.86h-1.05zM476.33 75.16h1.05v0.86h-1.05zM475.33 75.97h1.05v0.86h-1.05zM474.34 76.78h1.05v0.86h-1.05zM477.33 76.78h2.05v0.86h-2.05zM480.33 77.60h1.05v0.86h-1.05zM481.33 79.22h1.05v0.86h-1.05zM482.33 80.03h2.05v0.86h-2.05zM481.33 80.85h2.05v0.86h-2.05zM480.33 81.66h1.05v0.86h-1.05zM483.33 81.66h1.05v0.86h-1.05zM485.32 83.29h1.05v0.86h-1.05zM409.40 84.10h1.05v0.86h-1.05zM411.40 84.91h1.05v0.86h-1.05zM483.33 84.91h1.05v0.86h-1.05zM488.32 84.91h1.05v0.86h-1.05zM490.32 86.54h1.05v0.86h-1.05zM490.32 87.35h1.05v0.86h-1.05zM488.32 88.98h1.05v0.86h-1.05zM492.32 89.79h1.05v0.86h-1.05zM418.39 90.60h1.05v0.86h-1.05zM490.32 90.60h1.05v0.86h-1.05zM492.32 90.60h2.05v0.86h-2.05zM417.39 91.41h1.05v0.86h-1.05zM419.39 91.41h1.05v0.86h-1.05zM494.31 91.41h1.05v0.86h-1.05zM494.31 92.23h1.05v0.86h-1.05zM497.31 92.23h1.05v0.86h-1.05zM415.40 93.04h1.05v0.86h-1.05zM421.39 93.04h1.05v0.86h-1.05zM497.31 93.04h2.05v0.86h-2.05zM416.39 93.85h1.05v0.86h-1.05zM422.39 93.85h1.05v0.86h-1.05zM498.31 93.85h2.05v0.86h-2.05zM342.47 94.67h2.05v0.86h-2.05zM422.39 94.67h1.05v0.86h-1.05zM497.31 94.67h1.05v0.86h-1.05zM499.31 94.67h2.05v0.86h-2.05zM419.39 95.48h1.05v0.86h-1.05zM424.39 96.29h1.05v0.86h-1.05zM502.31 96.29h2.05v0.86h-2.05zM344.47 97.10h1.05v0.86h-1.05zM346.47 97.10h1.05v0.86h-1.05zM503.31 97.10h1.05v0.86h-1.05zM423.39 97.92h1.05v0.86h-1.05zM499.31 97.92h1.05v0.86h-1.05zM346.47 98.73h1.05v0.86h-1.05zM500.31 98.73h2.05v0.86h-2.05zM505.30 98.73h1.05v0.86h-1.05zM350.46 100.36h1.05v0.86h-1.05zM504.30 100.36h1.05v0.86h-1.05zM349.46 101.17h2.05v0.86h-2.05zM430.38 101.17h1.05v0.86h-1.05zM503.31 101.17h1.05v0.86h-1.05zM506.30 101.17h2.05v0.86h-2.05zM350.46 101.98h2.05v0.86h-2.05zM353.46 101.98h1.05v0.86h-1.05zM426.38 101.98h1.05v0.86h-1.05zM507.30 101.98h1.05v0.86h-1.05zM355.46 102.79h1.05v0.86h-1.05zM506.30 102.79h1.05v0.86h-1.05zM356.46 103.61h1.05v0.86h-1.05zM428.38 103.61h1.05v0.86h-1.05zM433.38 103.61h1.05v0.86h-1.05zM352.46 104.42h1.05v0.86h-1.05zM356.46 104.42h1.05v0.86h-1.05zM353.46 105.23h1.05v0.86h-1.05zM357.46 105.23h1.05v0.86h-1.05zM436.37 105.23h1.05v0.86h-1.05zM431.38 106.05h1.05v0.86h-1.05zM355.46 106.86h1.05v0.86h-1.05zM439.37 106.86h1.05v0.86h-1.05zM356.46 107.67h1.05v0.86h-1.05zM433.38 107.67h3.05v0.86h-3.05zM439.37 107.67h1.05v0.86h-1.05zM439.37 109.30h1.05v0.86h-1.05zM359.45 110.92h1.05v0.86h-1.05zM365.45 110.92h1.05v0.86h-1.05zM365.45 111.74h1.05v0.86h-1.05zM367.45 112.55h1.05v0.86h-1.05zM439.37 112.55h1.05v0.86h-1.05zM441.37 114.18h2.05v0.86h-2.05zM447.36 114.18h1.05v0.86h-1.05zM368.44 114.99h1.05v0.86h-1.05zM447.36 114.99h1.05v0.86h-1.05zM369.44 115.80h1.05v0.86h-1.05zM448.36 115.80h1.05v0.86h-1.05zM373.44 117.43h1.05v0.86h-1.05zM368.44 118.24h1.05v0.86h-1.05zM373.44 118.24h2.05v0.86h-2.05zM446.36 118.24h1.05v0.86h-1.05zM452.36 118.24h1.05v0.86h-1.05zM375.44 119.05h1.05v0.86h-1.05zM449.36 119.05h1.05v0.86h-1.05zM453.36 119.05h1.05v0.86h-1.05zM453.36 119.87h1.05v0.86h-1.05zM453.36 120.68h1.05v0.86h-1.05zM374.44 121.49h1.05v0.86h-1.05zM455.35 121.49h1.05v0.86h-1.05zM378.43 123.12h1.05v0.86h-1.05zM454.36 123.12h1.05v0.86h-1.05zM453.36 123.93h1.05v0.86h-1.05zM461.35 125.56h1.05v0.86h-1.05zM382.43 126.37h1.05v0.86h-1.05zM459.35 127.99h1.05v0.86h-1.05zM464.35 127.99h1.05v0.86h-1.05zM460.35 128.81h2.05v0.86h-2.05zM463.35 128.81h1.05v0.86h-1.05zM462.35 131.25h1.05v0.86h-1.05zM464.35 132.06h1.05v0.86h-1.05zM473.34 135.31h1.05v0.86h-1.05zM394.42 136.12h1.05v0.86h-1.05zM396.42 136.12h1.05v0.86h-1.05zM472.34 136.12h1.05v0.86h-1.05zM395.42 137.75h1.05v0.86h-1.05zM476.33 137.75h1.05v0.86h-1.05zM395.42 140.19h1.05v0.86h-1.05zM400.41 140.19h1.05v0.86h-1.05zM473.34 140.19h1.05v0.86h-1.05zM477.33 140.19h1.05v0.86h-1.05zM396.42 141.00h2.05v0.86h-2.05zM401.41 141.81h1.05v0.86h-1.05zM476.33 141.81h1.05v0.86h-1.05zM401.41 142.63h1.05v0.86h-1.05zM400.41 143.44h1.05v0.86h-1.05zM402.41 143.44h1.05v0.86h-1.05zM404.41 144.25h1.05v0.86h-1.05zM406.41 144.25h1.05v0.86h-1.05zM404.41 145.06h1.05v0.86h-1.05zM479.33 145.06h1.05v0.86h-1.05zM482.33 145.88h1.05v0.86h-1.05zM486.32 145.88h1.05v0.86h-1.05zM407.40 146.69h1.05v0.86h-1.05zM486.32 146.69h1.05v0.86h-1.05zM405.41 148.32h1.05v0.86h-1.05zM410.40 148.32h2.05v0.86h-2.05zM406.41 149.13h1.05v0.86h-1.05zM409.40 149.13h1.05v0.86h-1.05zM490.32 149.13h1.05v0.86h-1.05zM485.32 149.94h1.05v0.86h-1.05zM490.32 149.94h2.05v0.86h-2.05zM486.32 150.76h1.05v0.86h-1.05zM410.40 151.57h1.05v0.86h-1.05zM488.32 151.57h1.05v0.86h-1.05zM493.32 151.57h1.05v0.86h-1.05zM489.32 152.38h1.05v0.86h-1.05zM411.40 153.19h1.05v0.86h-1.05zM489.32 153.19h1.05v0.86h-1.05zM413.40 154.01h1.05v0.86h-1.05zM491.32 154.01h1.05v0.86h-1.05zM497.31 154.82h1.05v0.86h-1.05zM414.40 155.63h1.05v0.86h-1.05zM420.39 155.63h1.05v0.86h-1.05zM493.32 155.63h2.05v0.86h-2.05zM415.40 156.45h2.05v0.86h-2.05zM416.39 157.26h1.05v0.86h-1.05zM501.31 158.07h1.05v0.86h-1.05zM421.39 158.88h1.05v0.86h-1.05zM496.31 158.88h2.05v0.86h-2.05zM423.39 159.70h1.05v0.86h-1.05zM498.31 159.70h1.05v0.86h-1.05zM503.31 159.70h1.05v0.86h-1.05zM421.39 160.51h1.05v0.86h-1.05zM425.39 160.51h1.05v0.86h-1.05zM498.31 160.51h1.05v0.86h-1.05zM504.30 160.51h1.05v0.86h-1.05zM422.39 161.32h1.05v0.86h-1.05zM426.38 161.32h1.05v0.86h-1.05zM498.31 161.32h1.05v0.86h-1.05zM504.30 161.32h1.05v0.86h-1.05zM425.39 162.14h1.05v0.86h-1.05zM500.31 162.14h1.05v0.86h-1.05zM351.46 162.95h1.05v0.86h-1.05zM427.38 162.95h1.05v0.86h-1.05zM502.31 162.95h1.05v0.86h-1.05zM426.38 163.76h1.05v0.86h-1.05zM353.46 164.57h1.05v0.86h-1.05zM427.38 164.57h1.05v0.86h-1.05zM427.38 165.39h1.05v0.86h-1.05zM431.38 165.39h1.05v0.86h-1.05z"/>
<path fill="#701f57" d="M327.49 17.44h1.05v0.86h-1.05zM331.48 18.25h1.05v0.86h-1.05zM333.48 18.25h1.05v0.86h-1.05zM335.48 18.25h2.05v0.86h-2.05zM333.48 19.07h2.05v0.86h-2.05zM333.48 19.88h1.05v0.86h-1.05zM335.48 19.88h1.05v0.86h-1.05zM326.49 20.69h1.05v0.86h-1.05zM330.48 20.69h2.05v0.86h-2.05zM333.48 20.69h1.05v0.86h-1.05zM337.48 20.69h1.05v0.86h-1.05zM339.47 20.69h1.05v0.86h-1.05zM341.47 20.69h1.05v0.86h-1.05zM335.48 21.51h1.05v0.86h-1.05zM338.48 21.51h2.05v0.86h-2.05zM342.47 21.51h1.05v0.86h-1.05zM335.48 22.32h1.05v0.86h-1.05zM337.48 22.32h2.05v0.86h-2.05zM336.48 23.13h1.05v0.86h-1.05zM330.48 23.94h1.05v0.86h-1.05zM331.48 24.76h1.05v0.86h-1.05zM339.47 25.57h1.05v0.86h-1.05zM341.47 25.57h1.05v0.86h-1.05zM345.47 25.57h1.05v0.86h-1.05zM341.47 26.38h1.05v0.86h-1.05zM342.47 28.01h1.05v0.86h-1.05zM344.47 28.82h1.05v0.86h-1.05zM337.48 29.64h1.05v0.86h-1.05zM339.47 29.64h1.05v0.86h-1.05zM346.47 29.64h1.05v0.86h-1.05zM344.47 30.45h1.05v0.86h-1.05zM348.46 30.45h2.05v0.86h-2.05zM340.47 31.26h1.05v0.86h-1.05zM344.47 31.26h1.05v0.86h-1.05zM347.47 32.07h1.05v0.86h-1.05zM349.46 32.07h1.05v0.86h-1.05zM342.47 32.89h1.05v0.86h-1.05zM349.46 32.89h2.05v0.86h-2.05zM347.47 33.70h1.05v0.86h-1.05zM353.46 34.51h1.05v0.86h-1.05zM353.46 35.33h1.05v0.86h-1.05zM425.39 35.33h1.05v0.86h-1.05zM503.31 35.33h1.05v0.86h-1.05zM351.46 36.14h1.05v0.86h-1.05zM353.46 36.14h1.05v0.86h-1.05zM352.46 36.95h1.05v0.86h-1.05zM354.46 36.95h1.05v0.86h-1.05zM427.38 36.95h2.05v0.86h-2.05zM347.47 37.76h1.05v0.86h-1.05zM354.46 37.76h1.05v0.86h-1.05zM350.46 38.58h1.05v0.86h-1.05zM356.46 39.39h1.05v0.86h-1.05zM428.38 39.39h1.05v0.86h-1.05zM432.38 39.39h1.05v0.86h-1.05zM354.46 40.20h1.05v0.86h-1.05zM351.46 41.02h1.05v0.86h-1.05zM357.46 41.02h1.05v0.86h-1.05zM357.46 42.64h1.05v0.86h-1.05zM434.38 42.64h1.05v0.86h-1.05zM360.45 44.27h3.05v0.86h-3.05zM362.45 45.89h1.05v0.86h-1.05zM436.37 45.89h1.05v0.86h-1.05zM439.37 45.89h1.05v0.86h-1.05zM364.45 46.71h1.05v0.86h-1.05zM362.45 48.33h1.05v0.86h-1.05zM442.37 48.33h1.05v0.86h-1.05zM368.44 49.96h1.05v0.86h-1.05zM443.37 52.40h1.05v0.86h-1.05zM445.36 53.21h1.05v0.86h-1.05zM450.36 53.21h1.05v0.86h-1.05zM450.36 54.02h1.05v0.86h-1.05zM369.44 54.83h1.05v0.86h-1.05zM374.44 54.83h1.05v0.86h-1.05zM370.44 55.65h1.05v0.86h-1.05zM447.36 55.65h1.05v0.86h-1.05zM375.44 56.46h1.05v0.86h-1.05zM449.36 56.46h2.05v0.86h-2.05zM375.44 57.27h1.05v0.86h-1.05zM452.36 57.27h1.05v0.86h-1.05zM372.44 58.09h1.05v0.86h-1.05zM377.44 58.09h1.05v0.86h-1.05zM454.36 58.09h1.05v0.86h-1.05zM373.44 58.90h1.05v0.86h-1.05zM376.44 60.52h1.05v0.86h-1.05zM457.35 61.34h1.05v0.86h-1.05zM459.35 62.15h1.05v0.86h-1.05zM380.43 62.96h1.05v0.86h-1.05zM381.43 63.78h1.05v0.86h-1.05zM383.43 65.40h1.05v0.86h-1.05zM384.43 66.21h1.05v0.86h-1.05zM385.43 67.03h1.05v0.86h-1.05zM389.42 67.84h1.05v0.86h-1.05zM392.42 71.09h1.05v0.86h-1.05zM470.34 72.72h1.05v0.86h-1.05zM474.34 73.53h1.05v0.86h-1.05zM471.34 74.34h1.05v0.86h-1.05zM474.34 75.16h1.05v0.86h-1.05zM396.42 75.97h1.05v0.86h-1.05zM475.33 76.78h1.05v0.86h-1.05zM476.33 77.60h1.05v0.86h-1.05zM479.33 77.60h1.05v0.86h-1.05zM479.33 78.41h1.05v0.86h-1.05zM477.33 79.22h1.05v0.86h-1.05zM483.33 80.85h1.05v0.86h-1.05zM484.32 81.66h2.05v0.86h-2.05zM482.33 83.29h1.05v0.86h-1.05zM483.33 84.10h1.05v0.86h-1.05zM487.32 84.10h1.05v0.86h-1.05zM410.40 84.91h1.05v0.86h-1.05zM411.40 85.72h1.05v0.86h-1.05zM407.40 86.54h3.05v0.86h-3.05zM411.40 86.54h2.05v0.86h-2.05zM487.32 86.54h3.05v0.86h-3.05zM410.40 88.16h1.05v0.86h-1.05zM492.32 88.16h1.05v0.86h-1.05zM411.40 88.98h1.05v0.86h-1.05zM489.32 88.98h1.05v0.86h-1.05zM493.32 88.98h1.05v0.86h-1.05zM416.39 89.79h2.05v0.86h-2.05zM490.32 89.79h1.05v0.86h-1.05zM493.32 89.79h1.05v0.86h-1.05zM413.40 90.60h1.05v0.86h-1.05zM414.40 91.41h1.05v0.86h-1.05zM414.40 92.23h1.05v0.86h-1.05zM494.31 93.85h1.05v0.86h-1.05zM421.39 94.67h1.05v0.86h-1.05zM498.31 94.67h1.05v0.86h-1.05zM497.31 95.48h1.05v0.86h-1.05zM419.39 96.29h1.05v0.86h-1.05zM498.31 96.29h2.05v0.86h-2.05zM425.39 97.10h2.05v0.86h-2.05zM503.31 97.92h1.05v0.86h-1.05zM347.47 98.73h2.05v0.86h-2.05zM422.39 98.73h2.05v0.86h-2.05zM427.38 98.73h1.05v0.86h-1.05zM349.46 99.54h1.05v0.86h-1.05zM428.38 99.54h1.05v0.86h-1.05zM349.46 100.36h1.05v0.86h-1.05zM506.30 100.36h1.05v0.86h-1.05zM352.46 101.17h1.05v0.86h-1.05zM425.39 101.17h2.05v0.86h-2.05zM505.30 101.98h1.05v0.86h-1.05zM351.46 102.79h3.05v0.86h-3.05zM351.46 103.61h1.05v0.86h-1.05zM433.38 106.86h1.05v0.86h-1.05zM438.37 106.86h1.05v0.86h-1.05zM360.45 108.49h1.05v0.86h-1.05zM444.37 111.74h1.05v0.86h-1.05zM362.45 112.55h2.05v0.86h-2.05zM441.37 112.55h1.05v0.86h-1.05zM444.37 112.55h1.05v0.86h-1.05zM368.44 113.36h1.05v0.86h-1.05zM446.36 113.36h1.05v0.86h-1.05zM369.44 114.18h1.05v0.86h-1.05zM443.37 114.18h1.05v0.86h-1.05zM371.44 115.80h1.05v0.86h-1.05zM444.37 115.80h1.05v0.86h-1.05zM366.45 116.61h1.05v0.86h-1.05zM444.37 116.61h1.05v0.86h-1.05zM448.36 116.61h1.05v0.86h-1.05zM368.44 117.43h2.05v0.86h-2.05zM450.36 117.43h2.05v0.86h-2.05zM448.36 118.24h1.05v0.86h-1.05zM371.44 119.87h1.05v0.86h-1.05zM374.44 119.87h1.05v0.86h-1.05zM372.44 120.68h1.05v0.86h-1.05zM455.35 120.68h1.05v0.86h-1.05zM377.44 121.49h1.05v0.86h-1.05zM375.44 122.30h1.05v0.86h-1.05zM451.36 122.30h1.05v0.86h-1.05zM376.44 123.12h1.05v0.86h-1.05zM458.35 123.12h1.05v0.86h-1.05zM458.35 124.74h2.05v0.86h-2.05zM460.35 125.56h1.05v0.86h-1.05zM457.35 126.37h1.05v0.86h-1.05zM461.35 126.37h1.05v0.86h-1.05zM464.35 129.62h1.05v0.86h-1.05zM461.35 130.43h1.05v0.86h-1.05zM393.42 134.50h1.05v0.86h-1.05zM392.42 135.31h1.05v0.86h-1.05zM391.42 136.12h1.05v0.86h-1.05zM393.42 136.12h1.05v0.86h-1.05zM395.42 136.12h1.05v0.86h-1.05zM396.42 136.94h1.05v0.86h-1.05zM471.34 136.94h1.05v0.86h-1.05zM473.34 136.94h1.05v0.86h-1.05zM397.41 137.75h1.05v0.86h-1.05zM394.42 138.56h1.05v0.86h-1.05zM471.34 138.56h1.05v0.86h-1.05zM473.34 138.56h1.05v0.86h-1.05zM398.41 139.37h1.05v0.86h-1.05zM473.34 139.37h1.05v0.86h-1.05zM399.41 141.81h1.05v0.86h-1.05zM404.41 142.63h1.05v0.86h-1.05zM480.33 142.63h1.05v0.86h-1.05zM483.33 143.44h1.05v0.86h-1.05zM402.41 144.25h1.05v0.86h-1.05zM403.41 145.06h1.05v0.86h-1.05zM480.33 145.88h2.05v0.86h-2.05zM403.41 146.69h1.05v0.86h-1.05zM409.40 146.69h1.05v0.86h-1.05zM487.32 146.69h1.05v0.86h-1.05zM406.41 148.32h1.05v0.86h-1.05zM483.33 148.32h1.05v0.86h-1.05zM412.40 149.13h1.05v0.86h-1.05zM486.32 149.13h1.05v0.86h-1.05zM414.40 150.76h1.05v0.86h-1.05zM489.32 151.57h1.05v0.86h-1.05zM416.39 152.38h1.05v0.86h-1.05zM490.32 152.38h1.05v0.86h-1.05zM494.31 153.19h1.05v0.86h-1.05zM490.32 154.01h1.05v0.86h-1.05zM495.31 154.01h1.05v0.86h-1.05zM413.40 154.82h2.05v0.86h-2.05zM491.32 154.82h1.05v0.86h-1.05zM496.31 154.82h1.05v0.86h-1.05zM415.40 155.63h2.05v0.86h-2.05zM498.31 155.63h1.05v0.86h-1.05zM417.39 156.45h1.05v0.86h-1.05zM420.39 156.45h1.05v0.86h-1.05zM421.39 157.26h1.05v0.86h-1.05zM421.39 158.07h1.05v0.86h-1.05zM495.31 158.07h1.05v0.86h-1.05zM497.31 158.07h1.05v0.86h-1.05zM502.31 158.88h1.05v0.86h-1.05zM424.39 159.70h1.05v0.86h-1.05zM499.31 160.51h1.05v0.86h-1.05zM423.39 161.32h2.05v0.86h-2.05zM426.38 162.14h2.05v0.86h-2.05zM501.31 162.95h1.05v0.86h-1.05zM503.31 162.95h1.05v0.86h-1.05zM505.30 162.95h1.05v0.86h-1.05zM351.46 163.76h1.05v0.86h-1.05zM352.46 164.57h1.05v0.86h-1.05zM428.38 164.57h1.05v0.86h-1.05zM505.30 164.57h1.05v0.86h-1.05zM352.46 165.39h1.05v0.86h-1.05zM428.38 165.39h1.05v0.86h-1.05z"/>
<path fill="#7f1e5a" d="M318.50 10.94h1.05v0.86h-1.05zM325.49 18.25h1.05v0.86h-1.05zM337.48 18.25h1.05v0.86h-1.05zM337.48 19.07h1.05v0.86h-1.05zM332.48 19.88h1.05v0.86h-1.05zM337.48 19.88h1.05v0.86h-1.05zM335.48 20.69h1.05v0.86h-1.05zM337.48 21.51h1.05v0.86h-1.05zM329.48 22.32h1.05v0.86h-1.05zM330.48 23.13h1.05v0.86h-1.05zM336.48 23.94h1.05v0.86h-1.05zM340.47 23.94h1.05v0.86h-1.05zM338.48 24.76h1.05v0.86h-1.05zM341.47 24.76h1.05v0.86h-1.05zM338.48 25.57h1.05v0.86h-1.05zM340.47 25.57h1.05v0.86h-1.05zM339.47 26.38h1.05v0.86h-1.05zM335.48 27.20h1.05v0.86h-1.05zM336.48 28.01h1.05v0.86h-1.05zM344.47 28.01h1.05v0.86h-1.05zM342.47 28.82h1.05v0.86h-1.05zM345.47 28.82h1.05v0.86h-1.05zM347.47 28.82h1.05v0.86h-1.05zM340.47 30.45h1.05v0.86h-1.05zM345.47 31.26h1.05v0.86h-1.05zM346.47 32.07h1.05v0.86h-1.05zM348.46 33.70h1.05v0.86h-1.05zM350.46 33.70h1.05v0.86h-1.05zM342.47 34.51h1.05v0.86h-1.05zM347.47 36.14h1.05v0.86h-1.05zM352.46 36.14h1.05v0.86h-1.05zM426.38 36.95h1.05v0.86h-1.05zM429.38 37.76h1.05v0.86h-1.05zM348.46 38.58h1.05v0.86h-1.05zM353.46 38.58h1.05v0.86h-1.05zM430.38 38.58h1.05v0.86h-1.05zM432.38 38.58h1.05v0.86h-1.05zM349.46 39.39h1.05v0.86h-1.05zM429.38 39.39h1.05v0.86h-1.05zM350.46 40.20h1.05v0.86h-1.05zM430.38 40.20h1.05v0.86h-1.05zM358.45 41.02h1.05v0.86h-1.05zM430.38 41.83h1.05v0.86h-1.05zM436.37 41.83h1.05v0.86h-1.05zM433.38 42.64h1.05v0.86h-1.05zM359.45 43.45h2.05v0.86h-2.05zM437.37 43.45h1.05v0.86h-1.05zM433.38 44.27h1.05v0.86h-1.05zM358.45 45.08h1.05v0.86h-1.05zM362.45 45.08h1.05v0.86h-1.05zM435.38 45.08h1.05v0.86h-1.05zM438.37 45.08h1.05v0.86h-1.05zM362.45 46.71h1.05v0.86h-1.05zM441.37 46.71h1.05v0.86h-1.05zM442.37 47.52h1.05v0.86h-1.05zM366.45 48.33h1.05v0.86h-1.05zM365.45 49.14h1.05v0.86h-1.05zM441.37 50.77h2.05v0.86h-2.05zM447.36 53.21h1.05v0.86h-1.05zM449.36 53.21h1.05v0.86h-1.05zM449.36 54.02h1.05v0.86h-1.05zM368.44 54.83h1.05v0.86h-1.05zM370.44 56.46h2.05v0.86h-2.05zM376.44 56.46h1.05v0.86h-1.05zM452.36 56.46h1.05v0.86h-1.05zM371.44 57.27h2.05v0.86h-2.05zM377.44 57.27h1.05v0.86h-1.05zM373.44 58.09h1.05v0.86h-1.05zM450.36 58.09h1.05v0.86h-1.05zM452.36 58.09h1.05v0.86h-1.05zM379.43 58.90h1.05v0.86h-1.05zM376.44 59.71h1.05v0.86h-1.05zM379.43 59.71h1.05v0.86h-1.05zM454.36 59.71h1.05v0.86h-1.05zM375.44 60.52h1.05v0.86h-1.05zM379.43 60.52h1.05v0.86h-1.05zM456.35 60.52h1.05v0.86h-1.05zM376.44 61.34h1.05v0.86h-1.05zM382.43 64.59h1.05v0.86h-1.05zM470.34 71.91h1.05v0.86h-1.05zM394.42 74.34h1.05v0.86h-1.05zM473.34 75.16h1.05v0.86h-1.05zM399.41 76.78h1.05v0.86h-1.05zM400.41 77.60h1.05v0.86h-1.05zM478.33 78.41h1.05v0.86h-1.05zM400.41 79.22h1.05v0.86h-1.05zM480.33 80.03h1.05v0.86h-1.05zM478.33 80.85h1.05v0.86h-1.05zM405.41 81.66h1.05v0.86h-1.05zM482.33 81.66h1.05v0.86h-1.05zM480.33 82.47h1.05v0.86h-1.05zM483.33 82.47h1.05v0.86h-1.05zM485.32 82.47h1.05v0.86h-1.05zM406.41 84.10h1.05v0.86h-1.05zM408.40 84.10h1.05v0.86h-1.05zM482.33 84.10h1.05v0.86h-1.05zM487.32 84.91h1.05v0.86h-1.05zM408.40 85.72h1.05v0.86h-1.05zM485.32 86.54h2.05v0.86h-2.05zM413.40 87.35h1.05v0.86h-1.05zM413.40 88.16h1.05v0.86h-1.05zM412.40 89.79h1.05v0.86h-1.05zM415.40 92.23h1.05v0.86h-1.05zM419.39 92.23h1.05v0.86h-1.05zM420.39 93.04h1.05v0.86h-1.05zM495.31 93.85h1.05v0.86h-1.05zM423.39 95.48h1.05v0.86h-1.05zM499.31 97.10h1.05v0.86h-1.05zM502.31 97.10h1.05v0.86h-1.05zM422.39 97.92h1.05v0.86h-1.05zM500.31 97.92h1.05v0.86h-1.05zM428.38 98.73h1.05v0.86h-1.05zM502.31 98.73h2.05v0.86h-2.05zM506.30 99.54h1.05v0.86h-1.05zM424.39 100.36h1.05v0.86h-1.05zM503.31 100.36h1.05v0.86h-1.05zM429.38 101.17h1.05v0.86h-1.05zM352.46 101.98h1.05v0.86h-1.05zM427.38 101.98h1.05v0.86h-1.05zM431.38 101.98h1.05v0.86h-1.05zM352.46 103.61h1.05v0.86h-1.05zM429.38 103.61h2.05v0.86h-2.05zM507.30 103.61h1.05v0.86h-1.05zM431.38 104.42h1.05v0.86h-1.05zM354.46 105.23h2.05v0.86h-2.05zM358.45 105.23h1.05v0.86h-1.05zM354.46 106.05h1.05v0.86h-1.05zM356.46 106.05h1.05v0.86h-1.05zM358.45 106.05h1.05v0.86h-1.05zM435.38 106.05h2.05v0.86h-2.05zM357.46 106.86h1.05v0.86h-1.05zM438.37 107.67h1.05v0.86h-1.05zM435.38 108.49h1.05v0.86h-1.05zM439.37 108.49h1.05v0.86h-1.05zM435.38 109.30h2.05v0.86h-2.05zM359.45 110.11h1.05v0.86h-1.05zM440.37 110.11h1.05v0.86h-1.05zM442.37 110.92h1.05v0.86h-1.05zM364.45 111.74h1.05v0.86h-1.05zM439.37 111.74h1.05v0.86h-1.05zM443.37 111.74h1.05v0.86h-1.05zM445.36 112.55h1.05v0.86h-1.05zM365.45 114.18h1.05v0.86h-1.05zM369.44 114.99h1.05v0.86h-1.05zM448.36 114.99h1.05v0.86h-1.05zM371.44 116.61h2.05v0.86h-2.05zM371.44 117.43h1.05v0.86h-1.05zM447.36 117.43h1.05v0.86h-1.05zM449.36 117.43h1.05v0.86h-1.05zM452.36 119.05h1.05v0.86h-1.05zM374.44 120.68h1.05v0.86h-1.05zM452.36 121.49h1.05v0.86h-1.05zM455.35 122.30h1.05v0.86h-1.05zM452.36 123.12h1.05v0.86h-1.05zM455.35 125.56h1.05v0.86h-1.05zM458.35 127.18h1.05v0.86h-1.05zM462.35 127.99h1.05v0.86h-1.05zM463.35 130.43h1.05v0.86h-1.05zM391.42 135.31h1.05v0.86h-1.05zM471.34 135.31h1.05v0.86h-1.05zM470.34 136.12h1.05v0.86h-1.05zM473.34 136.12h1.05v0.86h-1.05zM394.42 136.94h1.05v0.86h-1.05zM474.34 136.94h1.05v0.86h-1.05zM398.41 137.75h1.05v0.86h-1.05zM398.41 138.56h1.05v0.86h-1.05zM475.33 138.56h1.05v0.86h-1.05zM476.33 139.37h2.05v0.86h-2.05zM474.34 140.19h1.05v0.86h-1.05zM475.33 141.00h1.05v0.86h-1.05zM479.33 141.00h1.05v0.86h-1.05zM480.33 141.81h1.05v0.86h-1.05zM402.41 142.63h2.05v0.86h-2.05zM404.41 143.44h2.05v0.86h-2.05zM478.33 144.25h1.05v0.86h-1.05zM403.41 145.88h1.05v0.86h-1.05zM407.40 145.88h1.05v0.86h-1.05zM404.41 147.50h1.05v0.86h-1.05zM483.33 147.50h1.05v0.86h-1.05zM409.40 148.32h1.05v0.86h-1.05zM409.40 149.94h1.05v0.86h-1.05zM412.40 149.94h1.05v0.86h-1.05zM487.32 150.76h2.05v0.86h-2.05zM491.32 150.76h1.05v0.86h-1.05zM413.40 152.38h1.05v0.86h-1.05zM490.32 153.19h1.05v0.86h-1.05zM416.39 154.82h1.05v0.86h-1.05zM493.32 154.82h1.05v0.86h-1.05zM419.39 155.63h1.05v0.86h-1.05zM497.31 155.63h1.05v0.86h-1.05zM418.39 156.45h1.05v0.86h-1.05zM497.31 156.45h1.05v0.86h-1.05zM499.31 156.45h1.05v0.86h-1.05zM417.39 157.26h1.05v0.86h-1.05zM419.39 158.88h1.05v0.86h-1.05zM499.31 159.70h1.05v0.86h-1.05zM423.39 160.51h1.05v0.86h-1.05zM500.31 161.32h1.05v0.86h-1.05zM504.30 162.14h1.05v0.86h-1.05zM506.30 163.76h1.05v0.86h-1.05zM429.38 164.57h1.05v0.86h-1.05zM430.38 165.39h1.05v0.86h-1.05z"/>
<path fill="#8e1d5b" d="M317.50 10.13h1.05v0.86h-1.05zM316.50 10.94h1.05v0.86h-1.05zM330.48 18.25h1.05v0.86h-1.05zM332.48 18.25h1.05v0.86h-1.05zM325.49 19.07h1.05v0.86h-1.05zM334.48 19.88h1.05v0.86h-1.05zM334.48 21.51h1.05v0.86h-1.05zM332.48 22.32h1.05v0.86h-1.05zM335.48 23.13h1.05v0.86h-1.05zM334.48 23.94h1.05v0.86h-1.05zM337.48 23.94h2.05v0.86h-2.05zM340.47 24.76h1.05v0.86h-1.05zM334.48 26.38h1.05v0.86h-1.05zM338.48 26.38h1.05v0.86h-1.05zM343.47 26.38h1.05v0.86h-1.05zM339.47 28.01h2.05v0.86h-2.05zM338.48 30.45h2.05v0.86h-2.05zM345.47 30.45h1.05v0.86h-1.05zM341.47 31.26h1.05v0.86h-1.05zM348.46 31.26h1.05v0.86h-1.05zM342.47 33.70h1.05v0.86h-1.05zM344.47 34.51h1.05v0.86h-1.05zM344.47 35.33h2.05v0.86h-2.05zM349.46 35.33h1.05v0.86h-1.05zM351.46 37.76h1.05v0.86h-1.05zM354.46 38.58h1.05v0.86h-1.05zM429.38 38.58h1.05v0.86h-1.05zM432.38 40.20h1.05v0.86h-1.05zM352.46 41.02h1.05v0.86h-1.05zM434.38 41.83h1.05v0.86h-1.05zM353.46 42.64h3.05v0.86h-3.05zM432.38 42.64h1.05v0.86h-1.05zM432.38 43.45h1.05v0.86h-1.05zM355.46 44.27h1.05v0.86h-1.05zM359.45 44.27h1.05v0.86h-1.05zM357.46 45.08h1.05v0.86h-1.05zM361.45 45.08h1.05v0.86h-1.05zM357.46 45.89h1.05v0.86h-1.05zM435.38 45.89h1.05v0.86h-1.05zM358.45 46.71h1.05v0.86h-1.05zM361.45 48.33h1.05v0.86h-1.05zM443.37 48.33h1.05v0.86h-1.05zM363.45 50.77h1.05v0.86h-1.05zM446.36 50.77h1.05v0.86h-1.05zM364.45 51.58h1.05v0.86h-1.05zM445.36 51.58h1.05v0.86h-1.05zM365.45 52.40h1.05v0.86h-1.05zM369.44 52.40h1.05v0.86h-1.05zM367.45 53.21h1.05v0.86h-1.05zM371.44 53.21h1.05v0.86h-1.05zM446.36 54.02h1.05v0.86h-1.05zM370.44 54.83h1.05v0.86h-1.05zM447.36 54.83h1.05v0.86h-1.05zM450.36 54.83h1.05v0.86h-1.05zM374.44 55.65h2.05v0.86h-2.05zM448.36 55.65h1.05v0.86h-1.05zM452.36 55.65h1.05v0.86h-1.05zM372.44 56.46h1.05v0.86h-1.05zM374.44 56.46h1.05v0.86h-1.05zM373.44 57.27h1.05v0.86h-1.05zM374.44 58.90h1.05v0.86h-1.05zM454.36 58.90h1.05v0.86h-1.05zM385.43 65.40h1.05v0.86h-1.05zM471.34 73.53h1.05v0.86h-1.05zM396.42 74.34h1.05v0.86h-1.05zM477.33 77.60h1.05v0.86h-1.05zM480.33 78.41h1.05v0.86h-1.05zM479.33 79.22h1.05v0.86h-1.05zM403.41 80.03h1.05v0.86h-1.05zM479.33 80.03h1.05v0.86h-1.05zM404.41 80.85h1.05v0.86h-1.05zM481.33 82.47h1.05v0.86h-1.05zM405.41 83.29h1.05v0.86h-1.05zM486.32 83.29h1.05v0.86h-1.05zM484.32 84.10h1.05v0.86h-1.05zM407.40 84.91h1.05v0.86h-1.05zM484.32 84.91h1.05v0.86h-1.05zM410.40 85.72h1.05v0.86h-1.05zM486.32 85.72h1.05v0.86h-1.05zM488.32 85.72h1.05v0.86h-1.05zM409.40 87.35h2.05v0.86h-2.05zM412.40 87.35h1.05v0.86h-1.05zM487.32 87.35h1.05v0.86h-1.05zM489.32 87.35h1.05v0.86h-1.05zM411.40 88.16h1.05v0.86h-1.05zM416.39 93.04h1.05v0.86h-1.05zM494.31 93.04h1.05v0.86h-1.05zM417.39 93.85h2.05v0.86h-2.05zM496.31 93.85h1.05v0.86h-1.05zM418.39 94.67h1.05v0.86h-1.05zM496.31 94.67h1.05v0.86h-1.05zM422.39 95.48h1.05v0.86h-1.05zM423.39 96.29h1.05v0.86h-1.05zM421.39 97.10h1.05v0.86h-1.05zM347.47 97.92h1.05v0.86h-1.05zM502.31 97.92h1.05v0.86h-1.05zM501.31 99.54h1.05v0.86h-1.05zM505.30 99.54h1.05v0.86h-1.05zM429.38 100.36h1.05v0.86h-1.05zM351.46 101.17h1.05v0.86h-1.05zM505.30 101.17h1.05v0.86h-1.05zM428.38 101.98h1.05v0.86h-1.05zM432.38 102.79h1.05v0.86h-1.05zM354.46 103.61h1.05v0.86h-1.05zM354.46 104.42h1.05v0.86h-1.05zM357.46 104.42h1.05v0.86h-1.05zM360.45 107.67h1.05v0.86h-1.05zM359.45 108.49h1.05v0.86h-1.05zM359.45 109.30h1.05v0.86h-1.05zM441.37 110.11h1.05v0.86h-1.05zM361.45 110.92h1.05v0.86h-1.05zM364.45 110.92h1.05v0.86h-1.05zM361.45 111.74h1.05v0.86h-1.05zM440.37 112.55h1.05v0.86h-1.05zM363.45 113.36h2.05v0.86h-2.05zM366.45 113.36h1.05v0.86h-1.05zM442.37 113.36h1.05v0.86h-1.05zM368.44 114.18h1.05v0.86h-1.05zM445.36 114.18h1.05v0.86h-1.05zM366.45 114.99h1.05v0.86h-1.05zM444.37 114.99h1.05v0.86h-1.05zM370.44 115.80h1.05v0.86h-1.05zM367.45 116.61h1.05v0.86h-1.05zM370.44 116.61h1.05v0.86h-1.05zM445.36 116.61h1.05v0.86h-1.05zM372.44 117.43h1.05v0.86h-1.05zM446.36 117.43h1.05v0.86h-1.05zM447.36 118.24h1.05v0.86h-1.05zM374.44 119.05h1.05v0.86h-1.05zM448.36 119.05h1.05v0.86h-1.05zM373.44 119.87h1.05v0.86h-1.05zM375.44 119.87h1.05v0.86h-1.05zM452.36 119.87h1.05v0.86h-1.05zM454.36 120.68h1.05v0.86h-1.05zM452.36 122.30h1.05v0.86h-1.05zM457.35 123.93h1.05v0.86h-1.05zM455.35 124.74h1.05v0.86h-1.05zM456.35 125.56h2.05v0.86h-2.05zM459.35 125.56h1.05v0.86h-1.05zM458.35 126.37h1.05v0.86h-1.05zM459.35 127.18h1.05v0.86h-1.05zM463.35 127.99h1.05v0.86h-1.05zM462.35 129.62h1.05v0.86h-1.05zM465.34 129.62h1.05v0.86h-1.05zM393.42 135.31h1.05v0.86h-1.05zM393.42 137.75h1.05v0.86h-1.05zM396.42 140.19h1.05v0.86h-1.05zM399.41 140.19h1.05v0.86h-1.05zM399.41 141.00h3.05v0.86h-3.05zM400.41 142.63h1.05v0.86h-1.05zM481.33 143.44h1.05v0.86h-1.05zM479.33 144.25h1.05v0.86h-1.05zM402.41 145.06h1.05v0.86h-1.05zM406.41 145.06h1.05v0.86h-1.05zM483.33 145.06h1.05v0.86h-1.05zM406.41 145.88h1.05v0.86h-1.05zM404.41 146.69h1.05v0.86h-1.05zM406.41 147.50h1.05v0.86h-1.05zM408.40 148.32h1.05v0.86h-1.05zM488.32 149.13h2.05v0.86h-2.05zM410.40 149.94h1.05v0.86h-1.05zM413.40 149.94h1.05v0.86h-1.05zM487.32 149.94h1.05v0.86h-1.05zM413.40 151.57h1.05v0.86h-1.05zM492.32 151.57h1.05v0.86h-1.05zM414.40 153.19h1.05v0.86h-1.05zM412.40 154.01h1.05v0.86h-1.05zM419.39 154.82h1.05v0.86h-1.05zM495.31 154.82h1.05v0.86h-1.05zM419.39 156.45h1.05v0.86h-1.05zM498.31 156.45h1.05v0.86h-1.05zM420.39 158.88h1.05v0.86h-1.05zM502.31 160.51h1.05v0.86h-1.05zM428.38 163.76h1.05v0.86h-1.05zM504.30 163.76h1.05v0.86h-1.05zM353.46 165.39h1.05v0.86h-1.05zM429.38 165.39h1.05v0.86h-1.05z"/>
<path fill="#9e1a5b" d="M321.49 15.00h1.05v0.86h-1.05zM331.48 19.07h1.05v0.86h-1.05zM331.48 19.88h1.05v0.86h-1.05zM328.49 20.69h1.05v0.86h-1.05zM332.48 20.69h1.05v0.86h-1.05zM329.48 21.51h1.05v0.86h-1.05zM336.48 21.51h1.05v0.86h-1.05zM334.48 22.32h1.05v0.86h-1.05zM331.48 23.13h1.05v0.86h-1.05zM335.48 23.94h1.05v0.86h-1.05zM336.48 24.76h1.05v0.86h-1.05zM339.47 24.76h1.05v0.86h-1.05zM333.48 25.57h2.05v0.86h-2.05zM335.48 26.38h1.05v0.86h-1.05zM337.48 28.82h1.05v0.86h-1.05zM341.47 29.64h1.05v0.86h-1.05zM346.47 31.26h1.05v0.86h-1.05zM341.47 32.07h2.05v0.86h-2.05zM344.47 32.07h1.05v0.86h-1.05zM345.47 32.89h1.05v0.86h-1.05zM350.46 36.14h1.05v0.86h-1.05zM346.47 36.95h1.05v0.86h-1.05zM355.46 39.39h1.05v0.86h-1.05zM430.38 39.39h2.05v0.86h-2.05zM355.46 40.20h1.05v0.86h-1.05zM353.46 41.02h1.05v0.86h-1.05zM356.46 41.02h1.05v0.86h-1.05zM430.38 41.02h1.05v0.86h-1.05zM356.46 41.83h1.05v0.86h-1.05zM432.38 41.83h1.05v0.86h-1.05zM435.38 41.83h1.05v0.86h-1.05zM434.38 45.08h1.05v0.86h-1.05zM439.37 45.08h1.05v0.86h-1.05zM358.45 45.89h2.05v0.86h-2.05zM363.45 47.52h1.05v0.86h-1.05zM365.45 47.52h1.05v0.86h-1.05zM439.37 47.52h1.05v0.86h-1.05zM363.45 49.14h1.05v0.86h-1.05zM440.37 49.14h1.05v0.86h-1.05zM442.37 49.14h1.05v0.86h-1.05zM363.45 49.96h1.05v0.86h-1.05zM367.45 49.96h1.05v0.86h-1.05zM441.37 49.96h1.05v0.86h-1.05zM444.37 49.96h1.05v0.86h-1.05zM365.45 50.77h1.05v0.86h-1.05zM444.37 50.77h1.05v0.86h-1.05zM365.45 51.58h2.05v0.86h-2.05zM368.44 51.58h2.05v0.86h-2.05zM367.45 52.40h1.05v0.86h-1.05zM368.44 53.21h1.05v0.86h-1.05zM446.36 53.21h1.05v0.86h-1.05zM371.44 54.02h1.05v0.86h-1.05zM451.36 56.46h1.05v0.86h-1.05zM376.44 57.27h1.05v0.86h-1.05zM450.36 57.27h1.05v0.86h-1.05zM376.44 58.09h1.05v0.86h-1.05zM453.36 58.09h1.05v0.86h-1.05zM374.44 59.71h1.05v0.86h-1.05zM453.36 59.71h1.05v0.86h-1.05zM379.43 62.15h1.05v0.86h-1.05zM382.43 62.96h1.05v0.86h-1.05zM393.42 71.91h1.05v0.86h-1.05zM398.41 75.97h1.05v0.86h-1.05zM476.33 76.78h1.05v0.86h-1.05zM402.41 79.22h1.05v0.86h-1.05zM401.41 80.03h1.05v0.86h-1.05zM478.33 80.03h1.05v0.86h-1.05zM480.33 80.85h1.05v0.86h-1.05zM406.41 82.47h1.05v0.86h-1.05zM484.32 82.47h1.05v0.86h-1.05zM488.32 87.35h1.05v0.86h-1.05zM489.32 88.16h1.05v0.86h-1.05zM412.40 88.98h1.05v0.86h-1.05zM491.32 88.98h1.05v0.86h-1.05zM491.32 89.79h1.05v0.86h-1.05zM414.40 90.60h1.05v0.86h-1.05zM417.39 90.60h1.05v0.86h-1.05zM493.32 91.41h1.05v0.86h-1.05zM416.39 92.23h1.05v0.86h-1.05zM420.39 95.48h1.05v0.86h-1.05zM498.31 95.48h3.05v0.86h-3.05zM420.39 96.29h1.05v0.86h-1.05zM500.31 96.29h1.05v0.86h-1.05zM425.39 97.92h2.05v0.86h-2.05zM501.31 97.92h1.05v0.86h-1.05zM426.38 98.73h1.05v0.86h-1.05zM425.39 99.54h1.05v0.86h-1.05zM427.38 99.54h1.05v0.86h-1.05zM503.31 99.54h1.05v0.86h-1.05zM425.39 100.36h1.05v0.86h-1.05zM428.38 100.36h1.05v0.86h-1.05zM431.38 102.79h1.05v0.86h-1.05zM432.38 103.61h1.05v0.86h-1.05zM433.38 104.42h1.05v0.86h-1.05zM431.38 105.23h1.05v0.86h-1.05zM359.45 106.05h1.05v0.86h-1.05zM437.37 106.86h1.05v0.86h-1.05zM357.46 108.49h1.05v0.86h-1.05zM360.45 109.30h1.05v0.86h-1.05zM440.37 109.30h1.05v0.86h-1.05zM361.45 110.11h1.05v0.86h-1.05zM439.37 110.92h1.05v0.86h-1.05zM440.37 111.74h1.05v0.86h-1.05zM365.45 112.55h2.05v0.86h-2.05zM365.45 113.36h1.05v0.86h-1.05zM367.45 113.36h1.05v0.86h-1.05zM366.45 114.18h1.05v0.86h-1.05zM446.36 114.18h1.05v0.86h-1.05zM367.45 115.80h1.05v0.86h-1.05zM447.36 115.80h1.05v0.86h-1.05zM369.44 116.61h1.05v0.86h-1.05zM370.44 118.24h2.05v0.86h-2.05zM372.44 119.05h1.05v0.86h-1.05zM372.44 119.87h1.05v0.86h-1.05zM449.36 120.68h2.05v0.86h-2.05zM376.44 121.49h1.05v0.86h-1.05zM458.35 123.93h1.05v0.86h-1.05zM465.34 130.43h1.05v0.86h-1.05zM393.42 136.94h1.05v0.86h-1.05zM395.42 136.94h1.05v0.86h-1.05zM394.42 137.75h1.05v0.86h-1.05zM396.42 137.75h1.05v0.86h-1.05zM474.34 137.75h1.05v0.86h-1.05zM395.42 138.56h1.05v0.86h-1.05zM397.41 138.56h1.05v0.86h-1.05zM472.34 138.56h1.05v0.86h-1.05zM399.41 139.37h1.05v0.86h-1.05zM398.41 140.19h1.05v0.86h-1.05zM476.33 141.00h1.05v0.86h-1.05zM400.41 141.81h1.05v0.86h-1.05zM402.41 141.81h1.05v0.86h-1.05zM478.33 142.63h1.05v0.86h-1.05zM403.41 144.25h1.05v0.86h-1.05zM405.41 144.25h1.05v0.86h-1.05zM480.33 144.25h1.05v0.86h-1.05zM483.33 144.25h1.05v0.86h-1.05zM481.33 145.06h1.05v0.86h-1.05zM405.41 145.88h1.05v0.86h-1.05zM485.32 145.88h1.05v0.86h-1.05zM486.32 147.50h1.05v0.86h-1.05zM485.32 148.32h1.05v0.86h-1.05zM408.40 149.13h1.05v0.86h-1.05zM485.32 149.13h1.05v0.86h-1.05zM489.32 149.94h1.05v0.86h-1.05zM412.40 150.76h1.05v0.86h-1.05zM490.32 150.76h1.05v0.86h-1.05zM411.40 152.38h2.05v0.86h-2.05zM415.40 152.38h1.05v0.86h-1.05zM417.39 154.01h1.05v0.86h-1.05zM494.31 154.01h1.05v0.86h-1.05zM415.40 154.82h1.05v0.86h-1.05zM495.31 157.26h1.05v0.86h-1.05zM498.31 157.26h1.05v0.86h-1.05zM496.31 158.07h1.05v0.86h-1.05zM500.31 158.88h1.05v0.86h-1.05zM421.39 159.70h2.05v0.86h-2.05zM502.31 159.70h1.05v0.86h-1.05zM424.39 160.51h1.05v0.86h-1.05zM503.31 160.51h1.05v0.86h-1.05zM501.31 161.32h1.05v0.86h-1.05zM501.31 162.14h2.05v0.86h-2.05zM427.38 163.76h1.05v0.86h-1.05z"/>
<path fill="#ad1759" d="M327.49 18.25h1.05v0.86h-1.05zM330.48 19.07h1.05v0.86h-1.05zM329.48 19.88h1.05v0.86h-1.05zM339.47 22.32h1.05v0.86h-1.05zM331.48 23.94h1.05v0.86h-1.05zM335.48 24.76h1.05v0.86h-1.05zM337.48 25.57h1.05v0.86h-1.05zM336.48 27.20h1.05v0.86h-1.05zM341.47 28.01h1.05v0.86h-1.05zM338.48 29.64h1.05v0.86h-1.05zM342.47 29.64h1.05v0.86h-1.05zM343.47 30.45h1.05v0.86h-1.05zM349.46 34.51h1.05v0.86h-1.05zM350.46 35.33h1.05v0.86h-1.05zM347.47 36.95h1.05v0.86h-1.05zM352.46 40.20h1.05v0.86h-1.05zM433.38 40.20h1.05v0.86h-1.05zM354.46 41.83h1.05v0.86h-1.05zM435.38 42.64h2.05v0.86h-2.05zM433.38 43.45h1.05v0.86h-1.05zM436.37 43.45h1.05v0.86h-1.05zM434.38 44.27h1.05v0.86h-1.05zM361.45 45.89h1.05v0.86h-1.05zM359.45 46.71h1.05v0.86h-1.05zM439.37 46.71h2.05v0.86h-2.05zM441.37 47.52h1.05v0.86h-1.05zM443.37 49.14h1.05v0.86h-1.05zM443.37 49.96h1.05v0.86h-1.05zM444.37 52.40h3.05v0.86h-3.05zM367.45 54.02h2.05v0.86h-2.05zM448.36 54.83h1.05v0.86h-1.05zM451.36 54.83h1.05v0.86h-1.05zM449.36 55.65h1.05v0.86h-1.05zM451.36 57.27h1.05v0.86h-1.05zM480.33 79.22h1.05v0.86h-1.05zM482.33 82.47h1.05v0.86h-1.05zM486.32 84.91h1.05v0.86h-1.05zM487.32 85.72h1.05v0.86h-1.05zM414.40 88.98h1.05v0.86h-1.05zM418.39 92.23h1.05v0.86h-1.05zM419.39 94.67h1.05v0.86h-1.05zM421.39 96.29h1.05v0.86h-1.05zM422.39 97.10h1.05v0.86h-1.05zM501.31 97.10h1.05v0.86h-1.05zM502.31 99.54h1.05v0.86h-1.05zM426.38 100.36h1.05v0.86h-1.05zM430.38 101.98h1.05v0.86h-1.05zM429.38 102.79h1.05v0.86h-1.05zM357.46 106.05h1.05v0.86h-1.05zM432.38 106.05h1.05v0.86h-1.05zM356.46 106.86h1.05v0.86h-1.05zM358.45 106.86h3.05v0.86h-3.05zM436.37 106.86h1.05v0.86h-1.05zM437.37 107.67h1.05v0.86h-1.05zM358.45 108.49h1.05v0.86h-1.05zM361.45 108.49h1.05v0.86h-1.05zM358.45 109.30h1.05v0.86h-1.05zM438.37 110.11h1.05v0.86h-1.05zM364.45 112.55h1.05v0.86h-1.05zM443.37 112.55h1.05v0.86h-1.05zM441.37 113.36h1.05v0.86h-1.05zM444.37 113.36h1.05v0.86h-1.05zM368.44 116.61h1.05v0.86h-1.05zM370.44 117.43h1.05v0.86h-1.05zM450.36 118.24h1.05v0.86h-1.05zM373.44 119.05h1.05v0.86h-1.05zM451.36 120.68h1.05v0.86h-1.05zM453.36 122.30h1.05v0.86h-1.05zM456.35 122.30h1.05v0.86h-1.05zM454.36 123.93h1.05v0.86h-1.05zM460.35 127.99h1.05v0.86h-1.05zM464.35 131.25h1.05v0.86h-1.05zM472.34 137.75h1.05v0.86h-1.05zM475.33 137.75h1.05v0.86h-1.05zM476.33 138.56h1.05v0.86h-1.05zM475.33 140.19h1.05v0.86h-1.05zM477.33 141.81h1.05v0.86h-1.05zM480.33 145.06h1.05v0.86h-1.05zM484.32 145.06h1.05v0.86h-1.05zM484.32 145.88h1.05v0.86h-1.05zM408.40 146.69h1.05v0.86h-1.05zM482.33 146.69h1.05v0.86h-1.05zM485.32 146.69h1.05v0.86h-1.05zM405.41 147.50h1.05v0.86h-1.05zM408.40 147.50h1.05v0.86h-1.05zM484.32 147.50h1.05v0.86h-1.05zM411.40 149.94h1.05v0.86h-1.05zM410.40 150.76h1.05v0.86h-1.05zM413.40 150.76h1.05v0.86h-1.05zM411.40 151.57h2.05v0.86h-2.05zM492.32 152.38h1.05v0.86h-1.05zM491.32 153.19h1.05v0.86h-1.05zM414.40 154.01h1.05v0.86h-1.05zM419.39 157.26h1.05v0.86h-1.05zM499.31 157.26h1.05v0.86h-1.05zM418.39 158.07h1.05v0.86h-1.05zM420.39 158.07h1.05v0.86h-1.05zM422.39 158.07h1.05v0.86h-1.05zM499.31 158.07h1.05v0.86h-1.05zM498.31 158.88h1.05v0.86h-1.05zM501.31 159.70h1.05v0.86h-1.05z"/>
<path fill="#bc1656" d="M317.50 10.94h1.05v0.86h-1.05zM326.49 17.44h1.05v0.86h-1.05zM329.48 18.25h1.05v0.86h-1.05zM326.49 19.07h1.05v0.86h-1.05zM327.49 19.88h2.05v0.86h-2.05zM327.49 20.69h1.05v0.86h-1.05zM333.48 21.51h1.05v0.86h-1.05zM330.48 22.32h1.05v0.86h-1.05zM334.48 23.13h1.05v0.86h-1.05zM333.48 24.76h1.05v0.86h-1.05zM339.47 27.20h1.05v0.86h-1.05zM337.48 28.01h1.05v0.86h-1.05zM338.48 28.82h1.05v0.86h-1.05zM340.47 28.82h1.05v0.86h-1.05zM345.47 33.70h1.05v0.86h-1.05zM347.47 34.51h1.05v0.86h-1.05zM346.47 35.33h3.05v0.86h-3.05zM349.46 36.14h1.05v0.86h-1.05zM350.46 36.95h1.05v0.86h-1.05zM353.46 37.76h1.05v0.86h-1.05zM352.46 38.58h1.05v0.86h-1.05zM354.46 39.39h1.05v0.86h-1.05zM431.38 40.20h1.05v0.86h-1.05zM358.45 43.45h1.05v0.86h-1.05zM437.37 44.27h1.05v0.86h-1.05zM437.37 45.08h1.05v0.86h-1.05zM437.37 45.89h1.05v0.86h-1.05zM363.45 46.71h1.05v0.86h-1.05zM364.45 48.33h2.05v0.86h-2.05zM440.37 48.33h1.05v0.86h-1.05zM364.45 49.96h1.05v0.86h-1.05zM368.44 50.77h1.05v0.86h-1.05zM370.44 52.40h1.05v0.86h-1.05zM372.44 54.02h1.05v0.86h-1.05zM448.36 54.02h1.05v0.86h-1.05zM371.44 54.83h1.05v0.86h-1.05zM451.36 55.65h1.05v0.86h-1.05zM378.43 59.71h1.05v0.86h-1.05zM377.44 60.52h1.05v0.86h-1.05zM378.43 61.34h2.05v0.86h-2.05zM382.43 63.78h1.05v0.86h-1.05zM393.42 72.72h1.05v0.86h-1.05zM395.42 74.34h1.05v0.86h-1.05zM481.33 80.03h1.05v0.86h-1.05zM406.41 83.29h1.05v0.86h-1.05zM483.33 83.29h1.05v0.86h-1.05zM407.40 84.10h1.05v0.86h-1.05zM485.32 84.10h2.05v0.86h-2.05zM408.40 84.91h1.05v0.86h-1.05zM485.32 84.91h1.05v0.86h-1.05zM414.40 88.16h1.05v0.86h-1.05zM490.32 88.16h1.05v0.86h-1.05zM413.40 89.79h1.05v0.86h-1.05zM416.39 90.60h1.05v0.86h-1.05zM417.39 93.04h1.05v0.86h-1.05zM419.39 93.04h1.05v0.86h-1.05zM420.39 93.85h1.05v0.86h-1.05zM500.31 97.10h1.05v0.86h-1.05zM424.39 98.73h1.05v0.86h-1.05zM504.30 98.73h1.05v0.86h-1.05zM427.38 101.17h1.05v0.86h-1.05zM433.38 106.05h1.05v0.86h-1.05zM434.38 106.86h1.05v0.86h-1.05zM359.45 107.67h1.05v0.86h-1.05zM437.37 108.49h2.05v0.86h-2.05zM362.45 110.11h1.05v0.86h-1.05zM437.37 110.11h1.05v0.86h-1.05zM360.45 110.92h1.05v0.86h-1.05zM440.37 110.92h1.05v0.86h-1.05zM442.37 111.74h1.05v0.86h-1.05zM444.37 114.18h1.05v0.86h-1.05zM365.45 114.99h1.05v0.86h-1.05zM367.45 114.99h1.05v0.86h-1.05zM446.36 114.99h1.05v0.86h-1.05zM368.44 115.80h1.05v0.86h-1.05zM372.44 118.24h1.05v0.86h-1.05zM371.44 119.05h1.05v0.86h-1.05zM451.36 119.05h1.05v0.86h-1.05zM454.36 121.49h1.05v0.86h-1.05zM456.35 123.93h1.05v0.86h-1.05zM458.35 125.56h1.05v0.86h-1.05zM460.35 126.37h1.05v0.86h-1.05zM464.35 130.43h1.05v0.86h-1.05zM471.34 136.12h1.05v0.86h-1.05zM397.41 139.37h1.05v0.86h-1.05zM478.33 141.00h1.05v0.86h-1.05zM403.41 143.44h1.05v0.86h-1.05zM479.33 143.44h1.05v0.86h-1.05zM483.33 146.69h1.05v0.86h-1.05zM407.40 147.50h1.05v0.86h-1.05zM407.40 148.32h1.05v0.86h-1.05zM484.32 148.32h1.05v0.86h-1.05zM410.40 149.13h1.05v0.86h-1.05zM491.32 151.57h1.05v0.86h-1.05zM414.40 152.38h1.05v0.86h-1.05zM493.32 153.19h1.05v0.86h-1.05zM415.40 154.01h1.05v0.86h-1.05zM492.32 154.01h1.05v0.86h-1.05zM418.39 154.82h1.05v0.86h-1.05zM492.32 154.82h1.05v0.86h-1.05zM418.39 155.63h1.05v0.86h-1.05zM495.31 156.45h1.05v0.86h-1.05zM498.31 158.07h1.05v0.86h-1.05zM422.39 158.88h1.05v0.86h-1.05zM505.30 163.76h1.05v0.86h-1.05z"/>
<path fill="#cb1b4f" d="M328.49 19.07h2.05v0.86h-2.05zM328.49 21.51h1.05v0.86h-1.05zM331.48 22.32h1.05v0.86h-1.05zM332.48 23.94h1.05v0.86h-1.05zM342.47 30.45h1.05v0.86h-1.05zM344.47 32.89h1.05v0.86h-1.05zM346.47 33.70h1.05v0.86h-1.05zM348.46 34.51h1.05v0.86h-1.05zM346.47 36.14h1.05v0.86h-1.05zM351.46 36.95h1.05v0.86h-1.05zM349.46 37.76h1.05v0.86h-1.05zM351.46 39.39h1.05v0.86h-1.05zM355.46 41.02h1.05v0.86h-1.05zM435.38 44.27h2.05v0.86h-2.05zM360.45 45.08h1.05v0.86h-1.05zM437.37 46.71h2.05v0.86h-2.05zM362.45 47.52h1.05v0.86h-1.05zM440.37 47.52h1.05v0.86h-1.05zM444.37 49.14h1.05v0.86h-1.05zM366.45 49.96h1.05v0.86h-1.05zM367.45 50.77h1.05v0.86h-1.05zM444.37 51.58h1.05v0.86h-1.05zM370.44 53.21h1.05v0.86h-1.05zM370.44 54.02h1.05v0.86h-1.05zM449.36 54.83h1.05v0.86h-1.05zM450.36 55.65h1.05v0.86h-1.05zM373.44 56.46h1.05v0.86h-1.05zM378.43 58.90h1.05v0.86h-1.05zM375.44 59.71h1.05v0.86h-1.05zM383.43 64.59h1.05v0.86h-1.05zM384.43 65.40h1.05v0.86h-1.05zM387.42 67.84h1.05v0.86h-1.05zM394.42 73.53h1.05v0.86h-1.05zM398.41 76.78h1.05v0.86h-1.05zM400.41 78.41h1.05v0.86h-1.05zM403.41 80.85h1.05v0.86h-1.05zM481.33 81.66h1.05v0.86h-1.05zM484.32 83.29h1.05v0.86h-1.05zM415.40 89.79h1.05v0.86h-1.05zM416.39 91.41h1.05v0.86h-1.05zM418.39 93.04h1.05v0.86h-1.05zM420.39 94.67h1.05v0.86h-1.05zM505.30 100.36h1.05v0.86h-1.05zM434.38 104.42h1.05v0.86h-1.05zM356.46 105.23h1.05v0.86h-1.05zM432.38 105.23h1.05v0.86h-1.05zM434.38 106.05h1.05v0.86h-1.05zM358.45 107.67h1.05v0.86h-1.05zM360.45 110.11h1.05v0.86h-1.05zM362.45 111.74h1.05v0.86h-1.05zM367.45 114.18h1.05v0.86h-1.05zM450.36 119.05h1.05v0.86h-1.05zM456.35 124.74h1.05v0.86h-1.05zM462.35 128.81h1.05v0.86h-1.05zM474.34 138.56h1.05v0.86h-1.05zM397.41 140.19h1.05v0.86h-1.05zM476.33 140.19h1.05v0.86h-1.05zM485.32 147.50h1.05v0.86h-1.05zM411.40 150.76h1.05v0.86h-1.05zM414.40 151.57h1.05v0.86h-1.05zM491.32 152.38h1.05v0.86h-1.05zM416.39 154.01h1.05v0.86h-1.05zM417.39 155.63h1.05v0.86h-1.05zM495.31 155.63h1.05v0.86h-1.05zM420.39 157.26h1.05v0.86h-1.05zM422.39 160.51h1.05v0.86h-1.05zM500.31 160.51h2.05v0.86h-2.05zM503.31 161.32h1.05v0.86h-1.05z"/>
<path fill="#d72549" d="M330.48 21.51h2.05v0.86h-2.05zM333.48 23.13h1.05v0.86h-1.05zM336.48 26.38h1.05v0.86h-1.05zM337.48 27.20h2.05v0.86h-2.05zM340.47 27.20h1.05v0.86h-1.05zM338.48 28.01h1.05v0.86h-1.05zM339.47 28.82h1.05v0.86h-1.05zM343.47 28.82h1.05v0.86h-1.05zM343.47 31.26h1.05v0.86h-1.05zM346.47 32.89h1.05v0.86h-1.05zM345.47 34.51h1.05v0.86h-1.05zM350.46 37.76h1.05v0.86h-1.05zM351.46 40.20h1.05v0.86h-1.05zM433.38 41.02h1.05v0.86h-1.05zM356.46 44.27h2.05v0.86h-2.05zM438.37 45.89h1.05v0.86h-1.05zM441.37 49.14h1.05v0.86h-1.05zM442.37 49.96h1.05v0.86h-1.05zM368.44 52.40h1.05v0.86h-1.05zM374.44 58.09h1.05v0.86h-1.05zM377.44 58.90h1.05v0.86h-1.05zM377.44 59.71h1.05v0.86h-1.05zM381.43 62.96h1.05v0.86h-1.05zM397.41 75.97h1.05v0.86h-1.05zM405.41 82.47h1.05v0.86h-1.05zM409.40 85.72h1.05v0.86h-1.05zM413.40 88.98h1.05v0.86h-1.05zM414.40 89.79h1.05v0.86h-1.05zM417.39 92.23h1.05v0.86h-1.05zM424.39 97.10h1.05v0.86h-1.05zM433.38 105.23h1.05v0.86h-1.05zM355.46 106.05h1.05v0.86h-1.05zM436.37 108.49h1.05v0.86h-1.05zM362.45 109.30h1.05v0.86h-1.05zM437.37 109.30h1.05v0.86h-1.05zM363.45 110.11h1.05v0.86h-1.05zM362.45 110.92h1.05v0.86h-1.05zM441.37 110.92h1.05v0.86h-1.05zM442.37 112.55h1.05v0.86h-1.05zM443.37 113.36h1.05v0.86h-1.05zM445.36 115.80h1.05v0.86h-1.05zM446.36 116.61h1.05v0.86h-1.05zM456.35 123.12h1.05v0.86h-1.05zM455.35 123.93h1.05v0.86h-1.05zM459.35 126.37h1.05v0.86h-1.05zM460.35 127.18h1.05v0.86h-1.05zM472.34 136.94h1.05v0.86h-1.05zM396.42 138.56h1.05v0.86h-1.05zM477.33 141.00h1.05v0.86h-1.05zM482.33 145.06h1.05v0.86h-1.05zM404.41 145.88h1.05v0.86h-1.05zM484.32 146.69h1.05v0.86h-1.05zM490.32 151.57h1.05v0.86h-1.05zM413.40 153.19h1.05v0.86h-1.05zM416.39 153.19h1.05v0.86h-1.05zM417.39 154.82h1.05v0.86h-1.05zM494.31 154.82h1.05v0.86h-1.05zM496.31 156.45h1.05v0.86h-1.05zM504.30 162.95h1.05v0.86h-1.05z"/>
<path fill="#e13342" d="M314.50 8.50h1.05v0.86h-1.05zM315.50 9.31h1.05v0.86h-1.05zM316.50 10.13h1.05v0.86h-1.05zM332.48 21.51h1.05v0.86h-1.05zM332.48 23.13h1.05v0.86h-1.05zM337.48 26.38h1.05v0.86h-1.05zM342.47 31.26h1.05v0.86h-1.05zM344.47 33.70h1.05v0.86h-1.05zM346.47 34.51h1.05v0.86h-1.05zM351.46 38.58h1.05v0.86h-1.05zM352.46 39.39h1.05v0.86h-1.05zM431.38 41.02h1.05v0.86h-1.05zM355.46 41.83h1.05v0.86h-1.05zM358.45 42.64h1.05v0.86h-1.05zM357.46 43.45h1.05v0.86h-1.05zM358.45 44.27h1.05v0.86h-1.05zM359.45 45.08h1.05v0.86h-1.05zM361.45 46.71h1.05v0.86h-1.05zM443.37 50.77h1.05v0.86h-1.05zM446.36 51.58h1.05v0.86h-1.05zM372.44 55.65h2.05v0.86h-2.05zM375.44 58.09h1.05v0.86h-1.05zM378.43 60.52h1.05v0.86h-1.05zM385.43 66.21h1.05v0.86h-1.05zM401.41 79.22h1.05v0.86h-1.05zM410.40 86.54h1.05v0.86h-1.05zM419.39 93.85h1.05v0.86h-1.05zM422.39 96.29h1.05v0.86h-1.05zM434.38 105.23h1.05v0.86h-1.05zM357.46 107.67h1.05v0.86h-1.05zM436.37 107.67h1.05v0.86h-1.05zM439.37 110.11h1.05v0.86h-1.05zM441.37 111.74h1.05v0.86h-1.05zM448.36 117.43h1.05v0.86h-1.05zM454.36 122.30h1.05v0.86h-1.05zM455.35 123.12h1.05v0.86h-1.05zM461.35 127.99h1.05v0.86h-1.05zM463.35 129.62h1.05v0.86h-1.05zM473.34 137.75h1.05v0.86h-1.05zM478.33 141.81h1.05v0.86h-1.05zM405.41 145.06h1.05v0.86h-1.05zM483.33 145.88h1.05v0.86h-1.05zM406.41 146.69h1.05v0.86h-1.05zM492.32 153.19h1.05v0.86h-1.05zM493.32 154.01h1.05v0.86h-1.05zM496.31 155.63h1.05v0.86h-1.05zM418.39 157.26h1.05v0.86h-1.05zM496.31 157.26h2.05v0.86h-2.05zM419.39 158.07h1.05v0.86h-1.05zM502.31 161.32h1.05v0.86h-1.05zM503.31 162.14h1.05v0.86h-1.05zM507.30 165.39h1.05v0.86h-1.05z"/>
<path fill="#e9423e" d="M326.49 18.25h1.05v0.86h-1.05zM327.49 19.07h1.05v0.86h-1.05zM330.48 19.88h1.05v0.86h-1.05zM329.48 20.69h1.05v0.86h-1.05zM334.48 24.76h1.05v0.86h-1.05zM341.47 30.45h1.05v0.86h-1.05zM343.47 32.07h1.05v0.86h-1.05zM343.47 32.89h1.05v0.86h-1.05zM348.46 36.14h1.05v0.86h-1.05zM354.46 41.02h1.05v0.86h-1.05zM433.38 41.83h1.05v0.86h-1.05zM356.46 42.64h1.05v0.86h-1.05zM435.38 43.45h1.05v0.86h-1.05zM363.45 48.33h1.05v0.86h-1.05zM364.45 49.14h1.05v0.86h-1.05zM365.45 49.96h1.05v0.86h-1.05zM369.44 53.21h1.05v0.86h-1.05zM376.44 58.90h1.05v0.86h-1.05zM386.43 67.03h1.05v0.86h-1.05zM402.41 80.03h1.05v0.86h-1.05zM404.41 81.66h1.05v0.86h-1.05zM415.40 90.60h1.05v0.86h-1.05zM423.39 97.10h1.05v0.86h-1.05zM425.39 98.73h1.05v0.86h-1.05zM426.38 99.54h1.05v0.86h-1.05zM427.38 100.36h1.05v0.86h-1.05zM428.38 101.17h1.05v0.86h-1.05zM429.38 101.98h1.05v0.86h-1.05zM430.38 102.79h1.05v0.86h-1.05zM431.38 103.61h1.05v0.86h-1.05zM432.38 104.42h1.05v0.86h-1.05zM435.38 106.86h1.05v0.86h-1.05zM438.37 109.30h1.05v0.86h-1.05zM445.36 114.99h1.05v0.86h-1.05zM449.36 118.24h1.05v0.86h-1.05zM452.36 120.68h1.05v0.86h-1.05zM475.33 139.37h1.05v0.86h-1.05zM405.41 146.69h1.05v0.86h-1.05zM486.32 148.32h1.05v0.86h-1.05zM488.32 149.94h1.05v0.86h-1.05zM415.40 153.19h1.05v0.86h-1.05zM499.31 158.88h1.05v0.86h-1.05z"/>
<path fill="#ee543f" d="M335.48 25.57h2.05v0.86h-2.05zM340.47 29.64h1.05v0.86h-1.05zM349.46 36.95h1.05v0.86h-1.05zM353.46 39.39h1.05v0.86h-1.05zM353.46 40.20h1.05v0.86h-1.05zM360.45 46.71h1.05v0.86h-1.05zM367.45 51.58h1.05v0.86h-1.05zM373.44 54.83h1.05v0.86h-1.05zM374.44 57.27h1.05v0.86h-1.05zM380.43 62.15h1.05v0.86h-1.05zM392.42 71.91h1.05v0.86h-1.05zM396.42 75.16h1.05v0.86h-1.05zM399.41 77.60h1.05v0.86h-1.05zM411.40 87.35h1.05v0.86h-1.05zM412.40 88.16h1.05v0.86h-1.05zM421.39 95.48h1.05v0.86h-1.05zM424.39 97.92h1.05v0.86h-1.05zM446.36 115.80h1.05v0.86h-1.05zM447.36 116.61h1.05v0.86h-1.05zM451.36 119.87h1.05v0.86h-1.05zM453.36 121.49h1.05v0.86h-1.05zM457.35 124.74h1.05v0.86h-1.05zM479.33 142.63h1.05v0.86h-1.05zM481.33 144.25h1.05v0.86h-1.05zM487.32 149.13h1.05v0.86h-1.05zM489.32 150.76h1.05v0.86h-1.05zM500.31 159.70h1.05v0.86h-1.05zM506.30 164.57h1.05v0.86h-1.05z"/>
<path fill="#f16646" d="M328.49 18.25h1.05v0.86h-1.05zM356.46 43.45h1.05v0.86h-1.05zM360.45 45.89h1.05v0.86h-1.05zM366.45 50.77h1.05v0.86h-1.05zM372.44 54.83h1.05v0.86h-1.05zM371.44 55.65h1.05v0.86h-1.05zM363.45 110.92h1.05v0.86h-1.05zM461.35 127.18h1.05v0.86h-1.05zM482.33 144.25h1.05v0.86h-1.05z"/>
<path fill="#f37651" d="M375.44 58.90h1.05v0.86h-1.05zM465.34 68.65h5.04v0.86h-5.04zM465.34 69.47h1.05v0.86h-1.05zM469.34 69.47h1.05v0.86h-1.05zM465.34 70.28h5.04v0.86h-5.04zM465.34 71.09h5.04v0.86h-5.04zM386.43 131.25h5.04v0.86h-5.04zM386.43 132.06h1.05v0.86h-1.05zM389.42 132.06h2.05v0.86h-2.05zM386.43 132.87h1.05v0.86h-1.05zM389.42 132.87h2.05v0.86h-2.05zM386.43 133.68h1.05v0.86h-1.05zM389.42 133.68h2.05v0.86h-2.05zM386.43 134.50h5.04v0.86h-5.04zM386.43 135.31h5.04v0.86h-5.04z"/>
<path fill="#f58860" d="M333.48 23.94h1.05v0.86h-1.05zM363.45 111.74h1.05v0.86h-1.05zM480.33 143.44h1.05v0.86h-1.05z"/>
<path fill="#f5976e" d="M322.49 15.00h4.05v0.86h-4.05zM322.49 15.82h1.05v0.86h-1.05zM325.49 15.82h1.05v0.86h-1.05zM322.49 16.63h1.05v0.86h-1.05zM325.49 16.63h1.05v0.86h-1.05zM322.49 17.44h4.05v0.86h-4.05z"/>
<path fill="#f6a67e" d="M434.38 43.45h1.05v0.86h-1.05z"/>
<path fill="#f6b48f" d="M388.42 68.65h4.05v0.86h-4.05zM388.42 69.47h1.05v0.86h-1.05zM391.42 69.47h1.05v0.86h-1.05zM466.34 69.47h3.05v0.86h-3.05zM388.42 70.28h1.05v0.86h-1.05zM391.42 70.28h1.05v0.86h-1.05zM388.42 71.09h4.05v0.86h-4.05z"/>
<path fill="#f7c2a2" d="M323.49 15.82h2.05v0.86h-2.05zM323.49 16.63h2.05v0.86h-2.05z"/>
<path fill="#f9ddc9" d="M465.34 67.84h5.04v0.86h-5.04zM387.42 132.06h2.05v0.86h-2.05zM387.42 132.87h2.05v0.86h-2.05zM387.42 133.68h2.05v0.86h-2.05z"/>
<path fill="#faebdd" d="M318.50 11.75h4.05v0.86h-4.05zM318.50 12.56h4.05v0.86h-4.05zM318.50 13.38h4.05v0.86h-4.05zM318.50 14.19h4.05v0.86h-4.05zM441.37 48.33h1.05v0.86h-1.05zM389.42 69.47h2.05v0.86h-2.05zM389.42 70.28h2.05v0.86h-2.05zM465.34 131.25h6.04v0.86h-6.04zM465.34 132.06h6.04v0.86h-6.04zM465.34 132.87h6.04v0.86h-6.04zM465.34 133.68h6.04v0.86h-6.04zM465.34 134.50h6.04v0.86h-6.04zM465.34 135.31h6.04v0.86h-6.04z"/>
<line x1="314.80" y1="8.75" x2="508.00" y2="165.95" stroke="#fffaf5" stroke-width="0.62" stroke-opacity="0.92"/>
<path d="M312.20 8.91h2.30M312.20 16.22h2.30M312.20 23.54h2.30M312.20 30.85h2.30M312.20 38.17h2.30M312.20 45.49h2.30M312.20 52.80h2.30M312.20 60.12h2.30M312.20 67.43h2.30M312.20 74.75h2.30M312.20 82.07h2.30M312.20 89.38h2.30M312.20 96.70h2.30M312.20 104.01h2.30M312.20 111.33h2.30M312.20 118.65h2.30M312.20 125.96h2.30M312.20 133.28h2.30M312.20 140.59h2.30M312.20 147.91h2.30M312.20 155.23h2.30M312.20 162.54h2.30M315.00 166.20v2.30M322.99 166.20v2.30M330.98 166.20v2.30M338.97 166.20v2.30M346.97 166.20v2.30M354.96 166.20v2.30M362.95 166.20v2.30M370.94 166.20v2.30M378.93 166.20v2.30M386.93 166.20v2.30M394.92 166.20v2.30M402.91 166.20v2.30M410.90 166.20v2.30M418.89 166.20v2.30M426.88 166.20v2.30M434.88 166.20v2.30M442.87 166.20v2.30M450.86 166.20v2.30M458.85 166.20v2.30M466.84 166.20v2.30M474.83 166.20v2.30M482.83 166.20v2.30M490.82 166.20v2.30M498.81 166.20v2.30M506.80 166.20v2.30M528.40 166.20h2.30M528.40 134.66h2.30M528.40 103.12h2.30M528.40 71.58h2.30M528.40 40.04h2.30M528.40 8.50h2.30" stroke="#222" stroke-width="0.6" fill="none"/>
<g font-family="DejaVu Sans, sans-serif" font-size="8.00" fill="#111" stroke="#111" stroke-width="0.15"><text transform="translate(309.00 12.63) scale(0.85 1)" text-anchor="end">0</text><text transform="translate(309.00 19.94) scale(0.85 1)" text-anchor="end">9</text><text transform="translate(309.00 27.26) scale(0.85 1)" text-anchor="end">18</text><text transform="translate(309.00 34.57) scale(0.85 1)" text-anchor="end">27</text><text transform="translate(309.00 41.89) scale(0.85 1)" text-anchor="end">36</text><text transform="translate(309.00 49.21) scale(0.85 1)" text-anchor="end">45</text><text transform="translate(309.00 56.52) scale(0.85 1)" text-anchor="end">54</text><text transform="translate(309.00 63.84) scale(0.85 1)" text-anchor="end">63</text><text transform="translate(309.00 71.15) scale(0.85 1)" text-anchor="end">72</text><text transform="translate(309.00 78.47) scale(0.85 1)" text-anchor="end">81</text><text transform="translate(309.00 85.79) scale(0.85 1)" text-anchor="end">90</text><text transform="translate(309.00 93.10) scale(0.85 1)" text-anchor="end">99</text><text transform="translate(309.00 100.42) scale(0.85 1)" text-anchor="end">108</text><text transform="translate(309.00 107.73) scale(0.85 1)" text-anchor="end">117</text><text transform="translate(309.00 115.05) scale(0.85 1)" text-anchor="end">126</text><text transform="translate(309.00 122.37) scale(0.85 1)" text-anchor="end">135</text><text transform="translate(309.00 129.68) scale(0.85 1)" text-anchor="end">144</text><text transform="translate(309.00 137.00) scale(0.85 1)" text-anchor="end">153</text><text transform="translate(309.00 144.31) scale(0.85 1)" text-anchor="end">162</text><text transform="translate(309.00 151.63) scale(0.85 1)" text-anchor="end">171</text><text transform="translate(309.00 158.95) scale(0.85 1)" text-anchor="end">180</text><text transform="translate(309.00 166.26) scale(0.85 1)" text-anchor="end">189</text><text transform="translate(317.72 174.10) rotate(-90) scale(0.88 1)" text-anchor="end">0</text><text transform="translate(325.71 174.10) rotate(-90) scale(0.88 1)" text-anchor="end">8</text><text transform="translate(333.70 174.10) rotate(-90) scale(0.88 1)" text-anchor="end">16</text><text transform="translate(341.69 174.10) rotate(-90) scale(0.88 1)" text-anchor="end">24</text><text transform="translate(349.69 174.10) rotate(-90) scale(0.88 1)" text-anchor="end">32</text><text transform="translate(357.68 174.10) rotate(-90) scale(0.88 1)" text-anchor="end">40</text><text transform="translate(365.67 174.10) rotate(-90) scale(0.88 1)" text-anchor="end">48</text><text transform="translate(373.66 174.10) rotate(-90) scale(0.88 1)" text-anchor="end">56</text><text transform="translate(381.65 174.10) rotate(-90) scale(0.88 1)" text-anchor="end">64</text><text transform="translate(389.65 174.10) rotate(-90) scale(0.88 1)" text-anchor="end">72</text><text transform="translate(397.64 174.10) rotate(-90) scale(0.88 1)" text-anchor="end">80</text><text transform="translate(405.63 174.10) rotate(-90) scale(0.88 1)" text-anchor="end">88</text><text transform="translate(413.62 174.10) rotate(-90) scale(0.88 1)" text-anchor="end">96</text><text transform="translate(421.61 174.10) rotate(-90) scale(0.88 1)" text-anchor="end">104</text><text transform="translate(429.60 174.10) rotate(-90) scale(0.88 1)" text-anchor="end">112</text><text transform="translate(437.60 174.10) rotate(-90) scale(0.88 1)" text-anchor="end">120</text><text transform="translate(445.59 174.10) rotate(-90) scale(0.88 1)" text-anchor="end">128</text><text transform="translate(453.58 174.10) rotate(-90) scale(0.88 1)" text-anchor="end">136</text><text transform="translate(461.57 174.10) rotate(-90) scale(0.88 1)" text-anchor="end">144</text><text transform="translate(469.56 174.10) rotate(-90) scale(0.88 1)" text-anchor="end">152</text><text transform="translate(477.55 174.10) rotate(-90) scale(0.88 1)" text-anchor="end">160</text><text transform="translate(485.55 174.10) rotate(-90) scale(0.88 1)" text-anchor="end">168</text><text transform="translate(493.54 174.10) rotate(-90) scale(0.88 1)" text-anchor="end">176</text><text transform="translate(501.53 174.10) rotate(-90) scale(0.88 1)" text-anchor="end">184</text><text transform="translate(509.52 174.10) rotate(-90) scale(0.88 1)" text-anchor="end">192</text><text transform="translate(533.90 169.82) scale(0.85 1)">0.0</text><text transform="translate(533.90 138.28) scale(0.85 1)">0.2</text><text transform="translate(533.90 106.74) scale(0.85 1)">0.4</text><text transform="translate(533.90 75.20) scale(0.85 1)">0.6</text><text transform="translate(533.90 43.66) scale(0.85 1)">0.8</text><text transform="translate(533.90 12.12) scale(0.85 1)">1.0</text></g>
<rect x="520.60" y="8.50" width="7.80" height="157.70" fill="url(#rk)"/>
</g>
<g id="panel-c">
<rect x="24.20" y="215.40" width="208.20" height="168.40" fill="#03051a"/>
<path fill="#f7cdb1" d="M24.16 215.36h1.24v1.02h-1.24zM25.32 216.30h1.24v1.02h-1.24zM28.79 219.10h1.24v1.02h-1.24zM38.04 226.59h1.24v1.02h-1.24zM39.20 227.52h1.24v1.02h-1.24zM55.39 240.62h1.24v1.02h-1.24zM56.55 241.56h1.24v1.02h-1.24zM29.94 250.91h1.24v1.02h-1.24zM38.04 256.52h1.24v1.02h-1.24zM44.98 261.20h1.24v1.02h-1.24zM47.29 263.07h1.24v1.02h-1.24zM54.23 269.62h1.24v1.02h-1.24zM55.39 270.56h1.24v1.02h-1.24zM57.70 272.43h1.24v1.02h-1.24zM58.86 273.36h1.24v1.02h-1.24zM61.17 275.24h1.24v1.02h-1.24zM66.96 281.78h1.24v1.02h-1.24zM66.96 282.72h1.24v1.02h-1.24zM71.58 286.46h1.24v1.02h-1.24zM78.52 293.95h1.24v1.02h-1.24zM78.52 294.88h1.24v1.02h-1.24zM86.62 302.37h1.24v1.02h-1.24zM91.25 306.11h1.24v1.02h-1.24zM57.70 308.92h1.24v1.02h-1.24z"/>
<path fill="#f8dcc7" d="M26.47 217.23h1.24v1.02h-1.24zM27.63 218.17h1.24v1.02h-1.24zM35.73 224.72h1.24v1.02h-1.24zM42.67 230.33h1.24v1.02h-1.24zM49.61 235.94h1.24v1.02h-1.24zM53.08 238.75h1.24v1.02h-1.24zM54.23 239.68h1.24v1.02h-1.24zM58.86 243.43h1.24v1.02h-1.24zM147.92 316.40h1.24v1.02h-1.24zM162.96 330.43h1.24v1.02h-1.24zM201.13 361.31h1.24v1.02h-1.24zM227.73 381.89h1.24v1.02h-1.24zM27.63 248.10h1.24v1.02h-1.24zM40.35 258.40h1.24v1.02h-1.24zM43.82 260.27h1.24v1.02h-1.24zM43.82 261.20h1.24v1.02h-1.24zM48.45 264.01h1.24v1.02h-1.24zM51.92 265.88h1.24v1.02h-1.24zM53.08 267.75h1.24v1.02h-1.24zM64.64 281.78h1.24v1.02h-1.24zM80.84 296.75h1.24v1.02h-1.24zM124.79 340.72h1.24v1.02h-1.24zM58.86 309.85h1.24v1.02h-1.24zM68.11 321.08h1.24v1.02h-1.24zM48.45 345.40h1.24v1.02h-1.24zM58.86 370.66h1.24v1.02h-1.24zM63.49 379.08h1.24v1.02h-1.24z"/>
<path fill="#faebdd" d="M29.94 220.04h1.24v1.02h-1.24zM46.14 233.14h1.24v1.02h-1.24zM60.02 244.36h1.24v1.02h-1.24zM61.17 245.30h1.24v1.02h-1.24zM80.84 262.14h1.24v1.02h-1.24zM81.99 263.07h1.24v1.02h-1.24zM147.92 315.46h1.24v1.02h-1.24zM162.96 330.43h1.24v1.02h-1.24zM199.97 359.44h1.24v1.02h-1.24zM202.29 362.24h1.24v1.02h-1.24zM226.58 381.89h1.24v1.02h-1.24zM230.05 382.82h1.24v1.02h-1.24zM42.67 259.33h1.24v1.02h-1.24zM72.74 287.40h1.24v1.02h-1.24zM73.90 288.33h1.24v1.02h-1.24zM87.78 303.30h1.24v1.02h-1.24zM90.09 305.17h1.24v1.02h-1.24zM124.79 339.79h1.24v1.02h-1.24zM91.25 352.89h1.24v1.02h-1.24zM91.25 352.89h1.24v1.02h-1.24zM48.45 344.47h1.24v1.02h-1.24zM48.45 253.72h1.24v1.02h-1.24zM48.45 254.65h1.24v1.02h-1.24z"/>
<path fill="#f6ae87" d="M40.35 228.46h1.24v1.02h-1.24zM41.51 229.39h1.24v1.02h-1.24zM76.21 258.40h1.24v1.02h-1.24zM90.09 268.69h1.24v1.02h-1.24zM101.66 280.85h1.24v1.02h-1.24zM117.85 292.08h1.24v1.02h-1.24zM171.06 335.11h1.24v1.02h-1.24zM189.56 351.95h1.24v1.02h-1.24zM27.63 248.10h1.24v1.02h-1.24zM49.61 264.94h1.24v1.02h-1.24zM62.33 276.17h1.24v1.02h-1.24zM65.80 281.78h1.24v1.02h-1.24zM81.99 298.62h1.24v1.02h-1.24zM98.19 311.72h1.24v1.02h-1.24zM138.67 365.05h1.24v1.02h-1.24zM143.30 374.40h1.24v1.02h-1.24zM145.61 377.21h1.24v1.02h-1.24zM65.80 319.21h1.24v1.02h-1.24zM77.37 332.30h1.24v1.02h-1.24zM79.68 335.11h1.24v1.02h-1.24zM84.31 343.53h1.24v1.02h-1.24zM85.46 347.27h1.24v1.02h-1.24zM93.56 365.05h1.24v1.02h-1.24zM95.87 368.79h1.24v1.02h-1.24z"/>
<path fill="#f6be9b" d="M44.98 232.20h1.24v1.02h-1.24zM50.76 236.88h1.24v1.02h-1.24zM51.92 237.81h1.24v1.02h-1.24zM57.70 242.49h1.24v1.02h-1.24zM69.27 251.85h1.24v1.02h-1.24zM203.44 363.18h1.24v1.02h-1.24zM39.20 257.46h1.24v1.02h-1.24zM51.92 266.82h1.24v1.02h-1.24zM56.55 271.49h1.24v1.02h-1.24zM60.02 274.30h1.24v1.02h-1.24zM68.11 282.72h1.24v1.02h-1.24zM69.27 285.53h1.24v1.02h-1.24zM73.90 287.40h1.24v1.02h-1.24zM75.05 289.27h1.24v1.02h-1.24zM75.05 291.14h1.24v1.02h-1.24zM76.21 292.08h1.24v1.02h-1.24zM79.68 295.82h1.24v1.02h-1.24zM81.99 297.69h1.24v1.02h-1.24zM85.46 301.43h1.24v1.02h-1.24zM58.86 309.85h1.24v1.02h-1.24zM60.02 310.79h1.24v1.02h-1.24zM48.45 299.56h1.24v1.02h-1.24zM58.86 371.60h1.24v1.02h-1.24zM63.49 380.02h1.24v1.02h-1.24z"/>
<path fill="#7d1f5a" d="M72.78 254.69h1.16v0.94h-1.16zM86.66 265.92h1.16v0.94h-1.16zM136.40 307.08h1.16v0.94h-1.16zM153.75 324.86h1.16v0.94h-1.16zM213.89 370.70h1.16v0.94h-1.16zM33.45 252.82h1.16v0.94h-1.16zM35.77 317.38h1.16v0.94h-1.16zM45.02 341.70h1.16v0.94h-1.16zM57.74 366.96h1.16v0.94h-1.16zM129.46 321.12h1.16v0.94h-1.16zM35.77 246.27h1.16v0.94h-1.16zM29.98 283.70h1.16v0.94h-1.16zM38.08 289.31h1.16v0.94h-1.16zM128.30 321.12h1.16v0.94h-1.16zM24.20 222.88h1.16v0.94h-1.16z"/>
<path fill="#e83f3f" d="M100.54 277.15h1.16v0.94h-1.16zM129.46 350.12h1.16v0.94h-1.16z"/>
<path fill="#f47a54" d="M100.54 279.02h1.16v0.94h-1.16zM206.95 366.96h1.16v0.94h-1.16zM208.11 367.90h1.16v0.94h-1.16zM147.96 380.06h1.16v0.94h-1.16zM147.96 380.99h1.16v0.94h-1.16zM73.94 326.73h1.16v0.94h-1.16zM75.09 328.60h1.16v0.94h-1.16zM80.88 341.70h1.16v0.94h-1.16zM25.36 321.12h1.16v0.94h-1.16z"/>
<path fill="#f58b63" d="M107.48 282.76h1.16v0.94h-1.16zM120.20 293.05h1.16v0.94h-1.16zM75.09 329.54h1.16v0.94h-1.16zM87.82 353.86h1.16v0.94h-1.16zM84.35 322.99h1.16v0.94h-1.16z"/>
<path fill="#5c1e51" d="M127.14 300.54h1.16v0.94h-1.16zM159.53 324.86h1.16v0.94h-1.16zM25.36 347.31h1.16v0.94h-1.16zM24.20 234.11h1.16v0.94h-1.16z"/>
<path fill="#f69c73" d="M175.68 340.72h1.24v1.02h-1.24zM117.85 326.69h1.24v1.02h-1.24zM121.32 333.24h1.24v1.02h-1.24zM125.95 345.40h1.24v1.02h-1.24zM132.89 349.14h1.24v1.02h-1.24zM139.83 368.79h1.24v1.02h-1.24zM140.98 371.60h1.24v1.02h-1.24zM80.84 338.85h1.24v1.02h-1.24zM86.62 350.08h1.24v1.02h-1.24zM90.09 359.44h1.24v1.02h-1.24zM92.40 362.24h1.24v1.02h-1.24zM97.03 373.47h1.24v1.02h-1.24zM98.19 376.28h1.24v1.02h-1.24z"/>
<path fill="#a11a5b" d="M182.66 346.38h1.16v0.94h-1.16z"/>
<path fill="#c21753" d="M194.23 355.73h1.16v0.94h-1.16zM35.77 323.92h1.16v0.94h-1.16zM51.96 354.80h1.16v0.94h-1.16zM109.79 322.99h1.16v0.94h-1.16z"/>
<path fill="#b21758" d="M195.39 355.73h1.16v0.94h-1.16z"/>
<path fill="#de2e44" d="M101.70 316.44h1.16v0.94h-1.16zM135.24 362.28h1.16v0.94h-1.16zM136.40 362.28h1.16v0.94h-1.16zM88.97 356.67h1.16v0.94h-1.16zM101.70 379.12h1.16v0.94h-1.16zM50.80 354.80h1.16v0.94h-1.16zM72.78 347.31h1.16v0.94h-1.16z"/>
<path fill="#901d5b" d="M110.95 322.99h1.16v0.94h-1.16zM48.49 288.37h1.16v0.94h-1.16z"/>
<path d="M21.90 215.87h2.30M21.90 224.29h2.30M21.90 232.71h2.30M21.90 241.13h2.30M21.90 249.55h2.30M21.90 257.97h2.30M21.90 266.39h2.30M21.90 274.81h2.30M21.90 283.23h2.30M21.90 291.65h2.30M21.90 300.07h2.30M21.90 308.49h2.30M21.90 316.91h2.30M21.90 325.33h2.30M21.90 333.75h2.30M21.90 342.17h2.30M21.90 350.59h2.30M21.90 359.01h2.30M21.90 367.43h2.30M21.90 375.85h2.30M24.78 383.80v2.30M32.88 383.80v2.30M40.97 383.80v2.30M49.07 383.80v2.30M57.17 383.80v2.30M65.26 383.80v2.30M73.36 383.80v2.30M81.45 383.80v2.30M89.55 383.80v2.30M97.65 383.80v2.30M105.75 383.80v2.30M113.84 383.80v2.30M121.94 383.80v2.30M130.03 383.80v2.30M138.13 383.80v2.30M146.23 383.80v2.30M154.32 383.80v2.30M162.42 383.80v2.30M170.52 383.80v2.30M178.62 383.80v2.30M186.71 383.80v2.30M194.81 383.80v2.30M202.91 383.80v2.30M211.00 383.80v2.30M219.10 383.80v2.30M227.19 383.80v2.30M254.20 383.80h2.30M254.20 350.12h2.30M254.20 316.44h2.30M254.20 282.76h2.30M254.20 249.08h2.30M254.20 215.40h2.30" stroke="#222" stroke-width="0.6" fill="none"/>
<g font-family="DejaVu Sans, sans-serif" font-size="7.90" fill="#111" stroke="#111" stroke-width="0.15"><text transform="translate(19.70 219.95) scale(0.91 1)" text-anchor="end">0</text><text transform="translate(19.70 228.37) scale(0.91 1)" text-anchor="end">9</text><text transform="translate(19.70 236.79) scale(0.91 1)" text-anchor="end">18</text><text transform="translate(19.70 245.21) scale(0.91 1)" text-anchor="end">27</text><text transform="translate(19.70 253.63) scale(0.91 1)" text-anchor="end">36</text><text transform="translate(19.70 262.05) scale(0.91 1)" text-anchor="end">45</text><text transform="translate(19.70 270.47) scale(0.91 1)" text-anchor="end">54</text><text transform="translate(19.70 278.89) scale(0.91 1)" text-anchor="end">63</text><text transform="translate(19.70 287.31) scale(0.91 1)" text-anchor="end">72</text><text transform="translate(19.70 295.73) scale(0.91 1)" text-anchor="end">81</text><text transform="translate(19.70 304.15) scale(0.91 1)" text-anchor="end">90</text><text transform="translate(19.70 312.57) scale(0.91 1)" text-anchor="end">99</text><text transform="translate(19.70 320.99) scale(0.91 1)" text-anchor="end">108</text><text transform="translate(19.70 329.41) scale(0.91 1)" text-anchor="end">117</text><text transform="translate(19.70 337.83) scale(0.91 1)" text-anchor="end">126</text><text transform="translate(19.70 346.25) scale(0.91 1)" text-anchor="end">135</text><text transform="translate(19.70 354.67) scale(0.91 1)" text-anchor="end">144</text><text transform="translate(19.70 363.09) scale(0.91 1)" text-anchor="end">153</text><text transform="translate(19.70 371.51) scale(0.91 1)" text-anchor="end">162</text><text transform="translate(19.70 379.93) scale(0.91 1)" text-anchor="end">171</text><text transform="translate(26.96 393.00) rotate(-90) scale(0.99 1)" text-anchor="end">0</text><text transform="translate(35.06 393.00) rotate(-90) scale(0.99 1)" text-anchor="end">7</text><text transform="translate(43.16 393.00) rotate(-90) scale(0.99 1)" text-anchor="end">14</text><text transform="translate(51.25 393.00) rotate(-90) scale(0.99 1)" text-anchor="end">21</text><text transform="translate(59.35 393.00) rotate(-90) scale(0.99 1)" text-anchor="end">28</text><text transform="translate(67.45 393.00) rotate(-90) scale(0.99 1)" text-anchor="end">35</text><text transform="translate(75.54 393.00) rotate(-90) scale(0.99 1)" text-anchor="end">42</text><text transform="translate(83.64 393.00) rotate(-90) scale(0.99 1)" text-anchor="end">49</text><text transform="translate(91.74 393.00) rotate(-90) scale(0.99 1)" text-anchor="end">56</text><text transform="translate(99.83 393.00) rotate(-90) scale(0.99 1)" text-anchor="end">63</text><text transform="translate(107.93 393.00) rotate(-90) scale(0.99 1)" text-anchor="end">70</text><text transform="translate(116.03 393.00) rotate(-90) scale(0.99 1)" text-anchor="end">77</text><text transform="translate(124.12 393.00) rotate(-90) scale(0.99 1)" text-anchor="end">84</text><text transform="translate(132.22 393.00) rotate(-90) scale(0.99 1)" text-anchor="end">91</text><text transform="translate(140.32 393.00) rotate(-90) scale(0.99 1)" text-anchor="end">98</text><text transform="translate(148.41 393.00) rotate(-90) scale(0.99 1)" text-anchor="end">105</text><text transform="translate(156.51 393.00) rotate(-90) scale(0.99 1)" text-anchor="end">112</text><text transform="translate(164.61 393.00) rotate(-90) scale(0.99 1)" text-anchor="end">119</text><text transform="translate(172.70 393.00) rotate(-90) scale(0.99 1)" text-anchor="end">126</text><text transform="translate(180.80 393.00) rotate(-90) scale(0.99 1)" text-anchor="end">133</text><text transform="translate(188.90 393.00) rotate(-90) scale(0.99 1)" text-anchor="end">140</text><text transform="translate(196.99 393.00) rotate(-90) scale(0.99 1)" text-anchor="end">147</text><text transform="translate(205.09 393.00) rotate(-90) scale(0.99 1)" text-anchor="end">154</text><text transform="translate(213.19 393.00) rotate(-90) scale(0.99 1)" text-anchor="end">161</text><text transform="translate(221.28 393.00) rotate(-90) scale(0.99 1)" text-anchor="end">168</text><text transform="translate(229.38 393.00) rotate(-90) scale(0.99 1)" text-anchor="end">175</text><text transform="translate(259.70 387.98) scale(0.91 1)">0.0</text><text transform="translate(259.70 354.22) scale(0.91 1)">0.2</text><text transform="translate(259.70 320.46) scale(0.91 1)">0.4</text><text transform="translate(259.70 286.70) scale(0.91 1)">0.6</text><text transform="translate(259.70 252.94) scale(0.91 1)">0.8</text><text transform="translate(259.70 219.18) scale(0.91 1)">1.0</text></g>
<rect x="245.60" y="215.40" width="8.60" height="168.40" fill="url(#rk)"/>
</g>
<g id="panel-d">
<rect x="313.80" y="216.00" width="190.20" height="178.80" fill="#03051a"/>
<path fill="#f7cdb1" d="M313.76 215.96h1.06v1.00h-1.06zM319.64 221.49h1.06v1.00h-1.06zM320.62 222.41h1.06v1.00h-1.06zM325.52 227.02h1.06v1.00h-1.06zM326.51 227.94h1.06v1.00h-1.06zM329.45 230.71h1.06v1.00h-1.06zM330.43 231.63h1.06v1.00h-1.06zM333.37 234.39h1.06v1.00h-1.06zM337.29 238.08h1.06v1.00h-1.06zM338.27 239.00h1.06v1.00h-1.06zM340.23 240.84h1.06v1.00h-1.06zM343.17 243.61h1.06v1.00h-1.06zM347.09 247.30h1.06v1.00h-1.06zM351.02 250.98h1.06v1.00h-1.06zM356.90 256.51h1.06v1.00h-1.06zM362.78 262.04h1.06v1.00h-1.06zM363.76 262.96h1.06v1.00h-1.06zM367.68 266.65h1.06v1.00h-1.06zM403.96 300.75h1.06v1.00h-1.06zM405.92 302.60h1.06v1.00h-1.06zM407.88 304.44h1.06v1.00h-1.06zM420.62 316.42h1.06v1.00h-1.06zM421.61 317.34h1.06v1.00h-1.06zM426.51 321.95h1.06v1.00h-1.06zM440.23 334.85h1.06v1.00h-1.06zM443.17 337.62h1.06v1.00h-1.06zM450.04 344.07h1.06v1.00h-1.06zM453.96 347.76h1.06v1.00h-1.06zM351.02 320.11h1.06v1.00h-1.06zM363.76 334.85h1.06v1.00h-1.06zM377.49 348.68h1.06v1.00h-1.06zM397.10 365.27h1.06v1.00h-1.06zM406.90 375.41h1.06v1.00h-1.06zM408.86 378.17h1.06v1.00h-1.06zM412.78 380.01h1.06v1.00h-1.06zM418.66 385.54h1.06v1.00h-1.06zM410.82 376.33h1.06v1.00h-1.06zM420.62 387.39h1.06v1.00h-1.06zM422.59 390.15h1.06v1.00h-1.06zM425.53 392.00h1.06v1.00h-1.06z"/>
<path fill="#f8dcc7" d="M314.74 216.88h1.06v1.00h-1.06zM316.70 218.72h1.06v1.00h-1.06zM321.60 223.33h1.06v1.00h-1.06zM324.54 226.10h1.06v1.00h-1.06zM332.39 233.47h1.06v1.00h-1.06zM335.33 236.24h1.06v1.00h-1.06zM336.31 237.16h1.06v1.00h-1.06zM339.25 239.92h1.06v1.00h-1.06zM342.19 242.69h1.06v1.00h-1.06zM353.96 253.75h1.06v1.00h-1.06zM354.94 254.67h1.06v1.00h-1.06zM357.88 257.43h1.06v1.00h-1.06zM358.86 258.36h1.06v1.00h-1.06zM359.84 259.28h1.06v1.00h-1.06zM368.66 267.57h1.06v1.00h-1.06zM369.64 268.49h1.06v1.00h-1.06zM370.62 269.42h1.06v1.00h-1.06zM372.58 271.26h1.06v1.00h-1.06zM373.57 272.18h1.06v1.00h-1.06zM411.80 308.12h1.06v1.00h-1.06zM417.68 313.65h1.06v1.00h-1.06zM432.39 327.48h1.06v1.00h-1.06zM433.37 328.40h1.06v1.00h-1.06zM439.25 333.93h1.06v1.00h-1.06zM442.19 336.70h1.06v1.00h-1.06zM445.14 339.46h1.06v1.00h-1.06zM446.12 340.38h1.06v1.00h-1.06zM447.10 342.23h1.06v1.00h-1.06zM490.23 381.86h1.06v1.00h-1.06zM500.04 391.07h1.06v1.00h-1.06zM416.70 383.70h1.06v1.00h-1.06z"/>
<path fill="#faebdd" d="M317.68 219.65h1.06v1.00h-1.06zM318.66 220.57h1.06v1.00h-1.06zM327.49 228.86h1.06v1.00h-1.06zM341.21 241.77h1.06v1.00h-1.06zM344.15 244.53h1.06v1.00h-1.06zM345.13 245.45h1.06v1.00h-1.06zM348.07 248.22h1.06v1.00h-1.06zM352.98 252.83h1.06v1.00h-1.06zM360.82 260.20h1.06v1.00h-1.06zM365.72 264.81h1.06v1.00h-1.06zM366.70 265.73h1.06v1.00h-1.06zM371.60 270.34h1.06v1.00h-1.06zM374.55 273.10h1.06v1.00h-1.06zM374.55 274.95h1.06v1.00h-1.06zM374.55 275.87h1.06v1.00h-1.06zM392.19 291.54h1.06v1.00h-1.06zM393.17 292.46h1.06v1.00h-1.06zM401.02 297.99h1.06v1.00h-1.06zM404.94 301.67h1.06v1.00h-1.06zM406.90 303.52h1.06v1.00h-1.06zM408.86 305.36h1.06v1.00h-1.06zM409.84 306.28h1.06v1.00h-1.06zM416.70 312.73h1.06v1.00h-1.06zM435.33 330.24h1.06v1.00h-1.06zM449.06 343.15h1.06v1.00h-1.06zM443.17 337.62h1.06v1.00h-1.06zM444.15 338.54h1.06v1.00h-1.06zM446.12 340.38h1.06v1.00h-1.06zM374.55 345.91h1.06v1.00h-1.06zM395.13 362.50h1.06v1.00h-1.06z"/>
<path fill="#f47a54" d="M374.59 277.75h0.98v0.92h-0.98zM472.63 366.23h0.98v0.92h-0.98zM475.57 370.84h0.98v0.92h-0.98zM487.33 383.74h0.98v0.92h-0.98z"/>
<path fill="#e83f3f" d="M383.41 282.36h0.98v0.92h-0.98zM402.04 298.95h0.98v0.92h-0.98zM458.90 353.33h0.98v0.92h-0.98zM477.53 370.84h0.98v0.92h-0.98zM321.64 282.36h0.98v0.92h-0.98zM392.23 376.37h0.98v0.92h-0.98zM411.84 380.98h0.98v0.92h-0.98zM390.27 326.60h0.98v0.92h-0.98z"/>
<path fill="#c21753" d="M388.31 287.89h0.98v0.92h-0.98zM453.02 346.87h0.98v0.92h-0.98zM462.82 357.01h0.98v0.92h-0.98zM484.39 379.13h0.98v0.92h-0.98zM487.33 380.98h0.98v0.92h-0.98zM319.68 226.14h0.98v0.92h-0.98zM321.64 280.52h0.98v0.92h-0.98zM401.06 372.68h0.98v0.92h-0.98z"/>
<path fill="#f69c73" d="M397.10 295.22h1.06v1.00h-1.06zM400.04 298.91h1.06v1.00h-1.06zM497.10 388.31h1.06v1.00h-1.06zM352.00 321.95h1.06v1.00h-1.06zM357.88 328.40h1.06v1.00h-1.06zM365.72 337.62h1.06v1.00h-1.06zM371.60 344.07h1.06v1.00h-1.06zM373.57 350.52h1.06v1.00h-1.06zM390.23 360.66h1.06v1.00h-1.06zM392.19 363.42h1.06v1.00h-1.06z"/>
<path fill="#de2e44" d="M403.02 299.87h0.98v0.92h-0.98zM452.04 345.95h0.98v0.92h-0.98zM400.08 370.84h0.98v0.92h-0.98z"/>
<path fill="#b21758" d="M428.51 323.83h0.98v0.92h-0.98zM430.47 325.68h0.98v0.92h-0.98zM462.82 356.09h0.98v0.92h-0.98zM485.37 380.05h0.98v0.92h-0.98zM320.66 226.14h0.98v0.92h-0.98zM319.68 275.91h0.98v0.92h-0.98zM401.06 373.60h0.98v0.92h-0.98zM386.35 352.40h0.98v0.92h-0.98zM386.35 357.01h0.98v0.92h-0.98z"/>
<path fill="#d2204c" d="M447.14 341.34h0.98v0.92h-0.98z"/>
<path fill="#a11a5b" d="M448.12 342.27h0.98v0.92h-0.98zM386.35 351.48h0.98v0.92h-0.98zM386.35 355.17h0.98v0.92h-0.98zM389.29 326.60h0.98v0.92h-0.98z"/>
<path fill="#f6be9b" d="M474.55 369.88h1.06v1.00h-1.06zM490.23 382.78h1.06v1.00h-1.06zM501.02 392.00h1.06v1.00h-1.06zM361.80 332.09h1.06v1.00h-1.06zM397.10 369.88h1.06v1.00h-1.06z"/>
<path fill="#5c1e51" d="M318.70 272.22h0.98v0.92h-0.98zM385.37 348.72h0.98v0.92h-0.98zM386.35 349.64h0.98v0.92h-0.98zM385.37 355.17h0.98v0.92h-0.98zM386.35 356.09h0.98v0.92h-0.98zM388.31 299.87h0.98v0.92h-0.98z"/>
<path fill="#ee523f" d="M321.64 281.44h0.98v0.92h-0.98z"/>
<path fill="#2d1738" d="M321.64 283.28h0.98v0.92h-0.98zM321.64 291.58h0.98v0.92h-0.98zM321.64 293.42h0.98v0.92h-0.98zM321.64 294.34h0.98v0.92h-0.98zM321.64 296.18h0.98v0.92h-0.98zM386.35 284.20h0.98v0.92h-0.98zM386.35 285.12h0.98v0.92h-0.98zM386.35 286.97h0.98v0.92h-0.98zM386.35 288.81h0.98v0.92h-0.98zM386.35 289.73h0.98v0.92h-0.98zM386.35 292.50h0.98v0.92h-0.98zM386.35 295.26h0.98v0.92h-0.98zM387.33 351.48h0.98v0.92h-0.98zM430.47 347.80h0.98v0.92h-0.98zM430.47 348.72h0.98v0.92h-0.98zM430.47 355.17h0.98v0.92h-0.98zM430.47 359.78h0.98v0.92h-0.98zM430.47 364.39h0.98v0.92h-0.98zM458.90 366.23h0.98v0.92h-0.98zM461.84 366.23h0.98v0.92h-0.98zM456.94 369.92h0.98v0.92h-0.98zM464.78 369.92h0.98v0.92h-0.98zM460.86 372.68h0.98v0.92h-0.98zM467.72 372.68h0.98v0.92h-0.98zM472.63 372.68h0.98v0.92h-0.98z"/>
<path fill="#1e122d" d="M321.64 284.20h0.98v0.92h-0.98zM321.64 285.12h0.98v0.92h-0.98zM321.64 286.05h0.98v0.92h-0.98zM321.64 286.97h0.98v0.92h-0.98zM321.64 287.89h0.98v0.92h-0.98zM321.64 288.81h0.98v0.92h-0.98zM321.64 289.73h0.98v0.92h-0.98zM321.64 290.65h0.98v0.92h-0.98zM321.64 292.50h0.98v0.92h-0.98zM321.64 295.26h0.98v0.92h-0.98zM321.64 297.11h0.98v0.92h-0.98zM386.35 282.36h0.98v0.92h-0.98zM387.33 282.36h0.98v0.92h-0.98zM386.35 283.28h0.98v0.92h-0.98zM387.33 283.28h0.98v0.92h-0.98zM387.33 285.12h0.98v0.92h-0.98zM386.35 286.05h0.98v0.92h-0.98zM387.33 286.05h0.98v0.92h-0.98zM386.35 287.89h0.98v0.92h-0.98zM387.33 287.89h0.98v0.92h-0.98zM387.33 289.73h0.98v0.92h-0.98zM386.35 290.65h0.98v0.92h-0.98zM387.33 290.65h0.98v0.92h-0.98zM386.35 291.58h0.98v0.92h-0.98zM387.33 291.58h0.98v0.92h-0.98zM387.33 292.50h0.98v0.92h-0.98zM386.35 293.42h0.98v0.92h-0.98zM387.33 293.42h0.98v0.92h-0.98zM386.35 294.34h0.98v0.92h-0.98zM387.33 294.34h0.98v0.92h-0.98zM387.33 295.26h0.98v0.92h-0.98zM386.35 296.18h0.98v0.92h-0.98zM387.33 296.18h0.98v0.92h-0.98zM386.35 297.11h0.98v0.92h-0.98zM387.33 297.11h0.98v0.92h-0.98zM430.47 349.64h0.98v0.92h-0.98zM430.47 350.56h0.98v0.92h-0.98zM430.47 351.48h0.98v0.92h-0.98zM430.47 352.40h0.98v0.92h-0.98zM430.47 353.33h0.98v0.92h-0.98zM430.47 354.25h0.98v0.92h-0.98zM430.47 356.09h0.98v0.92h-0.98zM430.47 357.01h0.98v0.92h-0.98zM430.47 357.93h0.98v0.92h-0.98zM430.47 358.86h0.98v0.92h-0.98zM430.47 360.70h0.98v0.92h-0.98zM430.47 361.62h0.98v0.92h-0.98zM430.47 362.54h0.98v0.92h-0.98zM430.47 363.46h0.98v0.92h-0.98zM430.47 365.31h0.98v0.92h-0.98zM456.94 366.23h0.98v0.92h-0.98zM459.88 366.23h0.98v0.92h-0.98zM462.82 366.23h0.98v0.92h-0.98zM464.78 366.23h0.98v0.92h-0.98zM465.76 366.23h0.98v0.92h-0.98zM466.74 366.23h0.98v0.92h-0.98zM471.65 366.23h0.98v0.92h-0.98zM472.63 366.23h0.98v0.92h-0.98zM460.86 369.92h0.98v0.92h-0.98zM465.76 369.92h0.98v0.92h-0.98zM468.71 369.92h0.98v0.92h-0.98zM472.63 369.92h0.98v0.92h-0.98zM473.61 369.92h0.98v0.92h-0.98zM456.94 372.68h0.98v0.92h-0.98zM458.90 372.68h0.98v0.92h-0.98zM461.84 372.68h0.98v0.92h-0.98zM469.69 372.68h0.98v0.92h-0.98zM470.67 372.68h0.98v0.92h-0.98zM459.88 376.37h0.98v0.92h-0.98zM460.86 376.37h0.98v0.92h-0.98zM467.72 376.37h0.98v0.92h-0.98zM469.69 376.37h0.98v0.92h-0.98zM472.63 376.37h0.98v0.92h-0.98z"/>
<path fill="#100b23" d="M387.33 284.20h0.98v0.92h-0.98zM387.33 286.97h0.98v0.92h-0.98zM387.33 288.81h0.98v0.92h-0.98zM463.80 366.23h0.98v0.92h-0.98zM468.71 366.23h0.98v0.92h-0.98zM457.92 369.92h0.98v0.92h-0.98zM459.88 369.92h0.98v0.92h-0.98zM457.92 372.68h0.98v0.92h-0.98zM457.92 376.37h0.98v0.92h-0.98zM466.74 376.37h0.98v0.92h-0.98z"/>
<path fill="#7d1f5a" d="M387.33 345.95h0.98v0.92h-0.98zM385.37 354.25h0.98v0.92h-0.98zM386.35 354.25h0.98v0.92h-0.98zM386.35 358.86h0.98v0.92h-0.98zM389.29 299.87h0.98v0.92h-0.98z"/>
<path fill="#4c1d4b" d="M386.35 348.72h0.98v0.92h-0.98zM385.37 352.40h0.98v0.92h-0.98zM386.35 357.93h0.98v0.92h-0.98zM317.72 380.98h0.98v0.92h-0.98z"/>
<path fill="#6d1f56" d="M385.37 349.64h0.98v0.92h-0.98zM386.35 353.33h0.98v0.92h-0.98zM387.33 353.33h0.98v0.92h-0.98zM385.37 356.09h0.98v0.92h-0.98zM385.37 357.01h0.98v0.92h-0.98zM387.33 357.01h0.98v0.92h-0.98zM385.37 358.86h0.98v0.92h-0.98z"/>
<path fill="#901d5b" d="M385.37 350.56h0.98v0.92h-0.98zM386.35 350.56h0.98v0.92h-0.98zM385.37 351.48h0.98v0.92h-0.98z"/>
<path fill="#3c1a42" d="M387.33 352.40h0.98v0.92h-0.98z"/>
<path d="M311.50 216.90h2.30M311.50 225.13h2.30M311.50 233.37h2.30M311.50 241.60h2.30M311.50 249.83h2.30M311.50 258.07h2.30M311.50 266.30h2.30M311.50 274.53h2.30M311.50 282.77h2.30M311.50 291.00h2.30M311.50 299.23h2.30M311.50 307.47h2.30M311.50 315.70h2.30M311.50 323.93h2.30M311.50 332.16h2.30M311.50 340.40h2.30M311.50 348.63h2.30M311.50 356.86h2.30M311.50 365.10h2.30M311.50 373.33h2.30M311.50 381.56h2.30M311.50 389.80h2.30M314.29 394.80v2.30M322.13 394.80v2.30M329.98 394.80v2.30M337.82 394.80v2.30M345.66 394.80v2.30M353.51 394.80v2.30M361.35 394.80v2.30M369.19 394.80v2.30M377.04 394.80v2.30M384.88 394.80v2.30M392.72 394.80v2.30M400.57 394.80v2.30M408.41 394.80v2.30M416.25 394.80v2.30M424.10 394.80v2.30M431.94 394.80v2.30M439.78 394.80v2.30M447.63 394.80v2.30M455.47 394.80v2.30M463.31 394.80v2.30M471.16 394.80v2.30M479.00 394.80v2.30M486.84 394.80v2.30M494.69 394.80v2.30M502.53 394.80v2.30M524.20 394.80h2.30M524.20 359.04h2.30M524.20 323.28h2.30M524.20 287.52h2.30M524.20 251.76h2.30M524.20 216.00h2.30" stroke="#222" stroke-width="0.6" fill="none"/>
<g font-family="DejaVu Sans, sans-serif" font-size="7.90" fill="#111" stroke="#111" stroke-width="0.15"><text transform="translate(309.30 220.58) scale(0.91 1)" text-anchor="end">0</text><text transform="translate(309.30 228.82) scale(0.91 1)" text-anchor="end">9</text><text transform="translate(309.30 237.05) scale(0.91 1)" text-anchor="end">18</text><text transform="translate(309.30 245.28) scale(0.91 1)" text-anchor="end">27</text><text transform="translate(309.30 253.52) scale(0.91 1)" text-anchor="end">36</text><text transform="translate(309.30 261.75) scale(0.91 1)" text-anchor="end">45</text><text transform="translate(309.30 269.98) scale(0.91 1)" text-anchor="end">54</text><text transform="translate(309.30 278.22) scale(0.91 1)" text-anchor="end">63</text><text transform="translate(309.30 286.45) scale(0.91 1)" text-anchor="end">72</text><text transform="translate(309.30 294.68) scale(0.91 1)" text-anchor="end">81</text><text transform="translate(309.30 302.92) scale(0.91 1)" text-anchor="end">90</text><text transform="translate(309.30 311.15) scale(0.91 1)" text-anchor="end">99</text><text transform="translate(309.30 319.38) scale(0.91 1)" text-anchor="end">108</text><text transform="translate(309.30 327.62) scale(0.91 1)" text-anchor="end">117</text><text transform="translate(309.30 335.85) scale(0.91 1)" text-anchor="end">126</text><text transform="translate(309.30 344.08) scale(0.91 1)" text-anchor="end">135</text><text transform="translate(309.30 352.31) scale(0.91 1)" text-anchor="end">144</text><text transform="translate(309.30 360.55) scale(0.91 1)" text-anchor="end">153</text><text transform="translate(309.30 368.78) scale(0.91 1)" text-anchor="end">162</text><text transform="translate(309.30 377.01) scale(0.91 1)" text-anchor="end">171</text><text transform="translate(309.30 385.25) scale(0.91 1)" text-anchor="end">180</text><text transform="translate(309.30 393.48) scale(0.91 1)" text-anchor="end">189</text><text transform="translate(317.37 402.70) rotate(-90) scale(1.00 1)" text-anchor="end">0</text><text transform="translate(325.22 402.70) rotate(-90) scale(1.00 1)" text-anchor="end">8</text><text transform="translate(333.06 402.70) rotate(-90) scale(1.00 1)" text-anchor="end">16</text><text transform="translate(340.90 402.70) rotate(-90) scale(1.00 1)" text-anchor="end">24</text><text transform="translate(348.75 402.70) rotate(-90) scale(1.00 1)" text-anchor="end">32</text><text transform="translate(356.59 402.70) rotate(-90) scale(1.00 1)" text-anchor="end">40</text><text transform="translate(364.43 402.70) rotate(-90) scale(1.00 1)" text-anchor="end">48</text><text transform="translate(372.28 402.70) rotate(-90) scale(1.00 1)" text-anchor="end">56</text><text transform="translate(380.12 402.70) rotate(-90) scale(1.00 1)" text-anchor="end">64</text><text transform="translate(387.96 402.70) rotate(-90) scale(1.00 1)" text-anchor="end">72</text><text transform="translate(395.81 402.70) rotate(-90) scale(1.00 1)" text-anchor="end">80</text><text transform="translate(403.65 402.70) rotate(-90) scale(1.00 1)" text-anchor="end">88</text><text transform="translate(411.49 402.70) rotate(-90) scale(1.00 1)" text-anchor="end">96</text><text transform="translate(419.34 402.70) rotate(-90) scale(1.00 1)" text-anchor="end">104</text><text transform="translate(427.18 402.70) rotate(-90) scale(1.00 1)" text-anchor="end">112</text><text transform="translate(435.02 402.70) rotate(-90) scale(1.00 1)" text-anchor="end">120</text><text transform="translate(442.87 402.70) rotate(-90) scale(1.00 1)" text-anchor="end">128</text><text transform="translate(450.71 402.70) rotate(-90) scale(1.00 1)" text-anchor="end">136</text><text transform="translate(458.55 402.70) rotate(-90) scale(1.00 1)" text-anchor="end">144</text><text transform="translate(466.40 402.70) rotate(-90) scale(1.00 1)" text-anchor="end">152</text><text transform="translate(474.24 402.70) rotate(-90) scale(1.00 1)" text-anchor="end">160</text><text transform="translate(482.08 402.70) rotate(-90) scale(1.00 1)" text-anchor="end">168</text><text transform="translate(489.93 402.70) rotate(-90) scale(1.00 1)" text-anchor="end">176</text><text transform="translate(497.77 402.70) rotate(-90) scale(1.00 1)" text-anchor="end">184</text><text transform="translate(505.61 402.70) rotate(-90) scale(1.00 1)" text-anchor="end">192</text><text transform="translate(529.70 398.38) scale(0.91 1)">0.0</text><text transform="translate(529.70 362.52) scale(0.91 1)">0.2</text><text transform="translate(529.70 326.66) scale(0.91 1)">0.4</text><text transform="translate(529.70 290.80) scale(0.91 1)">0.6</text><text transform="translate(529.70 254.94) scale(0.91 1)">0.8</text><text transform="translate(529.70 219.08) scale(0.91 1)">1.0</text></g>
<rect x="516.50" y="216.00" width="7.70" height="178.80" fill="url(#rk)"/>
</g>
<text x="118.1" y="203.3" font-family="Liberation Sans, Arial, sans-serif" font-size="13" fill="#111" stroke="#111" stroke-width="0.2" text-anchor="middle">(a)</text>
<text x="394.1" y="203.3" font-family="Liberation Sans, Arial, sans-serif" font-size="13" fill="#111" stroke="#111" stroke-width="0.2" text-anchor="middle">(b)</text>
<text x="114.3" y="435.2" font-family="Liberation Sans, Arial, sans-serif" font-size="13" fill="#111" stroke="#111" stroke-width="0.2" text-anchor="middle">(c)</text>
<text x="396" y="435.2" font-family="Liberation Sans, Arial, sans-serif" font-size="13" fill="#111" stroke="#111" stroke-width="0.2" text-anchor="middle">(d)</text>
</svg></body></html>
